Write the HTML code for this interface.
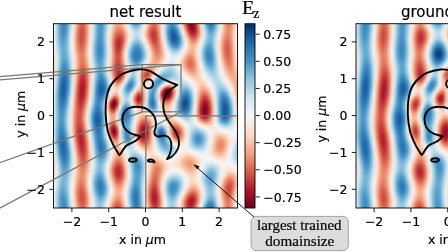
<!DOCTYPE html>
<html><head><meta charset="utf-8">
<style>
html,body{margin:0;padding:0;background:#fff;}
body{width:448px;height:252px;position:relative;overflow:hidden;}
.fld{position:absolute;overflow:hidden;top:23.7px;height:184.3px;}
.fld div{position:absolute;left:0;right:0;height:1px;}
.fl{left:53.5px;width:184px;}
.fr{left:356px;width:92px;}
.cb{position:absolute;left:245px;width:10px;top:23.7px;height:184.3px;
background:linear-gradient(180deg,#053061 0%,#2065ab 10%,#4393c3 20%,#90c4dd 30%,#d1e5f0 40%,#f6f7f7 50%,#fddbc7 60%,#f3a481 70%,#d6604d 80%,#b1182b 90%,#67001f 100%);}
svg{position:absolute;left:0;top:0;}
text{font-family:"DejaVu Sans","Liberation Sans",sans-serif;fill:#000;stroke:#000;stroke-width:0.18px;}
.tk{font-size:12.5px;}
.serif{font-family:"Liberation Serif","DejaVu Serif",serif;}
</style></head><body>
<div class="fld fl"><div style="top:0px;background:linear-gradient(90deg,#f8f2ef 0px,#b6d7e8 3px,#5ca3cb 6px,#3a87bd 9px,#408fc1 12px,#8ac0db 15px,#deebf2 18px,#fddcc9 21px,#ec9374 24px,#d7634f 27px,#da6853 30px,#f2a17f 33px,#fbe4d6 36px,#d7e8f1 39px,#87beda 42px,#4997c5 45px,#4997c5 48px,#81bad8 51px,#d1e5f0 54px,#f9eee7 57px,#f9c4a9 60px,#f3a481 63px,#f4a683 66px,#f9c6ac 69px,#f9efe9 72px,#cfe4ef 75px,#84bcd9 78px,#529dc8 81px,#5ca3cb 84px,#9bc9e0 87px,#e1edf3 90px,#fcdecd 93px,#f19e7d 96px,#dd7059 99px,#e17860 102px,#f6af8e 105px,#fae9df 108px,#cce2ef 111px,#75b2d4 114px,#408fc1 117px,#4695c4 120px,#90c4dd 123px,#e6eff4 126px,#f9c2a7 129px,#cf5246 132px,#960f27 135px,#810823 138px,#b3192c 141px,#e58368 144px,#fae8de 147px,#b6d7e8 150px,#4997c5 153px,#2e77b5 156px,#3480b9 159px,#75b2d4 162px,#d7e8f1 165px,#fce2d2 168px,#f3a481 171px,#e27b62 174px,#e6866a 177px,#f8bb9e 180px,#f9efe9 183px,#cfe4ef 186px)"></div><div style="top:1px;background:linear-gradient(90deg,#f8f3f0 0px,#b3d6e8 3px,#59a1ca 6px,#3885bc 9px,#408fc1 12px,#8ac0db 15px,#e0ecf3 18px,#fddbc7 21px,#eb9172 24px,#d6604d 27px,#d86551 30px,#f19e7d 33px,#fbe3d4 36px,#d7e8f1 39px,#87beda 42px,#4997c5 45px,#4997c5 48px,#81bad8 51px,#d2e6f0 54px,#f9ebe3 57px,#f8bfa4 60px,#f19e7d 63px,#f19e7d 66px,#f8bda1 69px,#fae9df 72px,#d8e9f1 75px,#96c7df 78px,#65a9cf 81px,#6eaed2 84px,#a7d0e4 87px,#e9f0f4 90px,#fdd9c4 93px,#ec9374 96px,#da6853 99px,#de735c 102px,#f5ac8b 105px,#fae9df 108px,#cae1ee 111px,#6eaed2 114px,#3c8abe 117px,#3f8ec0 120px,#81bad8 123px,#e0ecf3 126px,#facab1 129px,#d35a4a 132px,#991027 135px,#7f0823 138px,#ae172a 141px,#e27b62 144px,#fbe4d6 147px,#c0dceb 150px,#529dc8 153px,#327cb7 156px,#3885bc 159px,#7bb6d6 162px,#d8e9f1 165px,#fce2d2 168px,#f4a683 171px,#e37e64 174px,#e98b6e 177px,#f8bda1 180px,#f9f0eb 183px,#cce2ef 186px)"></div><div style="top:2px;background:linear-gradient(90deg,#f8f4f2 0px,#b1d5e7 3px,#59a1ca 6px,#3885bc 9px,#408fc1 12px,#8dc2dc 15px,#e1edf3 18px,#fdd9c4 21px,#e98b6e 24px,#d35a4a 27px,#d7634f 30px,#f09c7b 33px,#fbe3d4 36px,#d8e9f1 39px,#87beda 42px,#4997c5 45px,#4997c5 48px,#84bcd9 51px,#d4e6f1 54px,#faeae1 57px,#f8bb9e 60px,#ef9979 63px,#ee9677 66px,#f7b596 69px,#fbe4d6 72px,#e1edf3 75px,#a5cee3 78px,#78b4d5 81px,#81bad8 84px,#b3d6e8 87px,#f0f4f6 90px,#fbceb7 93px,#e98b6e 96px,#d6604d 99px,#db6b55 102px,#f5aa89 105px,#fae9df 108px,#c7e0ed 111px,#68abd0 114px,#3885bc 117px,#3a87bd 120px,#75b2d4 123px,#d8e9f1 126px,#fcd3bc 129px,#d7634f 132px,#9f1228 135px,#7f0823 138px,#ab162a 141px,#de735c 144px,#fce0d0 147px,#cae1ee 150px,#5fa5cd 153px,#3783bb 156px,#3c8abe 159px,#81bad8 162px,#dae9f2 165px,#fce2d2 168px,#f4a683 171px,#e48066 174px,#ea8e70 177px,#f9c2a7 180px,#f8f1ed 183px,#cae1ee 186px)"></div><div style="top:3px;background:linear-gradient(90deg,#f7f5f4 0px,#b1d5e7 3px,#569fc9 6px,#3885bc 9px,#4291c2 12px,#90c4dd 15px,#e3edf3 18px,#fcd7c2 21px,#e8896c 24px,#d25849 27px,#d6604d 30px,#f09c7b 33px,#fce2d2 36px,#d8e9f1 39px,#87beda 42px,#4997c5 45px,#4997c5 48px,#87beda 51px,#d5e7f1 54px,#fae8de 57px,#f7b799 60px,#ec9374 63px,#eb9172 66px,#f6af8e 69px,#fcdecd 72px,#e9f0f4 75px,#b3d6e8 78px,#8ac0db 81px,#90c4dd 84px,#c2ddec 87px,#f6f7f7 90px,#f9c6ac 93px,#e48066 96px,#d25849 99px,#d86551 102px,#f4a683 105px,#fae9df 108px,#c5dfec 111px,#62a7ce 114px,#337eb8 117px,#3480b9 120px,#65a9cf 123px,#d2e6f0 126px,#fddcc9 129px,#db6b55 132px,#a51429 135px,#810823 138px,#a81529 141px,#dc6e57 144px,#fdddcb 147px,#d1e5f0 150px,#6bacd1 153px,#3b88be 156px,#408fc1 159px,#87beda 162px,#dbeaf2 165px,#fce0d0 168px,#f5a886 171px,#e58368 174px,#eb9172 177px,#f9c4a9 180px,#f8f3f0 183px,#c7e0ed 186px)"></div><div style="top:4px;background:linear-gradient(90deg,#f7f6f6 0px,#aed3e6 3px,#569fc9 6px,#3885bc 9px,#4291c2 12px,#90c4dd 15px,#e4eef4 18px,#fcd3bc 21px,#e6866a 24px,#d05548 27px,#d55d4c 30px,#ef9979 33px,#fce2d2 36px,#d8e9f1 39px,#87beda 42px,#4997c5 45px,#4c99c6 48px,#87beda 51px,#d8e9f1 54px,#fbe6da 57px,#f6b394 60px,#ea8e70 63px,#e8896c 66px,#f4a683 69px,#fdd9c4 72px,#f0f4f6 75px,#c0dceb 78px,#98c8e0 81px,#9dcbe1 84px,#cce2ef 87px,#f8f2ef 90px,#f8bfa4 93px,#e17860 96px,#cf5246 99px,#d6604d 102px,#f3a481 105px,#fae9df 108px,#c5dfec 111px,#5ca3cb 114px,#307ab6 117px,#2e77b5 120px,#569fc9 123px,#c5dfec 126px,#fce2d2 129px,#e17860 132px,#ae172a 135px,#870a24 138px,#a81529 141px,#db6b55 144px,#fdd9c4 147px,#d7e8f1 150px,#75b2d4 153px,#3f8ec0 156px,#4695c4 159px,#8dc2dc 162px,#deebf2 165px,#fcdfcf 168px,#f5a886 171px,#e6866a 174px,#ec9374 177px,#fac8af 180px,#f8f4f2 183px,#c5dfec 186px)"></div><div style="top:5px;background:linear-gradient(90deg,#f6f7f7 0px,#aed3e6 3px,#569fc9 6px,#3a87bd 9px,#4393c3 12px,#93c6de 15px,#e6eff4 18px,#fbd0b9 21px,#e58368 24px,#cf5246 27px,#d35a4a 30px,#ef9979 33px,#fce2d2 36px,#d8e9f1 39px,#87beda 42px,#4997c5 45px,#4c99c6 48px,#8ac0db 51px,#dae9f2 54px,#fbe4d6 57px,#f6af8e 60px,#e6866a 63px,#e48066 66px,#f09c7b 69px,#fbceb7 72px,#f7f6f6 75px,#cce2ef 78px,#a5cee3 81px,#a9d1e5 84px,#d4e6f1 87px,#f9efe9 90px,#f7b799 93px,#dd7059 96px,#cb4942 99px,#d35a4a 102px,#f19e7d 105px,#fae8de 108px,#c2ddec 111px,#569fc9 114px,#2c75b4 117px,#2a71b2 120px,#4695c4 123px,#b8d8e9 126px,#fae7dc 129px,#e58368 132px,#b61f2e 135px,#8d0c25 138px,#a81529 141px,#da6853 144px,#fcd5bf 147px,#dae9f2 150px,#81bad8 153px,#4695c4 156px,#4f9bc7 159px,#96c7df 162px,#e1edf3 165px,#fcdecd 168px,#f4a683 171px,#e6866a 174px,#ee9677 177px,#facab1 180px,#f7f5f4 183px,#c2ddec 186px)"></div><div style="top:6px;background:linear-gradient(90deg,#f6f7f7 0px,#acd2e5 3px,#569fc9 6px,#3a87bd 9px,#4695c4 12px,#98c8e0 15px,#e9f0f4 18px,#fbceb7 21px,#e37e64 24px,#ce4f45 27px,#d35a4a 30px,#ee9677 33px,#fce2d2 36px,#d8e9f1 39px,#84bcd9 42px,#4997c5 45px,#4c99c6 48px,#8dc2dc 51px,#dbeaf2 54px,#fce2d2 57px,#f5aa89 60px,#e48066 63px,#e17860 66px,#eb9172 69px,#f9c6ac 72px,#f8f2ef 75px,#d4e6f1 78px,#aed3e6 81px,#b1d5e7 84px,#dae9f2 87px,#f9ebe3 90px,#f6b191 93px,#da6853 96px,#c84440 99px,#d05548 102px,#f09c7b 105px,#fae7dc 108px,#c2ddec 111px,#529dc8 114px,#2870b1 117px,#246aae 120px,#3f8ec0 123px,#acd2e5 126px,#f9eee7 129px,#eb9172 132px,#bb2a34 135px,#960f27 138px,#ab162a 141px,#d86551 144px,#fcd3bc 147px,#deebf2 150px,#87beda 153px,#4f9bc7 156px,#59a1ca 159px,#9dcbe1 162px,#e4eef4 165px,#fdddcb 168px,#f3a481 171px,#e6866a 174px,#ef9979 177px,#fbccb4 180px,#f7f6f6 183px,#c0dceb 186px)"></div><div style="top:7px;background:linear-gradient(90deg,#f5f6f7 0px,#acd2e5 3px,#569fc9 6px,#3b88be 9px,#4997c5 12px,#9bc9e0 15px,#eaf1f5 18px,#fbccb4 21px,#e27b62 24px,#cc4c44 27px,#d25849 30px,#ee9677 33px,#fce2d2 36px,#d7e8f1 39px,#84bcd9 42px,#4997c5 45px,#4f9bc7 48px,#90c4dd 51px,#deebf2 54px,#fcdfcf 57px,#f3a481 60px,#e17860 63px,#dd7059 66px,#e8896c 69px,#f8bda1 72px,#f9eee7 75px,#dae9f2 78px,#b6d7e8 81px,#b8d8e9 84px,#ddebf2 87px,#fae8de 90px,#f5ac8b 93px,#d7634f 96px,#c53e3d 99px,#ce4f45 102px,#ef9979 105px,#fbe6da 108px,#c5dfec 111px,#4f9bc7 114px,#266caf 117px,#2065ab 120px,#3885bc 123px,#9dcbe1 126px,#f8f3f0 129px,#f2a17f 132px,#c2383a 135px,#9f1228 138px,#b1182b 141px,#da6853 144px,#fbd0b9 147px,#e0ecf3 150px,#90c4dd 153px,#569fc9 156px,#62a7ce 159px,#a2cde3 162px,#e7f0f4 165px,#fddbc7 168px,#f3a481 171px,#e6866a 174px,#ef9979 177px,#fbceb7 180px,#f6f7f7 183px,#bddbea 186px)"></div><div style="top:8px;background:linear-gradient(90deg,#f5f6f7 0px,#acd2e5 3px,#59a1ca 6px,#3b88be 9px,#4c99c6 12px,#9dcbe1 15px,#ecf2f5 18px,#fac8af 21px,#e17860 24px,#cc4c44 27px,#d25849 30px,#ee9677 33px,#fce2d2 36px,#d7e8f1 39px,#84bcd9 42px,#4997c5 45px,#4f9bc7 48px,#93c6de 51px,#e0ecf3 54px,#fdddcb 57px,#f19e7d 60px,#dd7059 63px,#da6853 66px,#e48066 69px,#f7b799 72px,#faeae1 75px,#ddebf2 78px,#bddbea 81px,#bddbea 84px,#e0ecf3 87px,#fae7dc 90px,#f5aa89 93px,#d6604d 96px,#c2383a 99px,#cc4c44 102px,#ec9374 105px,#fbe5d8 108px,#c5dfec 111px,#4f9bc7 114px,#246aae 117px,#1d5fa2 120px,#337eb8 123px,#90c4dd 126px,#f3f5f6 129px,#f6af8e 132px,#c94741 135px,#ab162a 138px,#b61f2e 141px,#db6b55 144px,#fbd0b9 147px,#e3edf3 150px,#96c7df 153px,#5fa5cd 156px,#68abd0 159px,#a9d1e5 162px,#ecf2f5 165px,#fcd7c2 168px,#f19e7d 171px,#e58368 174px,#f09c7b 177px,#fbceb7 180px,#f5f6f7 183px,#bbdaea 186px)"></div><div style="top:9px;background:linear-gradient(90deg,#f3f5f6 0px,#acd2e5 3px,#59a1ca 6px,#3c8abe 9px,#4f9bc7 12px,#a0cce2 15px,#edf2f5 18px,#f9c6ac 21px,#df765e 24px,#cb4942 27px,#d05548 30px,#ee9677 33px,#fce2d2 36px,#d7e8f1 39px,#84bcd9 42px,#4997c5 45px,#4f9bc7 48px,#93c6de 51px,#e1edf3 54px,#fddcc9 57px,#ef9979 60px,#da6853 63px,#d55d4c 66px,#e17860 69px,#f6b394 72px,#fae8de 75px,#e0ecf3 78px,#c0dceb 81px,#c0dceb 84px,#e1edf3 87px,#fbe6da 90px,#f5a886 93px,#d55d4c 96px,#c13639 99px,#cb4942 102px,#eb9172 105px,#fbe4d6 108px,#c7e0ed 111px,#4f9bc7 114px,#2267ac 117px,#1a5899 120px,#2e77b5 123px,#81bad8 126px,#eaf1f5 129px,#f7b99c 132px,#d05548 135px,#b41c2d 138px,#ba2832 141px,#dd7059 144px,#fbd0b9 147px,#e3edf3 150px,#98c8e0 153px,#65a9cf 156px,#71b0d3 159px,#b1d5e7 162px,#eff3f5 165px,#fcd3bc 168px,#f09c7b 171px,#e58368 174px,#f09c7b 177px,#fbd0b9 180px,#f3f5f6 183px,#bbdaea 186px)"></div><div style="top:10px;background:linear-gradient(90deg,#f3f5f6 0px,#acd2e5 3px,#5ca3cb 6px,#3e8cbf 9px,#529dc8 12px,#a2cde3 15px,#eff3f5 18px,#f9c4a9 21px,#df765e 24px,#cb4942 27px,#d05548 30px,#ef9979 33px,#fbe3d4 36px,#d5e7f1 39px,#81bad8 42px,#4997c5 45px,#4f9bc7 48px,#96c7df 51px,#e3edf3 54px,#fdd9c4 57px,#eb9172 60px,#d6604d 63px,#d05548 66px,#dd7059 69px,#f6af8e 72px,#fae7dc 75px,#e1edf3 78px,#c2ddec 81px,#c2ddec 84px,#e1edf3 87px,#fae7dc 90px,#f5a886 93px,#d55d4c 96px,#c13639 99px,#c84440 102px,#e98b6e 105px,#fbe3d4 108px,#cae1ee 111px,#4f9bc7 114px,#2267ac 117px,#185493 120px,#2a71b2 123px,#75b2d4 126px,#e3edf3 129px,#f9c6ac 132px,#d7634f 135px,#bb2a34 138px,#bf3338 141px,#df765e 144px,#fcd5bf 147px,#e3edf3 150px,#9bc9e0 153px,#6bacd1 156px,#78b4d5 159px,#b6d7e8 162px,#f3f5f6 165px,#fbceb7 168px,#ef9979 171px,#e48066 174px,#ef9979 177px,#fbd0b9 180px,#f3f5f6 183px,#b8d8e9 186px)"></div><div style="top:11px;background:linear-gradient(90deg,#f3f5f6 0px,#acd2e5 3px,#5ca3cb 6px,#3f8ec0 9px,#569fc9 12px,#a5cee3 15px,#f2f5f6 18px,#f9c4a9 21px,#de735c 24px,#c94741 27px,#d05548 30px,#ef9979 33px,#fbe3d4 36px,#d4e6f1 39px,#7eb8d7 42px,#4695c4 45px,#4f9bc7 48px,#96c7df 51px,#e4eef4 54px,#fcd5bf 57px,#e98b6e 60px,#d25849 63px,#cc4c44 66px,#db6b55 69px,#f5aa89 72px,#fbe6da 75px,#e1edf3 78px,#c0dceb 81px,#c0dceb 84px,#e0ecf3 87px,#fae8de 90px,#f5aa89 93px,#d55d4c 96px,#bf3338 99px,#c84440 102px,#e8896c 105px,#fce0d0 108px,#cce2ef 111px,#529dc8 114px,#2267ac 117px,#175290 120px,#266caf 123px,#68abd0 126px,#dbeaf2 129px,#fbd0b9 132px,#de735c 135px,#c2383a 138px,#c53e3d 141px,#e37e64 144px,#fcd7c2 147px,#e1edf3 150px,#9dcbe1 153px,#6eaed2 156px,#7eb8d7 159px,#bbdaea 162px,#f6f7f7 165px,#facab1 168px,#ec9374 171px,#e37e64 174px,#ef9979 177px,#fbd0b9 180px,#f2f5f6 183px,#b6d7e8 186px)"></div><div style="top:12px;background:linear-gradient(90deg,#f3f5f6 0px,#aed3e6 3px,#5fa5cd 6px,#408fc1 9px,#59a1ca 12px,#a9d1e5 15px,#f2f5f6 18px,#f9c2a7 21px,#de735c 24px,#c94741 27px,#d25849 30px,#ef9979 33px,#fbe4d6 36px,#d4e6f1 39px,#7eb8d7 42px,#4695c4 45px,#4f9bc7 48px,#96c7df 51px,#e6eff4 54px,#fcd3bc 57px,#e6866a 60px,#ce4f45 63px,#c84440 66px,#d86551 69px,#f5aa89 72px,#fbe6da 75px,#e0ecf3 78px,#bddbea 81px,#bbdaea 84px,#ddebf2 87px,#faeae1 90px,#f6af8e 93px,#d6604d 96px,#c13639 99px,#c6413e 102px,#e6866a 105px,#fcdecd 108px,#d1e5f0 111px,#569fc9 114px,#2267ac 117px,#15508d 120px,#2369ad 123px,#5ca3cb 126px,#d4e6f1 129px,#fddcc9 132px,#e48066 135px,#c94741 138px,#cb4942 141px,#e8896c 144px,#fddcc9 147px,#e0ecf3 150px,#9bc9e0 153px,#71b0d3 156px,#84bcd9 159px,#c2ddec 162px,#f8f4f2 165px,#f9c6ac 168px,#ea8e70 171px,#e27b62 174px,#ef9979 177px,#fcd3bc 180px,#f2f5f6 183px,#b6d7e8 186px)"></div><div style="top:13px;background:linear-gradient(90deg,#f3f5f6 0px,#aed3e6 3px,#62a7ce 6px,#4291c2 9px,#5ca3cb 12px,#acd2e5 15px,#f3f5f6 18px,#f8bfa4 21px,#dd7059 24px,#cb4942 27px,#d25849 30px,#f09c7b 33px,#fbe5d8 36px,#d2e6f0 39px,#7bb6d6 42px,#4393c3 45px,#4f9bc7 48px,#96c7df 51px,#e6eff4 54px,#fbd0b9 57px,#e48066 60px,#c94741 63px,#c43b3c 66px,#d6604d 69px,#f5aa89 72px,#fae8de 75px,#ddebf2 78px,#b8d8e9 81px,#b3d6e8 84px,#d8e9f1 87px,#f9eee7 90px,#f7b596 93px,#d86551 96px,#c2383a 99px,#c6413e 102px,#e58368 105px,#fdddcb 108px,#d4e6f1 111px,#5ca3cb 114px,#2369ad 117px,#15508d 120px,#2267ac 123px,#569fc9 126px,#cce2ef 129px,#fce2d2 132px,#eb9172 135px,#d05548 138px,#d25849 141px,#ec9374 144px,#fcdfcf 147px,#ddebf2 150px,#9bc9e0 153px,#71b0d3 156px,#87beda 159px,#c7e0ed 162px,#f8f2ef 165px,#f9c2a7 168px,#e8896c 171px,#e17860 174px,#ee9677 177px,#fbd0b9 180px,#f0f4f6 183px,#b3d6e8 186px)"></div><div style="top:14px;background:linear-gradient(90deg,#f3f5f6 0px,#b1d5e7 3px,#65a9cf 6px,#4393c3 9px,#5fa5cd 12px,#aed3e6 15px,#f5f6f7 18px,#f8bfa4 21px,#dd7059 24px,#cb4942 27px,#d35a4a 30px,#f19e7d 33px,#fbe6da 36px,#d1e5f0 39px,#78b4d5 42px,#4393c3 45px,#4c99c6 48px,#96c7df 51px,#e6eff4 54px,#fbceb7 57px,#e27b62 60px,#c6413e 63px,#c13639 66px,#d55d4c 69px,#f5aa89 72px,#faeae1 75px,#d8e9f1 78px,#b1d5e7 81px,#acd2e5 84px,#d2e6f0 87px,#f8f1ed 90px,#f8bb9e 93px,#dc6e57 96px,#c43b3c 99px,#c6413e 102px,#e48066 105px,#fddbc7 108px,#d7e8f1 111px,#65a9cf 114px,#266caf 117px,#175290 120px,#2065ab 123px,#4f9bc7 126px,#c5dfec 129px,#fbe6da 132px,#f19e7d 135px,#d86551 138px,#d86551 141px,#f19e7d 144px,#fbe3d4 147px,#dae9f2 150px,#98c8e0 153px,#71b0d3 156px,#8ac0db 159px,#cae1ee 162px,#f9f0eb 165px,#f8bda1 168px,#e6866a 171px,#de735c 174px,#ec9374 177px,#fbd0b9 180px,#f0f4f6 183px,#b3d6e8 186px)"></div><div style="top:15px;background:linear-gradient(90deg,#f5f6f7 0px,#b3d6e8 3px,#68abd0 6px,#4695c4 9px,#65a9cf 12px,#b1d5e7 15px,#f6f7f7 18px,#f8bfa4 21px,#de735c 24px,#cb4942 27px,#d55d4c 30px,#f2a17f 33px,#fae7dc 36px,#cfe4ef 39px,#75b2d4 42px,#4291c2 45px,#4c99c6 48px,#96c7df 51px,#e6eff4 54px,#fbceb7 57px,#df765e 60px,#c2383a 63px,#be3036 66px,#d35a4a 69px,#f6af8e 72px,#f9eee7 75px,#d4e6f1 78px,#a7d0e4 81px,#a2cde3 84px,#cae1ee 87px,#f7f6f6 90px,#f9c4a9 93px,#df765e 96px,#c6413e 99px,#c84440 102px,#e37e64 105px,#fcd7c2 108px,#dbeaf2 111px,#6bacd1 114px,#2a71b2 117px,#195696 120px,#2267ac 123px,#4997c5 126px,#c0dceb 129px,#faeae1 132px,#f5aa89 135px,#de735c 138px,#de735c 141px,#f5aa89 144px,#fae7dc 147px,#d7e8f1 150px,#93c6de 153px,#71b0d3 156px,#8dc2dc 159px,#cfe4ef 162px,#f9eee7 165px,#f7b99c 168px,#e48066 171px,#dd7059 174px,#ec9374 177px,#fbd0b9 180px,#f0f4f6 183px,#b3d6e8 186px)"></div><div style="top:16px;background:linear-gradient(90deg,#f5f6f7 0px,#b6d7e8 3px,#6bacd1 6px,#4c99c6 9px,#68abd0 12px,#b1d5e7 15px,#f6f7f7 18px,#f8bda1 21px,#de735c 24px,#cc4c44 27px,#d6604d 30px,#f3a481 33px,#fae8de 36px,#cce2ef 39px,#71b0d3 42px,#408fc1 45px,#4997c5 48px,#93c6de 51px,#e6eff4 54px,#fbccb4 57px,#de735c 60px,#bf3338 63px,#bb2a34 66px,#d35a4a 69px,#f6b394 72px,#f8f1ed 75px,#cce2ef 78px,#9dcbe1 81px,#98c8e0 84px,#bddbea 87px,#f0f4f6 90px,#fbccb4 93px,#e37e64 96px,#c94741 99px,#c84440 102px,#e27b62 105px,#fcd3bc 108px,#e0ecf3 111px,#78b4d5 114px,#2e77b5 117px,#1b5a9c 120px,#2369ad 123px,#4997c5 126px,#bbdaea 129px,#f9eee7 132px,#f6b394 135px,#e37e64 138px,#e48066 141px,#f6b394 144px,#f9ebe3 147px,#d1e5f0 150px,#8dc2dc 153px,#6eaed2 156px,#8dc2dc 159px,#d1e5f0 162px,#f9ede5 165px,#f7b596 168px,#e27b62 171px,#dc6e57 174px,#eb9172 177px,#fbd0b9 180px,#f0f4f6 183px,#b1d5e7 186px)"></div><div style="top:17px;background:linear-gradient(90deg,#f6f7f7 0px,#b8d8e9 3px,#6eaed2 6px,#4f9bc7 9px,#6bacd1 12px,#b3d6e8 15px,#f6f7f7 18px,#f8bfa4 21px,#de735c 24px,#ce4f45 27px,#d7634f 30px,#f4a683 33px,#faeae1 36px,#c7e0ed 39px,#6eaed2 42px,#3f8ec0 45px,#4695c4 48px,#93c6de 51px,#e6eff4 54px,#fbccb4 57px,#dd7059 60px,#be3036 63px,#ba2832 66px,#d55d4c 69px,#f7b799 72px,#f7f5f4 75px,#c2ddec 78px,#90c4dd 81px,#8ac0db 84px,#b1d5e7 87px,#e9f0f4 90px,#fcd7c2 93px,#e8896c 96px,#cc4c44 99px,#c94741 102px,#e27b62 105px,#fbceb7 108px,#e4eef4 111px,#84bcd9 114px,#337eb8 117px,#1e61a5 120px,#266caf 123px,#4c99c6 126px,#b8d8e9 129px,#f8f1ed 132px,#f7b99c 135px,#e98b6e 138px,#ea8e70 141px,#f8bda1 144px,#f9f0eb 147px,#cae1ee 150px,#87beda 153px,#6bacd1 156px,#8dc2dc 159px,#d2e6f0 162px,#faeae1 165px,#f6b191 168px,#e17860 171px,#db6b55 174px,#ea8e70 177px,#fbceb7 180px,#f0f4f6 183px,#b1d5e7 186px)"></div><div style="top:18px;background:linear-gradient(90deg,#f7f6f6 0px,#bbdaea 3px,#71b0d3 6px,#529dc8 9px,#6bacd1 12px,#b3d6e8 15px,#f7f6f6 18px,#f8bfa4 21px,#df765e 24px,#cf5246 27px,#d86551 30px,#f5aa89 33px,#f9ebe3 36px,#c5dfec 39px,#6bacd1 42px,#3e8cbf 45px,#4695c4 48px,#90c4dd 51px,#e4eef4 54px,#fbccb4 57px,#dc6e57 60px,#bb2a34 63px,#b82531 66px,#d6604d 69px,#f8bfa4 72px,#f3f5f6 75px,#b6d7e8 78px,#84bcd9 81px,#7eb8d7 84px,#a5cee3 87px,#e1edf3 90px,#fcdecd 93px,#ec9374 96px,#d05548 99px,#cb4942 102px,#e17860 105px,#facab1 108px,#e9f0f4 111px,#90c4dd 114px,#3885bc 117px,#2369ad 120px,#2a71b2 123px,#4f9bc7 126px,#b8d8e9 129px,#f8f2ef 132px,#f8bfa4 135px,#ee9677 138px,#ef9979 141px,#f9c6ac 144px,#f8f4f2 147px,#c2ddec 150px,#7eb8d7 153px,#65a9cf 156px,#8ac0db 159px,#d2e6f0 162px,#fae9df 165px,#f6af8e 168px,#de735c 171px,#d86551 174px,#e98b6e 177px,#fbceb7 180px,#f0f4f6 183px,#b1d5e7 186px)"></div><div style="top:19px;background:linear-gradient(90deg,#f7f5f4 0px,#bddbea 3px,#75b2d4 6px,#569fc9 9px,#6eaed2 12px,#b6d7e8 15px,#f7f6f6 18px,#f8bfa4 21px,#e17860 24px,#d05548 27px,#da6853 30px,#f5ac8b 33px,#f9ede5 36px,#c2ddec 39px,#68abd0 42px,#3e8cbf 45px,#4393c3 48px,#90c4dd 51px,#e4eef4 54px,#fbceb7 57px,#dc6e57 60px,#bb2a34 63px,#b82531 66px,#d86551 69px,#f9c6ac 72px,#ecf2f5 75px,#a9d1e5 78px,#75b2d4 81px,#6eaed2 84px,#98c8e0 87px,#d8e9f1 90px,#fbe5d8 93px,#f2a17f 96px,#d55d4c 99px,#ce4f45 102px,#e17860 105px,#f9c6ac 108px,#eff3f5 111px,#9bc9e0 114px,#3f8ec0 117px,#2a71b2 120px,#2f79b5 123px,#59a1ca 126px,#b8d8e9 129px,#f8f3f0 132px,#f9c6ac 135px,#f19e7d 138px,#f3a481 141px,#fbd0b9 144px,#f5f6f7 147px,#b8d8e9 150px,#78b4d5 153px,#62a7ce 156px,#8ac0db 159px,#d2e6f0 162px,#fae9df 165px,#f5ac8b 168px,#dd7059 171px,#d7634f 174px,#e8896c 177px,#fbccb4 180px,#f2f5f6 183px,#b1d5e7 186px)"></div><div style="top:20px;background:linear-gradient(90deg,#f8f4f2 0px,#c0dceb 3px,#7bb6d6 6px,#59a1ca 9px,#71b0d3 12px,#b6d7e8 15px,#f6f7f7 18px,#f9c2a7 21px,#e27b62 24px,#d25849 27px,#db6b55 30px,#f6af8e 33px,#f9eee7 36px,#c0dceb 39px,#65a9cf 42px,#3c8abe 45px,#4291c2 48px,#8dc2dc 51px,#e3edf3 54px,#fbceb7 57px,#dc6e57 60px,#bb2a34 63px,#ba2832 66px,#db6b55 69px,#fbceb7 72px,#e4eef4 75px,#9dcbe1 78px,#68abd0 81px,#5fa5cd 84px,#8ac0db 87px,#cfe4ef 90px,#faeae1 93px,#f5aa89 96px,#da6853 99px,#cf5246 102px,#df765e 105px,#f9c2a7 108px,#f3f5f6 111px,#a7d0e4 114px,#4997c5 117px,#307ab6 120px,#3480b9 123px,#62a7ce 126px,#bddbea 129px,#f8f3f0 132px,#facab1 135px,#f4a683 138px,#f5ac8b 141px,#fdd9c4 144px,#eff3f5 147px,#aed3e6 150px,#6eaed2 153px,#5ca3cb 156px,#87beda 159px,#d2e6f0 162px,#fae8de 165px,#f5aa89 168px,#dc6e57 171px,#d6604d 174px,#e6866a 177px,#facab1 180px,#f2f5f6 183px,#b1d5e7 186px)"></div><div style="top:21px;background:linear-gradient(90deg,#f8f3f0 0px,#c2ddec 3px,#7eb8d7 6px,#5ca3cb 9px,#71b0d3 12px,#b6d7e8 15px,#f6f7f7 18px,#f9c4a9 21px,#e37e64 24px,#d35a4a 27px,#dd7059 30px,#f6b394 33px,#f9f0eb 36px,#bddbea 39px,#62a7ce 42px,#3b88be 45px,#4291c2 48px,#8ac0db 51px,#e1edf3 54px,#fbd0b9 57px,#dd7059 60px,#bb2a34 63px,#bb2a34 66px,#dd7059 69px,#fcd7c2 72px,#deebf2 75px,#93c6de 78px,#59a1ca 81px,#529dc8 84px,#7bb6d6 87px,#c2ddec 90px,#f8f1ed 93px,#f7b596 96px,#dd7059 99px,#d25849 102px,#df765e 105px,#f8bda1 108px,#f7f5f4 111px,#b3d6e8 114px,#5ca3cb 117px,#3885bc 120px,#3b88be 123px,#6eaed2 126px,#c2ddec 129px,#f8f2ef 132px,#facab1 135px,#f5ac8b 138px,#f7b596 141px,#fcdecd 144px,#e9f0f4 147px,#a7d0e4 150px,#65a9cf 153px,#529dc8 156px,#81bad8 159px,#d2e6f0 162px,#fae8de 165px,#f5a886 168px,#db6b55 171px,#d55d4c 174px,#e58368 177px,#facab1 180px,#f3f5f6 183px,#b3d6e8 186px)"></div><div style="top:22px;background:linear-gradient(90deg,#f8f2ef 0px,#c5dfec 3px,#81bad8 6px,#5ca3cb 9px,#75b2d4 12px,#b6d7e8 15px,#f5f6f7 18px,#f9c6ac 21px,#e48066 24px,#d55d4c 27px,#de735c 30px,#f7b596 33px,#f8f1ed 36px,#bbdaea 39px,#5fa5cd 42px,#3a87bd 45px,#408fc1 48px,#8ac0db 51px,#e1edf3 54px,#fcd3bc 57px,#dd7059 60px,#bd2d35 63px,#bd2d35 66px,#e17860 69px,#fdddcb 72px,#d7e8f1 75px,#84bcd9 78px,#4f9bc7 81px,#4695c4 84px,#6bacd1 87px,#b6d7e8 90px,#f7f6f6 93px,#f8bfa4 96px,#e17860 99px,#d55d4c 102px,#df765e 105px,#f7b99c 108px,#f8f1ed 111px,#c0dceb 114px,#6bacd1 117px,#408fc1 120px,#4393c3 123px,#7bb6d6 126px,#cce2ef 129px,#f8f1ed 132px,#fbccb4 135px,#f6af8e 138px,#f7b99c 141px,#fbe3d4 144px,#e3edf3 147px,#9dcbe1 150px,#5ca3cb 153px,#4c99c6 156px,#7eb8d7 159px,#d1e5f0 162px,#fae8de 165px,#f5a886 168px,#db6b55 171px,#d55d4c 174px,#e58368 177px,#fac8af 180px,#f3f5f6 183px,#b3d6e8 186px)"></div><div style="top:23px;background:linear-gradient(90deg,#f8f1ed 0px,#cae1ee 3px,#84bcd9 6px,#5fa5cd 9px,#75b2d4 12px,#b6d7e8 15px,#f5f6f7 18px,#fac8af 21px,#e58368 24px,#d7634f 27px,#df765e 30px,#f7b799 33px,#f8f2ef 36px,#b8d8e9 39px,#5fa5cd 42px,#3a87bd 45px,#408fc1 48px,#87beda 51px,#e0ecf3 54px,#fcd3bc 57px,#de735c 60px,#be3036 63px,#bf3338 66px,#e48066 69px,#fce2d2 72px,#d1e5f0 75px,#78b4d5 78px,#4393c3 81px,#408fc1 84px,#5fa5cd 87px,#a9d1e5 90px,#f0f4f6 93px,#fac8af 96px,#e48066 99px,#d6604d 102px,#df765e 105px,#f7b596 108px,#f9eee7 111px,#cce2ef 114px,#7eb8d7 117px,#4f9bc7 120px,#569fc9 123px,#8dc2dc 126px,#d4e6f1 129px,#f9efe9 132px,#facab1 135px,#f6b191 138px,#f8bfa4 141px,#fbe6da 144px,#ddebf2 147px,#96c7df 150px,#529dc8 153px,#4695c4 156px,#78b4d5 159px,#cfe4ef 162px,#fae8de 165px,#f5a886 168px,#da6853 171px,#d35a4a 174px,#e48066 177px,#f9c6ac 180px,#f5f6f7 183px,#b3d6e8 186px)"></div><div style="top:24px;background:linear-gradient(90deg,#f9f0eb 0px,#cce2ef 3px,#87beda 6px,#62a7ce 9px,#75b2d4 12px,#b3d6e8 15px,#f3f5f6 18px,#facab1 21px,#e6866a 24px,#d86551 27px,#e27b62 30px,#f7b99c 33px,#f8f3f0 36px,#b6d7e8 39px,#5ca3cb 42px,#3885bc 45px,#3f8ec0 48px,#87beda 51px,#deebf2 54px,#fcd5bf 57px,#df765e 60px,#bf3338 63px,#c2383a 66px,#e8896c 69px,#fbe6da 72px,#c7e0ed 75px,#6eaed2 78px,#3f8ec0 81px,#3c8abe 84px,#569fc9 87px,#a0cce2 90px,#eaf1f5 93px,#fbd0b9 96px,#e98b6e 99px,#d86551 102px,#df765e 105px,#f6b191 108px,#faeae1 111px,#d4e6f1 114px,#90c4dd 117px,#65a9cf 120px,#68abd0 123px,#9dcbe1 126px,#dae9f2 129px,#f9ebe3 132px,#fac8af 135px,#f6b394 138px,#f9c2a7 141px,#fae8de 144px,#dae9f2 147px,#8dc2dc 150px,#4997c5 153px,#4291c2 156px,#75b2d4 159px,#cce2ef 162px,#fae9df 165px,#f5a886 168px,#da6853 171px,#d25849 174px,#e37e64 177px,#f9c6ac 180px,#f5f6f7 183px,#b6d7e8 186px)"></div><div style="top:25px;background:linear-gradient(90deg,#f9eee7 0px,#cfe4ef 3px,#8ac0db 6px,#62a7ce 9px,#75b2d4 12px,#b3d6e8 15px,#f2f5f6 18px,#fbccb4 21px,#e98b6e 24px,#da6853 27px,#e37e64 30px,#f8bb9e 33px,#f8f3f0 36px,#b6d7e8 39px,#5ca3cb 42px,#3885bc 45px,#3f8ec0 48px,#84bcd9 51px,#deebf2 54px,#fcd7c2 57px,#e17860 60px,#c13639 63px,#c43b3c 66px,#eb9172 69px,#fae9df 72px,#bddbea 75px,#62a7ce 78px,#3b88be 81px,#3885bc 84px,#4c99c6 87px,#96c7df 90px,#e4eef4 93px,#fdd9c4 96px,#ec9374 99px,#db6b55 102px,#e17860 105px,#f6af8e 108px,#fae7dc 111px,#dbeaf2 114px,#a0cce2 117px,#78b4d5 120px,#7eb8d7 123px,#acd2e5 126px,#e1edf3 129px,#fae7dc 132px,#f9c4a9 135px,#f6b191 138px,#f9c4a9 141px,#faeae1 144px,#d5e7f1 147px,#84bcd9 150px,#4393c3 153px,#3f8ec0 156px,#6eaed2 159px,#cae1ee 162px,#faeae1 165px,#f5a886 168px,#da6853 171px,#d25849 174px,#e37e64 177px,#f9c4a9 180px,#f6f7f7 183px,#b6d7e8 186px)"></div><div style="top:26px;background:linear-gradient(90deg,#f9ede5 0px,#d1e5f0 3px,#8ac0db 6px,#62a7ce 9px,#75b2d4 12px,#b1d5e7 15px,#f0f4f6 18px,#fbceb7 21px,#ea8e70 24px,#dc6e57 27px,#e48066 30px,#f8bda1 33px,#f8f4f2 36px,#b3d6e8 39px,#5ca3cb 42px,#3885bc 45px,#3f8ec0 48px,#84bcd9 51px,#deebf2 54px,#fdd9c4 57px,#e27b62 60px,#c2383a 63px,#c6413e 66px,#ee9677 69px,#f9ede5 72px,#b6d7e8 75px,#5ca3cb 78px,#3885bc 81px,#3681ba 84px,#4393c3 87px,#8dc2dc 90px,#deebf2 93px,#fdddcb 96px,#ef9979 99px,#dd7059 102px,#e17860 105px,#f5ac8b 108px,#fbe4d6 111px,#e3edf3 114px,#aed3e6 117px,#8dc2dc 120px,#93c6de 123px,#bbdaea 126px,#eaf1f5 129px,#fbe3d4 132px,#f8bda1 135px,#f6af8e 138px,#f9c6ac 141px,#f9ebe3 144px,#d2e6f0 147px,#7eb8d7 150px,#3f8ec0 153px,#3c8abe 156px,#68abd0 159px,#c5dfec 162px,#f9ebe3 165px,#f5aa89 168px,#da6853 171px,#d25849 174px,#e27b62 177px,#f9c2a7 180px,#f7f6f6 183px,#b8d8e9 186px)"></div><div style="top:27px;background:linear-gradient(90deg,#f9ebe3 0px,#d2e6f0 3px,#8dc2dc 6px,#65a9cf 9px,#71b0d3 12px,#aed3e6 15px,#eff3f5 18px,#fcd3bc 21px,#eb9172 24px,#dd7059 27px,#e58368 30px,#f8bfa4 33px,#f8f4f2 36px,#b3d6e8 39px,#5ca3cb 42px,#3885bc 45px,#3f8ec0 48px,#84bcd9 51px,#ddebf2 54px,#fdd9c4 57px,#e37e64 60px,#c53e3d 63px,#c94741 66px,#f19e7d 69px,#f9f0eb 72px,#aed3e6 75px,#529dc8 78px,#3681ba 81px,#337eb8 84px,#408fc1 87px,#87beda 90px,#dae9f2 93px,#fce0d0 96px,#f2a17f 99px,#df765e 102px,#e27b62 105px,#f5aa89 108px,#fce0d0 111px,#e9f0f4 114px,#bbdaea 117px,#9dcbe1 120px,#a5cee3 123px,#cce2ef 126px,#f2f5f6 129px,#fcdecd 132px,#f7b99c 135px,#f5ac8b 138px,#f9c6ac 141px,#f9ede5 144px,#d1e5f0 147px,#78b4d5 150px,#3e8cbf 153px,#3a87bd 156px,#65a9cf 159px,#c2ddec 162px,#f9ede5 165px,#f5ac8b 168px,#db6b55 171px,#d25849 174px,#e27b62 177px,#f9c2a7 180px,#f7f5f4 183px,#b8d8e9 186px)"></div><div style="top:28px;background:linear-gradient(90deg,#fae9df 0px,#d5e7f1 3px,#90c4dd 6px,#65a9cf 9px,#71b0d3 12px,#acd2e5 15px,#edf2f5 18px,#fcd5bf 21px,#ee9677 24px,#de735c 27px,#e58368 30px,#f8bfa4 33px,#f8f4f2 36px,#b6d7e8 39px,#5ca3cb 42px,#3a87bd 45px,#3f8ec0 48px,#87beda 51px,#ddebf2 54px,#fdd9c4 57px,#e48066 60px,#c6413e 63px,#cc4c44 66px,#f3a481 69px,#f8f2ef 72px,#a9d1e5 75px,#4f9bc7 78px,#337eb8 81px,#307ab6 84px,#3e8cbf 87px,#81bad8 90px,#d7e8f1 93px,#fbe3d4 96px,#f4a683 99px,#e27b62 102px,#e37e64 105px,#f5aa89 108px,#fcdfcf 111px,#edf2f5 114px,#cae1ee 117px,#acd2e5 120px,#b3d6e8 123px,#d7e8f1 126px,#f8f4f2 129px,#fcd7c2 132px,#f6b191 135px,#f5a886 138px,#f9c4a9 141px,#f9eee7 144px,#cfe4ef 147px,#75b2d4 150px,#3b88be 153px,#3885bc 156px,#5fa5cd 159px,#bddbea 162px,#f9eee7 165px,#f6af8e 168px,#db6b55 171px,#d25849 174px,#e27b62 177px,#f8bfa4 180px,#f7f5f4 183px,#bbdaea 186px)"></div><div style="top:29px;background:linear-gradient(90deg,#fae8de 0px,#d7e8f1 3px,#90c4dd 6px,#65a9cf 9px,#6eaed2 12px,#a9d1e5 15px,#eaf1f5 18px,#fcd7c2 21px,#ef9979 24px,#df765e 27px,#e6866a 30px,#f8bfa4 33px,#f8f4f2 36px,#b6d7e8 39px,#5fa5cd 42px,#3a87bd 45px,#408fc1 48px,#87beda 51px,#deebf2 54px,#fddbc7 57px,#e48066 60px,#c84440 63px,#cf5246 66px,#f4a683 69px,#f8f4f2 72px,#a7d0e4 75px,#4997c5 78px,#327cb7 81px,#2f79b5 84px,#3c8abe 87px,#7eb8d7 90px,#d5e7f1 93px,#fbe5d8 96px,#f5aa89 99px,#e37e64 102px,#e48066 105px,#f5aa89 108px,#fdddcb 111px,#f2f5f6 114px,#d2e6f0 117px,#bbdaea 120px,#c2ddec 123px,#e0ecf3 126px,#f9eee7 129px,#fbccb4 132px,#f5aa89 135px,#f3a481 138px,#f9c2a7 141px,#f9ede5 144px,#cfe4ef 147px,#75b2d4 150px,#3b88be 153px,#3783bb 156px,#5ca3cb 159px,#bbdaea 162px,#f9f0eb 165px,#f6b191 168px,#dc6e57 171px,#d35a4a 174px,#e27b62 177px,#f8bda1 180px,#f8f4f2 183px,#bddbea 186px)"></div><div style="top:30px;background:linear-gradient(90deg,#fbe6da 0px,#d8e9f1 3px,#93c6de 6px,#62a7ce 9px,#6bacd1 12px,#a7d0e4 15px,#e9f0f4 18px,#fddbc7 21px,#f09c7b 24px,#e17860 27px,#e6866a 30px,#f8bfa4 33px,#f8f4f2 36px,#b8d8e9 39px,#5fa5cd 42px,#3b88be 45px,#4291c2 48px,#87beda 51px,#deebf2 54px,#fddbc7 57px,#e58368 60px,#c94741 63px,#d05548 66px,#f5aa89 69px,#f7f5f4 72px,#a5cee3 75px,#4695c4 78px,#307ab6 81px,#2e77b5 84px,#3c8abe 87px,#7bb6d6 90px,#d4e6f1 93px,#fbe6da 96px,#f6af8e 99px,#e58368 102px,#e6866a 105px,#f5ac8b 108px,#fddcc9 111px,#f6f7f7 114px,#d8e9f1 117px,#c7e0ed 120px,#d1e5f0 123px,#e9f0f4 126px,#fae8de 129px,#f9c4a9 132px,#f2a17f 135px,#f19e7d 138px,#f8bda1 141px,#f9ede5 144px,#cfe4ef 147px,#71b0d3 150px,#3a87bd 153px,#3681ba 156px,#59a1ca 159px,#b8d8e9 162px,#f8f1ed 165px,#f7b596 168px,#dd7059 171px,#d35a4a 174px,#e27b62 177px,#f8bda1 180px,#f8f3f0 183px,#c0dceb 186px)"></div><div style="top:31px;background:linear-gradient(90deg,#fbe5d8 0px,#d8e9f1 3px,#93c6de 6px,#62a7ce 9px,#68abd0 12px,#a5cee3 15px,#e6eff4 18px,#fddcc9 21px,#f19e7d 24px,#e17860 27px,#e8896c 30px,#f8bfa4 33px,#f8f3f0 36px,#b8d8e9 39px,#62a7ce 42px,#3c8abe 45px,#4393c3 48px,#8ac0db 51px,#deebf2 54px,#fdd9c4 57px,#e58368 60px,#cb4942 63px,#d25849 66px,#f5aa89 69px,#f7f5f4 72px,#a5cee3 75px,#4695c4 78px,#307ab6 81px,#2e77b5 84px,#3c8abe 87px,#7eb8d7 90px,#d4e6f1 93px,#fae7dc 96px,#f6b191 99px,#e8896c 102px,#e8896c 105px,#f5ac8b 108px,#fddcc9 111px,#f7f6f6 114px,#ddebf2 117px,#d2e6f0 120px,#dae9f2 123px,#f2f5f6 126px,#fbe3d4 129px,#f7b99c 132px,#ef9979 135px,#ee9677 138px,#f8bb9e 141px,#faeae1 144px,#d1e5f0 147px,#75b2d4 150px,#3a87bd 153px,#3681ba 156px,#569fc9 159px,#b3d6e8 162px,#f8f3f0 165px,#f7b799 168px,#df765e 171px,#d55d4c 174px,#e27b62 177px,#f8bb9e 180px,#f8f2ef 183px,#c2ddec 186px)"></div><div style="top:32px;background:linear-gradient(90deg,#fbe4d6 0px,#dae9f2 3px,#93c6de 6px,#5fa5cd 9px,#65a9cf 12px,#a0cce2 15px,#e4eef4 18px,#fdddcb 21px,#f2a17f 24px,#e27b62 27px,#e8896c 30px,#f8bda1 33px,#f8f3f0 36px,#bbdaea 39px,#68abd0 42px,#3e8cbf 45px,#4695c4 48px,#8dc2dc 51px,#e0ecf3 54px,#fdd9c4 57px,#e58368 60px,#cc4c44 63px,#d35a4a 66px,#f5ac8b 69px,#f7f5f4 72px,#a5cee3 75px,#4695c4 78px,#307ab6 81px,#2e77b5 84px,#3e8cbf 87px,#81bad8 90px,#d7e8f1 93px,#fbe6da 96px,#f6b394 99px,#e98b6e 102px,#ea8e70 105px,#f6b191 108px,#fddcc9 111px,#f7f5f4 114px,#e1edf3 117px,#d7e8f1 120px,#e0ecf3 123px,#f7f5f4 126px,#fdddcb 129px,#f6b191 132px,#ea8e70 135px,#ea8e70 138px,#f7b799 141px,#fae9df 144px,#d2e6f0 147px,#78b4d5 150px,#3b88be 153px,#3681ba 156px,#569fc9 159px,#b1d5e7 162px,#f8f4f2 165px,#f8bb9e 168px,#e17860 171px,#d6604d 174px,#e27b62 177px,#f7b99c 180px,#f8f1ed 183px,#c5dfec 186px)"></div><div style="top:33px;background:linear-gradient(90deg,#fbe3d4 0px,#dbeaf2 3px,#93c6de 6px,#5fa5cd 9px,#62a7ce 12px,#9dcbe1 15px,#e1edf3 18px,#fcdfcf 21px,#f3a481 24px,#e27b62 27px,#e6866a 30px,#f8bda1 33px,#f8f1ed 36px,#c0dceb 39px,#6bacd1 42px,#3f8ec0 45px,#4997c5 48px,#90c4dd 51px,#e1edf3 54px,#fcd7c2 57px,#e58368 60px,#cc4c44 63px,#d35a4a 66px,#f5aa89 69px,#f8f4f2 72px,#a7d0e4 75px,#4997c5 78px,#327cb7 81px,#2f79b5 84px,#3f8ec0 87px,#87beda 90px,#d8e9f1 93px,#fbe5d8 96px,#f6b394 99px,#eb9172 102px,#ec9374 105px,#f7b596 108px,#fcdecd 111px,#f7f5f4 114px,#e3edf3 117px,#dbeaf2 120px,#e6eff4 123px,#f8f1ed 126px,#fcd7c2 129px,#f5a886 132px,#e6866a 135px,#e8896c 138px,#f6b394 141px,#fae7dc 144px,#d4e6f1 147px,#7bb6d6 150px,#3c8abe 153px,#3681ba 156px,#529dc8 159px,#aed3e6 162px,#f7f6f6 165px,#f8bfa4 168px,#e37e64 171px,#d7634f 174px,#e27b62 177px,#f7b99c 180px,#f9efe9 183px,#cae1ee 186px)"></div><div style="top:34px;background:linear-gradient(90deg,#fce0d0 0px,#dbeaf2 3px,#93c6de 6px,#5ca3cb 9px,#5fa5cd 12px,#9bc9e0 15px,#e0ecf3 18px,#fce0d0 21px,#f4a683 24px,#e27b62 27px,#e6866a 30px,#f8bb9e 33px,#f9f0eb 36px,#c2ddec 39px,#6eaed2 42px,#4291c2 45px,#4c99c6 48px,#93c6de 51px,#e3edf3 54px,#fcd7c2 57px,#e58368 60px,#cc4c44 63px,#d35a4a 66px,#f5aa89 69px,#f8f2ef 72px,#acd2e5 75px,#4f9bc7 78px,#337eb8 81px,#327cb7 84px,#4393c3 87px,#90c4dd 90px,#ddebf2 93px,#fbe4d6 96px,#f6b394 99px,#ee9677 102px,#f09c7b 105px,#f7b99c 108px,#fcdfcf 111px,#f7f5f4 114px,#e4eef4 117px,#e0ecf3 120px,#eaf1f5 123px,#f9ede5 126px,#fbceb7 129px,#f2a17f 132px,#e37e64 135px,#e48066 138px,#f6af8e 141px,#fbe5d8 144px,#d7e8f1 147px,#81bad8 150px,#3e8cbf 153px,#3783bb 156px,#529dc8 159px,#acd2e5 162px,#f5f6f7 165px,#f9c4a9 168px,#e58368 171px,#d86551 174px,#e27b62 177px,#f7b799 180px,#f9eee7 183px,#cce2ef 186px)"></div><div style="top:35px;background:linear-gradient(90deg,#fcdfcf 0px,#ddebf2 3px,#93c6de 6px,#59a1ca 9px,#5ca3cb 12px,#96c7df 15px,#deebf2 18px,#fce2d2 21px,#f4a683 24px,#e27b62 27px,#e58368 30px,#f7b99c 33px,#f9efe9 36px,#c7e0ed 39px,#75b2d4 42px,#4393c3 45px,#4f9bc7 48px,#96c7df 51px,#e4eef4 54px,#fcd5bf 57px,#e48066 60px,#cc4c44 63px,#d25849 66px,#f5a886 69px,#f8f1ed 72px,#b3d6e8 75px,#569fc9 78px,#3681ba 81px,#3681ba 84px,#4c99c6 87px,#9bc9e0 90px,#e3edf3 93px,#fce2d2 96px,#f6b394 99px,#ef9979 102px,#f3a481 105px,#f8bfa4 108px,#fbe3d4 111px,#f7f6f6 114px,#e4eef4 117px,#e1edf3 120px,#eff3f5 123px,#fae9df 126px,#fac8af 129px,#ef9979 132px,#e17860 135px,#e27b62 138px,#f5a886 141px,#fbe3d4 144px,#dbeaf2 147px,#87beda 150px,#408fc1 153px,#3885bc 156px,#569fc9 159px,#a9d1e5 162px,#f3f5f6 165px,#fac8af 168px,#e8896c 171px,#da6853 174px,#e37e64 177px,#f7b799 180px,#f9ede5 183px,#d1e5f0 186px)"></div><div style="top:36px;background:linear-gradient(90deg,#fcdecd 0px,#ddebf2 3px,#90c4dd 6px,#569fc9 9px,#569fc9 12px,#93c6de 15px,#dbeaf2 18px,#fbe3d4 21px,#f5a886 24px,#e27b62 27px,#e48066 30px,#f7b596 33px,#f9ede5 36px,#cae1ee 39px,#78b4d5 42px,#4997c5 45px,#569fc9 48px,#9bc9e0 51px,#e6eff4 54px,#fcd3bc 57px,#e37e64 60px,#cb4942 63px,#d25849 66px,#f3a481 69px,#f9eee7 72px,#b8d8e9 75px,#5fa5cd 78px,#3a87bd 81px,#3a87bd 84px,#5ca3cb 87px,#a7d0e4 90px,#e9f0f4 93px,#fcdecd 96px,#f6b394 99px,#f19e7d 102px,#f5aa89 105px,#fac8af 108px,#fbe6da 111px,#f5f6f7 114px,#e4eef4 117px,#e1edf3 120px,#f0f4f6 123px,#fae7dc 126px,#f9c4a9 129px,#ec9374 132px,#de735c 135px,#df765e 138px,#f3a481 141px,#fce0d0 144px,#deebf2 147px,#90c4dd 150px,#4695c4 153px,#3b88be 156px,#569fc9 159px,#a9d1e5 162px,#f0f4f6 165px,#fbccb4 168px,#ea8e70 171px,#dc6e57 174px,#e37e64 177px,#f7b596 180px,#f9ebe3 183px,#d4e6f1 186px)"></div><div style="top:37px;background:linear-gradient(90deg,#fdddcb 0px,#ddebf2 3px,#90c4dd 6px,#529dc8 9px,#529dc8 12px,#8dc2dc 15px,#dae9f2 18px,#fbe3d4 21px,#f5a886 24px,#e17860 27px,#e37e64 30px,#f6b394 33px,#faeae1 36px,#cfe4ef 39px,#7eb8d7 42px,#4c99c6 45px,#59a1ca 48px,#9dcbe1 51px,#e7f0f4 54px,#fbd0b9 57px,#e37e64 60px,#c94741 63px,#cf5246 66px,#f19e7d 69px,#faeae1 72px,#c2ddec 75px,#6bacd1 78px,#3f8ec0 81px,#408fc1 84px,#6eaed2 87px,#b6d7e8 90px,#f2f5f6 93px,#fddbc7 96px,#f6b191 99px,#f3a481 102px,#f6b191 105px,#fbd0b9 108px,#faeae1 111px,#f0f4f6 114px,#e1edf3 117px,#e1edf3 120px,#f2f5f6 123px,#fbe6da 126px,#f8bfa4 129px,#eb9172 132px,#dd7059 135px,#de735c 138px,#f2a17f 141px,#fdddcb 144px,#e3edf3 147px,#98c8e0 150px,#4c99c6 153px,#3e8cbf 156px,#59a1ca 159px,#a7d0e4 162px,#edf2f5 165px,#fbd0b9 168px,#ec9374 171px,#dd7059 174px,#e37e64 177px,#f7b596 180px,#fae9df 183px,#d5e7f1 186px)"></div><div style="top:38px;background:linear-gradient(90deg,#fdddcb 0px,#ddebf2 3px,#8dc2dc 6px,#4f9bc7 9px,#4c99c6 12px,#87beda 15px,#d8e9f1 18px,#fbe4d6 21px,#f5a886 24px,#e17860 27px,#e27b62 30px,#f6af8e 33px,#fae9df 36px,#d2e6f0 39px,#84bcd9 42px,#529dc8 45px,#5ca3cb 48px,#a0cce2 51px,#e9f0f4 54px,#fbceb7 57px,#e27b62 60px,#c84440 63px,#ce4f45 66px,#ef9979 69px,#fae7dc 72px,#cae1ee 75px,#78b4d5 78px,#4695c4 81px,#4c99c6 84px,#81bad8 87px,#c7e0ed 90px,#f8f4f2 93px,#fcd3bc 96px,#f6b191 99px,#f5a886 102px,#f7b99c 105px,#fddbc7 108px,#f9efe9 111px,#eaf1f5 114px,#deebf2 117px,#e0ecf3 120px,#f2f5f6 123px,#fbe6da 126px,#f8bfa4 129px,#ea8e70 132px,#dc6e57 135px,#dd7059 138px,#f09c7b 141px,#fddbc7 144px,#e7f0f4 147px,#a0cce2 150px,#569fc9 153px,#408fc1 156px,#5ca3cb 159px,#a7d0e4 162px,#ecf2f5 165px,#fcd5bf 168px,#ef9979 171px,#df765e 174px,#e48066 177px,#f6b394 180px,#fae8de 183px,#d8e9f1 186px)"></div><div style="top:39px;background:linear-gradient(90deg,#fddcc9 0px,#ddebf2 3px,#8ac0db 6px,#4997c5 9px,#4997c5 12px,#84bcd9 15px,#d5e7f1 18px,#fbe5d8 21px,#f5a886 24px,#df765e 27px,#e17860 30px,#f5aa89 33px,#fae7dc 36px,#d5e7f1 39px,#87beda 42px,#569fc9 45px,#5fa5cd 48px,#a2cde3 51px,#eaf1f5 54px,#fbccb4 57px,#e17860 60px,#c6413e 63px,#cc4c44 66px,#ec9374 69px,#fbe4d6 72px,#d2e6f0 75px,#84bcd9 78px,#569fc9 81px,#5fa5cd 84px,#96c7df 87px,#d7e8f1 90px,#f9eee7 93px,#facab1 96px,#f6af8e 99px,#f5ac8b 102px,#f9c2a7 105px,#fce0d0 108px,#f8f4f2 111px,#e4eef4 114px,#dae9f2 117px,#deebf2 120px,#f0f4f6 123px,#fbe6da 126px,#f8bfa4 129px,#ea8e70 132px,#dc6e57 135px,#dc6e57 138px,#ef9979 141px,#fcd7c2 144px,#ecf2f5 147px,#a7d0e4 150px,#62a7ce 153px,#4393c3 156px,#5fa5cd 159px,#a7d0e4 162px,#e9f0f4 165px,#fddbc7 168px,#f19e7d 171px,#e27b62 174px,#e58368 177px,#f6b191 180px,#fbe6da 183px,#ddebf2 186px)"></div><div style="top:40px;background:linear-gradient(90deg,#fddbc7 0px,#ddebf2 3px,#87beda 6px,#4695c4 9px,#4393c3 12px,#7eb8d7 15px,#d4e6f1 18px,#fbe5d8 21px,#f4a683 24px,#de735c 27px,#de735c 30px,#f4a683 33px,#fbe5d8 36px,#d8e9f1 39px,#8dc2dc 42px,#59a1ca 45px,#62a7ce 48px,#a2cde3 51px,#ecf2f5 54px,#facab1 57px,#df765e 60px,#c53e3d 63px,#c94741 66px,#e98b6e 69px,#fce0d0 72px,#d8e9f1 75px,#90c4dd 78px,#65a9cf 81px,#75b2d4 84px,#a9d1e5 87px,#e4eef4 90px,#fbe5d8 93px,#f8bfa4 96px,#f5ac8b 99px,#f6b191 102px,#fbccb4 105px,#fbe6da 108px,#f3f5f6 111px,#deebf2 114px,#d5e7f1 117px,#dae9f2 120px,#edf2f5 123px,#fae7dc 126px,#f9c2a7 129px,#eb9172 132px,#dc6e57 135px,#dd7059 138px,#ee9677 141px,#fcd3bc 144px,#eff3f5 147px,#b1d5e7 150px,#6bacd1 153px,#4c99c6 156px,#65a9cf 159px,#a5cee3 162px,#e7f0f4 165px,#fdddcb 168px,#f4a683 171px,#e37e64 174px,#e58368 177px,#f6b191 180px,#fbe4d6 183px,#e0ecf3 186px)"></div><div style="top:41px;background:linear-gradient(90deg,#fddbc7 0px,#ddebf2 3px,#84bcd9 6px,#4291c2 9px,#408fc1 12px,#7bb6d6 15px,#d2e6f0 18px,#fbe6da 21px,#f4a683 24px,#dd7059 27px,#dc6e57 30px,#f2a17f 33px,#fbe3d4 36px,#dae9f2 39px,#90c4dd 42px,#5ca3cb 45px,#65a9cf 48px,#a5cee3 51px,#ecf2f5 54px,#facab1 57px,#de735c 60px,#c43b3c 63px,#c6413e 66px,#e6866a 69px,#fddcc9 72px,#deebf2 75px,#9bc9e0 78px,#75b2d4 81px,#87beda 84px,#c0dceb 87px,#f2f5f6 90px,#fddcc9 93px,#f7b799 96px,#f5aa89 99px,#f7b799 102px,#fcd7c2 105px,#f9ede5 108px,#eaf1f5 111px,#d7e8f1 114px,#cfe4ef 117px,#d7e8f1 120px,#eaf1f5 123px,#fae9df 126px,#f9c4a9 129px,#ec9374 132px,#dd7059 135px,#dd7059 138px,#ee9677 141px,#fbd0b9 144px,#f3f5f6 147px,#b8d8e9 150px,#78b4d5 153px,#569fc9 156px,#68abd0 159px,#a7d0e4 162px,#e6eff4 165px,#fcdfcf 168px,#f5aa89 171px,#e58368 174px,#e6866a 177px,#f6af8e 180px,#fbe3d4 183px,#e3edf3 186px)"></div><div style="top:42px;background:linear-gradient(90deg,#fddbc7 0px,#dbeaf2 3px,#81bad8 6px,#408fc1 9px,#3f8ec0 12px,#75b2d4 15px,#d1e5f0 18px,#fbe6da 21px,#f3a481 24px,#db6b55 27px,#db6b55 30px,#f09c7b 33px,#fce0d0 36px,#ddebf2 39px,#96c7df 42px,#5fa5cd 45px,#65a9cf 48px,#a5cee3 51px,#ecf2f5 54px,#fac8af 57px,#dd7059 60px,#c2383a 63px,#c53e3d 66px,#e37e64 69px,#fcd7c2 72px,#e3edf3 75px,#a5cee3 78px,#84bcd9 81px,#9bc9e0 84px,#d4e6f1 87px,#f9f0eb 90px,#fbccb4 93px,#f5ac8b 96px,#f5a886 99px,#f8bda1 102px,#fcdecd 105px,#f8f4f2 108px,#e1edf3 111px,#cfe4ef 114px,#c5dfec 117px,#d1e5f0 120px,#e7f0f4 123px,#f9ebe3 126px,#fac8af 129px,#ef9979 132px,#df765e 135px,#de735c 138px,#ee9677 141px,#fbccb4 144px,#f7f6f6 147px,#c2ddec 150px,#81bad8 153px,#5fa5cd 156px,#6eaed2 159px,#a7d0e4 162px,#e3edf3 165px,#fbe3d4 168px,#f6b191 171px,#e8896c 174px,#e8896c 177px,#f6af8e 180px,#fce0d0 183px,#e7f0f4 186px)"></div><div style="top:43px;background:linear-gradient(90deg,#fddbc7 0px,#dbeaf2 3px,#7eb8d7 6px,#3e8cbf 9px,#3c8abe 12px,#71b0d3 15px,#d1e5f0 18px,#fbe6da 21px,#f3a481 24px,#da6853 27px,#d86551 30px,#ee9677 33px,#fcdecd 36px,#e0ecf3 39px,#98c8e0 42px,#5fa5cd 45px,#65a9cf 48px,#a5cee3 51px,#ecf2f5 54px,#fac8af 57px,#dd7059 60px,#c13639 63px,#c2383a 66px,#e17860 69px,#fcd3bc 72px,#e7f0f4 75px,#aed3e6 78px,#93c6de 81px,#acd2e5 84px,#e1edf3 87px,#fbe5d8 90px,#f7b99c 93px,#f2a17f 96px,#f5a886 99px,#f9c4a9 102px,#fbe5d8 105px,#f2f5f6 108px,#d7e8f1 111px,#c0dceb 114px,#bbdaea 117px,#cae1ee 120px,#e3edf3 123px,#f9efe9 126px,#fbceb7 129px,#f2a17f 132px,#e37e64 135px,#e17860 138px,#ee9677 141px,#facab1 144px,#f8f3f0 147px,#cce2ef 150px,#8dc2dc 153px,#68abd0 156px,#75b2d4 159px,#a7d0e4 162px,#e1edf3 165px,#fbe5d8 168px,#f7b596 171px,#eb9172 174px,#e98b6e 177px,#f5ac8b 180px,#fcdecd 183px,#ecf2f5 186px)"></div><div style="top:44px;background:linear-gradient(90deg,#fddbc7 0px,#dae9f2 3px,#78b4d5 6px,#3b88be 9px,#3a87bd 12px,#6eaed2 15px,#cfe4ef 18px,#fbe6da 21px,#f2a17f 24px,#d7634f 27px,#d6604d 30px,#eb9172 33px,#fddcc9 36px,#e1edf3 39px,#98c8e0 42px,#62a7ce 45px,#65a9cf 48px,#a2cde3 51px,#ecf2f5 54px,#fac8af 57px,#dc6e57 60px,#bf3338 63px,#c13639 66px,#de735c 69px,#fbccb4 72px,#ecf2f5 75px,#b3d6e8 78px,#9dcbe1 81px,#bddbea 84px,#eff3f5 87px,#fcd7c2 90px,#f4a683 93px,#ec9374 96px,#f4a683 99px,#fbccb4 102px,#f9ebe3 105px,#e7f0f4 108px,#cce2ef 111px,#b3d6e8 114px,#aed3e6 117px,#c2ddec 120px,#deebf2 123px,#f8f2ef 126px,#fcd7c2 129px,#f5aa89 132px,#e6866a 135px,#e37e64 138px,#ef9979 141px,#fac8af 144px,#f8f1ed 147px,#d2e6f0 150px,#98c8e0 153px,#75b2d4 156px,#7bb6d6 159px,#a7d0e4 162px,#e0ecf3 165px,#fae8de 168px,#f8bb9e 171px,#ee9677 174px,#ea8e70 177px,#f5ac8b 180px,#fddcc9 183px,#f0f4f6 186px)"></div><div style="top:45px;background:linear-gradient(90deg,#fddbc7 0px,#d8e9f1 3px,#75b2d4 6px,#3a87bd 9px,#3783bb 12px,#68abd0 15px,#cce2ef 18px,#fbe6da 21px,#f19e7d 24px,#d6604d 27px,#d35a4a 30px,#e98b6e 33px,#fdd9c4 36px,#e3edf3 39px,#9bc9e0 42px,#5fa5cd 45px,#62a7ce 48px,#a0cce2 51px,#eaf1f5 54px,#facab1 57px,#dc6e57 60px,#be3036 63px,#be3036 66px,#dc6e57 69px,#facab1 72px,#edf2f5 75px,#b8d8e9 78px,#a5cee3 81px,#cce2ef 84px,#f8f2ef 87px,#f8bfa4 90px,#ea8e70 93px,#e58368 96px,#f4a683 99px,#fcd7c2 102px,#f8f3f0 105px,#ddebf2 108px,#bddbea 111px,#a7d0e4 114px,#a5cee3 117px,#b8d8e9 120px,#dae9f2 123px,#f7f5f4 126px,#fddcc9 129px,#f6b394 132px,#ea8e70 135px,#e6866a 138px,#f09c7b 141px,#f9c6ac 144px,#f9eee7 147px,#d8e9f1 150px,#a2cde3 153px,#7eb8d7 156px,#81bad8 159px,#a9d1e5 162px,#ddebf2 165px,#faeae1 168px,#f9c2a7 171px,#f09c7b 174px,#eb9172 177px,#f5aa89 180px,#fdd9c4 183px,#f5f6f7 186px)"></div><div style="top:46px;background:linear-gradient(90deg,#fddbc7 0px,#d7e8f1 3px,#6eaed2 6px,#3783bb 9px,#3681ba 12px,#65a9cf 15px,#cce2ef 18px,#fbe5d8 21px,#f09c7b 24px,#d35a4a 27px,#d05548 30px,#e6866a 33px,#fcd5bf 36px,#e4eef4 39px,#9bc9e0 42px,#5fa5cd 45px,#5fa5cd 48px,#9dcbe1 51px,#e9f0f4 54px,#facab1 57px,#dc6e57 60px,#be3036 63px,#bd2d35 66px,#db6b55 69px,#f9c6ac 72px,#eff3f5 75px,#b8d8e9 78px,#a9d1e5 81px,#d5e7f1 84px,#fae8de 87px,#f5a886 90px,#de735c 93px,#df765e 96px,#f5a886 99px,#fcdecd 102px,#f2f5f6 105px,#d1e5f0 108px,#aed3e6 111px,#9bc9e0 114px,#9dcbe1 117px,#b1d5e7 120px,#d4e6f1 123px,#f3f5f6 126px,#fce2d2 129px,#f8bb9e 132px,#ef9979 135px,#ea8e70 138px,#f19e7d 141px,#f9c6ac 144px,#f9ebe3 147px,#deebf2 150px,#acd2e5 153px,#8ac0db 156px,#87beda 159px,#a9d1e5 162px,#dbeaf2 165px,#f9eee7 168px,#fac8af 171px,#f3a481 174px,#ee9677 177px,#f5aa89 180px,#fcd5bf 183px,#f7f5f4 186px)"></div><div style="top:47px;background:linear-gradient(90deg,#fddbc7 0px,#d5e7f1 3px,#6bacd1 6px,#3480b9 9px,#337eb8 12px,#62a7ce 15px,#cae1ee 18px,#fbe5d8 21px,#ee9677 24px,#d05548 27px,#ce4f45 30px,#e48066 33px,#fcd3bc 36px,#e6eff4 39px,#9bc9e0 42px,#5ca3cb 45px,#5ca3cb 48px,#9bc9e0 51px,#e6eff4 54px,#fbceb7 57px,#dd7059 60px,#be3036 63px,#bb2a34 66px,#d86551 69px,#f9c6ac 72px,#edf2f5 75px,#b6d7e8 78px,#acd2e5 81px,#dbeaf2 84px,#fcdfcf 87px,#eb9172 90px,#d35a4a 93px,#db6b55 96px,#f5aa89 99px,#fbe4d6 102px,#e7f0f4 105px,#c0dceb 108px,#a0cce2 111px,#90c4dd 114px,#96c7df 117px,#a9d1e5 120px,#cfe4ef 123px,#edf2f5 126px,#fbe6da 129px,#f9c6ac 132px,#f4a683 135px,#ee9677 138px,#f3a481 141px,#f9c6ac 144px,#fae9df 147px,#e3edf3 150px,#b6d7e8 153px,#93c6de 156px,#90c4dd 159px,#a9d1e5 162px,#dae9f2 165px,#f9f0eb 168px,#fbceb7 171px,#f5a886 174px,#ef9979 177px,#f5aa89 180px,#fbd0b9 183px,#f8f2ef 186px)"></div><div style="top:48px;background:linear-gradient(90deg,#fddcc9 0px,#d2e6f0 3px,#65a9cf 6px,#327cb7 9px,#327cb7 12px,#5fa5cd 15px,#cae1ee 18px,#fbe4d6 21px,#ec9374 24px,#cf5246 27px,#cb4942 30px,#e37e64 33px,#fbd0b9 36px,#e7f0f4 39px,#9bc9e0 42px,#59a1ca 45px,#569fc9 48px,#96c7df 51px,#e3edf3 54px,#fbd0b9 57px,#de735c 60px,#be3036 63px,#ba2832 66px,#d7634f 69px,#f9c4a9 72px,#ecf2f5 75px,#b1d5e7 78px,#acd2e5 81px,#e3edf3 84px,#fcd5bf 87px,#e27b62 90px,#cb4942 93px,#d7634f 96px,#f6b191 99px,#f9ebe3 102px,#dbeaf2 105px,#aed3e6 108px,#90c4dd 111px,#87beda 114px,#8dc2dc 117px,#a5cee3 120px,#cae1ee 123px,#e7f0f4 126px,#f9ebe3 129px,#fbd0b9 132px,#f6b191 135px,#f2a17f 138px,#f5a886 141px,#f9c6ac 144px,#fae7dc 147px,#e9f0f4 150px,#c2ddec 153px,#9dcbe1 156px,#96c7df 159px,#acd2e5 162px,#d7e8f1 165px,#f8f3f0 168px,#fcd7c2 171px,#f6af8e 174px,#f19e7d 177px,#f5a886 180px,#fbccb4 183px,#f9efe9 186px)"></div><div style="top:49px;background:linear-gradient(90deg,#fdddcb 0px,#d1e5f0 3px,#5fa5cd 6px,#2f79b5 9px,#2f79b5 12px,#5ca3cb 15px,#cae1ee 18px,#fbe4d6 21px,#eb9172 24px,#cc4c44 27px,#c84440 30px,#e17860 33px,#fbceb7 36px,#e7f0f4 39px,#9bc9e0 42px,#569fc9 45px,#4f9bc7 48px,#8dc2dc 51px,#e0ecf3 54px,#fcd5bf 57px,#df765e 60px,#be3036 63px,#ba2832 66px,#d6604d 69px,#f9c6ac 72px,#e7f0f4 75px,#acd2e5 78px,#acd2e5 81px,#e7f0f4 84px,#facab1 87px,#db6b55 90px,#c53e3d 93px,#d7634f 96px,#f7b799 99px,#f8f3f0 102px,#cce2ef 105px,#9dcbe1 108px,#84bcd9 111px,#7eb8d7 114px,#8ac0db 117px,#a2cde3 120px,#c2ddec 123px,#e3edf3 126px,#f9f0eb 129px,#fddbc7 132px,#f8bb9e 135px,#f5aa89 138px,#f6af8e 141px,#f9c6ac 144px,#fbe5d8 147px,#edf2f5 150px,#cce2ef 153px,#a7d0e4 156px,#9bc9e0 159px,#acd2e5 162px,#d5e7f1 165px,#f7f6f6 168px,#fddcc9 171px,#f7b596 174px,#f2a17f 177px,#f5a886 180px,#fac8af 183px,#faeae1 186px)"></div><div style="top:50px;background:linear-gradient(90deg,#fcdecd 0px,#cfe4ef 3px,#59a1ca 6px,#2e77b5 9px,#2e77b5 12px,#59a1ca 15px,#cae1ee 18px,#fbe3d4 21px,#e98b6e 24px,#c94741 27px,#c53e3d 30px,#de735c 33px,#fbccb4 36px,#e7f0f4 39px,#98c8e0 42px,#4f9bc7 45px,#4997c5 48px,#87beda 51px,#dbeaf2 54px,#fdd9c4 57px,#e17860 60px,#be3036 63px,#b82531 66px,#d55d4c 69px,#facab1 72px,#e1edf3 75px,#a5cee3 78px,#acd2e5 81px,#eaf1f5 84px,#f9c2a7 87px,#d6604d 90px,#c43b3c 93px,#da6853 96px,#f9c4a9 99px,#eff3f5 102px,#b8d8e9 105px,#8dc2dc 108px,#78b4d5 111px,#78b4d5 114px,#87beda 117px,#a0cce2 120px,#c0dceb 123px,#ddebf2 126px,#f7f5f4 129px,#fce2d2 132px,#fac8af 135px,#f7b596 138px,#f6b394 141px,#f9c6ac 144px,#fbe3d4 147px,#f2f5f6 150px,#d4e6f1 153px,#b1d5e7 156px,#a2cde3 159px,#aed3e6 162px,#d2e6f0 165px,#f3f5f6 168px,#fce0d0 171px,#f8bb9e 174px,#f4a683 177px,#f5a886 180px,#f9c4a9 183px,#fae7dc 186px)"></div><div style="top:51px;background:linear-gradient(90deg,#fcdfcf 0px,#cae1ee 3px,#569fc9 6px,#2b73b3 9px,#2b73b3 12px,#59a1ca 15px,#cae1ee 18px,#fce2d2 21px,#e8896c 24px,#c6413e 27px,#c2383a 30px,#dd7059 33px,#facab1 36px,#e7f0f4 39px,#96c7df 42px,#4997c5 45px,#4291c2 48px,#7eb8d7 51px,#d7e8f1 54px,#fdddcb 57px,#e37e64 60px,#bf3338 63px,#b72230 66px,#d6604d 69px,#fbd0b9 72px,#dbeaf2 75px,#9bc9e0 78px,#a7d0e4 81px,#edf2f5 84px,#f8bb9e 87px,#d55d4c 90px,#c6413e 93px,#df765e 96px,#fcd5bf 99px,#e0ecf3 102px,#a0cce2 105px,#78b4d5 108px,#6eaed2 111px,#78b4d5 114px,#8ac0db 117px,#a0cce2 120px,#bbdaea 123px,#d8e9f1 126px,#f2f5f6 129px,#fae8de 132px,#fcd3bc 135px,#f8bda1 138px,#f7b99c 141px,#fac8af 144px,#fce2d2 147px,#f7f6f6 150px,#dae9f2 153px,#b8d8e9 156px,#a7d0e4 159px,#aed3e6 162px,#d1e5f0 165px,#eff3f5 168px,#fbe4d6 171px,#f9c4a9 174px,#f5aa89 177px,#f5aa89 180px,#f8bfa4 183px,#fbe3d4 186px)"></div><div style="top:52px;background:linear-gradient(90deg,#fce0d0 0px,#c5dfec 3px,#4f9bc7 6px,#2870b1 9px,#2a71b2 12px,#569fc9 15px,#cae1ee 18px,#fce0d0 21px,#e58368 24px,#c43b3c 27px,#c13639 30px,#dc6e57 33px,#fac8af 36px,#e7f0f4 39px,#90c4dd 42px,#4393c3 45px,#3f8ec0 48px,#75b2d4 51px,#d2e6f0 54px,#fce0d0 57px,#e58368 60px,#c13639 63px,#b72230 66px,#d86551 69px,#fddcc9 72px,#d2e6f0 75px,#90c4dd 78px,#a5cee3 81px,#edf2f5 84px,#f7b99c 87px,#d6604d 90px,#cc4c44 93px,#e8896c 96px,#fbe3d4 99px,#d1e5f0 102px,#87beda 105px,#68abd0 108px,#6bacd1 111px,#7bb6d6 114px,#90c4dd 117px,#a5cee3 120px,#bbdaea 123px,#d5e7f1 126px,#eaf1f5 129px,#f9eee7 132px,#fdddcb 135px,#fac8af 138px,#f8bfa4 141px,#facab1 144px,#fcdfcf 147px,#f8f3f0 150px,#e0ecf3 153px,#c2ddec 156px,#aed3e6 159px,#b1d5e7 162px,#cce2ef 165px,#eaf1f5 168px,#fae8de 171px,#facab1 174px,#f6af8e 177px,#f5aa89 180px,#f8bda1 183px,#fcdfcf 186px)"></div><div style="top:53px;background:linear-gradient(90deg,#fce2d2 0px,#c2ddec 3px,#4997c5 6px,#276eb0 9px,#2870b1 12px,#569fc9 15px,#cce2ef 18px,#fcdfcf 21px,#e48066 24px,#c2383a 27px,#be3036 30px,#db6b55 33px,#fac8af 36px,#e6eff4 39px,#8dc2dc 42px,#408fc1 45px,#3b88be 48px,#68abd0 51px,#cce2ef 54px,#fbe4d6 57px,#e98b6e 60px,#c2383a 63px,#b82531 66px,#de735c 69px,#fbe3d4 72px,#c2ddec 75px,#81bad8 78px,#9dcbe1 81px,#edf2f5 84px,#f7b99c 87px,#d86551 90px,#d55d4c 93px,#f2a17f 96px,#f9efe9 99px,#b6d7e8 102px,#68abd0 105px,#59a1ca 108px,#68abd0 111px,#84bcd9 114px,#9bc9e0 117px,#a9d1e5 120px,#bbdaea 123px,#d1e5f0 126px,#e4eef4 129px,#f8f4f2 132px,#fbe4d6 135px,#fcd3bc 138px,#f9c6ac 141px,#facab1 144px,#fdddcb 147px,#f9efe9 150px,#e6eff4 153px,#cce2ef 156px,#b3d6e8 159px,#b1d5e7 162px,#cae1ee 165px,#e6eff4 168px,#f9ede5 171px,#fcd3bc 174px,#f7b596 177px,#f5aa89 180px,#f7b99c 183px,#fddbc7 186px)"></div><div style="top:54px;background:linear-gradient(90deg,#fbe3d4 0px,#bddbea 3px,#4393c3 6px,#246aae 9px,#276eb0 12px,#529dc8 15px,#cce2ef 18px,#fcdecd 21px,#e27b62 24px,#bf3338 27px,#bd2d35 30px,#da6853 33px,#fac8af 36px,#e4eef4 39px,#87beda 42px,#3e8cbf 45px,#3783bb 48px,#5fa5cd 51px,#c2ddec 54px,#fae7dc 57px,#eb9172 60px,#c53e3d 63px,#bd2d35 66px,#e58368 69px,#f9ede5 72px,#aed3e6 75px,#6eaed2 78px,#98c8e0 81px,#ecf2f5 84px,#f8bda1 87px,#de735c 90px,#de735c 93px,#f7b99c 96px,#f2f5f6 99px,#9dcbe1 102px,#529dc8 105px,#4c99c6 108px,#6eaed2 111px,#93c6de 114px,#a7d0e4 117px,#b3d6e8 120px,#bddbea 123px,#cce2ef 126px,#ddebf2 129px,#f2f5f6 132px,#faeae1 135px,#fdddcb 138px,#fbceb7 141px,#fbccb4 144px,#fddcc9 147px,#f9ebe3 150px,#ecf2f5 153px,#d4e6f1 156px,#bbdaea 159px,#b3d6e8 162px,#c5dfec 165px,#e0ecf3 168px,#f8f1ed 171px,#fddbc7 174px,#f7b99c 177px,#f5ac8b 180px,#f7b596 183px,#fcd5bf 186px)"></div><div style="top:55px;background:linear-gradient(90deg,#fbe4d6 0px,#b8d8e9 3px,#4291c2 6px,#2369ad 9px,#266caf 12px,#529dc8 15px,#cfe4ef 18px,#fdddcb 21px,#e17860 24px,#be3036 27px,#ba2832 30px,#d86551 33px,#fac8af 36px,#e4eef4 39px,#84bcd9 42px,#3a87bd 45px,#327cb7 48px,#529dc8 51px,#b8d8e9 54px,#f9ebe3 57px,#ef9979 60px,#c6413e 63px,#c43b3c 66px,#f09c7b 69px,#f7f6f6 72px,#9bc9e0 75px,#5fa5cd 78px,#90c4dd 81px,#eaf1f5 84px,#f9c2a7 87px,#e48066 90px,#e98b6e 93px,#fbd0b9 96px,#e1edf3 99px,#84bcd9 102px,#4291c2 105px,#4695c4 108px,#78b4d5 111px,#a5cee3 114px,#b8d8e9 117px,#c0dceb 120px,#c2ddec 123px,#cae1ee 126px,#d7e8f1 129px,#e9f0f4 132px,#f8f2ef 135px,#fbe3d4 138px,#fcd5bf 141px,#fbceb7 144px,#fdd9c4 147px,#fae8de 150px,#f2f5f6 153px,#dae9f2 156px,#c0dceb 159px,#b3d6e8 162px,#c0dceb 165px,#dbeaf2 168px,#f7f6f6 171px,#fcdfcf 174px,#f8bfa4 177px,#f6af8e 180px,#f6b394 183px,#fbccb4 186px)"></div><div style="top:56px;background:linear-gradient(90deg,#fbe6da 0px,#b6d7e8 3px,#3f8ec0 6px,#2065ab 9px,#246aae 12px,#529dc8 15px,#cfe4ef 18px,#fddbc7 21px,#de735c 24px,#bb2a34 27px,#b82531 30px,#d86551 33px,#fac8af 36px,#e1edf3 39px,#7eb8d7 42px,#3681ba 45px,#2e77b5 48px,#4997c5 51px,#aed3e6 54px,#f9f0eb 57px,#f2a17f 60px,#cc4c44 63px,#ce4f45 66px,#f6b191 69px,#e9f0f4 72px,#84bcd9 75px,#4f9bc7 78px,#8ac0db 81px,#e9f0f4 84px,#f9c6ac 87px,#eb9172 90px,#f5a886 93px,#fbe3d4 96px,#d2e6f0 99px,#6bacd1 102px,#3e8cbf 105px,#4c99c6 108px,#8ac0db 111px,#bbdaea 114px,#cfe4ef 117px,#d1e5f0 120px,#cae1ee 123px,#c7e0ed 126px,#d1e5f0 129px,#e0ecf3 132px,#f5f6f7 135px,#fae8de 138px,#fddbc7 141px,#fbd0b9 144px,#fcd7c2 147px,#fbe4d6 150px,#f7f5f4 153px,#e0ecf3 156px,#c7e0ed 159px,#b6d7e8 162px,#bddbea 165px,#d5e7f1 168px,#f2f5f6 171px,#fbe4d6 174px,#f9c6ac 177px,#f6b191 180px,#f6af8e 183px,#f9c6ac 186px)"></div><div style="top:57px;background:linear-gradient(90deg,#fae7dc 0px,#b1d5e7 3px,#3c8abe 6px,#1f63a8 9px,#246aae 12px,#529dc8 15px,#d1e5f0 18px,#fdd9c4 21px,#dd7059 24px,#ba2832 27px,#b72230 30px,#d7634f 33px,#facab1 36px,#e0ecf3 39px,#78b4d5 42px,#337eb8 45px,#2a71b2 48px,#408fc1 51px,#a7d0e4 54px,#f8f4f2 57px,#f5aa89 60px,#d35a4a 63px,#da6853 66px,#f9c6ac 69px,#dae9f2 72px,#6bacd1 75px,#4291c2 78px,#87beda 81px,#e9f0f4 84px,#facab1 87px,#f2a17f 90px,#f8bb9e 93px,#f9eee7 96px,#bddbea 99px,#59a1ca 102px,#3e8cbf 105px,#5ca3cb 108px,#a5cee3 111px,#d4e6f1 114px,#e1edf3 117px,#dbeaf2 120px,#d1e5f0 123px,#c5dfec 126px,#c7e0ed 129px,#d8e9f1 132px,#ecf2f5 135px,#f9eee7 138px,#fcdfcf 141px,#fcd3bc 144px,#fcd3bc 147px,#fce0d0 150px,#f8f1ed 153px,#e6eff4 156px,#cce2ef 159px,#b6d7e8 162px,#b8d8e9 165px,#d1e5f0 168px,#eaf1f5 171px,#fae9df 174px,#fbccb4 177px,#f6b394 180px,#f5ac8b 183px,#f8bda1 186px)"></div><div style="top:58px;background:linear-gradient(90deg,#fae9df 0px,#acd2e5 3px,#3b88be 6px,#1e61a5 9px,#2369ad 12px,#569fc9 15px,#d2e6f0 18px,#fcd7c2 21px,#db6b55 24px,#b72230 27px,#b61f2e 30px,#d7634f 33px,#facab1 36px,#deebf2 39px,#71b0d3 42px,#2f79b5 45px,#266caf 48px,#3c8abe 51px,#9dcbe1 54px,#f5f6f7 57px,#f6b394 60px,#dc6e57 63px,#e48066 66px,#fddcc9 69px,#c7e0ed 72px,#569fc9 75px,#3e8cbf 78px,#84bcd9 81px,#e9f0f4 84px,#fbceb7 87px,#f5ac8b 90px,#fbceb7 93px,#f5f6f7 96px,#a9d1e5 99px,#4c99c6 102px,#408fc1 105px,#78b4d5 108px,#c5dfec 111px,#eaf1f5 114px,#f5f6f7 117px,#e9f0f4 120px,#d7e8f1 123px,#c5dfec 126px,#c0dceb 129px,#cfe4ef 132px,#e3edf3 135px,#f8f4f2 138px,#fbe3d4 141px,#fcd5bf 144px,#fbceb7 147px,#fddcc9 150px,#f9ede5 153px,#ecf2f5 156px,#d2e6f0 159px,#b8d8e9 162px,#b3d6e8 165px,#c7e0ed 168px,#e4eef4 171px,#f9eee7 174px,#fcd5bf 177px,#f7b596 180px,#f5aa89 183px,#f7b799 186px)"></div><div style="top:59px;background:linear-gradient(90deg,#faeae1 0px,#a9d1e5 3px,#3885bc 6px,#1d5fa2 9px,#2369ad 12px,#569fc9 15px,#d4e6f1 18px,#fcd3bc 21px,#da6853 24px,#b61f2e 27px,#b41c2d 30px,#d7634f 33px,#fbccb4 36px,#ddebf2 39px,#6bacd1 42px,#2c75b4 45px,#2369ad 48px,#3885bc 51px,#96c7df 54px,#f0f4f6 57px,#f8bda1 60px,#e48066 63px,#f09c7b 66px,#fae8de 69px,#aed3e6 72px,#4291c2 75px,#3b88be 78px,#8ac0db 81px,#ecf2f5 84px,#fbd0b9 87px,#f7b799 90px,#fdddcb 93px,#e7f0f4 96px,#98c8e0 99px,#4695c4 102px,#4c99c6 105px,#9bc9e0 108px,#e1edf3 111px,#f9eee7 114px,#fae8de 117px,#f7f6f6 120px,#ddebf2 123px,#c2ddec 126px,#b6d7e8 129px,#c0dceb 132px,#dae9f2 135px,#f3f5f6 138px,#fbe6da 141px,#fcd5bf 144px,#fbccb4 147px,#fcd7c2 150px,#fae7dc 153px,#f2f5f6 156px,#d5e7f1 159px,#b8d8e9 162px,#aed3e6 165px,#bddbea 168px,#ddebf2 171px,#f8f3f0 174px,#fddbc7 177px,#f7b99c 180px,#f5a886 183px,#f6b191 186px)"></div><div style="top:60px;background:linear-gradient(90deg,#f9ede5 0px,#a5cee3 3px,#3783bb 6px,#1c5c9f 9px,#2369ad 12px,#59a1ca 15px,#d5e7f1 18px,#fbd0b9 21px,#d7634f 24px,#b41c2d 27px,#b41c2d 30px,#d7634f 33px,#fbccb4 36px,#dbeaf2 39px,#65a9cf 42px,#2a71b2 45px,#2065ab 48px,#3480b9 51px,#8dc2dc 54px,#eaf1f5 57px,#fac8af 60px,#ec9374 63px,#f6b394 66px,#f8f3f0 69px,#9bc9e0 72px,#3c8abe 75px,#3b88be 78px,#90c4dd 81px,#f0f4f6 84px,#fbceb7 87px,#f8bfa4 90px,#fbe5d8 93px,#ddebf2 96px,#87beda 99px,#4393c3 102px,#62a7ce 105px,#bddbea 108px,#f8f2ef 111px,#fcd5bf 114px,#fcd3bc 117px,#faeae1 120px,#e4eef4 123px,#c2ddec 126px,#acd2e5 129px,#b3d6e8 132px,#d1e5f0 135px,#ecf2f5 138px,#fae9df 141px,#fcd7c2 144px,#fac8af 147px,#fbceb7 150px,#fce2d2 153px,#f7f6f6 156px,#dae9f2 159px,#bbdaea 162px,#a9d1e5 165px,#b6d7e8 168px,#d5e7f1 171px,#f5f6f7 174px,#fcdfcf 177px,#f8bb9e 180px,#f4a683 183px,#f5aa89 186px)"></div><div style="top:61px;background:linear-gradient(90deg,#f9eee7 0px,#a2cde3 3px,#3681ba 6px,#1b5a9c 9px,#2369ad 12px,#59a1ca 15px,#d7e8f1 18px,#fbccb4 21px,#d6604d 24px,#b3192c 27px,#b3192c 30px,#d7634f 33px,#fbceb7 36px,#d8e9f1 39px,#62a7ce 42px,#276eb0 45px,#1e61a5 48px,#327cb7 51px,#84bcd9 54px,#e4eef4 57px,#fcd3bc 60px,#f5a886 63px,#f9c6ac 66px,#edf2f5 69px,#84bcd9 72px,#3783bb 75px,#3c8abe 78px,#9dcbe1 81px,#f6f7f7 84px,#facab1 87px,#f9c4a9 90px,#f9ebe3 93px,#d1e5f0 96px,#78b4d5 99px,#4695c4 102px,#7eb8d7 105px,#ddebf2 108px,#fddcc9 111px,#f5a886 114px,#f6af8e 117px,#fcdecd 120px,#ecf2f5 123px,#c2ddec 126px,#a5cee3 129px,#a5cee3 132px,#c2ddec 135px,#e4eef4 138px,#f9ede5 141px,#fcd7c2 144px,#f9c4a9 147px,#f9c6ac 150px,#fdddcb 153px,#f8f2ef 156px,#deebf2 159px,#bbdaea 162px,#a5cee3 165px,#acd2e5 168px,#cce2ef 171px,#edf2f5 174px,#fbe4d6 177px,#f8bfa4 180px,#f4a683 183px,#f3a481 186px)"></div><div style="top:62px;background:linear-gradient(90deg,#f9f0eb 0px,#9dcbe1 3px,#3480b9 6px,#1b5a9c 9px,#2369ad 12px,#5ca3cb 15px,#dae9f2 18px,#facab1 21px,#d55d4c 24px,#b1182b 27px,#b3192c 30px,#d7634f 33px,#fbd0b9 36px,#d7e8f1 39px,#5ca3cb 42px,#266caf 45px,#1c5c9f 48px,#307ab6 51px,#7eb8d7 54px,#e0ecf3 57px,#fddbc7 60px,#f7b596 63px,#fcd7c2 66px,#e1edf3 69px,#71b0d3 72px,#3681ba 75px,#408fc1 78px,#acd2e5 81px,#f8f1ed 84px,#f9c4a9 87px,#fac8af 90px,#f8f1ed 93px,#c2ddec 96px,#68abd0 99px,#4c99c6 102px,#9bc9e0 105px,#f7f6f6 108px,#f6af8e 111px,#dd7059 114px,#e58368 117px,#fbccb4 120px,#f2f5f6 123px,#c2ddec 126px,#9bc9e0 129px,#98c8e0 132px,#b3d6e8 135px,#deebf2 138px,#f9f0eb 141px,#fcd7c2 144px,#f8bda1 147px,#f8bda1 150px,#fcd5bf 153px,#f9eee7 156px,#e3edf3 159px,#bddbea 162px,#a2cde3 165px,#a2cde3 168px,#c0dceb 171px,#e6eff4 174px,#fae8de 177px,#f9c4a9 180px,#f3a481 183px,#f09c7b 186px)"></div><div style="top:63px;background:linear-gradient(90deg,#f8f2ef 0px,#9bc9e0 3px,#337eb8 6px,#1b5a9c 9px,#2369ad 12px,#5fa5cd 15px,#dbeaf2 18px,#fac8af 21px,#d25849 24px,#ae172a 27px,#b3192c 30px,#d86551 33px,#fcd3bc 36px,#d5e7f1 39px,#59a1ca 42px,#246aae 45px,#1b5a9c 48px,#2f79b5 51px,#78b4d5 54px,#ddebf2 57px,#fcdecd 60px,#f9c2a7 63px,#fce0d0 66px,#d7e8f1 69px,#65a9cf 72px,#3681ba 75px,#4c99c6 78px,#c0dceb 81px,#fae8de 84px,#f8bb9e 87px,#fac8af 90px,#f7f5f4 93px,#b1d5e7 96px,#5ca3cb 99px,#569fc9 102px,#b8d8e9 105px,#fbe3d4 108px,#e17860 111px,#c2383a 114px,#d35a4a 117px,#f7b799 120px,#f7f6f6 123px,#c0dceb 126px,#93c6de 129px,#87beda 132px,#a7d0e4 135px,#d7e8f1 138px,#f8f2ef 141px,#fcd7c2 144px,#f7b99c 147px,#f7b596 150px,#facab1 153px,#fae8de 156px,#e7f0f4 159px,#c0dceb 162px,#9dcbe1 165px,#98c8e0 168px,#b1d5e7 171px,#ddebf2 174px,#f9ede5 177px,#facab1 180px,#f3a481 183px,#ec9374 186px)"></div><div style="top:64px;background:linear-gradient(90deg,#f8f3f0 0px,#96c7df 3px,#327cb7 6px,#1b5a9c 9px,#246aae 12px,#62a7ce 15px,#deebf2 18px,#f9c4a9 21px,#d05548 24px,#ae172a 27px,#b3192c 30px,#d86551 33px,#fcd5bf 36px,#d4e6f1 39px,#569fc9 42px,#2369ad 45px,#1b5a9c 48px,#2e77b5 51px,#78b4d5 54px,#dbeaf2 57px,#fce2d2 60px,#facab1 63px,#fae7dc 66px,#cce2ef 69px,#5fa5cd 72px,#3885bc 75px,#62a7ce 78px,#d4e6f1 81px,#fcdfcf 84px,#f6b191 87px,#f9c6ac 90px,#f5f6f7 93px,#a2cde3 96px,#4f9bc7 99px,#62a7ce 102px,#d2e6f0 105px,#f9c6ac 108px,#c6413e 111px,#9c1127 114px,#bf3338 117px,#f5a886 120px,#f8f3f0 123px,#c0dceb 126px,#87beda 129px,#78b4d5 132px,#98c8e0 135px,#d1e5f0 138px,#f7f5f4 141px,#fcd7c2 144px,#f7b596 147px,#f5ac8b 150px,#f8bfa4 153px,#fbe4d6 156px,#ecf2f5 159px,#c0dceb 162px,#98c8e0 165px,#8dc2dc 168px,#a5cee3 171px,#d5e7f1 174px,#f8f2ef 177px,#fbceb7 180px,#f3a481 183px,#ea8e70 186px)"></div><div style="top:65px;background:linear-gradient(90deg,#f7f5f4 0px,#93c6de 3px,#307ab6 6px,#1b5a9c 9px,#266caf 12px,#65a9cf 15px,#e0ecf3 18px,#f9c2a7 21px,#cf5246 24px,#ab162a 27px,#b3192c 30px,#da6853 33px,#fcd7c2 36px,#d1e5f0 39px,#529dc8 42px,#2369ad 45px,#1b5a9c 48px,#2f79b5 51px,#78b4d5 54px,#dbeaf2 57px,#fce2d2 60px,#fbceb7 63px,#f9ebe3 66px,#c5dfec 69px,#5ca3cb 72px,#3e8cbf 75px,#7bb6d6 78px,#e4eef4 81px,#fbceb7 84px,#f3a481 87px,#f9c4a9 90px,#eff3f5 93px,#96c7df 96px,#4997c5 99px,#6eaed2 102px,#e4eef4 105px,#f2a17f 108px,#a81529 111px,#700320 114px,#b1182b 117px,#ef9979 120px,#f9f0eb 123px,#bbdaea 126px,#7bb6d6 129px,#68abd0 132px,#8ac0db 135px,#c5dfec 138px,#f6f7f7 141px,#fcd7c2 144px,#f6af8e 147px,#f2a17f 150px,#f7b596 153px,#fcdecd 156px,#f0f4f6 159px,#c2ddec 162px,#93c6de 165px,#81bad8 168px,#98c8e0 171px,#cce2ef 174px,#f7f6f6 177px,#fcd5bf 180px,#f3a481 183px,#e8896c 186px)"></div><div style="top:66px;background:linear-gradient(90deg,#f7f6f6 0px,#90c4dd 3px,#307ab6 6px,#1b5a9c 9px,#276eb0 12px,#6bacd1 15px,#e3edf3 18px,#f8bda1 21px,#ce4f45 24px,#ab162a 27px,#b41c2d 30px,#db6b55 33px,#fdd9c4 36px,#cfe4ef 39px,#4f9bc7 42px,#2369ad 45px,#1c5c9f 48px,#307ab6 51px,#7eb8d7 54px,#ddebf2 57px,#fce0d0 60px,#fbd0b9 63px,#f9efe9 66px,#c0dceb 69px,#5fa5cd 72px,#4997c5 75px,#98c8e0 78px,#f5f6f7 81px,#f7b799 84px,#eb9172 87px,#f8bfa4 90px,#ecf2f5 93px,#87beda 96px,#4393c3 99px,#7bb6d6 102px,#f3f5f6 105px,#e17860 108px,#790622 111px,#67001f 114px,#9f1228 117px,#ea8e70 120px,#f9efe9 123px,#b6d7e8 126px,#6eaed2 129px,#59a1ca 132px,#7bb6d6 135px,#bbdaea 138px,#f3f5f6 141px,#fcd7c2 144px,#f5a886 147px,#ee9677 150px,#f5aa89 153px,#fdd9c4 156px,#f5f6f7 159px,#c5dfec 162px,#90c4dd 165px,#75b2d4 168px,#8ac0db 171px,#bddbea 174px,#f0f4f6 177px,#fdd9c4 180px,#f4a683 183px,#e48066 186px)"></div><div style="top:67px;background:linear-gradient(90deg,#f5f6f7 0px,#8dc2dc 3px,#2f79b5 6px,#1b5a9c 9px,#2870b1 12px,#6eaed2 15px,#e4eef4 18px,#f8bb9e 21px,#cc4c44 24px,#ab162a 27px,#b41c2d 30px,#dc6e57 33px,#fddcc9 36px,#cce2ef 39px,#4f9bc7 42px,#2369ad 45px,#1d5fa2 48px,#337eb8 51px,#84bcd9 54px,#e3edf3 57px,#fdddcb 60px,#fbceb7 63px,#f9efe9 66px,#bddbea 69px,#68abd0 72px,#5ca3cb 75px,#b1d5e7 78px,#f9ebe3 81px,#f19e7d 84px,#e27b62 87px,#f8bb9e 90px,#e9f0f4 93px,#7bb6d6 96px,#408fc1 99px,#87beda 102px,#f9f0eb 105px,#d05548 108px,#67001f 111px,#67001f 114px,#930e26 117px,#e8896c 120px,#f9efe9 123px,#b1d5e7 126px,#62a7ce 129px,#4695c4 132px,#6bacd1 135px,#b3d6e8 138px,#f2f5f6 141px,#fcd5bf 144px,#f2a17f 147px,#e8896c 150px,#f19e7d 153px,#fbceb7 156px,#f7f5f4 159px,#c7e0ed 162px,#8ac0db 165px,#6bacd1 168px,#7bb6d6 171px,#b1d5e7 174px,#e9f0f4 177px,#fdddcb 180px,#f4a683 183px,#e37e64 186px)"></div><div style="top:68px;background:linear-gradient(90deg,#f3f5f6 0px,#8ac0db 3px,#2f79b5 6px,#1c5c9f 9px,#2a71b2 12px,#75b2d4 15px,#e7f0f4 18px,#f7b99c 21px,#cc4c44 24px,#ab162a 27px,#b61f2e 30px,#dd7059 33px,#fdddcb 36px,#cae1ee 39px,#4f9bc7 42px,#246aae 45px,#1f63a8 48px,#3783bb 51px,#90c4dd 54px,#eaf1f5 57px,#fcd5bf 60px,#fac8af 63px,#f9eee7 66px,#c0dceb 69px,#71b0d3 72px,#71b0d3 75px,#cae1ee 78px,#fcdecd 81px,#e48066 84px,#da6853 87px,#f7b596 90px,#e6eff4 93px,#71b0d3 96px,#3f8ec0 99px,#90c4dd 102px,#fae7dc 105px,#c43b3c 108px,#67001f 111px,#67001f 114px,#900d26 117px,#e6866a 120px,#f9f0eb 123px,#a9d1e5 126px,#529dc8 129px,#3e8cbf 132px,#5ca3cb 135px,#a9d1e5 138px,#eff3f5 141px,#fcd3bc 144px,#ef9979 147px,#e37e64 150px,#eb9172 153px,#f9c4a9 156px,#f8f2ef 159px,#cae1ee 162px,#87beda 165px,#5fa5cd 168px,#6bacd1 171px,#a2cde3 174px,#e3edf3 177px,#fce0d0 180px,#f5a886 183px,#e17860 186px)"></div><div style="top:69px;background:linear-gradient(90deg,#f2f5f6 0px,#87beda 3px,#2f79b5 6px,#1c5c9f 9px,#2b73b3 12px,#78b4d5 15px,#e9f0f4 18px,#f7b596 21px,#cb4942 24px,#ab162a 27px,#b72230 30px,#df765e 33px,#fcdecd 36px,#c7e0ed 39px,#4c99c6 42px,#266caf 45px,#2267ac 48px,#3c8abe 51px,#9bc9e0 54px,#f3f5f6 57px,#fac8af 60px,#f8bda1 63px,#f9ebe3 66px,#c5dfec 69px,#7eb8d7 72px,#87beda 75px,#ddebf2 78px,#fac8af 81px,#d86551 84px,#d05548 87px,#f6af8e 90px,#e4eef4 93px,#68abd0 96px,#3e8cbf 99px,#98c8e0 102px,#fce0d0 105px,#ba2832 108px,#67001f 111px,#67001f 114px,#930e26 117px,#e98b6e 120px,#f8f3f0 123px,#a2cde3 126px,#4695c4 129px,#3783bb 132px,#4c99c6 135px,#a2cde3 138px,#edf2f5 141px,#fbd0b9 144px,#eb9172 147px,#dd7059 150px,#e58368 153px,#f8bb9e 156px,#f9efe9 159px,#cce2ef 162px,#81bad8 165px,#529dc8 168px,#5ca3cb 171px,#96c7df 174px,#dbeaf2 177px,#fbe4d6 180px,#f5aa89 183px,#df765e 186px)"></div><div style="top:70px;background:linear-gradient(90deg,#f0f4f6 0px,#87beda 3px,#2f79b5 6px,#1d5fa2 9px,#2e77b5 12px,#7eb8d7 15px,#ecf2f5 18px,#f6b394 21px,#c94741 24px,#ab162a 27px,#b82531 30px,#e17860 33px,#fce0d0 36px,#c5dfec 39px,#4c99c6 42px,#276eb0 45px,#266caf 48px,#4291c2 51px,#a9d1e5 54px,#f9f0eb 57px,#f7b596 60px,#f6b191 63px,#fae7dc 66px,#cce2ef 69px,#8ac0db 72px,#9bc9e0 75px,#eaf1f5 78px,#f6b394 81px,#cb4942 84px,#c84440 87px,#f5aa89 90px,#e3edf3 93px,#62a7ce 96px,#3b88be 99px,#9bc9e0 102px,#fdddcb 105px,#b61f2e 108px,#67001f 111px,#67001f 114px,#9f1228 117px,#ec9374 120px,#f7f6f6 123px,#98c8e0 126px,#3e8cbf 129px,#327cb7 132px,#4291c2 135px,#9bc9e0 138px,#ecf2f5 141px,#fbceb7 144px,#e8896c 147px,#d86551 150px,#df765e 153px,#f6b191 156px,#f9ebe3 159px,#cfe4ef 162px,#7eb8d7 165px,#4997c5 168px,#4c99c6 171px,#87beda 174px,#d4e6f1 177px,#fae7dc 180px,#f5ac8b 183px,#dd7059 186px)"></div><div style="top:71px;background:linear-gradient(90deg,#edf2f5 0px,#84bcd9 3px,#2f79b5 6px,#1e61a5 9px,#2f79b5 12px,#84bcd9 15px,#eff3f5 18px,#f6b191 21px,#c94741 24px,#ae172a 27px,#ba2832 30px,#e37e64 33px,#fbe3d4 36px,#c2ddec 39px,#4c99c6 42px,#2a71b2 45px,#2b73b3 48px,#4f9bc7 51px,#bddbea 54px,#fbe5d8 57px,#f19e7d 60px,#f2a17f 63px,#fbe3d4 66px,#d2e6f0 69px,#96c7df 72px,#acd2e5 75px,#f7f6f6 78px,#f09c7b 81px,#bf3338 84px,#c13639 87px,#f5a886 90px,#e1edf3 93px,#59a1ca 96px,#3a87bd 99px,#9bc9e0 102px,#fddbc7 105px,#b61f2e 108px,#67001f 111px,#67001f 114px,#ae172a 117px,#f19e7d 120px,#f2f5f6 123px,#8ac0db 126px,#3783bb 129px,#2b73b3 132px,#3e8cbf 135px,#96c7df 138px,#eaf1f5 141px,#facab1 144px,#e48066 147px,#d25849 150px,#da6853 153px,#f5a886 156px,#fae8de 159px,#d1e5f0 162px,#7bb6d6 165px,#4291c2 168px,#4291c2 171px,#78b4d5 174px,#cce2ef 177px,#f9ebe3 180px,#f6af8e 183px,#dc6e57 186px)"></div><div style="top:72px;background:linear-gradient(90deg,#ecf2f5 0px,#84bcd9 3px,#307ab6 6px,#1f63a8 9px,#327cb7 12px,#8ac0db 15px,#f2f5f6 18px,#f6af8e 21px,#c94741 24px,#ae172a 27px,#bb2a34 30px,#e58368 33px,#fbe5d8 36px,#c0dceb 39px,#4c99c6 42px,#2b73b3 45px,#2f79b5 48px,#5fa5cd 51px,#d1e5f0 54px,#fcd7c2 57px,#e37e64 60px,#e8896c 63px,#fcdecd 66px,#d7e8f1 69px,#a0cce2 72px,#b8d8e9 75px,#f9efe9 78px,#e8896c 81px,#b72230 84px,#bb2a34 87px,#f4a683 90px,#deebf2 93px,#529dc8 96px,#3783bb 99px,#9bc9e0 102px,#fddbc7 105px,#ba2832 108px,#67001f 111px,#6d0220 114px,#ba2832 117px,#f5aa89 120px,#ecf2f5 123px,#7eb8d7 126px,#327cb7 129px,#266caf 132px,#3885bc 135px,#90c4dd 138px,#eaf1f5 141px,#fac8af 144px,#df765e 147px,#cc4c44 150px,#d35a4a 153px,#f09c7b 156px,#fbe5d8 159px,#d2e6f0 162px,#78b4d5 165px,#3e8cbf 168px,#3b88be 171px,#68abd0 174px,#c0dceb 177px,#f9efe9 180px,#f6b191 183px,#db6b55 186px)"></div><div style="top:73px;background:linear-gradient(90deg,#eaf1f5 0px,#81bad8 3px,#307ab6 6px,#2267ac 9px,#3480b9 12px,#90c4dd 15px,#f3f5f6 18px,#f5ac8b 21px,#c94741 24px,#b1182b 27px,#be3036 30px,#e8896c 33px,#fae7dc 36px,#bbdaea 39px,#4c99c6 42px,#2e77b5 45px,#3480b9 48px,#71b0d3 51px,#ddebf2 54px,#f8bda1 57px,#d55d4c 60px,#de735c 63px,#fdd9c4 66px,#dae9f2 69px,#a5cee3 72px,#c2ddec 75px,#fae9df 78px,#e27b62 81px,#b1182b 84px,#b72230 87px,#f4a683 90px,#ddebf2 93px,#4c99c6 96px,#3480b9 99px,#96c7df 102px,#fcdecd 105px,#c13639 108px,#790622 111px,#8a0b25 114px,#c53e3d 117px,#f7b799 120px,#e4eef4 123px,#6eaed2 126px,#2c75b4 129px,#2065ab 132px,#3480b9 135px,#8ac0db 138px,#eaf1f5 141px,#f9c4a9 144px,#dc6e57 147px,#c6413e 150px,#cc4c44 153px,#eb9172 156px,#fce2d2 159px,#d4e6f1 162px,#75b2d4 165px,#3a87bd 168px,#3681ba 171px,#59a1ca 174px,#b6d7e8 177px,#f8f2ef 180px,#f6b394 183px,#db6b55 186px)"></div><div style="top:74px;background:linear-gradient(90deg,#e9f0f4 0px,#81bad8 3px,#327cb7 6px,#2369ad 9px,#3783bb 12px,#96c7df 15px,#f6f7f7 18px,#f5aa89 21px,#c94741 24px,#b3192c 27px,#c13639 30px,#ea8e70 33px,#fae9df 36px,#b8d8e9 39px,#4c99c6 42px,#307ab6 45px,#3885bc 48px,#84bcd9 51px,#ecf2f5 54px,#f3a481 57px,#c43b3c 60px,#d35a4a 63px,#fbd0b9 66px,#dbeaf2 69px,#a7d0e4 72px,#c7e0ed 75px,#fae7dc 78px,#de735c 81px,#ab162a 84px,#b72230 87px,#f4a683 90px,#dae9f2 93px,#4393c3 96px,#307ab6 99px,#90c4dd 102px,#fce2d2 105px,#cb4942 108px,#991027 111px,#ab162a 114px,#d25849 117px,#f9c6ac 120px,#ddebf2 123px,#62a7ce 126px,#276eb0 129px,#1d5fa2 132px,#307ab6 135px,#87beda 138px,#eaf1f5 141px,#f8bfa4 144px,#d86551 147px,#bf3338 150px,#c6413e 153px,#e6866a 156px,#fcdecd 159px,#d7e8f1 162px,#71b0d3 165px,#3783bb 168px,#307ab6 171px,#4c99c6 174px,#acd2e5 177px,#f7f5f4 180px,#f7b799 183px,#db6b55 186px)"></div><div style="top:75px;background:linear-gradient(90deg,#e9f0f4 0px,#81bad8 3px,#337eb8 6px,#246aae 9px,#3885bc 12px,#9bc9e0 15px,#f7f5f4 18px,#f5a886 21px,#c94741 24px,#b41c2d 27px,#c43b3c 30px,#ee9677 33px,#f9ebe3 36px,#b3d6e8 39px,#4c99c6 42px,#327cb7 45px,#3e8cbf 48px,#96c7df 51px,#f7f5f4 54px,#e58368 57px,#b3192c 60px,#c94741 63px,#facab1 66px,#ddebf2 69px,#a7d0e4 72px,#c7e0ed 75px,#fbe6da 78px,#dd7059 81px,#a81529 84px,#b82531 87px,#f5aa89 90px,#d7e8f1 93px,#408fc1 96px,#2e77b5 99px,#87beda 102px,#fae7dc 105px,#d6604d 108px,#b72230 111px,#be3036 114px,#dc6e57 117px,#fcd3bc 120px,#d5e7f1 123px,#569fc9 126px,#2267ac 129px,#1a5899 132px,#2e77b5 135px,#84bcd9 138px,#eaf1f5 141px,#f8bb9e 144px,#d55d4c 147px,#ba2832 150px,#c13639 153px,#e27b62 156px,#fddbc7 159px,#d8e9f1 162px,#71b0d3 165px,#3480b9 168px,#2c75b4 171px,#4291c2 174px,#a2cde3 177px,#f5f6f7 180px,#f8bb9e 183px,#da6853 186px)"></div><div style="top:76px;background:linear-gradient(90deg,#e7f0f4 0px,#81bad8 3px,#337eb8 6px,#276eb0 9px,#3c8abe 12px,#a0cce2 15px,#f8f4f2 18px,#f4a683 21px,#c94741 24px,#b61f2e 27px,#c6413e 30px,#f09c7b 33px,#f9efe9 36px,#b1d5e7 39px,#4997c5 42px,#337eb8 45px,#4291c2 48px,#a2cde3 51px,#f9ebe3 54px,#d7634f 57px,#960f27 60px,#c13639 63px,#fac8af 66px,#dae9f2 69px,#a2cde3 72px,#c2ddec 75px,#fae7dc 78px,#df765e 81px,#b1182b 84px,#bb2a34 87px,#f6b191 90px,#d4e6f1 93px,#3e8cbf 96px,#2b73b3 99px,#7eb8d7 102px,#f9ede5 105px,#e17860 108px,#c6413e 111px,#cc4c44 114px,#e6866a 117px,#fdddcb 120px,#cce2ef 123px,#4997c5 126px,#1e61a5 129px,#175290 132px,#2c75b4 135px,#81bad8 138px,#ecf2f5 141px,#f7b99c 144px,#d05548 147px,#b61f2e 150px,#bb2a34 153px,#de735c 156px,#fcd5bf 159px,#dae9f2 162px,#6eaed2 165px,#327cb7 168px,#2870b1 171px,#3c8abe 174px,#98c8e0 177px,#f0f4f6 180px,#f8bda1 183px,#da6853 186px)"></div><div style="top:77px;background:linear-gradient(90deg,#e6eff4 0px,#81bad8 3px,#3480b9 6px,#2a71b2 9px,#3f8ec0 12px,#a5cee3 15px,#f8f2ef 18px,#f3a481 21px,#c94741 24px,#b82531 27px,#c94741 30px,#f3a481 33px,#f8f1ed 36px,#acd2e5 39px,#4997c5 42px,#3480b9 45px,#4997c5 48px,#aed3e6 51px,#fbe3d4 54px,#c94741 57px,#7c0722 60px,#bb2a34 63px,#fac8af 66px,#d7e8f1 69px,#9bc9e0 72px,#bbdaea 75px,#f9ebe3 78px,#e48066 81px,#b72230 84px,#c2383a 87px,#f7b799 90px,#d1e5f0 93px,#3c8abe 96px,#2a71b2 99px,#75b2d4 102px,#f8f2ef 105px,#eb9172 108px,#d6604d 111px,#da6853 114px,#f09c7b 117px,#fbe4d6 120px,#c0dceb 123px,#4291c2 126px,#1c5c9f 129px,#144e8a 132px,#2b73b3 135px,#81bad8 138px,#edf2f5 141px,#f7b596 144px,#cc4c44 147px,#ae172a 150px,#b61f2e 153px,#da6853 156px,#fbd0b9 159px,#dbeaf2 162px,#6eaed2 165px,#2f79b5 168px,#246aae 171px,#3783bb 174px,#90c4dd 177px,#ecf2f5 180px,#f9c2a7 183px,#db6b55 186px)"></div><div style="top:78px;background:linear-gradient(90deg,#e6eff4 0px,#81bad8 3px,#3681ba 6px,#2b73b3 9px,#4291c2 12px,#a9d1e5 15px,#f9f0eb 18px,#f2a17f 21px,#c94741 24px,#ba2832 27px,#ce4f45 30px,#f5aa89 33px,#f8f4f2 36px,#a7d0e4 39px,#4695c4 42px,#3681ba 45px,#4f9bc7 48px,#bbdaea 51px,#fddbc7 54px,#be3036 57px,#67001f 60px,#b72230 63px,#fbccb4 66px,#d1e5f0 69px,#8dc2dc 72px,#aed3e6 75px,#f8f1ed 78px,#ea8e70 81px,#bf3338 84px,#c94741 87px,#f8bfa4 90px,#cce2ef 93px,#3c8abe 96px,#2870b1 99px,#6bacd1 102px,#f5f6f7 105px,#f4a683 108px,#e17860 111px,#e48066 114px,#f5ac8b 117px,#faeae1 120px,#b6d7e8 123px,#3e8cbf 126px,#1a5899 129px,#134c87 132px,#2a71b2 135px,#81bad8 138px,#eff3f5 141px,#f6b191 144px,#c84440 147px,#a51429 150px,#ae172a 153px,#d6604d 156px,#facab1 159px,#ddebf2 162px,#6eaed2 165px,#2c75b4 168px,#2065ab 171px,#337eb8 174px,#87beda 177px,#e9f0f4 180px,#f9c4a9 183px,#db6b55 186px)"></div><div style="top:79px;background:linear-gradient(90deg,#e4eef4 0px,#84bcd9 3px,#3783bb 6px,#2e77b5 9px,#4695c4 12px,#aed3e6 15px,#f9efe9 18px,#f19e7d 21px,#cb4942 24px,#bd2d35 27px,#d05548 30px,#f6b191 33px,#f6f7f7 36px,#a0cce2 39px,#4393c3 42px,#3681ba 45px,#569fc9 48px,#c5dfec 51px,#fbd0b9 54px,#b61f2e 57px,#67001f 60px,#b82531 63px,#fcd5bf 66px,#c2ddec 69px,#7bb6d6 72px,#a0cce2 75px,#f5f6f7 78px,#f3a481 81px,#cb4942 84px,#d35a4a 87px,#fac8af 90px,#cae1ee 93px,#3c8abe 96px,#2870b1 99px,#68abd0 102px,#eff3f5 105px,#f7b596 108px,#ea8e70 111px,#ec9374 114px,#f7b99c 117px,#f9f0eb 120px,#aed3e6 123px,#3b88be 126px,#185493 129px,#134c87 132px,#2a71b2 135px,#84bcd9 138px,#f0f4f6 141px,#f5ac8b 144px,#c53e3d 147px,#9c1127 150px,#a51429 153px,#d25849 156px,#f9c6ac 159px,#e0ecf3 162px,#6eaed2 165px,#2b73b3 168px,#1e61a5 171px,#2f79b5 174px,#7eb8d7 177px,#e4eef4 180px,#fac8af 183px,#dc6e57 186px)"></div><div style="top:80px;background:linear-gradient(90deg,#e4eef4 0px,#84bcd9 3px,#3a87bd 6px,#307ab6 9px,#4c99c6 12px,#b3d6e8 15px,#f9ede5 18px,#f19e7d 21px,#cb4942 24px,#be3036 27px,#d35a4a 30px,#f7b799 33px,#f2f5f6 36px,#9bc9e0 39px,#408fc1 42px,#3681ba 45px,#5ca3cb 48px,#cce2ef 51px,#fac8af 54px,#b1182b 57px,#67001f 60px,#bd2d35 63px,#fcdecd 66px,#b1d5e7 69px,#68abd0 72px,#8dc2dc 75px,#eaf1f5 78px,#f7b799 81px,#d7634f 84px,#dc6e57 87px,#fbd0b9 90px,#c7e0ed 93px,#3f8ec0 96px,#2b73b3 99px,#65a9cf 102px,#e7f0f4 105px,#f9c4a9 108px,#f2a17f 111px,#f3a481 114px,#f9c6ac 117px,#f8f4f2 120px,#a7d0e4 123px,#3885bc 126px,#185493 129px,#134c87 132px,#2b73b3 135px,#87beda 138px,#f3f5f6 141px,#f5a886 144px,#c13639 147px,#930e26 150px,#9f1228 153px,#cf5246 156px,#f9c4a9 159px,#e1edf3 162px,#6eaed2 165px,#2a71b2 168px,#1c5c9f 171px,#2c75b4 174px,#75b2d4 177px,#e1edf3 180px,#fbccb4 183px,#dc6e57 186px)"></div><div style="top:81px;background:linear-gradient(90deg,#e3edf3 0px,#84bcd9 3px,#3b88be 6px,#337eb8 9px,#529dc8 12px,#b8d8e9 15px,#f9ebe3 18px,#f09c7b 21px,#cc4c44 24px,#c13639 27px,#d7634f 30px,#f8bda1 33px,#edf2f5 36px,#93c6de 39px,#3f8ec0 42px,#3681ba 45px,#5ca3cb 48px,#d1e5f0 51px,#f9c2a7 54px,#ab162a 57px,#67001f 60px,#c43b3c 63px,#fbe6da 66px,#a0cce2 69px,#529dc8 72px,#78b4d5 75px,#deebf2 78px,#facab1 81px,#e37e64 84px,#e58368 87px,#fdd9c4 90px,#cae1ee 93px,#4291c2 96px,#2e77b5 99px,#65a9cf 102px,#e3edf3 105px,#fbceb7 108px,#f5ac8b 111px,#f6af8e 114px,#fbceb7 117px,#f5f6f7 120px,#a2cde3 123px,#3783bb 126px,#185493 129px,#144e8a 132px,#2c75b4 135px,#8ac0db 138px,#f5f6f7 141px,#f3a481 144px,#be3036 147px,#8d0c25 150px,#991027 153px,#cc4c44 156px,#f8bfa4 159px,#e3edf3 162px,#6eaed2 165px,#2870b1 168px,#1b5a9c 171px,#2a71b2 174px,#6eaed2 177px,#deebf2 180px,#fbceb7 183px,#dd7059 186px)"></div><div style="top:82px;background:linear-gradient(90deg,#e3edf3 0px,#87beda 3px,#3c8abe 6px,#3480b9 9px,#59a1ca 12px,#bddbea 15px,#fae9df 18px,#f09c7b 21px,#cc4c44 24px,#c2383a 27px,#db6b55 30px,#f9c4a9 33px,#e9f0f4 36px,#8ac0db 39px,#3c8abe 42px,#3480b9 45px,#5fa5cd 48px,#d1e5f0 51px,#f8bfa4 54px,#b1182b 57px,#700320 60px,#ce4f45 63px,#f9efe9 66px,#8dc2dc 69px,#408fc1 72px,#65a9cf 75px,#d4e6f1 78px,#fdddcb 81px,#ef9979 84px,#ef9979 87px,#fdddcb 90px,#cce2ef 93px,#4f9bc7 96px,#337eb8 99px,#68abd0 102px,#e0ecf3 105px,#fdd9c4 108px,#f7b799 111px,#f7b799 114px,#fcd7c2 117px,#f0f4f6 120px,#9dcbe1 123px,#3783bb 126px,#195696 129px,#175290 132px,#2f79b5 135px,#90c4dd 138px,#f7f6f6 141px,#f19e7d 144px,#bb2a34 147px,#870a24 150px,#930e26 153px,#cb4942 156px,#f8bda1 159px,#e4eef4 162px,#6eaed2 165px,#2870b1 168px,#195696 171px,#276eb0 174px,#68abd0 177px,#dbeaf2 180px,#fcd3bc 183px,#de735c 186px)"></div><div style="top:83px;background:linear-gradient(90deg,#e1edf3 0px,#87beda 3px,#3e8cbf 6px,#3783bb 9px,#5fa5cd 12px,#c2ddec 15px,#fae8de 18px,#ef9979 21px,#ce4f45 24px,#c53e3d 27px,#dd7059 30px,#facab1 33px,#e4eef4 36px,#84bcd9 39px,#3a87bd 42px,#337eb8 45px,#5ca3cb 48px,#d2e6f0 51px,#f9c2a7 54px,#b72230 57px,#840924 60px,#da6853 63px,#f6f7f7 66px,#75b2d4 69px,#3783bb 72px,#529dc8 75px,#c5dfec 78px,#fae7dc 81px,#f6b394 84px,#f5ac8b 87px,#fce0d0 90px,#d1e5f0 93px,#62a7ce 96px,#3b88be 99px,#71b0d3 102px,#ddebf2 105px,#fdddcb 108px,#f8bda1 111px,#f8bfa4 114px,#fddcc9 117px,#edf2f5 120px,#9dcbe1 123px,#3885bc 126px,#1b5a9c 129px,#195696 132px,#327cb7 135px,#96c7df 138px,#f7f5f4 141px,#f09c7b 144px,#b82531 147px,#810823 150px,#8d0c25 153px,#c84440 156px,#f8bb9e 159px,#e4eef4 162px,#6eaed2 165px,#276eb0 168px,#185493 171px,#266caf 174px,#65a9cf 177px,#d8e9f1 180px,#fcd7c2 183px,#df765e 186px)"></div><div style="top:84px;background:linear-gradient(90deg,#e1edf3 0px,#87beda 3px,#3f8ec0 6px,#3a87bd 9px,#65a9cf 12px,#c7e0ed 15px,#fbe6da 18px,#ee9677 21px,#ce4f45 24px,#c84440 27px,#df765e 30px,#fbd0b9 33px,#e0ecf3 36px,#7bb6d6 39px,#3681ba 42px,#307ab6 45px,#59a1ca 48px,#d1e5f0 51px,#f9c6ac 54px,#be3036 57px,#9c1127 60px,#e58368 63px,#e9f0f4 66px,#5fa5cd 69px,#307ab6 72px,#4997c5 75px,#b6d7e8 78px,#f9f0eb 81px,#f9c6ac 84px,#f8bb9e 87px,#fbe3d4 90px,#d7e8f1 93px,#78b4d5 96px,#4695c4 99px,#7bb6d6 102px,#ddebf2 105px,#fce0d0 108px,#f9c4a9 111px,#f9c4a9 114px,#fcdfcf 117px,#eaf1f5 120px,#9dcbe1 123px,#3b88be 126px,#1e61a5 129px,#1c5c9f 132px,#3681ba 135px,#9bc9e0 138px,#f8f3f0 141px,#ee9677 144px,#b72230 147px,#7f0823 150px,#8a0b25 153px,#c84440 156px,#f7b99c 159px,#e6eff4 162px,#6eaed2 165px,#276eb0 168px,#175290 171px,#246aae 174px,#5fa5cd 177px,#d7e8f1 180px,#fdd9c4 183px,#e27b62 186px)"></div><div style="top:85px;background:linear-gradient(90deg,#e1edf3 0px,#8ac0db 3px,#408fc1 6px,#3b88be 9px,#6bacd1 12px,#cce2ef 15px,#fbe5d8 18px,#ee9677 21px,#cf5246 24px,#c94741 27px,#e37e64 30px,#fcd7c2 33px,#dae9f2 36px,#71b0d3 39px,#337eb8 42px,#2e77b5 45px,#569fc9 48px,#cce2ef 51px,#fbccb4 54px,#c6413e 57px,#b61f2e 60px,#f09c7b 63px,#ddebf2 66px,#4c99c6 69px,#2b73b3 72px,#4291c2 75px,#acd2e5 78px,#f6f7f7 81px,#fcd5bf 84px,#f9c6ac 87px,#fbe3d4 90px,#e0ecf3 93px,#90c4dd 96px,#5fa5cd 99px,#8dc2dc 102px,#ddebf2 105px,#fbe3d4 108px,#fac8af 111px,#fac8af 114px,#fce0d0 117px,#eaf1f5 120px,#a0cce2 123px,#3f8ec0 126px,#2369ad 129px,#2065ab 132px,#3a87bd 135px,#a0cce2 138px,#f8f2ef 141px,#ec9374 144px,#b61f2e 147px,#7c0722 150px,#8a0b25 153px,#c6413e 156px,#f7b99c 159px,#e6eff4 162px,#6eaed2 165px,#266caf 168px,#175290 171px,#2369ad 174px,#5fa5cd 177px,#d5e7f1 180px,#fddcc9 183px,#e37e64 186px)"></div><div style="top:86px;background:linear-gradient(90deg,#e0ecf3 0px,#8ac0db 3px,#4291c2 6px,#3e8cbf 9px,#71b0d3 12px,#d1e5f0 15px,#fbe4d6 18px,#ec9374 21px,#cf5246 24px,#cb4942 27px,#e58368 30px,#fddcc9 33px,#d5e7f1 36px,#68abd0 39px,#2f79b5 42px,#2c75b4 45px,#529dc8 48px,#cae1ee 51px,#fcd5bf 54px,#d05548 57px,#c43b3c 60px,#f6b394 63px,#d2e6f0 66px,#408fc1 69px,#2870b1 72px,#3f8ec0 75px,#a2cde3 78px,#edf2f5 81px,#fcdecd 84px,#fbceb7 87px,#fbe3d4 90px,#e9f0f4 93px,#a9d1e5 96px,#7eb8d7 99px,#9dcbe1 102px,#e0ecf3 105px,#fbe4d6 108px,#fbccb4 111px,#fbccb4 114px,#fbe3d4 117px,#eaf1f5 120px,#a5cee3 123px,#4695c4 126px,#2a71b2 129px,#276eb0 132px,#3f8ec0 135px,#a7d0e4 138px,#f9f0eb 141px,#eb9172 144px,#b41c2d 147px,#7c0722 150px,#8a0b25 153px,#c6413e 156px,#f7b99c 159px,#e6eff4 162px,#6eaed2 165px,#266caf 168px,#175290 171px,#2369ad 174px,#5ca3cb 177px,#d4e6f1 180px,#fdddcb 183px,#e58368 186px)"></div><div style="top:87px;background:linear-gradient(90deg,#e0ecf3 0px,#8ac0db 3px,#4393c3 6px,#3f8ec0 9px,#75b2d4 12px,#d2e6f0 15px,#fbe3d4 18px,#ec9374 21px,#cf5246 24px,#ce4f45 27px,#e8896c 30px,#fcdecd 33px,#d2e6f0 36px,#5fa5cd 39px,#2c75b4 42px,#2870b1 45px,#4c99c6 48px,#c2ddec 51px,#fddcc9 54px,#da6853 57px,#d05548 60px,#f9c6ac 63px,#c2ddec 66px,#3b88be 69px,#276eb0 72px,#3e8cbf 75px,#9bc9e0 78px,#e7f0f4 81px,#fbe3d4 84px,#fbd0b9 87px,#fcdfcf 90px,#f2f5f6 93px,#c5dfec 96px,#9bc9e0 99px,#acd2e5 102px,#e3edf3 105px,#fbe5d8 108px,#fbceb7 111px,#fbceb7 114px,#fbe3d4 117px,#ecf2f5 120px,#aed3e6 123px,#569fc9 126px,#307ab6 129px,#2e77b5 132px,#4695c4 135px,#acd2e5 138px,#f9efe9 141px,#eb9172 144px,#b41c2d 147px,#7c0722 150px,#8a0b25 153px,#c84440 156px,#f7b99c 159px,#e6eff4 162px,#6eaed2 165px,#266caf 168px,#175290 171px,#2369ad 174px,#5ca3cb 177px,#d2e6f0 180px,#fcdecd 183px,#e8896c 186px)"></div><div style="top:88px;background:linear-gradient(90deg,#e0ecf3 0px,#8dc2dc 3px,#4695c4 6px,#4291c2 9px,#7bb6d6 12px,#d5e7f1 15px,#fce0d0 18px,#eb9172 21px,#cf5246 24px,#cf5246 27px,#ea8e70 30px,#fce2d2 33px,#cce2ef 36px,#59a1ca 39px,#2a71b2 42px,#266caf 45px,#4695c4 48px,#bddbea 51px,#fce0d0 54px,#e27b62 57px,#dc6e57 60px,#fcd7c2 63px,#b3d6e8 66px,#3783bb 69px,#2870b1 72px,#3c8abe 75px,#93c6de 78px,#e3edf3 81px,#fbe5d8 84px,#fcd3bc 87px,#fddcc9 90px,#f8f2ef 93px,#d8e9f1 96px,#b6d7e8 99px,#c0dceb 102px,#e7f0f4 105px,#fbe5d8 108px,#fbd0b9 111px,#fbceb7 114px,#fce2d2 117px,#f0f4f6 120px,#b8d8e9 123px,#68abd0 126px,#3a87bd 129px,#3681ba 132px,#569fc9 135px,#b3d6e8 138px,#f9eee7 141px,#eb9172 144px,#b61f2e 147px,#7f0823 150px,#900d26 153px,#c94741 156px,#f8bb9e 159px,#e6eff4 162px,#6eaed2 165px,#266caf 168px,#175290 171px,#246aae 174px,#5ca3cb 177px,#d2e6f0 180px,#fce0d0 183px,#e98b6e 186px)"></div><div style="top:89px;background:linear-gradient(90deg,#e0ecf3 0px,#8dc2dc 3px,#4997c5 6px,#4393c3 9px,#7eb8d7 12px,#d7e8f1 15px,#fcdfcf 18px,#eb9172 21px,#d05548 24px,#d05548 27px,#eb9172 30px,#fbe4d6 33px,#c7e0ed 36px,#4f9bc7 39px,#276eb0 42px,#2369ad 45px,#4291c2 48px,#b8d8e9 51px,#fbe5d8 54px,#ea8e70 57px,#e48066 60px,#fcdfcf 63px,#a9d1e5 66px,#3681ba 69px,#2a71b2 72px,#3c8abe 75px,#90c4dd 78px,#e0ecf3 81px,#fae7dc 84px,#fbd0b9 87px,#fcd5bf 90px,#fae9df 93px,#e7f0f4 96px,#cfe4ef 99px,#d1e5f0 102px,#ecf2f5 105px,#fbe5d8 108px,#fbd0b9 111px,#fbceb7 114px,#fce0d0 117px,#f3f5f6 120px,#c5dfec 123px,#7bb6d6 126px,#4393c3 129px,#3e8cbf 132px,#62a7ce 135px,#bbdaea 138px,#f9ede5 141px,#eb9172 144px,#b72230 147px,#840924 150px,#960f27 153px,#cc4c44 156px,#f8bda1 159px,#e6eff4 162px,#6eaed2 165px,#266caf 168px,#175290 171px,#266caf 174px,#5fa5cd 177px,#d1e5f0 180px,#fce2d2 183px,#eb9172 186px)"></div><div style="top:90px;background:linear-gradient(90deg,#deebf2 0px,#8dc2dc 3px,#4997c5 6px,#4695c4 9px,#84bcd9 12px,#d8e9f1 15px,#fcdecd 18px,#ea8e70 21px,#d05548 24px,#d05548 27px,#ee9677 30px,#fbe6da 33px,#c2ddec 36px,#4997c5 39px,#246aae 42px,#2267ac 45px,#3f8ec0 48px,#b1d5e7 51px,#fae9df 54px,#f09c7b 57px,#eb9172 60px,#fbe5d8 63px,#a2cde3 66px,#3681ba 69px,#2b73b3 72px,#3c8abe 75px,#8dc2dc 78px,#deebf2 81px,#fae7dc 84px,#fbccb4 87px,#facab1 90px,#fce0d0 93px,#f6f7f7 96px,#deebf2 99px,#dbeaf2 102px,#f0f4f6 105px,#fbe6da 108px,#fcd3bc 111px,#fbceb7 114px,#fcdfcf 117px,#f7f5f4 120px,#d2e6f0 123px,#93c6de 126px,#59a1ca 129px,#4c99c6 132px,#71b0d3 135px,#c0dceb 138px,#f9ede5 141px,#ee9677 144px,#bb2a34 147px,#8d0c25 150px,#9f1228 153px,#d05548 156px,#f8bfa4 159px,#e4eef4 162px,#71b0d3 165px,#276eb0 168px,#185493 171px,#276eb0 174px,#62a7ce 177px,#d1e5f0 180px,#fbe3d4 183px,#ef9979 186px)"></div><div style="top:91px;background:linear-gradient(90deg,#deebf2 0px,#8dc2dc 3px,#4c99c6 6px,#4997c5 9px,#87beda 12px,#dae9f2 15px,#fdddcb 18px,#ea8e70 21px,#d05548 24px,#d25849 27px,#ef9979 30px,#fae7dc 33px,#bddbea 36px,#4393c3 39px,#2267ac 42px,#1f63a8 45px,#3c8abe 48px,#acd2e5 51px,#f9ede5 54px,#f4a683 57px,#f09c7b 60px,#fae8de 63px,#a0cce2 66px,#3783bb 69px,#2c75b4 72px,#3c8abe 75px,#8dc2dc 78px,#deebf2 81px,#fbe5d8 84px,#f9c4a9 87px,#f8bda1 90px,#fcd5bf 93px,#f9ede5 96px,#edf2f5 99px,#e4eef4 102px,#f3f5f6 105px,#fbe6da 108px,#fcd5bf 111px,#fbceb7 114px,#fdddcb 117px,#f9f0eb 120px,#dbeaf2 123px,#a5cee3 126px,#71b0d3 129px,#62a7ce 132px,#81bad8 135px,#c7e0ed 138px,#f9ede5 141px,#f09c7b 144px,#bf3338 147px,#991027 150px,#ab162a 153px,#d35a4a 156px,#f9c2a7 159px,#e4eef4 162px,#71b0d3 165px,#2870b1 168px,#1a5899 171px,#2a71b2 174px,#65a9cf 177px,#d2e6f0 180px,#fbe4d6 183px,#f19e7d 186px)"></div><div style="top:92px;background:linear-gradient(90deg,#deebf2 0px,#8dc2dc 3px,#4c99c6 6px,#4997c5 9px,#8ac0db 12px,#dbeaf2 15px,#fdddcb 18px,#e98b6e 21px,#d05548 24px,#d25849 27px,#f09c7b 30px,#fae8de 33px,#bbdaea 36px,#4291c2 39px,#1f63a8 42px,#1e61a5 45px,#3b88be 48px,#a9d1e5 51px,#f9efe9 54px,#f5ac8b 57px,#f3a481 60px,#faeae1 63px,#9dcbe1 66px,#3885bc 69px,#2e77b5 72px,#3f8ec0 75px,#90c4dd 78px,#e0ecf3 81px,#fbe3d4 84px,#f8bda1 87px,#f6b191 90px,#f9c4a9 93px,#fbe3d4 96px,#f7f5f4 99px,#edf2f5 102px,#f6f7f7 105px,#fae7dc 108px,#fcd7c2 111px,#fbceb7 114px,#fdd9c4 117px,#faeae1 120px,#e6eff4 123px,#bbdaea 126px,#8dc2dc 129px,#78b4d5 132px,#90c4dd 135px,#cce2ef 138px,#f9eee7 141px,#f3a481 144px,#c53e3d 147px,#a81529 150px,#b41c2d 153px,#d86551 156px,#f9c6ac 159px,#e4eef4 162px,#78b4d5 165px,#2b73b3 168px,#1d5fa2 171px,#2c75b4 174px,#6bacd1 177px,#d2e6f0 180px,#fbe5d8 183px,#f3a481 186px)"></div><div style="top:93px;background:linear-gradient(90deg,#ddebf2 0px,#8dc2dc 3px,#4c99c6 6px,#4c99c6 9px,#8ac0db 12px,#ddebf2 15px,#fddcc9 18px,#e98b6e 21px,#cf5246 24px,#d25849 27px,#f09c7b 30px,#fae9df 33px,#b8d8e9 36px,#408fc1 39px,#1e61a5 42px,#1c5c9f 45px,#3a87bd 48px,#a7d0e4 51px,#f9f0eb 54px,#f6af8e 57px,#f4a683 60px,#faeae1 63px,#a0cce2 66px,#3b88be 69px,#327cb7 72px,#408fc1 75px,#93c6de 78px,#e3edf3 81px,#fcdfcf 84px,#f6b394 87px,#f2a17f 90px,#f6b394 93px,#fdd9c4 96px,#f9eee7 99px,#f3f5f6 102px,#f6f7f7 105px,#faeae1 108px,#fddbc7 111px,#fbceb7 114px,#fcd5bf 117px,#fbe5d8 120px,#f2f5f6 123px,#d1e5f0 126px,#a2cde3 129px,#8dc2dc 132px,#9dcbe1 135px,#cfe4ef 138px,#f9efe9 141px,#f5ac8b 144px,#ce4f45 147px,#b61f2e 150px,#bd2d35 153px,#dd7059 156px,#facab1 159px,#e4eef4 162px,#7bb6d6 165px,#2f79b5 168px,#2065ab 171px,#327cb7 174px,#75b2d4 177px,#d4e6f1 180px,#fbe6da 183px,#f5aa89 186px)"></div><div style="top:94px;background:linear-gradient(90deg,#ddebf2 0px,#8dc2dc 3px,#4c99c6 6px,#4c99c6 9px,#8dc2dc 12px,#deebf2 15px,#fddbc7 18px,#e8896c 21px,#cf5246 24px,#d25849 27px,#f09c7b 30px,#fae9df 33px,#b6d7e8 36px,#3f8ec0 39px,#1e61a5 42px,#1c5c9f 45px,#3885bc 48px,#a5cee3 51px,#f8f1ed 54px,#f6af8e 57px,#f3a481 60px,#fae9df 63px,#a5cee3 66px,#3f8ec0 69px,#3480b9 72px,#4393c3 75px,#98c8e0 78px,#e7f0f4 81px,#fddcc9 84px,#f5a886 87px,#eb9172 90px,#f2a17f 93px,#fac8af 96px,#fae7dc 99px,#f7f6f6 102px,#f5f6f7 105px,#f9eee7 108px,#fdddcb 111px,#fbccb4 114px,#fbceb7 117px,#fcdecd 120px,#f8f2ef 123px,#deebf2 126px,#b8d8e9 129px,#a2cde3 132px,#a9d1e5 135px,#d2e6f0 138px,#f8f1ed 141px,#f7b799 144px,#d7634f 147px,#bf3338 150px,#c6413e 153px,#e37e64 156px,#fbceb7 159px,#e6eff4 162px,#84bcd9 165px,#337eb8 168px,#266caf 171px,#3783bb 174px,#7bb6d6 177px,#d5e7f1 180px,#fae7dc 183px,#f6af8e 186px)"></div><div style="top:95px;background:linear-gradient(90deg,#ddebf2 0px,#8dc2dc 3px,#4c99c6 6px,#4c99c6 9px,#8dc2dc 12px,#deebf2 15px,#fddbc7 18px,#e6866a 21px,#ce4f45 24px,#d25849 27px,#f09c7b 30px,#fae9df 33px,#b6d7e8 36px,#3f8ec0 39px,#1d5fa2 42px,#1b5a9c 45px,#3885bc 48px,#a5cee3 51px,#f9f0eb 54px,#f5ac8b 57px,#f19e7d 60px,#fbe6da 63px,#acd2e5 66px,#4291c2 69px,#3783bb 72px,#4c99c6 75px,#a0cce2 78px,#eaf1f5 81px,#fcd5bf 84px,#ef9979 87px,#e37e64 90px,#ea8e70 93px,#f7b99c 96px,#fce2d2 99px,#f8f4f2 102px,#f2f5f6 105px,#f8f2ef 108px,#fce0d0 111px,#fbccb4 114px,#f9c6ac 117px,#fcd5bf 120px,#fae9df 123px,#ecf2f5 126px,#cfe4ef 129px,#b3d6e8 132px,#b3d6e8 135px,#d4e6f1 138px,#f8f4f2 141px,#f9c4a9 144px,#e17860 147px,#cc4c44 150px,#d05548 153px,#e98b6e 156px,#fcd3bc 159px,#e6eff4 162px,#8dc2dc 165px,#3a87bd 168px,#2c75b4 171px,#3c8abe 174px,#87beda 177px,#d7e8f1 180px,#fae8de 183px,#f7b596 186px)"></div><div style="top:96px;background:linear-gradient(90deg,#dbeaf2 0px,#8dc2dc 3px,#4c99c6 6px,#4c99c6 9px,#8dc2dc 12px,#e0ecf3 15px,#fdd9c4 18px,#e6866a 21px,#ce4f45 24px,#d05548 27px,#ef9979 30px,#fae9df 33px,#b8d8e9 36px,#3f8ec0 39px,#1d5fa2 42px,#1b5a9c 45px,#3885bc 48px,#a5cee3 51px,#f9efe9 54px,#f4a683 57px,#eb9172 60px,#fce0d0 63px,#b6d7e8 66px,#4c99c6 69px,#3b88be 72px,#529dc8 75px,#a5cee3 78px,#f0f4f6 81px,#facab1 84px,#e98b6e 87px,#db6b55 90px,#e27b62 93px,#f5ac8b 96px,#fdddcb 99px,#f8f3f0 102px,#edf2f5 105px,#f5f6f7 108px,#fbe6da 111px,#fbceb7 114px,#f8bfa4 117px,#fac8af 120px,#fcdfcf 123px,#f8f4f2 126px,#ddebf2 129px,#c5dfec 132px,#bddbea 135px,#d4e6f1 138px,#f6f7f7 141px,#fbd0b9 144px,#eb9172 147px,#d86551 150px,#db6b55 153px,#ef9979 156px,#fdd9c4 159px,#e7f0f4 162px,#98c8e0 165px,#4291c2 168px,#3681ba 171px,#4695c4 174px,#90c4dd 177px,#d8e9f1 180px,#fae9df 183px,#f8bb9e 186px)"></div><div style="top:97px;background:linear-gradient(90deg,#dbeaf2 0px,#8ac0db 3px,#4c99c6 6px,#4c99c6 9px,#8dc2dc 12px,#e0ecf3 15px,#fdd9c4 18px,#e58368 21px,#cc4c44 24px,#cf5246 27px,#ee9677 30px,#fae8de 33px,#b8d8e9 36px,#408fc1 39px,#1e61a5 42px,#1c5c9f 45px,#3a87bd 48px,#a7d0e4 51px,#f9ede5 54px,#f09c7b 57px,#e58368 60px,#fdd9c4 63px,#c2ddec 66px,#569fc9 69px,#3f8ec0 72px,#5ca3cb 75px,#acd2e5 78px,#f5f6f7 81px,#f9c2a7 84px,#e27b62 87px,#d35a4a 90px,#da6853 93px,#f19e7d 96px,#fdd9c4 99px,#f8f4f2 102px,#e6eff4 105px,#ecf2f5 108px,#f9ebe3 111px,#fbd0b9 114px,#f7b99c 117px,#f7b99c 120px,#fcd3bc 123px,#faeae1 126px,#eaf1f5 129px,#d4e6f1 132px,#c7e0ed 135px,#d5e7f1 138px,#f0f4f6 141px,#fcdecd 144px,#f5aa89 147px,#e48066 150px,#e58368 153px,#f5a886 156px,#fddcc9 159px,#eaf1f5 162px,#a2cde3 165px,#529dc8 168px,#3f8ec0 171px,#59a1ca 174px,#9bc9e0 177px,#dbeaf2 180px,#faeae1 183px,#f9c2a7 186px)"></div><div style="top:98px;background:linear-gradient(90deg,#dbeaf2 0px,#8ac0db 3px,#4c99c6 6px,#4c99c6 9px,#8dc2dc 12px,#e0ecf3 15px,#fdd9c4 18px,#e58368 21px,#cb4942 24px,#ce4f45 27px,#ec9374 30px,#fbe6da 33px,#bbdaea 36px,#4291c2 39px,#1f63a8 42px,#1c5c9f 45px,#3a87bd 48px,#a9d1e5 51px,#fae9df 54px,#ea8e70 57px,#dc6e57 60px,#facab1 63px,#d1e5f0 66px,#62a7ce 69px,#4393c3 72px,#62a7ce 75px,#b3d6e8 78px,#f8f4f2 81px,#f7b799 84px,#db6b55 87px,#cb4942 90px,#d35a4a 93px,#ec9374 96px,#fcd5bf 99px,#f6f7f7 102px,#ddebf2 105px,#e0ecf3 108px,#f8f2ef 111px,#fcd3bc 114px,#f6b394 117px,#f5ac8b 120px,#f8bfa4 123px,#fce0d0 126px,#f7f6f6 129px,#ddebf2 132px,#d1e5f0 135px,#d4e6f1 138px,#eaf1f5 141px,#fae7dc 144px,#f8bfa4 147px,#f19e7d 150px,#ef9979 153px,#f6b394 156px,#fcdecd 159px,#edf2f5 162px,#aed3e6 165px,#6bacd1 168px,#4f9bc7 171px,#6bacd1 174px,#a5cee3 177px,#ddebf2 180px,#f9ebe3 183px,#fac8af 186px)"></div><div style="top:99px;background:linear-gradient(90deg,#dae9f2 0px,#87beda 3px,#4997c5 6px,#4997c5 9px,#8ac0db 12px,#deebf2 15px,#fdd9c4 18px,#e48066 21px,#cb4942 24px,#cc4c44 27px,#eb9172 30px,#fbe5d8 33px,#c0dceb 36px,#4393c3 39px,#2065ab 42px,#1d5fa2 45px,#3b88be 48px,#aed3e6 51px,#fbe6da 54px,#e37e64 57px,#d25849 60px,#f7b99c 63px,#d8e9f1 66px,#6eaed2 69px,#4997c5 72px,#68abd0 75px,#bbdaea 78px,#f8f1ed 81px,#f6af8e 84px,#d55d4c 87px,#c2383a 90px,#cb4942 93px,#e8896c 96px,#fcd3bc 99px,#f2f5f6 102px,#d1e5f0 105px,#d2e6f0 108px,#f2f5f6 111px,#fdd9c4 114px,#f5ac8b 117px,#f19e7d 120px,#f6af8e 123px,#fcd3bc 126px,#f9eee7 129px,#e7f0f4 132px,#d5e7f1 135px,#d4e6f1 138px,#e4eef4 141px,#f9f0eb 144px,#fcd5bf 147px,#f7b799 150px,#f6af8e 153px,#f8bfa4 156px,#fce0d0 159px,#f0f4f6 162px,#bddbea 165px,#84bcd9 168px,#6bacd1 171px,#81bad8 174px,#b1d5e7 177px,#e0ecf3 180px,#f9ede5 183px,#fbceb7 186px)"></div><div style="top:100px;background:linear-gradient(90deg,#dae9f2 0px,#87beda 3px,#4695c4 6px,#4695c4 9px,#8ac0db 12px,#deebf2 15px,#fdd9c4 18px,#e48066 21px,#c94741 24px,#cb4942 27px,#e98b6e 30px,#fbe3d4 33px,#c5dfec 36px,#4997c5 39px,#2267ac 42px,#1f63a8 45px,#3c8abe 48px,#b3d6e8 51px,#fbe3d4 54px,#dc6e57 57px,#c6413e 60px,#f5a886 63px,#e1edf3 66px,#78b4d5 69px,#4f9bc7 72px,#6eaed2 75px,#c0dceb 78px,#f9ede5 81px,#f3a481 84px,#ce4f45 87px,#ba2832 90px,#c43b3c 93px,#e48066 96px,#fcd3bc 99px,#ecf2f5 102px,#bddbea 105px,#bbdaea 108px,#e6eff4 111px,#fdddcb 114px,#f4a683 117px,#ea8e70 120px,#f09c7b 123px,#f9c2a7 126px,#fbe6da 129px,#eff3f5 132px,#d8e9f1 135px,#d2e6f0 138px,#ddebf2 141px,#f5f6f7 144px,#fbe4d6 147px,#fbccb4 150px,#f9c2a7 153px,#fbccb4 156px,#fce2d2 159px,#f3f5f6 162px,#cce2ef 165px,#9bc9e0 168px,#84bcd9 171px,#96c7df 174px,#bbdaea 177px,#e3edf3 180px,#f9eee7 183px,#fcd5bf 186px)"></div><div style="top:101px;background:linear-gradient(90deg,#dae9f2 0px,#84bcd9 3px,#4393c3 6px,#4695c4 9px,#87beda 12px,#ddebf2 15px,#fdd9c4 18px,#e48066 21px,#c84440 24px,#c84440 27px,#e6866a 30px,#fce0d0 33px,#cae1ee 36px,#4f9bc7 39px,#246aae 42px,#2065ab 45px,#3f8ec0 48px,#b6d7e8 51px,#fcdfcf 54px,#d35a4a 57px,#ba2832 60px,#eb9172 63px,#eaf1f5 66px,#7eb8d7 69px,#529dc8 72px,#75b2d4 75px,#c5dfec 78px,#faeae1 81px,#f09c7b 84px,#c6413e 87px,#b41c2d 90px,#be3036 93px,#e27b62 96px,#fcd5bf 99px,#e4eef4 102px,#a9d1e5 105px,#a2cde3 108px,#dae9f2 111px,#fce0d0 114px,#f19e7d 117px,#e37e64 120px,#e6866a 123px,#f6b191 126px,#fcdecd 129px,#f6f7f7 132px,#ddebf2 135px,#cfe4ef 138px,#d5e7f1 141px,#e9f0f4 144px,#f9efe9 147px,#fcdfcf 150px,#fcd5bf 153px,#fcd7c2 156px,#fbe4d6 159px,#f7f6f6 162px,#d8e9f1 165px,#b1d5e7 168px,#9dcbe1 171px,#a7d0e4 174px,#c7e0ed 177px,#e4eef4 180px,#f9efe9 183px,#fddcc9 186px)"></div><div style="top:102px;background:linear-gradient(90deg,#d8e9f1 0px,#81bad8 3px,#4393c3 6px,#4291c2 9px,#84bcd9 12px,#dbeaf2 15px,#fdd9c4 18px,#e48066 21px,#c6413e 24px,#c6413e 27px,#e48066 30px,#fcdecd 33px,#cfe4ef 36px,#569fc9 39px,#276eb0 42px,#2267ac 45px,#408fc1 48px,#bbdaea 51px,#fddcc9 54px,#cc4c44 57px,#a81529 60px,#e27b62 63px,#f3f5f6 66px,#87beda 69px,#569fc9 72px,#75b2d4 75px,#c7e0ed 78px,#fae7dc 81px,#eb9172 84px,#c13639 87px,#a81529 90px,#ba2832 93px,#df765e 96px,#fcd7c2 99px,#ddebf2 102px,#90c4dd 105px,#84bcd9 108px,#cae1ee 111px,#fbe6da 114px,#ef9979 117px,#dc6e57 120px,#de735c 123px,#f19e7d 126px,#fcd3bc 129px,#f8f2ef 132px,#deebf2 135px,#cce2ef 138px,#cce2ef 141px,#dbeaf2 144px,#f2f5f6 147px,#faeae1 150px,#fce0d0 153px,#fcdecd 156px,#fbe5d8 159px,#f8f3f0 162px,#e1edf3 165px,#c7e0ed 168px,#b3d6e8 171px,#bbdaea 174px,#d1e5f0 177px,#e7f0f4 180px,#f8f1ed 183px,#fcdfcf 186px)"></div><div style="top:103px;background:linear-gradient(90deg,#d8e9f1 0px,#81bad8 3px,#4291c2 6px,#408fc1 9px,#81bad8 12px,#dae9f2 15px,#fddbc7 18px,#e48066 21px,#c53e3d 24px,#c43b3c 27px,#e27b62 30px,#fddbc7 33px,#d4e6f1 36px,#5fa5cd 39px,#2a71b2 42px,#246aae 45px,#4291c2 48px,#bddbea 51px,#fdd9c4 54px,#c43b3c 57px,#900d26 60px,#d86551 63px,#f8f4f2 66px,#8ac0db 69px,#569fc9 72px,#75b2d4 75px,#cae1ee 78px,#fbe5d8 81px,#e8896c 84px,#bb2a34 87px,#9f1228 90px,#b61f2e 93px,#de735c 96px,#fddbc7 99px,#d4e6f1 102px,#75b2d4 105px,#65a9cf 108px,#b3d6e8 111px,#f9ebe3 114px,#ee9677 117px,#d55d4c 120px,#d6604d 123px,#ea8e70 126px,#f9c6ac 129px,#f9efe9 132px,#e0ecf3 135px,#c7e0ed 138px,#bddbea 141px,#cfe4ef 144px,#e3edf3 147px,#f7f5f4 150px,#fae9df 153px,#fbe4d6 156px,#fbe6da 159px,#f8f1ed 162px,#eaf1f5 165px,#d7e8f1 168px,#cae1ee 171px,#cce2ef 174px,#d8e9f1 177px,#e9f0f4 180px,#f8f2ef 183px,#fbe4d6 186px)"></div><div style="top:104px;background:linear-gradient(90deg,#d8e9f1 0px,#7eb8d7 3px,#3f8ec0 6px,#3f8ec0 9px,#7bb6d6 12px,#d8e9f1 15px,#fddcc9 18px,#e48066 21px,#c43b3c 24px,#c2383a 27px,#df765e 30px,#fcd5bf 33px,#d8e9f1 36px,#65a9cf 39px,#2c75b4 42px,#266caf 45px,#4393c3 48px,#bddbea 51px,#fcd5bf 54px,#bf3338 57px,#7f0823 60px,#d05548 63px,#f9f0eb 66px,#90c4dd 69px,#529dc8 72px,#71b0d3 75px,#cce2ef 78px,#fbe3d4 81px,#e48066 84px,#b72230 87px,#960f27 90px,#b3192c 93px,#de735c 96px,#fdddcb 99px,#cae1ee 102px,#5ca3cb 105px,#4695c4 108px,#9dcbe1 111px,#f8f1ed 114px,#ee9677 117px,#cc4c44 120px,#ce4f45 123px,#e37e64 126px,#f8bda1 129px,#faeae1 132px,#e1edf3 135px,#c2ddec 138px,#b1d5e7 141px,#bbdaea 144px,#d5e7f1 147px,#eaf1f5 150px,#f8f2ef 153px,#fae9df 156px,#fae7dc 159px,#f9eee7 162px,#f5f6f7 165px,#e4eef4 168px,#dae9f2 171px,#d8e9f1 174px,#deebf2 177px,#eaf1f5 180px,#f8f4f2 183px,#fae8de 186px)"></div><div style="top:105px;background:linear-gradient(90deg,#d8e9f1 0px,#7eb8d7 3px,#3e8cbf 6px,#3c8abe 9px,#78b4d5 12px,#d7e8f1 15px,#fdddcb 18px,#e48066 21px,#c43b3c 24px,#bf3338 27px,#dc6e57 30px,#fbceb7 33px,#ddebf2 36px,#6eaed2 39px,#2f79b5 42px,#2870b1 45px,#4393c3 48px,#c0dceb 51px,#fcd5bf 54px,#bb2a34 57px,#730421 60px,#c84440 63px,#f9ebe3 66px,#90c4dd 69px,#4997c5 72px,#6eaed2 75px,#cae1ee 78px,#fce2d2 81px,#e27b62 84px,#b41c2d 87px,#900d26 90px,#b1182b 93px,#de735c 96px,#fcdfcf 99px,#bddbea 102px,#4393c3 105px,#3885bc 108px,#87beda 111px,#f7f6f6 114px,#ef9979 117px,#c6413e 120px,#c6413e 123px,#dd7059 126px,#f7b596 129px,#fae8de 132px,#e1edf3 135px,#bbdaea 138px,#a5cee3 141px,#a9d1e5 144px,#c2ddec 147px,#deebf2 150px,#f3f5f6 153px,#f9eee7 156px,#fae8de 159px,#faeae1 162px,#f8f2ef 165px,#f0f4f6 168px,#e6eff4 171px,#e1edf3 174px,#e4eef4 177px,#edf2f5 180px,#f7f5f4 183px,#f9ede5 186px)"></div><div style="top:106px;background:linear-gradient(90deg,#d8e9f1 0px,#7bb6d6 3px,#3c8abe 6px,#3b88be 9px,#71b0d3 12px,#d4e6f1 15px,#fcdecd 18px,#e48066 21px,#c2383a 24px,#be3036 27px,#da6853 30px,#fac8af 33px,#e1edf3 36px,#78b4d5 39px,#327cb7 42px,#2a71b2 45px,#4695c4 48px,#bddbea 51px,#fcd5bf 54px,#bb2a34 57px,#6a011f 60px,#c43b3c 63px,#fae8de 66px,#93c6de 69px,#4291c2 72px,#65a9cf 75px,#c7e0ed 78px,#fce2d2 81px,#e17860 84px,#b1182b 87px,#8a0b25 90px,#ae172a 93px,#de735c 96px,#fce2d2 99px,#b1d5e7 102px,#3a87bd 105px,#2e77b5 108px,#6eaed2 111px,#eff3f5 114px,#f09c7b 117px,#c2383a 120px,#c13639 123px,#d86551 126px,#f5ac8b 129px,#fbe6da 132px,#e1edf3 135px,#b6d7e8 138px,#98c8e0 141px,#98c8e0 144px,#aed3e6 147px,#d2e6f0 150px,#eaf1f5 153px,#f8f2ef 156px,#fae8de 159px,#fae7dc 162px,#f9ebe3 165px,#f8f3f0 168px,#f2f5f6 171px,#ecf2f5 174px,#eaf1f5 177px,#edf2f5 180px,#f6f7f7 183px,#f9f0eb 186px)"></div><div style="top:107px;background:linear-gradient(90deg,#d8e9f1 0px,#78b4d5 3px,#3b88be 6px,#3885bc 9px,#6bacd1 12px,#d1e5f0 15px,#fcdfcf 18px,#e58368 21px,#c2383a 24px,#bb2a34 27px,#d7634f 30px,#f9c4a9 33px,#e6eff4 36px,#81bad8 39px,#3480b9 42px,#2b73b3 45px,#4695c4 48px,#bddbea 51px,#fdd9c4 54px,#bd2d35 57px,#6a011f 60px,#c13639 63px,#fbe6da 66px,#93c6de 69px,#3f8ec0 72px,#5ca3cb 75px,#c2ddec 78px,#fce2d2 81px,#df765e 84px,#ae172a 87px,#870a24 90px,#ab162a 93px,#de735c 96px,#fbe4d6 99px,#a7d0e4 102px,#337eb8 105px,#246aae 108px,#5ca3cb 111px,#e7f0f4 114px,#f3a481 117px,#bf3338 120px,#bb2a34 123px,#d55d4c 126px,#f5a886 129px,#fbe5d8 132px,#e1edf3 135px,#aed3e6 138px,#8dc2dc 141px,#87beda 144px,#9dcbe1 147px,#c2ddec 150px,#e1edf3 153px,#f7f5f4 156px,#fae8de 159px,#fbe4d6 162px,#fbe5d8 165px,#f9ebe3 168px,#f8f3f0 171px,#f3f5f6 174px,#eff3f5 177px,#eff3f5 180px,#f3f5f6 183px,#f7f5f4 186px)"></div><div style="top:108px;background:linear-gradient(90deg,#d8e9f1 0px,#78b4d5 3px,#3a87bd 6px,#3681ba 9px,#65a9cf 12px,#cce2ef 15px,#fce2d2 18px,#e6866a 21px,#c13639 24px,#ba2832 27px,#d35a4a 30px,#f8bda1 33px,#eaf1f5 36px,#87beda 39px,#3783bb 42px,#2c75b4 45px,#4695c4 48px,#b8d8e9 51px,#fdddcb 54px,#c13639 57px,#700320 60px,#c13639 63px,#fbe5d8 66px,#93c6de 69px,#3b88be 72px,#4c99c6 75px,#bddbea 78px,#fce2d2 81px,#de735c 84px,#ab162a 87px,#870a24 90px,#ab162a 93px,#df765e 96px,#fbe5d8 99px,#a2cde3 102px,#2f79b5 105px,#1f63a8 108px,#4997c5 111px,#e0ecf3 114px,#f5aa89 117px,#c13639 120px,#b82531 123px,#d25849 126px,#f4a683 129px,#fbe5d8 132px,#e0ecf3 135px,#a9d1e5 138px,#7eb8d7 141px,#75b2d4 144px,#8ac0db 147px,#b3d6e8 150px,#dae9f2 153px,#f6f7f7 156px,#fae8de 159px,#fcdfcf 162px,#fcdfcf 165px,#fbe4d6 168px,#f9ebe3 171px,#f8f3f0 174px,#f3f5f6 177px,#f0f4f6 180px,#f0f4f6 183px,#f3f5f6 186px)"></div><div style="top:109px;background:linear-gradient(90deg,#d8e9f1 0px,#78b4d5 3px,#3885bc 6px,#3480b9 9px,#5fa5cd 12px,#c7e0ed 15px,#fbe3d4 18px,#e6866a 21px,#c13639 24px,#b72230 27px,#d05548 30px,#f7b799 33px,#eff3f5 36px,#90c4dd 39px,#3a87bd 42px,#2e77b5 45px,#4393c3 48px,#b3d6e8 51px,#fce0d0 54px,#c84440 57px,#7c0722 60px,#c2383a 63px,#fbe4d6 66px,#96c7df 69px,#3a87bd 72px,#4291c2 75px,#b6d7e8 78px,#fbe3d4 81px,#de735c 84px,#ab162a 87px,#870a24 90px,#ae172a 93px,#e17860 96px,#fbe6da 99px,#a0cce2 102px,#2c75b4 105px,#1d5fa2 108px,#4291c2 111px,#d8e9f1 114px,#f7b596 117px,#c43b3c 120px,#b72230 123px,#d25849 126px,#f4a683 129px,#fbe5d8 132px,#deebf2 135px,#a2cde3 138px,#71b0d3 141px,#65a9cf 144px,#7bb6d6 147px,#a5cee3 150px,#d4e6f1 153px,#f3f5f6 156px,#fae8de 159px,#fddcc9 162px,#fcd7c2 165px,#fdddcb 168px,#fbe5d8 171px,#f9eee7 174px,#f7f6f6 177px,#f0f4f6 180px,#ecf2f5 183px,#edf2f5 186px)"></div><div style="top:110px;background:linear-gradient(90deg,#dae9f2 0px,#75b2d4 3px,#3783bb 6px,#327cb7 9px,#59a1ca 12px,#c2ddec 15px,#fbe5d8 18px,#e98b6e 21px,#c13639 24px,#b61f2e 27px,#ce4f45 30px,#f6b191 33px,#f3f5f6 36px,#98c8e0 39px,#3c8abe 42px,#2e77b5 45px,#4291c2 48px,#aed3e6 51px,#fbe6da 54px,#d25849 57px,#8d0c25 60px,#c6413e 63px,#fbe4d6 66px,#96c7df 69px,#3885bc 72px,#3f8ec0 75px,#aed3e6 78px,#fbe4d6 81px,#dd7059 84px,#ab162a 87px,#8a0b25 90px,#b1182b 93px,#e17860 96px,#fae7dc 99px,#a2cde3 102px,#2e77b5 105px,#1d5fa2 108px,#3f8ec0 111px,#d2e6f0 114px,#f8bfa4 117px,#c94741 120px,#b82531 123px,#d35a4a 126px,#f5a886 129px,#fbe6da 132px,#dbeaf2 135px,#9dcbe1 138px,#68abd0 141px,#569fc9 144px,#6bacd1 147px,#9bc9e0 150px,#cfe4ef 153px,#f0f4f6 156px,#fae7dc 159px,#fcd7c2 162px,#fbccb4 165px,#fcd3bc 168px,#fcdecd 171px,#fae9df 174px,#f8f4f2 177px,#f0f4f6 180px,#e9f0f4 183px,#e7f0f4 186px)"></div><div style="top:111px;background:linear-gradient(90deg,#dae9f2 0px,#75b2d4 3px,#3681ba 6px,#2f79b5 9px,#4f9bc7 12px,#bddbea 15px,#fae7dc 18px,#ea8e70 21px,#c13639 24px,#b41c2d 27px,#cb4942 30px,#f5aa89 33px,#f7f6f6 36px,#9dcbe1 39px,#3f8ec0 42px,#2f79b5 45px,#408fc1 48px,#a7d0e4 51px,#f9ebe3 54px,#db6b55 57px,#a51429 60px,#cc4c44 63px,#fbe4d6 66px,#9bc9e0 69px,#3885bc 72px,#3c8abe 75px,#a9d1e5 78px,#fbe5d8 81px,#dd7059 84px,#ae172a 87px,#900d26 90px,#b3192c 93px,#e27b62 96px,#fae7dc 99px,#a7d0e4 102px,#327cb7 105px,#2065ab 108px,#3f8ec0 111px,#cae1ee 114px,#fbccb4 117px,#d05548 120px,#bd2d35 123px,#d6604d 126px,#f5aa89 129px,#fae7dc 132px,#dae9f2 135px,#98c8e0 138px,#5fa5cd 141px,#4c99c6 144px,#5fa5cd 147px,#90c4dd 150px,#c7e0ed 153px,#eff3f5 156px,#fbe6da 159px,#fbd0b9 162px,#f9c4a9 165px,#f9c6ac 168px,#fcd7c2 171px,#fbe5d8 174px,#f8f2ef 177px,#eff3f5 180px,#e6eff4 183px,#e1edf3 186px)"></div><div style="top:112px;background:linear-gradient(90deg,#dbeaf2 0px,#75b2d4 3px,#3480b9 6px,#2c75b4 9px,#4997c5 12px,#b6d7e8 15px,#fae9df 18px,#eb9172 21px,#c2383a 24px,#b41c2d 27px,#c84440 30px,#f4a683 33px,#f8f3f0 36px,#a5cee3 39px,#408fc1 42px,#2f79b5 45px,#3f8ec0 48px,#a0cce2 51px,#f8f2ef 54px,#e58368 57px,#b72230 60px,#d35a4a 63px,#fbe4d6 66px,#9dcbe1 69px,#3a87bd 72px,#3b88be 75px,#a5cee3 78px,#fbe6da 81px,#de735c 84px,#b3192c 87px,#960f27 90px,#b72230 93px,#e48066 96px,#fbe6da 99px,#aed3e6 102px,#3a87bd 105px,#2870b1 108px,#4393c3 111px,#c2ddec 114px,#fddbc7 117px,#da6853 120px,#c43b3c 123px,#da6853 126px,#f6b191 129px,#fae9df 132px,#d7e8f1 135px,#96c7df 138px,#59a1ca 141px,#4393c3 144px,#569fc9 147px,#87beda 150px,#c2ddec 153px,#eff3f5 156px,#fbe5d8 159px,#facab1 162px,#f7b99c 165px,#f8bb9e 168px,#fbccb4 171px,#fce0d0 174px,#f9f0eb 177px,#eff3f5 180px,#e1edf3 183px,#dbeaf2 186px)"></div><div style="top:113px;background:linear-gradient(90deg,#ddebf2 0px,#75b2d4 3px,#337eb8 6px,#2b73b3 9px,#4393c3 12px,#b1d5e7 15px,#f9ede5 18px,#ee9677 21px,#c2383a 24px,#b3192c 27px,#c53e3d 30px,#f19e7d 33px,#f9f0eb 36px,#a9d1e5 39px,#4393c3 42px,#2f79b5 45px,#3c8abe 48px,#96c7df 51px,#f5f6f7 54px,#f09c7b 57px,#c43b3c 60px,#da6853 63px,#fbe4d6 66px,#a2cde3 69px,#3c8abe 72px,#3c8abe 75px,#a2cde3 78px,#fae8de 81px,#e17860 84px,#b72230 87px,#9f1228 90px,#ba2832 93px,#e58368 96px,#fbe6da 99px,#b6d7e8 102px,#4291c2 105px,#2f79b5 108px,#4997c5 111px,#bbdaea 114px,#fbe3d4 117px,#e48066 120px,#ce4f45 123px,#df765e 126px,#f7b799 129px,#f9ebe3 132px,#d5e7f1 135px,#90c4dd 138px,#569fc9 141px,#408fc1 144px,#4f9bc7 147px,#81bad8 150px,#c0dceb 153px,#eff3f5 156px,#fbe3d4 159px,#f9c4a9 162px,#f6b191 165px,#f6b394 168px,#f9c4a9 171px,#fdddcb 174px,#f9efe9 177px,#edf2f5 180px,#ddebf2 183px,#d5e7f1 186px)"></div><div style="top:114px;background:linear-gradient(90deg,#deebf2 0px,#75b2d4 3px,#327cb7 6px,#2870b1 9px,#408fc1 12px,#a9d1e5 15px,#f9efe9 18px,#ef9979 21px,#c43b3c 24px,#b3192c 27px,#c43b3c 30px,#ef9979 33px,#f9eee7 36px,#aed3e6 39px,#4695c4 42px,#2f79b5 45px,#3a87bd 48px,#8ac0db 51px,#ecf2f5 54px,#f6b191 57px,#d05548 60px,#df765e 63px,#fbe4d6 66px,#a9d1e5 69px,#408fc1 72px,#3e8cbf 75px,#a2cde3 78px,#faeae1 81px,#e58368 84px,#be3036 87px,#ab162a 90px,#be3036 93px,#e6866a 96px,#fbe5d8 99px,#c0dceb 102px,#529dc8 105px,#3681ba 108px,#4c99c6 111px,#b3d6e8 114px,#faeae1 117px,#ef9979 120px,#d86551 123px,#e58368 126px,#f8bda1 129px,#f9eee7 132px,#d4e6f1 135px,#90c4dd 138px,#529dc8 141px,#3f8ec0 144px,#4c99c6 147px,#7eb8d7 150px,#c0dceb 153px,#eff3f5 156px,#fce2d2 159px,#f8bfa4 162px,#f5aa89 165px,#f5a886 168px,#f8bb9e 171px,#fddbc7 174px,#f9eee7 177px,#ecf2f5 180px,#d8e9f1 183px,#cfe4ef 186px)"></div><div style="top:115px;background:linear-gradient(90deg,#e0ecf3 0px,#75b2d4 3px,#307ab6 6px,#276eb0 9px,#3c8abe 12px,#a5cee3 15px,#f8f1ed 18px,#f19e7d 21px,#c53e3d 24px,#b3192c 27px,#c2383a 30px,#ec9374 33px,#faeae1 36px,#b3d6e8 39px,#4997c5 42px,#2f79b5 45px,#3783bb 48px,#81bad8 51px,#e3edf3 54px,#f9c4a9 57px,#dc6e57 60px,#e58368 63px,#fbe4d6 66px,#b3d6e8 69px,#4997c5 72px,#4291c2 75px,#a2cde3 78px,#f9eee7 81px,#eb9172 84px,#c53e3d 87px,#b61f2e 90px,#c43b3c 93px,#e98b6e 96px,#fbe5d8 99px,#c7e0ed 102px,#62a7ce 105px,#3b88be 108px,#529dc8 111px,#acd2e5 114px,#f8f3f0 117px,#f6b191 120px,#e37e64 123px,#ec9374 126px,#f9c6ac 129px,#f9f0eb 132px,#d2e6f0 135px,#8dc2dc 138px,#529dc8 141px,#3f8ec0 144px,#4c99c6 147px,#7eb8d7 150px,#c0dceb 153px,#f0f4f6 156px,#fcdfcf 159px,#f7b99c 162px,#f2a17f 165px,#f2a17f 168px,#f7b596 171px,#fcd7c2 174px,#f9ede5 177px,#eaf1f5 180px,#d5e7f1 183px,#c5dfec 186px)"></div><div style="top:116px;background:linear-gradient(90deg,#e1edf3 0px,#78b4d5 3px,#307ab6 6px,#246aae 9px,#3a87bd 12px,#9dcbe1 15px,#f8f4f2 18px,#f3a481 21px,#c6413e 24px,#b3192c 27px,#c13639 30px,#ea8e70 33px,#fae8de 36px,#b8d8e9 39px,#4c99c6 42px,#2f79b5 45px,#3480b9 48px,#75b2d4 51px,#dbeaf2 54px,#fcd5bf 57px,#e58368 60px,#ea8e70 63px,#fbe3d4 66px,#bddbea 69px,#59a1ca 72px,#4c99c6 75px,#a5cee3 78px,#f8f1ed 81px,#f2a17f 84px,#ce4f45 87px,#bd2d35 90px,#c94741 93px,#eb9172 96px,#fbe4d6 99px,#cfe4ef 102px,#6eaed2 105px,#408fc1 108px,#529dc8 111px,#a5cee3 114px,#f0f4f6 117px,#fac8af 120px,#ef9979 123px,#f5a886 126px,#fbd0b9 129px,#f8f2ef 132px,#d2e6f0 135px,#90c4dd 138px,#569fc9 141px,#408fc1 144px,#4c99c6 147px,#81bad8 150px,#c2ddec 153px,#f2f5f6 156px,#fdddcb 159px,#f7b596 162px,#ef9979 165px,#ef9979 168px,#f6af8e 171px,#fcd3bc 174px,#f9ede5 177px,#e7f0f4 180px,#d1e5f0 183px,#bbdaea 186px)"></div><div style="top:117px;background:linear-gradient(90deg,#e3edf3 0px,#7bb6d6 3px,#307ab6 6px,#2369ad 9px,#3783bb 12px,#98c8e0 15px,#f7f6f6 18px,#f5a886 21px,#c94741 24px,#b3192c 27px,#bf3338 30px,#e8896c 33px,#fbe6da 36px,#bddbea 39px,#4f9bc7 42px,#2e77b5 45px,#337eb8 48px,#68abd0 51px,#d2e6f0 54px,#fcdfcf 57px,#ef9979 60px,#ef9979 63px,#fce2d2 66px,#cae1ee 69px,#68abd0 72px,#59a1ca 75px,#a7d0e4 78px,#f8f4f2 81px,#f6b191 84px,#d7634f 87px,#c53e3d 90px,#cf5246 93px,#ee9677 96px,#fbe4d6 99px,#d2e6f0 102px,#7bb6d6 105px,#4997c5 108px,#569fc9 111px,#9dcbe1 114px,#e4eef4 117px,#fdddcb 120px,#f6b394 123px,#f7b799 126px,#fdd9c4 129px,#f8f4f2 132px,#d1e5f0 135px,#93c6de 138px,#5ca3cb 141px,#4393c3 144px,#529dc8 147px,#84bcd9 150px,#c5dfec 153px,#f3f5f6 156px,#fddbc7 159px,#f6af8e 162px,#ec9374 165px,#eb9172 168px,#f5aa89 171px,#fbd0b9 174px,#f9ede5 177px,#e4eef4 180px,#cae1ee 183px,#b1d5e7 186px)"></div><div style="top:118px;background:linear-gradient(90deg,#e6eff4 0px,#7eb8d7 3px,#307ab6 6px,#2267ac 9px,#3480b9 12px,#90c4dd 15px,#f3f5f6 18px,#f6af8e 21px,#cb4942 24px,#b3192c 27px,#be3036 30px,#e6866a 33px,#fbe4d6 36px,#c2ddec 39px,#569fc9 42px,#2e77b5 45px,#307ab6 48px,#5fa5cd 51px,#c7e0ed 54px,#fae7dc 57px,#f5aa89 60px,#f3a481 63px,#fcdfcf 66px,#d4e6f1 69px,#7eb8d7 72px,#6bacd1 75px,#acd2e5 78px,#f7f6f6 81px,#f8bb9e 84px,#de735c 87px,#ce4f45 90px,#d6604d 93px,#f19e7d 96px,#fbe4d6 99px,#d7e8f1 102px,#87beda 105px,#529dc8 108px,#59a1ca 111px,#93c6de 114px,#dae9f2 117px,#fae9df 120px,#fac8af 123px,#fac8af 126px,#fcdfcf 129px,#f7f6f6 132px,#d2e6f0 135px,#98c8e0 138px,#62a7ce 141px,#4c99c6 144px,#59a1ca 147px,#8ac0db 150px,#cae1ee 153px,#f6f7f7 156px,#fdd9c4 159px,#f5aa89 162px,#ea8e70 165px,#ea8e70 168px,#f5a886 171px,#fbceb7 174px,#f9eee7 177px,#e3edf3 180px,#c2ddec 183px,#a9d1e5 186px)"></div><div style="top:119px;background:linear-gradient(90deg,#e9f0f4 0px,#81bad8 3px,#307ab6 6px,#2065ab 9px,#337eb8 12px,#8ac0db 15px,#eff3f5 18px,#f6b394 21px,#ce4f45 24px,#b41c2d 27px,#be3036 30px,#e58368 33px,#fbe3d4 36px,#c7e0ed 39px,#59a1ca 42px,#2e77b5 45px,#2f79b5 48px,#569fc9 51px,#bddbea 54px,#f9eee7 57px,#f7b799 60px,#f5a886 63px,#fdddcb 66px,#ddebf2 69px,#93c6de 72px,#7eb8d7 75px,#b3d6e8 78px,#f3f5f6 81px,#fac8af 84px,#e6866a 87px,#d7634f 90px,#dc6e57 93px,#f3a481 96px,#fbe3d4 99px,#dbeaf2 102px,#93c6de 105px,#5ca3cb 108px,#5ca3cb 111px,#8dc2dc 114px,#cce2ef 117px,#f7f5f4 120px,#fdddcb 123px,#fcd7c2 126px,#fbe4d6 129px,#f6f7f7 132px,#d4e6f1 135px,#a0cce2 138px,#6eaed2 141px,#569fc9 144px,#65a9cf 147px,#93c6de 150px,#cfe4ef 153px,#f7f5f4 156px,#fcd5bf 159px,#f5a886 162px,#e8896c 165px,#e8896c 168px,#f4a683 171px,#fbceb7 174px,#f9efe9 177px,#e0ecf3 180px,#bbdaea 183px,#a2cde3 186px)"></div><div style="top:120px;background:linear-gradient(90deg,#eaf1f5 0px,#84bcd9 3px,#307ab6 6px,#2065ab 9px,#307ab6 12px,#84bcd9 15px,#ecf2f5 18px,#f7b799 21px,#cf5246 24px,#b61f2e 27px,#be3036 30px,#e48066 33px,#fce0d0 36px,#cce2ef 39px,#5ca3cb 42px,#2e77b5 45px,#2c75b4 48px,#4f9bc7 51px,#b3d6e8 54px,#f8f4f2 57px,#f9c2a7 60px,#f6af8e 63px,#fddbc7 66px,#e6eff4 69px,#a7d0e4 72px,#90c4dd 75px,#b8d8e9 78px,#eff3f5 81px,#fcd5bf 84px,#f09c7b 87px,#df765e 90px,#e27b62 93px,#f5aa89 96px,#fbe3d4 99px,#deebf2 102px,#9dcbe1 105px,#65a9cf 108px,#5fa5cd 111px,#84bcd9 114px,#bddbea 117px,#ecf2f5 120px,#fae8de 123px,#fce0d0 126px,#fae7dc 129px,#f5f6f7 132px,#d7e8f1 135px,#a7d0e4 138px,#7bb6d6 141px,#65a9cf 144px,#71b0d3 147px,#9bc9e0 150px,#d2e6f0 153px,#f8f3f0 156px,#fcd3bc 159px,#f4a683 162px,#e6866a 165px,#e8896c 168px,#f4a683 171px,#fbd0b9 174px,#f9f0eb 177px,#ddebf2 180px,#b6d7e8 183px,#9bc9e0 186px)"></div><div style="top:121px;background:linear-gradient(90deg,#edf2f5 0px,#87beda 3px,#327cb7 6px,#1f63a8 9px,#2f79b5 12px,#7eb8d7 15px,#e7f0f4 18px,#f8bda1 21px,#d25849 24px,#b72230 27px,#be3036 30px,#e37e64 33px,#fcdecd 36px,#cfe4ef 39px,#5fa5cd 42px,#2f79b5 45px,#2c75b4 48px,#4695c4 51px,#acd2e5 54px,#f5f6f7 57px,#fbccb4 60px,#f6b191 63px,#fcd5bf 66px,#eff3f5 69px,#b8d8e9 72px,#a2cde3 75px,#bddbea 78px,#ecf2f5 81px,#fcdecd 84px,#f5ac8b 87px,#e8896c 90px,#e8896c 93px,#f6b191 96px,#fbe3d4 99px,#e3edf3 102px,#a7d0e4 105px,#71b0d3 108px,#62a7ce 111px,#7eb8d7 114px,#b1d5e7 117px,#deebf2 120px,#f8f1ed 123px,#fae7dc 126px,#faeae1 129px,#f5f6f7 132px,#dae9f2 135px,#b1d5e7 138px,#8ac0db 141px,#75b2d4 144px,#7eb8d7 147px,#a5cee3 150px,#d7e8f1 153px,#f8f1ed 156px,#fbceb7 159px,#f3a481 162px,#e6866a 165px,#e6866a 168px,#f4a683 171px,#fbd0b9 174px,#f8f1ed 177px,#dae9f2 180px,#aed3e6 183px,#93c6de 186px)"></div><div style="top:122px;background:linear-gradient(90deg,#f0f4f6 0px,#8dc2dc 3px,#327cb7 6px,#1f63a8 9px,#2c75b4 12px,#78b4d5 15px,#e4eef4 18px,#f9c2a7 21px,#d55d4c 24px,#b82531 27px,#be3036 30px,#e27b62 33px,#fdddcb 36px,#d2e6f0 39px,#62a7ce 42px,#2f79b5 45px,#2b73b3 48px,#4393c3 51px,#a5cee3 54px,#f0f4f6 57px,#fcd5bf 60px,#f6b394 63px,#fbceb7 66px,#f7f6f6 69px,#cce2ef 72px,#aed3e6 75px,#c2ddec 78px,#e7f0f4 81px,#fbe6da 84px,#f8bda1 87px,#f09c7b 90px,#ef9979 93px,#f7b799 96px,#fbe3d4 99px,#e6eff4 102px,#b1d5e7 105px,#7eb8d7 108px,#68abd0 111px,#7bb6d6 114px,#a5cee3 117px,#d4e6f1 120px,#f3f5f6 123px,#f9ede5 126px,#f9eee7 129px,#f6f7f7 132px,#deebf2 135px,#bddbea 138px,#98c8e0 141px,#87beda 144px,#8dc2dc 147px,#aed3e6 150px,#dbeaf2 153px,#f9f0eb 156px,#fbccb4 159px,#f3a481 162px,#e6866a 165px,#e8896c 168px,#f5a886 171px,#fcd5bf 174px,#f8f3f0 177px,#d7e8f1 180px,#a9d1e5 183px,#8dc2dc 186px)"></div><div style="top:123px;background:linear-gradient(90deg,#f3f5f6 0px,#90c4dd 3px,#337eb8 6px,#1f63a8 9px,#2b73b3 12px,#71b0d3 15px,#e1edf3 18px,#f9c6ac 21px,#d7634f 24px,#ba2832 27px,#be3036 30px,#e17860 33px,#fddcc9 36px,#d4e6f1 39px,#68abd0 42px,#307ab6 45px,#2b73b3 48px,#4291c2 51px,#a0cce2 54px,#ecf2f5 57px,#fddbc7 60px,#f7b596 63px,#fac8af 66px,#f9f0eb 69px,#d7e8f1 72px,#bbdaea 75px,#c5dfec 78px,#e1edf3 81px,#f9ede5 84px,#fbccb4 87px,#f5ac8b 90px,#f4a683 93px,#f8bda1 96px,#fbe3d4 99px,#eaf1f5 102px,#bbdaea 105px,#8ac0db 108px,#71b0d3 111px,#7bb6d6 114px,#9dcbe1 117px,#c7e0ed 120px,#eaf1f5 123px,#f8f1ed 126px,#f9efe9 129px,#f7f6f6 132px,#e4eef4 135px,#cae1ee 138px,#a9d1e5 141px,#98c8e0 144px,#9dcbe1 147px,#b8d8e9 150px,#e0ecf3 153px,#f9eee7 156px,#fbccb4 159px,#f3a481 162px,#e8896c 165px,#e98b6e 168px,#f5aa89 171px,#fcd7c2 174px,#f7f5f4 177px,#d4e6f1 180px,#a5cee3 183px,#87beda 186px)"></div><div style="top:124px;background:linear-gradient(90deg,#f7f6f6 0px,#96c7df 3px,#3681ba 6px,#1f63a8 9px,#2b73b3 12px,#6bacd1 15px,#ddebf2 18px,#fbccb4 21px,#da6853 24px,#bb2a34 27px,#bf3338 30px,#e17860 33px,#fddbc7 36px,#d7e8f1 39px,#6bacd1 42px,#327cb7 45px,#2b73b3 48px,#408fc1 51px,#9bc9e0 54px,#e9f0f4 57px,#fdddcb 60px,#f7b596 63px,#f9c2a7 66px,#fae9df 69px,#e0ecf3 72px,#c5dfec 75px,#c5dfec 78px,#ddebf2 81px,#f8f3f0 84px,#fddcc9 87px,#f8bda1 90px,#f6b394 93px,#f9c2a7 96px,#fbe3d4 99px,#eff3f5 102px,#c5dfec 105px,#96c7df 108px,#7bb6d6 111px,#7eb8d7 114px,#96c7df 117px,#bbdaea 120px,#e3edf3 123px,#f8f4f2 126px,#f9efe9 129px,#f8f4f2 132px,#eaf1f5 135px,#d5e7f1 138px,#b8d8e9 141px,#a7d0e4 144px,#acd2e5 147px,#c5dfec 150px,#e4eef4 153px,#f9ede5 156px,#fbccb4 159px,#f4a683 162px,#e98b6e 165px,#eb9172 168px,#f6af8e 171px,#fddbc7 174px,#f7f6f6 177px,#d1e5f0 180px,#a0cce2 183px,#84bcd9 186px)"></div><div style="top:125px;background:linear-gradient(90deg,#f8f4f2 0px,#9bc9e0 3px,#3783bb 6px,#1f63a8 9px,#2a71b2 12px,#68abd0 15px,#dae9f2 18px,#fbd0b9 21px,#dc6e57 24px,#be3036 27px,#bf3338 30px,#e17860 33px,#fdd9c4 36px,#d8e9f1 39px,#71b0d3 42px,#3480b9 45px,#2c75b4 48px,#408fc1 51px,#9bc9e0 54px,#e7f0f4 57px,#fcdecd 60px,#f7b596 63px,#f8bb9e 66px,#fbe5d8 69px,#e7f0f4 72px,#cce2ef 75px,#c2ddec 78px,#d7e8f1 81px,#f2f5f6 84px,#fbe5d8 87px,#fbccb4 90px,#f8bda1 93px,#fac8af 96px,#fce2d2 99px,#f3f5f6 102px,#d1e5f0 105px,#a2cde3 108px,#84bcd9 111px,#81bad8 114px,#93c6de 117px,#b6d7e8 120px,#deebf2 123px,#f7f6f6 126px,#f9efe9 129px,#f8f1ed 132px,#f2f5f6 135px,#deebf2 138px,#cae1ee 141px,#b8d8e9 144px,#bbdaea 147px,#cfe4ef 150px,#e9f0f4 153px,#faeae1 156px,#fbccb4 159px,#f5a886 162px,#eb9172 165px,#ee9677 168px,#f6b394 171px,#fdddcb 174px,#f5f6f7 177px,#cfe4ef 180px,#9dcbe1 183px,#81bad8 186px)"></div><div style="top:126px;background:linear-gradient(90deg,#f8f2ef 0px,#a0cce2 3px,#3885bc 6px,#2065ab 9px,#2a71b2 12px,#62a7ce 15px,#d7e8f1 18px,#fcd5bf 21px,#de735c 24px,#bf3338 27px,#c13639 30px,#e17860 33px,#fcd7c2 36px,#dbeaf2 39px,#78b4d5 42px,#3681ba 45px,#2e77b5 48px,#4291c2 51px,#9bc9e0 54px,#e6eff4 57px,#fcdfcf 60px,#f7b596 63px,#f7b799 66px,#fce0d0 69px,#edf2f5 72px,#d1e5f0 75px,#c0dceb 78px,#cfe4ef 81px,#e7f0f4 84px,#f9eee7 87px,#fddbc7 90px,#fac8af 93px,#fbccb4 96px,#fce2d2 99px,#f7f6f6 102px,#d7e8f1 105px,#aed3e6 108px,#93c6de 111px,#8ac0db 114px,#96c7df 117px,#b3d6e8 120px,#ddebf2 123px,#f7f6f6 126px,#f9eee7 129px,#f9eee7 132px,#f7f5f4 135px,#e9f0f4 138px,#d8e9f1 141px,#cae1ee 144px,#cae1ee 147px,#d7e8f1 150px,#ecf2f5 153px,#faeae1 156px,#fbceb7 159px,#f5ac8b 162px,#ef9979 165px,#f09c7b 168px,#f7b799 171px,#fcdfcf 174px,#f2f5f6 177px,#cae1ee 180px,#9bc9e0 183px,#7eb8d7 186px)"></div><div style="top:127px;background:linear-gradient(90deg,#f9f0eb 0px,#a5cee3 3px,#3b88be 6px,#2267ac 9px,#2a71b2 12px,#5fa5cd 15px,#d5e7f1 18px,#fdd9c4 21px,#e17860 24px,#c2383a 27px,#c2383a 30px,#e17860 33px,#fcd5bf 36px,#ddebf2 39px,#7bb6d6 42px,#3885bc 45px,#307ab6 48px,#4393c3 51px,#9dcbe1 54px,#e7f0f4 57px,#fcdecd 60px,#f7b596 63px,#f6b191 66px,#fddcc9 69px,#f3f5f6 72px,#d4e6f1 75px,#bddbea 78px,#c5dfec 81px,#ddebf2 84px,#f7f5f4 87px,#fbe3d4 90px,#fcd5bf 93px,#fcd3bc 96px,#fce0d0 99px,#f8f2ef 102px,#e0ecf3 105px,#bddbea 108px,#a0cce2 111px,#93c6de 114px,#98c8e0 117px,#b3d6e8 120px,#deebf2 123px,#f7f5f4 126px,#f9ebe3 129px,#fae9df 132px,#f9efe9 135px,#f3f5f6 138px,#e3edf3 141px,#d7e8f1 144px,#d5e7f1 147px,#ddebf2 150px,#eff3f5 153px,#fae9df 156px,#fbd0b9 159px,#f6b191 162px,#f2a17f 165px,#f3a481 168px,#f8bda1 171px,#fce2d2 174px,#eff3f5 177px,#c7e0ed 180px,#98c8e0 183px,#7eb8d7 186px)"></div><div style="top:128px;background:linear-gradient(90deg,#f9ede5 0px,#acd2e5 3px,#3e8cbf 6px,#2369ad 9px,#2a71b2 12px,#5ca3cb 15px,#d2e6f0 18px,#fddcc9 21px,#e37e64 24px,#c53e3d 27px,#c43b3c 30px,#e17860 33px,#fcd3bc 36px,#e0ecf3 39px,#81bad8 42px,#3b88be 45px,#337eb8 48px,#4997c5 51px,#a0cce2 54px,#e9f0f4 57px,#fcdecd 60px,#f6b394 63px,#f6af8e 66px,#fdd9c4 69px,#f6f7f7 72px,#d5e7f1 75px,#b8d8e9 78px,#b8d8e9 81px,#d2e6f0 84px,#edf2f5 87px,#faeae1 90px,#fddcc9 93px,#fcd7c2 96px,#fcdfcf 99px,#f9efe9 102px,#e7f0f4 105px,#cce2ef 108px,#acd2e5 111px,#9dcbe1 114px,#a0cce2 117px,#bbdaea 120px,#e1edf3 123px,#f8f4f2 126px,#fae8de 129px,#fbe5d8 132px,#fae8de 135px,#f8f2ef 138px,#eff3f5 141px,#e3edf3 144px,#ddebf2 147px,#e3edf3 150px,#f2f5f6 153px,#faeae1 156px,#fcd5bf 159px,#f7b799 162px,#f5a886 165px,#f5ac8b 168px,#f9c4a9 171px,#fbe4d6 174px,#edf2f5 177px,#c5dfec 180px,#98c8e0 183px,#7eb8d7 186px)"></div><div style="top:129px;background:linear-gradient(90deg,#faeae1 0px,#b1d5e7 3px,#408fc1 6px,#246aae 9px,#2a71b2 12px,#5ca3cb 15px,#d1e5f0 18px,#fcdecd 21px,#e58368 24px,#c6413e 27px,#c53e3d 30px,#e17860 33px,#fcd3bc 36px,#e1edf3 39px,#87beda 42px,#3e8cbf 45px,#3681ba 48px,#4f9bc7 51px,#a5cee3 54px,#eaf1f5 57px,#fddcc9 60px,#f6b191 63px,#f5aa89 66px,#fcd3bc 69px,#f8f4f2 72px,#d5e7f1 75px,#b1d5e7 78px,#acd2e5 81px,#c2ddec 84px,#e1edf3 87px,#f8f2ef 90px,#fce2d2 93px,#fdd9c4 96px,#fdddcb 99px,#faeae1 102px,#f0f4f6 105px,#d7e8f1 108px,#bbdaea 111px,#acd2e5 114px,#a9d1e5 117px,#c2ddec 120px,#e4eef4 123px,#f8f1ed 126px,#fbe5d8 129px,#fcdfcf 132px,#fce2d2 135px,#faeae1 138px,#f7f5f4 141px,#ecf2f5 144px,#e6eff4 147px,#e7f0f4 150px,#f5f6f7 153px,#faeae1 156px,#fdd9c4 159px,#f8bfa4 162px,#f6b191 165px,#f6b394 168px,#facab1 171px,#fae7dc 174px,#eaf1f5 177px,#c2ddec 180px,#98c8e0 183px,#7eb8d7 186px)"></div><div style="top:130px;background:linear-gradient(90deg,#fae8de 0px,#b6d7e8 3px,#4393c3 6px,#276eb0 9px,#2b73b3 12px,#5ca3cb 15px,#cfe4ef 18px,#fce0d0 21px,#e8896c 24px,#c94741 27px,#c6413e 30px,#e27b62 33px,#fbd0b9 36px,#e3edf3 39px,#8dc2dc 42px,#4291c2 45px,#3a87bd 48px,#59a1ca 51px,#a9d1e5 54px,#eff3f5 57px,#fdd9c4 60px,#f6af8e 63px,#f5a886 66px,#fbceb7 69px,#f8f2ef 72px,#d5e7f1 75px,#acd2e5 78px,#9dcbe1 81px,#b1d5e7 84px,#d7e8f1 87px,#f5f6f7 90px,#fbe6da 93px,#fddcc9 96px,#fddcc9 99px,#fbe5d8 102px,#f7f5f4 105px,#e1edf3 108px,#cce2ef 111px,#b8d8e9 114px,#b6d7e8 117px,#cfe4ef 120px,#eaf1f5 123px,#f9eee7 126px,#fce0d0 129px,#fdd9c4 132px,#fddbc7 135px,#fbe3d4 138px,#f9eee7 141px,#f6f7f7 144px,#edf2f5 147px,#edf2f5 150px,#f6f7f7 153px,#f9ede5 156px,#fdddcb 159px,#fac8af 162px,#f7b99c 165px,#f8bda1 168px,#fcd3bc 171px,#fae9df 174px,#e9f0f4 177px,#c2ddec 180px,#98c8e0 183px,#81bad8 186px)"></div><div style="top:131px;background:linear-gradient(90deg,#fbe6da 0px,#bddbea 3px,#4997c5 6px,#2870b1 9px,#2b73b3 12px,#59a1ca 15px,#cce2ef 18px,#fbe3d4 21px,#ea8e70 24px,#cc4c44 27px,#c94741 30px,#e27b62 33px,#fbd0b9 36px,#e4eef4 39px,#93c6de 42px,#4695c4 45px,#3e8cbf 48px,#62a7ce 51px,#b1d5e7 54px,#f3f5f6 57px,#fcd3bc 60px,#f5aa89 63px,#f3a481 66px,#facab1 69px,#f8f1ed 72px,#d5e7f1 75px,#a5cee3 78px,#90c4dd 81px,#a2cde3 84px,#cae1ee 87px,#ecf2f5 90px,#faeae1 93px,#fdddcb 96px,#fdd9c4 99px,#fce0d0 102px,#f9efe9 105px,#eaf1f5 108px,#d7e8f1 111px,#c7e0ed 114px,#c5dfec 117px,#d8e9f1 120px,#f0f4f6 123px,#faeae1 126px,#fdddcb 129px,#fbd0b9 132px,#fbd0b9 135px,#fddbc7 138px,#fbe6da 141px,#f8f1ed 144px,#f5f6f7 147px,#f0f4f6 150px,#f6f7f7 153px,#f9eee7 156px,#fce2d2 159px,#fbd0b9 162px,#f9c4a9 165px,#f9c6ac 168px,#fdd9c4 171px,#f9ebe3 174px,#e7f0f4 177px,#c2ddec 180px,#9bc9e0 183px,#87beda 186px)"></div><div style="top:132px;background:linear-gradient(90deg,#fbe4d6 0px,#c2ddec 3px,#4f9bc7 6px,#2b73b3 9px,#2c75b4 12px,#59a1ca 15px,#cae1ee 18px,#fbe4d6 21px,#ec9374 24px,#cf5246 27px,#cb4942 30px,#e37e64 33px,#fbd0b9 36px,#e6eff4 39px,#98c8e0 42px,#4f9bc7 45px,#4291c2 48px,#6bacd1 51px,#bbdaea 54px,#f7f6f6 57px,#fbccb4 60px,#f3a481 63px,#f19e7d 66px,#f9c4a9 69px,#f9efe9 72px,#d5e7f1 75px,#9dcbe1 78px,#7eb8d7 81px,#90c4dd 84px,#bbdaea 87px,#e3edf3 90px,#f9eee7 93px,#fdddcb 96px,#fcd3bc 99px,#fddcc9 102px,#fae8de 105px,#f5f6f7 108px,#e1edf3 111px,#d5e7f1 114px,#d2e6f0 117px,#e1edf3 120px,#f7f6f6 123px,#fbe6da 126px,#fcd7c2 129px,#f9c6ac 132px,#f9c4a9 135px,#fbceb7 138px,#fcdfcf 141px,#f9ebe3 144px,#f8f4f2 147px,#f3f5f6 150px,#f6f7f7 153px,#f8f1ed 156px,#fbe6da 159px,#fddbc7 162px,#fbceb7 165px,#fbceb7 168px,#fdddcb 171px,#f9eee7 174px,#e6eff4 177px,#c5dfec 180px,#a0cce2 183px,#8dc2dc 186px)"></div><div style="top:133px;background:linear-gradient(90deg,#fce2d2 0px,#c7e0ed 3px,#59a1ca 6px,#2e77b5 9px,#2e77b5 12px,#5ca3cb 15px,#c7e0ed 18px,#fbe5d8 21px,#ef9979 24px,#d25849 27px,#ce4f45 30px,#e48066 33px,#fbd0b9 36px,#e7f0f4 39px,#9dcbe1 42px,#569fc9 45px,#4997c5 48px,#75b2d4 51px,#c5dfec 54px,#f8f2ef 57px,#f9c6ac 60px,#f09c7b 63px,#ef9979 66px,#f8bfa4 69px,#f9ede5 72px,#d4e6f1 75px,#93c6de 78px,#6eaed2 81px,#7eb8d7 84px,#acd2e5 87px,#dbeaf2 90px,#f8f1ed 93px,#fdddcb 96px,#fbceb7 99px,#fcd3bc 102px,#fce2d2 105px,#f8f1ed 108px,#ecf2f5 111px,#deebf2 114px,#ddebf2 117px,#eaf1f5 120px,#f8f2ef 123px,#fbe3d4 126px,#fbceb7 129px,#f8bda1 132px,#f7b99c 135px,#f9c4a9 138px,#fcd7c2 141px,#fbe6da 144px,#f8f1ed 147px,#f6f7f7 150px,#f5f6f7 153px,#f8f3f0 156px,#faeae1 159px,#fce0d0 162px,#fdd9c4 165px,#fdd9c4 168px,#fce0d0 171px,#f9f0eb 174px,#e6eff4 177px,#c7e0ed 180px,#a2cde3 183px,#93c6de 186px)"></div><div style="top:134px;background:linear-gradient(90deg,#fcdfcf 0px,#cce2ef 3px,#5fa5cd 6px,#307ab6 9px,#307ab6 12px,#5ca3cb 15px,#c7e0ed 18px,#fbe6da 21px,#f09c7b 24px,#d35a4a 27px,#cf5246 30px,#e58368 33px,#fbd0b9 36px,#e9f0f4 39px,#a0cce2 42px,#5fa5cd 45px,#529dc8 48px,#81bad8 51px,#cce2ef 54px,#f9eee7 57px,#f8bda1 60px,#eb9172 63px,#ea8e70 66px,#f7b99c 69px,#faeae1 72px,#d4e6f1 75px,#8ac0db 78px,#5ca3cb 81px,#6bacd1 84px,#9dcbe1 87px,#d5e7f1 90px,#f8f4f2 93px,#fdddcb 96px,#fac8af 99px,#fac8af 102px,#fddbc7 105px,#fae9df 108px,#f6f7f7 111px,#e9f0f4 114px,#e7f0f4 117px,#f2f5f6 120px,#f9eee7 123px,#fcdfcf 126px,#fac8af 129px,#f7b596 132px,#f6b191 135px,#f7b99c 138px,#fbccb4 141px,#fce0d0 144px,#f9eee7 147px,#f7f6f6 150px,#f3f5f6 153px,#f6f7f7 156px,#f9f0eb 159px,#fbe6da 162px,#fcdfcf 165px,#fcdecd 168px,#fbe4d6 171px,#f8f1ed 174px,#e6eff4 177px,#cae1ee 180px,#a9d1e5 183px,#9bc9e0 186px)"></div><div style="top:135px;background:linear-gradient(90deg,#fdddcb 0px,#d2e6f0 3px,#65a9cf 6px,#337eb8 9px,#327cb7 12px,#5fa5cd 15px,#c7e0ed 18px,#fae7dc 21px,#f2a17f 24px,#d6604d 27px,#d25849 30px,#e6866a 33px,#fbd0b9 36px,#eaf1f5 39px,#a5cee3 42px,#65a9cf 45px,#5ca3cb 48px,#8dc2dc 51px,#d5e7f1 54px,#fae9df 57px,#f7b596 60px,#e6866a 63px,#e6866a 66px,#f6b394 69px,#fae8de 72px,#d4e6f1 75px,#7eb8d7 78px,#4997c5 81px,#5ca3cb 84px,#90c4dd 87px,#cfe4ef 90px,#f7f6f6 93px,#fdddcb 96px,#f9c2a7 99px,#f8bfa4 102px,#fbceb7 105px,#fbe3d4 108px,#f8f1ed 111px,#f2f5f6 114px,#f0f4f6 117px,#f7f5f4 120px,#fae9df 123px,#fddcc9 126px,#f9c4a9 129px,#f6af8e 132px,#f5a886 135px,#f6af8e 138px,#f9c4a9 141px,#fdddcb 144px,#f9ebe3 147px,#f7f6f6 150px,#f0f4f6 153px,#f2f5f6 156px,#f7f5f4 159px,#f9ede5 162px,#fbe5d8 165px,#fbe3d4 168px,#fae7dc 171px,#f8f2ef 174px,#e7f0f4 177px,#cfe4ef 180px,#aed3e6 183px,#a2cde3 186px)"></div><div style="top:136px;background:linear-gradient(90deg,#fddcc9 0px,#d5e7f1 3px,#6bacd1 6px,#3681ba 9px,#3480b9 12px,#62a7ce 15px,#c7e0ed 18px,#fae8de 21px,#f3a481 24px,#d86551 27px,#d35a4a 30px,#e8896c 33px,#fcd3bc 36px,#eaf1f5 39px,#a7d0e4 42px,#6bacd1 45px,#65a9cf 48px,#96c7df 51px,#dbeaf2 54px,#fbe4d6 57px,#f5aa89 60px,#e27b62 63px,#e27b62 66px,#f5ac8b 69px,#fbe6da 72px,#d4e6f1 75px,#7bb6d6 78px,#4291c2 81px,#4f9bc7 84px,#84bcd9 87px,#c5dfec 90px,#f5f6f7 93px,#fddcc9 96px,#f8bb9e 99px,#f7b596 102px,#f9c4a9 105px,#fddcc9 108px,#faeae1 111px,#f8f4f2 114px,#f7f6f6 117px,#f8f1ed 120px,#fbe6da 123px,#fdd9c4 126px,#f8bfa4 129px,#f5aa89 132px,#f2a17f 135px,#f5a886 138px,#f8bb9e 141px,#fdd9c4 144px,#faeae1 147px,#f6f7f7 150px,#ecf2f5 153px,#eaf1f5 156px,#f2f5f6 159px,#f8f3f0 162px,#f9ebe3 165px,#fae7dc 168px,#faeae1 171px,#f8f3f0 174px,#e9f0f4 177px,#d2e6f0 180px,#b6d7e8 183px,#a9d1e5 186px)"></div><div style="top:137px;background:linear-gradient(90deg,#fddbc7 0px,#d8e9f1 3px,#75b2d4 6px,#3885bc 9px,#3783bb 12px,#65a9cf 15px,#c7e0ed 18px,#fae9df 21px,#f4a683 24px,#da6853 27px,#d6604d 30px,#e98b6e 33px,#fcd5bf 36px,#eaf1f5 39px,#a9d1e5 42px,#71b0d3 45px,#6eaed2 48px,#a0cce2 51px,#e1edf3 54px,#fcdfcf 57px,#f2a17f 60px,#dd7059 63px,#dd7059 66px,#f4a683 69px,#fbe4d6 72px,#d7e8f1 75px,#7bb6d6 78px,#408fc1 81px,#4695c4 84px,#78b4d5 87px,#bddbea 90px,#f2f5f6 93px,#fddcc9 96px,#f7b596 99px,#f5ac8b 102px,#f7b99c 105px,#fbd0b9 108px,#fbe5d8 111px,#f9efe9 114px,#f8f1ed 117px,#f9ede5 120px,#fbe4d6 123px,#fcd5bf 126px,#f8bb9e 129px,#f4a683 132px,#f09c7b 135px,#f2a17f 138px,#f7b799 141px,#fcd5bf 144px,#fae9df 147px,#f5f6f7 150px,#e7f0f4 153px,#e4eef4 156px,#e9f0f4 159px,#f3f5f6 162px,#f8f1ed 165px,#f9ebe3 168px,#f9ede5 171px,#f8f3f0 174px,#eaf1f5 177px,#d7e8f1 180px,#c0dceb 183px,#b1d5e7 186px)"></div><div style="top:138px;background:linear-gradient(90deg,#fdd9c4 0px,#dae9f2 3px,#7bb6d6 6px,#3b88be 9px,#3a87bd 12px,#68abd0 15px,#c7e0ed 18px,#fae9df 21px,#f5a886 24px,#dc6e57 27px,#d7634f 30px,#eb9172 33px,#fcd5bf 36px,#eaf1f5 39px,#acd2e5 42px,#78b4d5 45px,#78b4d5 48px,#a7d0e4 51px,#e7f0f4 54px,#fddbc7 57px,#ec9374 60px,#d7634f 63px,#d86551 66px,#f09c7b 69px,#fce0d0 72px,#d8e9f1 75px,#81bad8 78px,#4291c2 81px,#4291c2 84px,#71b0d3 87px,#b8d8e9 90px,#f0f4f6 93px,#fddcc9 96px,#f6b394 99px,#f3a481 102px,#f6af8e 105px,#fac8af 108px,#fcdfcf 111px,#faeae1 114px,#f9eee7 117px,#faeae1 120px,#fbe3d4 123px,#fcd3bc 126px,#f8bb9e 129px,#f3a481 132px,#ee9677 135px,#f09c7b 138px,#f6b394 141px,#fcd3bc 144px,#fae9df 147px,#f3f5f6 150px,#e3edf3 153px,#ddebf2 156px,#e1edf3 159px,#ecf2f5 162px,#f7f6f6 165px,#f9f0eb 168px,#f9efe9 171px,#f8f3f0 174px,#edf2f5 177px,#dbeaf2 180px,#c7e0ed 183px,#bbdaea 186px)"></div><div style="top:139px;background:linear-gradient(90deg,#fcd7c2 0px,#ddebf2 3px,#81bad8 6px,#3f8ec0 9px,#3b88be 12px,#6bacd1 15px,#cae1ee 18px,#fae9df 21px,#f5aa89 24px,#dd7059 27px,#da6853 30px,#ec9374 33px,#fcd7c2 36px,#eaf1f5 39px,#aed3e6 42px,#7eb8d7 45px,#7eb8d7 48px,#aed3e6 51px,#ecf2f5 54px,#fcd3bc 57px,#e8896c 60px,#d25849 63px,#d55d4c 66px,#ec9374 69px,#fcdecd 72px,#dbeaf2 75px,#87beda 78px,#4393c3 81px,#408fc1 84px,#68abd0 87px,#b3d6e8 90px,#eff3f5 93px,#fddcc9 96px,#f6af8e 99px,#f09c7b 102px,#f4a683 105px,#f8bda1 108px,#fddbc7 111px,#fbe6da 114px,#faeae1 117px,#fae8de 120px,#fce2d2 123px,#fcd3bc 126px,#f8bb9e 129px,#f3a481 132px,#ee9677 135px,#ef9979 138px,#f6b191 141px,#fbd0b9 144px,#fae9df 147px,#f0f4f6 150px,#ddebf2 153px,#d5e7f1 156px,#d8e9f1 159px,#e3edf3 162px,#f0f4f6 165px,#f8f3f0 168px,#f9f0eb 171px,#f8f3f0 174px,#f0f4f6 177px,#e1edf3 180px,#d1e5f0 183px,#c5dfec 186px)"></div><div style="top:140px;background:linear-gradient(90deg,#fcd5bf 0px,#deebf2 3px,#87beda 6px,#4291c2 9px,#3e8cbf 12px,#71b0d3 15px,#cce2ef 18px,#fae9df 21px,#f5ac8b 24px,#df765e 27px,#dc6e57 30px,#ef9979 33px,#fddbc7 36px,#e9f0f4 39px,#aed3e6 42px,#81bad8 45px,#84bcd9 48px,#b6d7e8 51px,#f2f5f6 54px,#facab1 57px,#e37e64 60px,#cc4c44 63px,#cf5246 66px,#e98b6e 69px,#fddbc7 72px,#e0ecf3 75px,#8ac0db 78px,#4393c3 81px,#3f8ec0 84px,#65a9cf 87px,#b1d5e7 90px,#eff3f5 93px,#fddbc7 96px,#f5aa89 99px,#ec9374 102px,#f09c7b 105px,#f7b799 108px,#fcd5bf 111px,#fbe4d6 114px,#fae9df 117px,#fae7dc 120px,#fce2d2 123px,#fcd5bf 126px,#f8bda1 129px,#f4a683 132px,#ee9677 135px,#ef9979 138px,#f6b191 141px,#fbd0b9 144px,#f9ebe3 147px,#ecf2f5 150px,#d7e8f1 153px,#cce2ef 156px,#cfe4ef 159px,#dbeaf2 162px,#eaf1f5 165px,#f7f6f6 168px,#f8f1ed 171px,#f8f1ed 174px,#f5f6f7 177px,#e6eff4 180px,#d8e9f1 183px,#cfe4ef 186px)"></div><div style="top:141px;background:linear-gradient(90deg,#fcd5bf 0px,#e1edf3 3px,#8dc2dc 6px,#4695c4 9px,#408fc1 12px,#75b2d4 15px,#cfe4ef 18px,#fae9df 21px,#f6af8e 24px,#e17860 27px,#dd7059 30px,#f09c7b 33px,#fddcc9 36px,#e7f0f4 39px,#aed3e6 42px,#81bad8 45px,#87beda 48px,#bbdaea 51px,#f6f7f7 54px,#f9c4a9 57px,#df765e 60px,#c84440 63px,#c94741 66px,#e48066 69px,#fcd5bf 72px,#e3edf3 75px,#90c4dd 78px,#4695c4 81px,#3e8cbf 84px,#62a7ce 87px,#aed3e6 90px,#edf2f5 93px,#fdd9c4 96px,#f5a886 99px,#e98b6e 102px,#ec9374 105px,#f6b191 108px,#fbd0b9 111px,#fbe3d4 114px,#fae8de 117px,#fae8de 120px,#fbe4d6 123px,#fdd9c4 126px,#f9c2a7 129px,#f5aa89 132px,#ef9979 135px,#f09c7b 138px,#f6b191 141px,#fcd3bc 144px,#f9ede5 147px,#e7f0f4 150px,#d1e5f0 153px,#c0dceb 156px,#c2ddec 159px,#d2e6f0 162px,#e4eef4 165px,#f5f6f7 168px,#f8f1ed 171px,#f9f0eb 174px,#f7f5f4 177px,#edf2f5 180px,#deebf2 183px,#d5e7f1 186px)"></div><div style="top:142px;background:linear-gradient(90deg,#fcd5bf 0px,#e3edf3 3px,#90c4dd 6px,#4c99c6 9px,#4393c3 12px,#7bb6d6 15px,#d1e5f0 18px,#fae9df 21px,#f6af8e 24px,#e27b62 27px,#df765e 30px,#f2a17f 33px,#fcdecd 36px,#e6eff4 39px,#acd2e5 42px,#84bcd9 45px,#8ac0db 48px,#c0dceb 51px,#f7f5f4 54px,#f8bda1 57px,#db6b55 60px,#c2383a 63px,#c53e3d 66px,#e27b62 69px,#fbd0b9 72px,#e6eff4 75px,#96c7df 78px,#4997c5 81px,#3e8cbf 84px,#5fa5cd 87px,#acd2e5 90px,#edf2f5 93px,#fcd7c2 96px,#f3a481 99px,#e6866a 102px,#ea8e70 105px,#f5ac8b 108px,#fbceb7 111px,#fce2d2 114px,#fae9df 117px,#fae9df 120px,#fbe6da 123px,#fdddcb 126px,#f9c6ac 129px,#f6af8e 132px,#f09c7b 135px,#f19e7d 138px,#f6b394 141px,#fcd5bf 144px,#f9efe9 147px,#e3edf3 150px,#c7e0ed 153px,#b3d6e8 156px,#b3d6e8 159px,#cae1ee 162px,#deebf2 165px,#f2f5f6 168px,#f8f1ed 171px,#f9eee7 174px,#f8f1ed 177px,#f3f5f6 180px,#e6eff4 183px,#dbeaf2 186px)"></div><div style="top:143px;background:linear-gradient(90deg,#fcd5bf 0px,#e3edf3 3px,#96c7df 6px,#529dc8 9px,#4997c5 12px,#81bad8 15px,#d2e6f0 18px,#fae9df 21px,#f6b191 24px,#e37e64 27px,#e17860 30px,#f4a683 33px,#fcdfcf 36px,#e4eef4 39px,#a9d1e5 42px,#81bad8 45px,#8dc2dc 48px,#c5dfec 51px,#f8f3f0 54px,#f7b799 57px,#d86551 60px,#bf3338 63px,#c13639 66px,#de735c 69px,#facab1 72px,#e9f0f4 75px,#98c8e0 78px,#4c99c6 81px,#3e8cbf 84px,#5fa5cd 87px,#acd2e5 90px,#eff3f5 93px,#fcd5bf 96px,#f19e7d 99px,#e48066 102px,#e8896c 105px,#f5aa89 108px,#fbceb7 111px,#fbe3d4 114px,#faeae1 117px,#f9ede5 120px,#fae9df 123px,#fce0d0 126px,#fbceb7 129px,#f7b596 132px,#f3a481 135px,#f3a481 138px,#f7b596 141px,#fdd9c4 144px,#f8f2ef 147px,#deebf2 150px,#bddbea 153px,#a7d0e4 156px,#a7d0e4 159px,#bddbea 162px,#dae9f2 165px,#f0f4f6 168px,#f9f0eb 171px,#faeae1 174px,#f9ede5 177px,#f8f4f2 180px,#ecf2f5 183px,#e1edf3 186px)"></div><div style="top:144px;background:linear-gradient(90deg,#fcd5bf 0px,#e4eef4 3px,#98c8e0 6px,#59a1ca 9px,#4f9bc7 12px,#84bcd9 15px,#d4e6f1 18px,#fae8de 21px,#f6b191 24px,#e48066 27px,#e37e64 30px,#f5aa89 33px,#fce2d2 36px,#e1edf3 39px,#a7d0e4 42px,#81bad8 45px,#8dc2dc 48px,#c5dfec 51px,#f8f2ef 54px,#f7b596 57px,#d55d4c 60px,#bb2a34 63px,#be3036 66px,#dc6e57 69px,#f9c6ac 72px,#eaf1f5 75px,#9bc9e0 78px,#4f9bc7 81px,#3f8ec0 84px,#5fa5cd 87px,#acd2e5 90px,#f0f4f6 93px,#fcd3bc 96px,#ef9979 99px,#e27b62 102px,#e58368 105px,#f5a886 108px,#fbceb7 111px,#fbe5d8 114px,#f9eee7 117px,#f9f0eb 120px,#f9ede5 123px,#fbe5d8 126px,#fcd7c2 129px,#f8bb9e 132px,#f5aa89 135px,#f5a886 138px,#f7b99c 141px,#fddcc9 144px,#f8f4f2 147px,#dae9f2 150px,#b3d6e8 153px,#9bc9e0 156px,#9dcbe1 159px,#b3d6e8 162px,#d5e7f1 165px,#eff3f5 168px,#f9efe9 171px,#fae7dc 174px,#fae8de 177px,#f9efe9 180px,#f3f5f6 183px,#e6eff4 186px)"></div><div style="top:145px;background:linear-gradient(90deg,#fcd5bf 0px,#e4eef4 3px,#9bc9e0 6px,#5ca3cb 9px,#569fc9 12px,#8ac0db 15px,#d5e7f1 18px,#fae8de 21px,#f6b191 24px,#e58368 27px,#e48066 30px,#f6af8e 33px,#fbe4d6 36px,#deebf2 39px,#a5cee3 42px,#7eb8d7 45px,#8dc2dc 48px,#c5dfec 51px,#f8f1ed 54px,#f6b191 57px,#d35a4a 60px,#ba2832 63px,#bb2a34 66px,#da6853 69px,#f9c4a9 72px,#edf2f5 75px,#a0cce2 78px,#529dc8 81px,#408fc1 84px,#62a7ce 87px,#aed3e6 90px,#f0f4f6 93px,#fbd0b9 96px,#ee9677 99px,#df765e 102px,#e48066 105px,#f5aa89 108px,#fcd3bc 111px,#fae7dc 114px,#f8f1ed 117px,#f8f4f2 120px,#f8f2ef 123px,#faeae1 126px,#fdddcb 129px,#f9c4a9 132px,#f6b191 135px,#f5ac8b 138px,#f8bfa4 141px,#fcdecd 144px,#f6f7f7 147px,#d4e6f1 150px,#a9d1e5 153px,#90c4dd 156px,#90c4dd 159px,#acd2e5 162px,#d2e6f0 165px,#eff3f5 168px,#f9ede5 171px,#fbe4d6 174px,#fbe3d4 177px,#fae9df 180px,#f8f4f2 183px,#ecf2f5 186px)"></div><div style="top:146px;background:linear-gradient(90deg,#fcd7c2 0px,#e6eff4 3px,#9dcbe1 6px,#62a7ce 9px,#5ca3cb 12px,#90c4dd 15px,#d8e9f1 18px,#fae7dc 21px,#f6b191 24px,#e6866a 27px,#e6866a 30px,#f6b191 33px,#fbe6da 36px,#dbeaf2 39px,#a0cce2 42px,#78b4d5 45px,#8ac0db 48px,#c5dfec 51px,#f8f1ed 54px,#f6b191 57px,#d25849 60px,#b72230 63px,#ba2832 66px,#d86551 69px,#f8bfa4 72px,#eff3f5 75px,#a2cde3 78px,#569fc9 81px,#408fc1 84px,#62a7ce 87px,#b1d5e7 90px,#f3f5f6 93px,#fbccb4 96px,#eb9172 99px,#de735c 102px,#e48066 105px,#f5aa89 108px,#fcd7c2 111px,#f9ebe3 114px,#f7f5f4 117px,#f3f5f6 120px,#f6f7f7 123px,#f9f0eb 126px,#fbe3d4 129px,#fbccb4 132px,#f7b799 135px,#f6b394 138px,#f9c4a9 141px,#fce2d2 144px,#f3f5f6 147px,#cfe4ef 150px,#a0cce2 153px,#84bcd9 156px,#87beda 159px,#a5cee3 162px,#d1e5f0 165px,#eff3f5 168px,#faeae1 171px,#fcdfcf 174px,#fdddcb 177px,#fbe4d6 180px,#f9f0eb 183px,#f0f4f6 186px)"></div><div style="top:147px;background:linear-gradient(90deg,#fdd9c4 0px,#e6eff4 3px,#a0cce2 6px,#65a9cf 9px,#62a7ce 12px,#96c7df 15px,#dae9f2 18px,#fbe6da 21px,#f6b191 24px,#e6866a 27px,#e8896c 30px,#f7b596 33px,#fae8de 36px,#d8e9f1 39px,#9bc9e0 42px,#75b2d4 45px,#84bcd9 48px,#c2ddec 51px,#f8f1ed 54px,#f6b191 57px,#d25849 60px,#b72230 63px,#b82531 66px,#d7634f 69px,#f8bfa4 72px,#f0f4f6 75px,#a5cee3 78px,#59a1ca 81px,#4291c2 84px,#65a9cf 87px,#b3d6e8 90px,#f5f6f7 93px,#facab1 96px,#ea8e70 99px,#dd7059 102px,#e48066 105px,#f6af8e 108px,#fddcc9 111px,#f9f0eb 114px,#f2f5f6 117px,#ecf2f5 120px,#edf2f5 123px,#f7f6f6 126px,#fae8de 129px,#fcd7c2 132px,#f8bfa4 135px,#f7b99c 138px,#facab1 141px,#fbe4d6 144px,#eff3f5 147px,#c7e0ed 150px,#96c7df 153px,#78b4d5 156px,#7bb6d6 159px,#9dcbe1 162px,#cfe4ef 165px,#f0f4f6 168px,#fae7dc 171px,#fddbc7 174px,#fcd5bf 177px,#fcdecd 180px,#faeae1 183px,#f6f7f7 186px)"></div><div style="top:148px;background:linear-gradient(90deg,#fddbc7 0px,#e4eef4 3px,#a2cde3 6px,#68abd0 9px,#65a9cf 12px,#98c8e0 15px,#dbeaf2 18px,#fbe5d8 21px,#f6b191 24px,#e6866a 27px,#e98b6e 30px,#f7b99c 33px,#faeae1 36px,#d5e7f1 39px,#96c7df 42px,#6eaed2 45px,#81bad8 48px,#c0dceb 51px,#f8f2ef 54px,#f6b394 57px,#d25849 60px,#b72230 63px,#b82531 66px,#d6604d 69px,#f8bda1 72px,#f2f5f6 75px,#a7d0e4 78px,#59a1ca 81px,#4393c3 84px,#68abd0 87px,#b6d7e8 90px,#f7f6f6 93px,#f9c6ac 96px,#e8896c 99px,#dc6e57 102px,#e48066 105px,#f6b394 108px,#fcdfcf 111px,#f8f4f2 114px,#e9f0f4 117px,#e3edf3 120px,#e4eef4 123px,#f0f4f6 126px,#f9eee7 129px,#fdddcb 132px,#fac8af 135px,#f8bfa4 138px,#fbceb7 141px,#fbe6da 144px,#ecf2f5 147px,#c0dceb 150px,#8dc2dc 153px,#6eaed2 156px,#75b2d4 159px,#9bc9e0 162px,#cfe4ef 165px,#f2f5f6 168px,#fbe4d6 171px,#fbd0b9 174px,#facab1 177px,#fcd7c2 180px,#fbe6da 183px,#f7f5f4 186px)"></div><div style="top:149px;background:linear-gradient(90deg,#fddcc9 0px,#e4eef4 3px,#a2cde3 6px,#6bacd1 9px,#6bacd1 12px,#9dcbe1 15px,#deebf2 18px,#fbe4d6 21px,#f6af8e 24px,#e8896c 27px,#ea8e70 30px,#f8bb9e 33px,#f9ede5 36px,#d2e6f0 39px,#8dc2dc 42px,#65a9cf 45px,#78b4d5 48px,#bbdaea 51px,#f8f4f2 54px,#f7b596 57px,#d35a4a 60px,#b82531 63px,#ba2832 66px,#d7634f 69px,#f8bda1 72px,#f2f5f6 75px,#a7d0e4 78px,#5ca3cb 81px,#4695c4 84px,#6eaed2 87px,#bbdaea 90px,#f7f5f4 93px,#f9c2a7 96px,#e58368 99px,#db6b55 102px,#e58368 105px,#f7b799 108px,#fbe4d6 111px,#f3f5f6 114px,#e1edf3 117px,#dae9f2 120px,#dbeaf2 123px,#e7f0f4 126px,#f8f3f0 129px,#fbe3d4 132px,#fbceb7 135px,#f9c6ac 138px,#fcd3bc 141px,#fae8de 144px,#e7f0f4 147px,#bbdaea 150px,#87beda 153px,#65a9cf 156px,#6bacd1 159px,#96c7df 162px,#cfe4ef 165px,#f5f6f7 168px,#fce0d0 171px,#fac8af 174px,#f8bfa4 177px,#fbccb4 180px,#fce2d2 183px,#f8f2ef 186px)"></div><div style="top:150px;background:linear-gradient(90deg,#fcdecd 0px,#e3edf3 3px,#a2cde3 6px,#6eaed2 9px,#6eaed2 12px,#a2cde3 15px,#e1edf3 18px,#fbe3d4 21px,#f5ac8b 24px,#e8896c 27px,#eb9172 30px,#f8bfa4 33px,#f9efe9 36px,#cce2ef 39px,#87beda 42px,#5fa5cd 45px,#71b0d3 48px,#b6d7e8 51px,#f7f6f6 54px,#f7b99c 57px,#d6604d 60px,#ba2832 63px,#bb2a34 66px,#d86551 69px,#f8bda1 72px,#f2f5f6 75px,#a7d0e4 78px,#5fa5cd 81px,#4997c5 84px,#71b0d3 87px,#bddbea 90px,#f8f3f0 93px,#f8bda1 96px,#e48066 99px,#db6b55 102px,#e6866a 105px,#f8bb9e 108px,#fae8de 111px,#eaf1f5 114px,#d7e8f1 117px,#cfe4ef 120px,#d2e6f0 123px,#deebf2 126px,#f3f5f6 129px,#fae7dc 132px,#fcd7c2 135px,#fbccb4 138px,#fcd7c2 141px,#faeae1 144px,#e6eff4 147px,#b6d7e8 150px,#7eb8d7 153px,#5fa5cd 156px,#68abd0 159px,#96c7df 162px,#d1e5f0 165px,#f7f6f6 168px,#fddcc9 171px,#f8bda1 174px,#f7b596 177px,#f9c2a7 180px,#fdddcb 183px,#f9f0eb 186px)"></div><div style="top:151px;background:linear-gradient(90deg,#fcdfcf 0px,#e3edf3 3px,#a2cde3 6px,#71b0d3 9px,#71b0d3 12px,#a5cee3 15px,#e3edf3 18px,#fce0d0 21px,#f5ac8b 24px,#e8896c 27px,#eb9172 30px,#f9c2a7 33px,#f8f1ed 36px,#c7e0ed 39px,#7eb8d7 42px,#569fc9 45px,#68abd0 48px,#aed3e6 51px,#f3f5f6 54px,#f8bda1 57px,#d86551 60px,#bd2d35 63px,#bd2d35 66px,#da6853 69px,#f8bfa4 72px,#f2f5f6 75px,#a7d0e4 78px,#5fa5cd 81px,#4c99c6 84px,#75b2d4 87px,#c2ddec 90px,#f8f1ed 93px,#f7b99c 96px,#e27b62 99px,#da6853 102px,#e8896c 105px,#f9c2a7 108px,#f9ede5 111px,#e3edf3 114px,#cce2ef 117px,#c0dceb 120px,#c2ddec 123px,#d5e7f1 126px,#edf2f5 129px,#f9ebe3 132px,#fddcc9 135px,#fbd0b9 138px,#fddbc7 141px,#f9ede5 144px,#e3edf3 147px,#b1d5e7 150px,#7bb6d6 153px,#5ca3cb 156px,#65a9cf 159px,#96c7df 162px,#d2e6f0 165px,#f8f3f0 168px,#fcd5bf 171px,#f6b394 174px,#f5aa89 177px,#f7b99c 180px,#fdd9c4 183px,#f9efe9 186px)"></div><div style="top:152px;background:linear-gradient(90deg,#fce2d2 0px,#e1edf3 3px,#a2cde3 6px,#71b0d3 9px,#78b4d5 12px,#a9d1e5 15px,#e6eff4 18px,#fcdfcf 21px,#f5aa89 24px,#e6866a 27px,#ec9374 30px,#f9c4a9 33px,#f8f3f0 36px,#c2ddec 39px,#78b4d5 42px,#4c99c6 45px,#5fa5cd 48px,#a7d0e4 51px,#eff3f5 54px,#f9c4a9 57px,#dc6e57 60px,#c13639 63px,#c13639 66px,#dc6e57 69px,#f9c4a9 72px,#f0f4f6 75px,#a7d0e4 78px,#5fa5cd 81px,#4c99c6 84px,#78b4d5 87px,#c7e0ed 90px,#f9efe9 93px,#f7b799 96px,#e17860 99px,#da6853 102px,#e98b6e 105px,#fac8af 108px,#f8f2ef 111px,#dae9f2 114px,#bddbea 117px,#aed3e6 120px,#b3d6e8 123px,#cce2ef 126px,#e6eff4 129px,#f9f0eb 132px,#fcdfcf 135px,#fcd5bf 138px,#fddcc9 141px,#f9eee7 144px,#e1edf3 147px,#aed3e6 150px,#78b4d5 153px,#59a1ca 156px,#62a7ce 159px,#96c7df 162px,#d5e7f1 165px,#f9f0eb 168px,#fbccb4 171px,#f5a886 174px,#f19e7d 177px,#f6b191 180px,#fcd3bc 183px,#f9eee7 186px)"></div><div style="top:153px;background:linear-gradient(90deg,#fbe3d4 0px,#deebf2 3px,#a2cde3 6px,#75b2d4 9px,#7bb6d6 12px,#acd2e5 15px,#e7f0f4 18px,#fcdecd 21px,#f5a886 24px,#e6866a 27px,#ec9374 30px,#f9c6ac 33px,#f8f4f2 36px,#bddbea 39px,#6eaed2 42px,#4695c4 45px,#569fc9 48px,#a0cce2 51px,#eaf1f5 54px,#facab1 57px,#df765e 60px,#c53e3d 63px,#c43b3c 66px,#de735c 69px,#f9c6ac 72px,#eff3f5 75px,#a5cee3 78px,#5fa5cd 81px,#4f9bc7 84px,#7bb6d6 87px,#cce2ef 90px,#f9ede5 93px,#f6b394 96px,#de735c 99px,#d86551 102px,#ea8e70 105px,#fbceb7 108px,#f7f6f6 111px,#d1e5f0 114px,#acd2e5 117px,#a0cce2 120px,#a5cee3 123px,#c0dceb 126px,#e0ecf3 129px,#f8f3f0 132px,#fce2d2 135px,#fcd7c2 138px,#fdddcb 141px,#f9eee7 144px,#e1edf3 147px,#aed3e6 150px,#75b2d4 153px,#569fc9 156px,#62a7ce 159px,#98c8e0 162px,#d8e9f1 165px,#f9ede5 168px,#f9c4a9 171px,#f09c7b 174px,#eb9172 177px,#f5a886 180px,#fbceb7 183px,#f9ede5 186px)"></div><div style="top:154px;background:linear-gradient(90deg,#fbe5d8 0px,#ddebf2 3px,#a0cce2 6px,#75b2d4 9px,#7bb6d6 12px,#aed3e6 15px,#eaf1f5 18px,#fddcc9 21px,#f4a683 24px,#e58368 27px,#ec9374 30px,#f9c6ac 33px,#f7f5f4 36px,#b8d8e9 39px,#68abd0 42px,#408fc1 45px,#4c99c6 48px,#96c7df 51px,#e6eff4 54px,#fcd3bc 57px,#e48066 60px,#c94741 63px,#c84440 66px,#e17860 69px,#facab1 72px,#ecf2f5 75px,#a2cde3 78px,#5fa5cd 81px,#4f9bc7 84px,#81bad8 87px,#cfe4ef 90px,#faeae1 93px,#f6af8e 96px,#dd7059 99px,#d86551 102px,#eb9172 105px,#fcd5bf 108px,#f0f4f6 111px,#c5dfec 114px,#9dcbe1 117px,#90c4dd 120px,#98c8e0 123px,#b3d6e8 126px,#dae9f2 129px,#f7f6f6 132px,#fbe4d6 135px,#fdd9c4 138px,#fcdecd 141px,#f9eee7 144px,#e1edf3 147px,#aed3e6 150px,#75b2d4 153px,#569fc9 156px,#65a9cf 159px,#9bc9e0 162px,#dbeaf2 165px,#fae8de 168px,#f7b99c 171px,#eb9172 174px,#e6866a 177px,#f2a17f 180px,#facab1 183px,#f9ede5 186px)"></div><div style="top:155px;background:linear-gradient(90deg,#fae7dc 0px,#dbeaf2 3px,#9dcbe1 6px,#75b2d4 9px,#7eb8d7 12px,#b1d5e7 15px,#ecf2f5 18px,#fddbc7 21px,#f3a481 24px,#e48066 27px,#ec9374 30px,#fac8af 33px,#f7f6f6 36px,#b6d7e8 39px,#62a7ce 42px,#3c8abe 45px,#4393c3 48px,#8dc2dc 51px,#e0ecf3 54px,#fddbc7 57px,#e8896c 60px,#cf5246 63px,#ce4f45 66px,#e48066 69px,#fbd0b9 72px,#e9f0f4 75px,#a0cce2 78px,#5ca3cb 81px,#4f9bc7 84px,#84bcd9 87px,#d2e6f0 90px,#fae8de 93px,#f5a886 96px,#db6b55 99px,#d7634f 102px,#ec9374 105px,#fdd9c4 108px,#eaf1f5 111px,#b8d8e9 114px,#8dc2dc 117px,#7eb8d7 120px,#87beda 123px,#a9d1e5 126px,#d5e7f1 129px,#f5f6f7 132px,#fbe5d8 135px,#fddbc7 138px,#fdddcb 141px,#f9eee7 144px,#e1edf3 147px,#aed3e6 150px,#75b2d4 153px,#59a1ca 156px,#68abd0 159px,#a0cce2 162px,#e0ecf3 165px,#fbe4d6 168px,#f6b191 171px,#e58368 174px,#e27b62 177px,#ef9979 180px,#fac8af 183px,#f9eee7 186px)"></div><div style="top:156px;background:linear-gradient(90deg,#fae9df 0px,#d8e9f1 3px,#9bc9e0 6px,#75b2d4 9px,#7eb8d7 12px,#b3d6e8 15px,#edf2f5 18px,#fcd7c2 21px,#f19e7d 24px,#e48066 27px,#eb9172 30px,#fac8af 33px,#f6f7f7 36px,#b1d5e7 39px,#5ca3cb 42px,#3a87bd 45px,#3f8ec0 48px,#84bcd9 51px,#dbeaf2 54px,#fcdecd 57px,#ec9374 60px,#d35a4a 63px,#d25849 66px,#e8896c 69px,#fcd5bf 72px,#e6eff4 75px,#9dcbe1 78px,#59a1ca 81px,#4f9bc7 84px,#87beda 87px,#d5e7f1 90px,#fbe6da 93px,#f3a481 96px,#d86551 99px,#d6604d 102px,#ec9374 105px,#fdddcb 108px,#e4eef4 111px,#acd2e5 114px,#7eb8d7 117px,#6bacd1 120px,#7bb6d6 123px,#a0cce2 126px,#d1e5f0 129px,#f3f5f6 132px,#fbe5d8 135px,#fdd9c4 138px,#fdddcb 141px,#f9ede5 144px,#e3edf3 147px,#b1d5e7 150px,#78b4d5 153px,#5ca3cb 156px,#6bacd1 159px,#a5cee3 162px,#e4eef4 165px,#fce0d0 168px,#f5a886 171px,#e17860 174px,#dd7059 177px,#eb9172 180px,#f9c6ac 183px,#f9efe9 186px)"></div><div style="top:157px;background:linear-gradient(90deg,#faeae1 0px,#d7e8f1 3px,#98c8e0 6px,#71b0d3 9px,#81bad8 12px,#b6d7e8 15px,#eff3f5 18px,#fcd5bf 21px,#f09c7b 24px,#e27b62 27px,#ea8e70 30px,#fac8af 33px,#f6f7f7 36px,#aed3e6 39px,#569fc9 42px,#3783bb 45px,#3c8abe 48px,#7bb6d6 51px,#d5e7f1 54px,#fbe3d4 57px,#f19e7d 60px,#d86551 63px,#d7634f 66px,#ec9374 69px,#fddbc7 72px,#e3edf3 75px,#98c8e0 78px,#569fc9 81px,#4f9bc7 84px,#87beda 87px,#d7e8f1 90px,#fbe4d6 93px,#f19e7d 96px,#d7634f 99px,#d55d4c 102px,#ee9677 105px,#fcdfcf 108px,#e0ecf3 111px,#a0cce2 114px,#6eaed2 117px,#5ca3cb 120px,#6eaed2 123px,#98c8e0 126px,#cfe4ef 129px,#f2f5f6 132px,#fbe5d8 135px,#fcd7c2 138px,#fddbc7 141px,#faeae1 144px,#e6eff4 147px,#b3d6e8 150px,#7bb6d6 153px,#5fa5cd 156px,#71b0d3 159px,#a9d1e5 162px,#e7f0f4 165px,#fddcc9 168px,#f19e7d 171px,#dc6e57 174px,#da6853 177px,#e98b6e 180px,#f9c6ac 183px,#f9f0eb 186px)"></div><div style="top:158px;background:linear-gradient(90deg,#f9ede5 0px,#d4e6f1 3px,#96c7df 6px,#71b0d3 9px,#81bad8 12px,#b8d8e9 15px,#f2f5f6 18px,#fcd3bc 21px,#ee9677 24px,#e17860 27px,#e98b6e 30px,#f9c6ac 33px,#f5f6f7 36px,#aed3e6 39px,#529dc8 42px,#3480b9 45px,#3885bc 48px,#71b0d3 51px,#d1e5f0 54px,#fae7dc 57px,#f5a886 60px,#dd7059 63px,#dc6e57 66px,#f09c7b 69px,#fcdecd 72px,#e0ecf3 75px,#93c6de 78px,#529dc8 81px,#4f9bc7 84px,#8ac0db 87px,#dae9f2 90px,#fce2d2 93px,#ef9979 96px,#d55d4c 99px,#d35a4a 102px,#ee9677 105px,#fce2d2 108px,#dae9f2 111px,#96c7df 114px,#5fa5cd 117px,#4f9bc7 120px,#62a7ce 123px,#93c6de 126px,#cce2ef 129px,#f2f5f6 132px,#fbe4d6 135px,#fcd5bf 138px,#fcd7c2 141px,#fae8de 144px,#e9f0f4 147px,#b8d8e9 150px,#81bad8 153px,#62a7ce 156px,#75b2d4 159px,#b1d5e7 162px,#ecf2f5 165px,#fcd7c2 168px,#ec9374 171px,#d86551 174px,#d6604d 177px,#e8896c 180px,#f9c6ac 183px,#f8f2ef 186px)"></div><div style="top:159px;background:linear-gradient(90deg,#f9efe9 0px,#d2e6f0 3px,#93c6de 6px,#6eaed2 9px,#81bad8 12px,#b8d8e9 15px,#f3f5f6 18px,#fbceb7 21px,#ec9374 24px,#df765e 27px,#e8896c 30px,#f9c6ac 33px,#f6f7f7 36px,#acd2e5 39px,#4f9bc7 42px,#327cb7 45px,#3681ba 48px,#68abd0 51px,#cae1ee 54px,#faeae1 57px,#f6b191 60px,#e27b62 63px,#e17860 66px,#f4a683 69px,#fce2d2 72px,#dbeaf2 75px,#8dc2dc 78px,#4c99c6 81px,#4c99c6 84px,#8ac0db 87px,#dbeaf2 90px,#fcdfcf 93px,#ec9374 96px,#d25849 99px,#d25849 102px,#ee9677 105px,#fbe3d4 108px,#d7e8f1 111px,#8ac0db 114px,#529dc8 117px,#4695c4 120px,#59a1ca 123px,#8dc2dc 126px,#cae1ee 129px,#f3f5f6 132px,#fce2d2 135px,#fbceb7 138px,#fbd0b9 141px,#fbe5d8 144px,#ecf2f5 147px,#bddbea 150px,#87beda 153px,#68abd0 156px,#7bb6d6 159px,#b6d7e8 162px,#f0f4f6 165px,#fbd0b9 168px,#e98b6e 171px,#d55d4c 174px,#d35a4a 177px,#e6866a 180px,#f9c6ac 183px,#f8f4f2 186px)"></div><div style="top:160px;background:linear-gradient(90deg,#f8f1ed 0px,#cfe4ef 3px,#90c4dd 6px,#6eaed2 9px,#81bad8 12px,#bbdaea 15px,#f5f6f7 18px,#fbccb4 21px,#eb9172 24px,#dd7059 27px,#e6866a 30px,#f9c4a9 33px,#f6f7f7 36px,#acd2e5 39px,#4f9bc7 42px,#307ab6 45px,#3480b9 48px,#62a7ce 51px,#c2ddec 54px,#f9efe9 57px,#f7b799 60px,#e6866a 63px,#e48066 66px,#f5ac8b 69px,#fbe5d8 72px,#d7e8f1 75px,#87beda 78px,#4695c4 81px,#4997c5 84px,#8dc2dc 87px,#ddebf2 90px,#fdddcb 93px,#e98b6e 96px,#ce4f45 99px,#cf5246 102px,#ee9677 105px,#fbe4d6 108px,#d4e6f1 111px,#84bcd9 114px,#4997c5 117px,#408fc1 120px,#529dc8 123px,#8ac0db 126px,#cce2ef 129px,#f6f7f7 132px,#fcdfcf 135px,#fac8af 138px,#facab1 141px,#fce2d2 144px,#f0f4f6 147px,#c2ddec 150px,#8dc2dc 153px,#6eaed2 156px,#81bad8 159px,#bbdaea 162px,#f5f6f7 165px,#facab1 168px,#e58368 171px,#d05548 174px,#d05548 177px,#e58368 180px,#fac8af 183px,#f6f7f7 186px)"></div><div style="top:161px;background:linear-gradient(90deg,#f8f2ef 0px,#cce2ef 3px,#8dc2dc 6px,#6bacd1 9px,#7eb8d7 12px,#bbdaea 15px,#f5f6f7 18px,#facab1 21px,#e98b6e 24px,#dc6e57 27px,#e58368 30px,#f8bfa4 33px,#f7f6f6 36px,#aed3e6 39px,#4f9bc7 42px,#307ab6 45px,#337eb8 48px,#5ca3cb 51px,#bddbea 54px,#f8f1ed 57px,#f8bfa4 60px,#ea8e70 63px,#e98b6e 66px,#f7b596 69px,#fae8de 72px,#d4e6f1 75px,#7eb8d7 78px,#4291c2 81px,#4695c4 84px,#8dc2dc 87px,#e0ecf3 90px,#fddbc7 93px,#e6866a 96px,#cb4942 99px,#ce4f45 102px,#ec9374 105px,#fbe5d8 108px,#d1e5f0 111px,#7bb6d6 114px,#4393c3 117px,#3c8abe 120px,#4f9bc7 123px,#8ac0db 126px,#cfe4ef 129px,#f7f5f4 132px,#fddcc9 135px,#f9c2a7 138px,#f9c4a9 141px,#fcdecd 144px,#f5f6f7 147px,#cae1ee 150px,#93c6de 153px,#75b2d4 156px,#87beda 159px,#c0dceb 162px,#f7f6f6 165px,#f9c4a9 168px,#e27b62 171px,#ce4f45 174px,#cf5246 177px,#e58368 180px,#fbccb4 183px,#f2f5f6 186px)"></div><div style="top:162px;background:linear-gradient(90deg,#f8f4f2 0px,#c7e0ed 3px,#87beda 6px,#68abd0 9px,#7eb8d7 12px,#bbdaea 15px,#f6f7f7 18px,#fac8af 21px,#e8896c 24px,#da6853 27px,#e37e64 30px,#f8bda1 33px,#f7f5f4 36px,#b1d5e7 39px,#4f9bc7 42px,#307ab6 45px,#327cb7 48px,#59a1ca 51px,#b8d8e9 54px,#f8f4f2 57px,#f9c4a9 60px,#ef9979 63px,#ec9374 66px,#f8bb9e 69px,#f9ebe3 72px,#cfe4ef 75px,#78b4d5 78px,#3f8ec0 81px,#4393c3 84px,#8dc2dc 87px,#e1edf3 90px,#fcd7c2 93px,#e48066 96px,#c84440 99px,#cb4942 102px,#ec9374 105px,#fbe5d8 108px,#cfe4ef 111px,#78b4d5 114px,#408fc1 117px,#3b88be 120px,#4f9bc7 123px,#8dc2dc 126px,#d2e6f0 129px,#f8f2ef 132px,#fcd5bf 135px,#f7b99c 138px,#f7b99c 141px,#fdd9c4 144px,#f8f4f2 147px,#d1e5f0 150px,#98c8e0 153px,#7bb6d6 156px,#8dc2dc 159px,#c5dfec 162px,#f8f3f0 165px,#f8bda1 168px,#df765e 171px,#cb4942 174px,#ce4f45 177px,#e6866a 180px,#fbd0b9 183px,#edf2f5 186px)"></div><div style="top:163px;background:linear-gradient(90deg,#f7f5f4 0px,#c5dfec 3px,#84bcd9 6px,#65a9cf 9px,#7bb6d6 12px,#bbdaea 15px,#f7f6f6 18px,#f9c6ac 21px,#e58368 24px,#d86551 27px,#e17860 30px,#f7b99c 33px,#f8f3f0 36px,#b3d6e8 39px,#529dc8 42px,#307ab6 45px,#327cb7 48px,#569fc9 51px,#b3d6e8 54px,#f7f6f6 57px,#facab1 60px,#f19e7d 63px,#f09c7b 66px,#f9c2a7 69px,#f9efe9 72px,#c7e0ed 75px,#6eaed2 78px,#3c8abe 81px,#4291c2 84px,#8dc2dc 87px,#e3edf3 90px,#fcd5bf 93px,#e27b62 96px,#c53e3d 99px,#c84440 102px,#ea8e70 105px,#fbe5d8 108px,#cfe4ef 111px,#75b2d4 114px,#3f8ec0 117px,#3a87bd 120px,#4f9bc7 123px,#90c4dd 126px,#d5e7f1 129px,#f9efe9 132px,#fbccb4 135px,#f6af8e 138px,#f6b191 141px,#fbd0b9 144px,#f8f1ed 147px,#d4e6f1 150px,#9dcbe1 153px,#81bad8 156px,#93c6de 159px,#cae1ee 162px,#f8f1ed 165px,#f7b99c 168px,#dd7059 171px,#c94741 174px,#ce4f45 177px,#e8896c 180px,#fcd5bf 183px,#e9f0f4 186px)"></div><div style="top:164px;background:linear-gradient(90deg,#f7f6f6 0px,#c0dceb 3px,#7eb8d7 6px,#5fa5cd 9px,#7bb6d6 12px,#bbdaea 15px,#f7f6f6 18px,#f9c4a9 21px,#e48066 24px,#d6604d 27px,#df765e 30px,#f7b799 33px,#f8f2ef 36px,#b6d7e8 39px,#569fc9 42px,#327cb7 45px,#327cb7 48px,#569fc9 51px,#b3d6e8 54px,#f6f7f7 57px,#fbceb7 60px,#f4a683 63px,#f2a17f 66px,#f9c6ac 69px,#f8f2ef 72px,#c2ddec 75px,#68abd0 78px,#3a87bd 81px,#3f8ec0 84px,#8ac0db 87px,#e3edf3 90px,#fbd0b9 93px,#df765e 96px,#c2383a 99px,#c53e3d 102px,#e98b6e 105px,#fbe4d6 108px,#cfe4ef 111px,#71b0d3 114px,#3e8cbf 117px,#3a87bd 120px,#529dc8 123px,#98c8e0 126px,#dbeaf2 129px,#fae9df 132px,#f9c2a7 135px,#f3a481 138px,#f4a683 141px,#fac8af 144px,#f9eee7 147px,#d8e9f1 150px,#a2cde3 153px,#84bcd9 156px,#96c7df 159px,#cfe4ef 162px,#f9f0eb 165px,#f7b799 168px,#dc6e57 171px,#c84440 174px,#ce4f45 177px,#e98b6e 180px,#fddbc7 183px,#e3edf3 186px)"></div><div style="top:165px;background:linear-gradient(90deg,#f6f7f7 0px,#bddbea 3px,#7bb6d6 6px,#5ca3cb 9px,#78b4d5 12px,#bbdaea 15px,#f7f6f6 18px,#f9c2a7 21px,#e37e64 24px,#d55d4c 27px,#dd7059 30px,#f6b394 33px,#f9f0eb 36px,#bbdaea 39px,#5ca3cb 42px,#337eb8 45px,#337eb8 48px,#569fc9 51px,#b1d5e7 54px,#f5f6f7 57px,#fbd0b9 60px,#f5a886 63px,#f5a886 66px,#facab1 69px,#f8f4f2 72px,#bddbea 75px,#62a7ce 78px,#3783bb 81px,#3e8cbf 84px,#8ac0db 87px,#e4eef4 90px,#fbceb7 93px,#dd7059 96px,#bf3338 99px,#c2383a 102px,#e6866a 105px,#fbe3d4 108px,#cfe4ef 111px,#75b2d4 114px,#3f8ec0 117px,#3b88be 120px,#569fc9 123px,#9dcbe1 126px,#e1edf3 129px,#fbe5d8 132px,#f7b799 135px,#ee9677 138px,#ef9979 141px,#f8bda1 144px,#fae9df 147px,#dbeaf2 150px,#a7d0e4 153px,#87beda 156px,#98c8e0 159px,#d1e5f0 162px,#f9efe9 165px,#f7b596 168px,#db6b55 171px,#c84440 174px,#cf5246 177px,#eb9172 180px,#fcdecd 183px,#ddebf2 186px)"></div><div style="top:166px;background:linear-gradient(90deg,#f5f6f7 0px,#bbdaea 3px,#78b4d5 6px,#59a1ca 9px,#75b2d4 12px,#b8d8e9 15px,#f7f6f6 18px,#f9c2a7 21px,#e27b62 24px,#d25849 27px,#db6b55 30px,#f6af8e 33px,#f9eee7 36px,#c0dceb 39px,#62a7ce 42px,#3681ba 45px,#3480b9 48px,#59a1ca 51px,#b3d6e8 54px,#f5f6f7 57px,#fcd3bc 60px,#f5aa89 63px,#f5aa89 66px,#fbceb7 69px,#f7f6f6 72px,#b8d8e9 75px,#5ca3cb 78px,#3480b9 81px,#3b88be 84px,#87beda 87px,#e4eef4 90px,#facab1 93px,#dc6e57 96px,#bd2d35 99px,#bf3338 102px,#e58368 105px,#fce2d2 108px,#d1e5f0 111px,#78b4d5 114px,#408fc1 117px,#3e8cbf 120px,#5fa5cd 123px,#a7d0e4 126px,#e7f0f4 129px,#fcdecd 132px,#f5aa89 135px,#e6866a 138px,#e98b6e 141px,#f7b596 144px,#fbe6da 147px,#e0ecf3 150px,#a9d1e5 153px,#8ac0db 156px,#9bc9e0 159px,#d1e5f0 162px,#f9eee7 165px,#f6b394 168px,#db6b55 171px,#c84440 174px,#d05548 177px,#ee9677 180px,#fce2d2 183px,#d8e9f1 186px)"></div><div style="top:167px;background:linear-gradient(90deg,#f3f5f6 0px,#b6d7e8 3px,#71b0d3 6px,#569fc9 9px,#71b0d3 12px,#b8d8e9 15px,#f7f6f6 18px,#f8bfa4 21px,#e17860 24px,#d05548 27px,#da6853 30px,#f5aa89 33px,#faeae1 36px,#c5dfec 39px,#68abd0 42px,#3885bc 45px,#3783bb 48px,#5fa5cd 51px,#b6d7e8 54px,#f6f7f7 57px,#fcd3bc 60px,#f5ac8b 63px,#f5ac8b 66px,#fcd3bc 69px,#f6f7f7 72px,#b3d6e8 75px,#569fc9 78px,#327cb7 81px,#3a87bd 84px,#87beda 87px,#e6eff4 90px,#fac8af 93px,#da6853 96px,#ba2832 99px,#bd2d35 102px,#e37e64 105px,#fcdfcf 108px,#d4e6f1 111px,#7bb6d6 114px,#4291c2 117px,#408fc1 120px,#65a9cf 123px,#b1d5e7 126px,#eff3f5 129px,#fcd7c2 132px,#f09c7b 135px,#e17860 138px,#e37e64 141px,#f5ac8b 144px,#fbe3d4 147px,#e3edf3 150px,#acd2e5 153px,#8dc2dc 156px,#9bc9e0 159px,#d2e6f0 162px,#f9eee7 165px,#f6b394 168px,#db6b55 171px,#c94741 174px,#d35a4a 177px,#f09c7b 180px,#fbe5d8 183px,#d2e6f0 186px)"></div><div style="top:168px;background:linear-gradient(90deg,#f2f5f6 0px,#b3d6e8 3px,#6eaed2 6px,#529dc8 9px,#6eaed2 12px,#b6d7e8 15px,#f7f6f6 18px,#f8bfa4 21px,#df765e 24px,#cf5246 27px,#d7634f 30px,#f4a683 33px,#fae8de 36px,#cce2ef 39px,#6eaed2 42px,#3b88be 45px,#3a87bd 48px,#65a9cf 51px,#b8d8e9 54px,#f7f6f6 57px,#fbd0b9 60px,#f5ac8b 63px,#f6af8e 66px,#fcd3bc 69px,#f5f6f7 72px,#b1d5e7 75px,#4f9bc7 78px,#307ab6 81px,#3885bc 84px,#84bcd9 87px,#e6eff4 90px,#f9c6ac 93px,#d86551 96px,#b72230 99px,#bb2a34 102px,#e17860 105px,#fdddcb 108px,#d7e8f1 111px,#81bad8 114px,#4695c4 117px,#4393c3 120px,#71b0d3 123px,#bbdaea 126px,#f6f7f7 129px,#facab1 132px,#e98b6e 135px,#da6853 138px,#dd7059 141px,#f3a481 144px,#fce0d0 147px,#e4eef4 150px,#aed3e6 153px,#8dc2dc 156px,#9bc9e0 159px,#d2e6f0 162px,#f9eee7 165px,#f6b394 168px,#db6b55 171px,#cb4942 174px,#d55d4c 177px,#f3a481 180px,#fae8de 183px,#cae1ee 186px)"></div><div style="top:169px;background:linear-gradient(90deg,#f2f5f6 0px,#b1d5e7 3px,#6bacd1 6px,#4c99c6 9px,#6bacd1 12px,#b3d6e8 15px,#f6f7f7 18px,#f8bfa4 21px,#df765e 24px,#ce4f45 27px,#d6604d 30px,#f2a17f 33px,#fbe6da 36px,#d1e5f0 39px,#78b4d5 42px,#3f8ec0 45px,#3e8cbf 48px,#6bacd1 51px,#c0dceb 54px,#f7f5f4 57px,#fbceb7 60px,#f5ac8b 63px,#f6af8e 66px,#fcd5bf 69px,#f3f5f6 72px,#aed3e6 75px,#4c99c6 78px,#2e77b5 81px,#3783bb 84px,#84bcd9 87px,#e6eff4 90px,#f9c6ac 93px,#d7634f 96px,#b61f2e 99px,#b82531 102px,#de735c 105px,#fddbc7 108px,#dae9f2 111px,#87beda 114px,#4f9bc7 117px,#4c99c6 120px,#7eb8d7 123px,#c7e0ed 126px,#f8f1ed 129px,#f8bda1 132px,#e27b62 135px,#d25849 138px,#d86551 141px,#f09c7b 144px,#fcdecd 147px,#e6eff4 150px,#aed3e6 153px,#8ac0db 156px,#98c8e0 159px,#d1e5f0 162px,#f9eee7 165px,#f7b596 168px,#dc6e57 171px,#cc4c44 174px,#d7634f 177px,#f5a886 180px,#f9ebe3 183px,#c2ddec 186px)"></div><div style="top:170px;background:linear-gradient(90deg,#f0f4f6 0px,#b1d5e7 3px,#68abd0 6px,#4997c5 9px,#65a9cf 12px,#b1d5e7 15px,#f5f6f7 18px,#f8bfa4 21px,#df765e 24px,#cc4c44 27px,#d35a4a 30px,#f09c7b 33px,#fbe4d6 36px,#d5e7f1 39px,#81bad8 42px,#4393c3 45px,#4291c2 48px,#75b2d4 51px,#c5dfec 54px,#f8f3f0 57px,#facab1 60px,#f5a886 63px,#f5ac8b 66px,#fcd5bf 69px,#f3f5f6 72px,#acd2e5 75px,#4997c5 78px,#2c75b4 81px,#3681ba 84px,#81bad8 87px,#e6eff4 90px,#f9c4a9 93px,#d6604d 96px,#b41c2d 99px,#b61f2e 102px,#dc6e57 105px,#fcd7c2 108px,#deebf2 111px,#90c4dd 114px,#59a1ca 117px,#569fc9 120px,#8ac0db 123px,#d2e6f0 126px,#faeae1 129px,#f6b191 132px,#db6b55 135px,#cb4942 138px,#d25849 141px,#ec9374 144px,#fddcc9 147px,#e6eff4 150px,#acd2e5 153px,#87beda 156px,#96c7df 159px,#cfe4ef 162px,#f9efe9 165px,#f7b799 168px,#dd7059 171px,#cf5246 174px,#da6853 177px,#f6af8e 180px,#f9efe9 183px,#b8d8e9 186px)"></div><div style="top:171px;background:linear-gradient(90deg,#f0f4f6 0px,#aed3e6 3px,#65a9cf 6px,#4695c4 9px,#62a7ce 12px,#aed3e6 15px,#f5f6f7 18px,#f9c2a7 21px,#df765e 24px,#cc4c44 27px,#d25849 30px,#ef9979 33px,#fce2d2 36px,#d8e9f1 39px,#8ac0db 42px,#4c99c6 45px,#4997c5 48px,#7eb8d7 51px,#cce2ef 54px,#f9f0eb 57px,#f9c6ac 60px,#f4a683 63px,#f5aa89 66px,#fcd3bc 69px,#f3f5f6 72px,#acd2e5 75px,#4695c4 78px,#2b73b3 81px,#3480b9 84px,#81bad8 87px,#e6eff4 90px,#f9c4a9 93px,#d55d4c 96px,#b3192c 99px,#b41c2d 102px,#da6853 105px,#fcd3bc 108px,#e1edf3 111px,#98c8e0 114px,#62a7ce 117px,#62a7ce 120px,#96c7df 123px,#dae9f2 126px,#fbe5d8 129px,#f3a481 132px,#d35a4a 135px,#c43b3c 138px,#ce4f45 141px,#ea8e70 144px,#fddbc7 147px,#e6eff4 150px,#a9d1e5 153px,#84bcd9 156px,#93c6de 159px,#cae1ee 162px,#f8f1ed 165px,#f7b99c 168px,#df765e 171px,#d25849 174px,#dc6e57 177px,#f7b596 180px,#f8f2ef 183px,#b1d5e7 186px)"></div><div style="top:172px;background:linear-gradient(90deg,#f0f4f6 0px,#acd2e5 3px,#62a7ce 6px,#4393c3 9px,#5fa5cd 12px,#acd2e5 15px,#f3f5f6 18px,#f9c4a9 21px,#df765e 24px,#cb4942 27px,#d05548 30px,#ec9374 33px,#fcdfcf 36px,#ddebf2 39px,#93c6de 42px,#569fc9 45px,#569fc9 48px,#8ac0db 51px,#d2e6f0 54px,#f9ede5 57px,#f9c2a7 60px,#f2a17f 63px,#f4a683 66px,#fbd0b9 69px,#f3f5f6 72px,#acd2e5 75px,#4695c4 78px,#2b73b3 81px,#337eb8 84px,#7eb8d7 87px,#e6eff4 90px,#f9c4a9 93px,#d55d4c 96px,#b3192c 99px,#b3192c 102px,#d86551 105px,#fbccb4 108px,#e6eff4 111px,#a0cce2 114px,#6bacd1 117px,#6eaed2 120px,#a0cce2 123px,#e1edf3 126px,#fcdecd 129px,#ec9374 132px,#cc4c44 135px,#bd2d35 138px,#c84440 141px,#e8896c 144px,#fddbc7 147px,#e4eef4 150px,#a7d0e4 153px,#7eb8d7 156px,#8dc2dc 159px,#c5dfec 162px,#f8f3f0 165px,#f8bda1 168px,#e17860 171px,#d35a4a 174px,#df765e 177px,#f7b99c 180px,#f7f5f4 183px,#acd2e5 186px)"></div><div style="top:173px;background:linear-gradient(90deg,#f0f4f6 0px,#acd2e5 3px,#5fa5cd 6px,#4291c2 9px,#5ca3cb 12px,#a9d1e5 15px,#f2f5f6 18px,#f9c4a9 21px,#df765e 24px,#cb4942 27px,#d05548 30px,#eb9172 33px,#fdddcb 36px,#e0ecf3 39px,#98c8e0 42px,#62a7ce 45px,#5fa5cd 48px,#93c6de 51px,#d8e9f1 54px,#fae9df 57px,#f8bb9e 60px,#ef9979 63px,#f2a17f 66px,#fbceb7 69px,#f5f6f7 72px,#acd2e5 75px,#4695c4 78px,#2b73b3 81px,#337eb8 84px,#7eb8d7 87px,#e4eef4 90px,#f9c6ac 93px,#d55d4c 96px,#b1182b 99px,#b3192c 102px,#d7634f 105px,#fac8af 108px,#e9f0f4 111px,#a7d0e4 114px,#75b2d4 117px,#78b4d5 120px,#acd2e5 123px,#e9f0f4 126px,#fcd7c2 129px,#e6866a 132px,#c53e3d 135px,#b82531 138px,#c53e3d 141px,#e6866a 144px,#fddbc7 147px,#e1edf3 150px,#a0cce2 153px,#75b2d4 156px,#84bcd9 159px,#c0dceb 162px,#f7f5f4 165px,#f8bfa4 168px,#e37e64 171px,#d6604d 174px,#e27b62 177px,#f8bfa4 180px,#f5f6f7 183px,#a5cee3 186px)"></div><div style="top:174px;background:linear-gradient(90deg,#f2f5f6 0px,#acd2e5 3px,#5fa5cd 6px,#408fc1 9px,#59a1ca 12px,#a5cee3 15px,#f0f4f6 18px,#f9c6ac 21px,#e17860 24px,#cb4942 27px,#d05548 30px,#ea8e70 33px,#fddcc9 36px,#e3edf3 39px,#a0cce2 42px,#6bacd1 45px,#6bacd1 48px,#9dcbe1 51px,#deebf2 54px,#fbe5d8 57px,#f6b394 60px,#eb9172 63px,#f09c7b 66px,#facab1 69px,#f6f7f7 72px,#aed3e6 75px,#4695c4 78px,#2b73b3 81px,#337eb8 84px,#7bb6d6 87px,#e4eef4 90px,#f9c6ac 93px,#d6604d 96px,#b3192c 99px,#b1182b 102px,#d6604d 105px,#f9c6ac 108px,#edf2f5 111px,#aed3e6 114px,#81bad8 117px,#84bcd9 120px,#b6d7e8 123px,#eff3f5 126px,#fbccb4 129px,#e17860 132px,#bf3338 135px,#b3192c 138px,#c2383a 141px,#e6866a 144px,#fdddcb 147px,#deebf2 150px,#98c8e0 153px,#6bacd1 156px,#7bb6d6 159px,#b8d8e9 162px,#f6f7f7 165px,#f9c4a9 168px,#e58368 171px,#d86551 174px,#e48066 177px,#f9c4a9 180px,#f2f5f6 183px,#a0cce2 186px)"></div><div style="top:175px;background:linear-gradient(90deg,#f2f5f6 0px,#acd2e5 3px,#5ca3cb 6px,#3f8ec0 9px,#569fc9 12px,#a2cde3 15px,#edf2f5 18px,#fac8af 21px,#e27b62 24px,#cc4c44 27px,#d05548 30px,#ea8e70 33px,#fddbc7 36px,#e6eff4 39px,#a5cee3 42px,#75b2d4 45px,#75b2d4 48px,#a7d0e4 51px,#e4eef4 54px,#fce0d0 57px,#f5ac8b 60px,#e8896c 63px,#ec9374 66px,#f9c6ac 69px,#f7f6f6 72px,#b1d5e7 75px,#4997c5 78px,#2b73b3 81px,#337eb8 84px,#7bb6d6 87px,#e3edf3 90px,#fac8af 93px,#d7634f 96px,#b3192c 99px,#b3192c 102px,#d55d4c 105px,#f9c2a7 108px,#f0f4f6 111px,#b3d6e8 114px,#8ac0db 117px,#8dc2dc 120px,#bddbea 123px,#f5f6f7 126px,#f9c4a9 129px,#dc6e57 132px,#ba2832 135px,#ae172a 138px,#c13639 141px,#e6866a 144px,#fcdecd 147px,#dae9f2 150px,#90c4dd 153px,#62a7ce 156px,#71b0d3 159px,#b3d6e8 162px,#f3f5f6 165px,#fac8af 168px,#e8896c 171px,#db6b55 174px,#e6866a 177px,#fac8af 180px,#eff3f5 183px,#9bc9e0 186px)"></div><div style="top:176px;background:linear-gradient(90deg,#f3f5f6 0px,#acd2e5 3px,#5ca3cb 6px,#3e8cbf 9px,#529dc8 12px,#a0cce2 15px,#ecf2f5 18px,#fbccb4 21px,#e37e64 24px,#ce4f45 27px,#d05548 30px,#ea8e70 33px,#fdd9c4 36px,#e7f0f4 39px,#a9d1e5 42px,#7bb6d6 45px,#7eb8d7 48px,#aed3e6 51px,#e9f0f4 54px,#fddcc9 57px,#f3a481 60px,#e48066 63px,#ea8e70 66px,#f9c2a7 69px,#f8f4f2 72px,#b3d6e8 75px,#4c99c6 78px,#2c75b4 81px,#337eb8 84px,#7bb6d6 87px,#e1edf3 90px,#facab1 93px,#d86551 96px,#b41c2d 99px,#b3192c 102px,#d55d4c 105px,#f8bfa4 108px,#f3f5f6 111px,#bbdaea 114px,#90c4dd 117px,#96c7df 120px,#c7e0ed 123px,#f8f4f2 126px,#f8bb9e 129px,#d7634f 132px,#b72230 135px,#a81529 138px,#c13639 141px,#e98b6e 144px,#fce2d2 147px,#d5e7f1 150px,#84bcd9 153px,#569fc9 156px,#68abd0 159px,#acd2e5 162px,#f0f4f6 165px,#fbccb4 168px,#e98b6e 171px,#dc6e57 174px,#e8896c 177px,#fbccb4 180px,#edf2f5 183px,#98c8e0 186px)"></div><div style="top:177px;background:linear-gradient(90deg,#f3f5f6 0px,#acd2e5 3px,#5ca3cb 6px,#3e8cbf 9px,#4f9bc7 12px,#9dcbe1 15px,#eaf1f5 18px,#fbceb7 21px,#e48066 24px,#cf5246 27px,#d25849 30px,#ea8e70 33px,#fcd7c2 36px,#e9f0f4 39px,#aed3e6 42px,#84bcd9 45px,#87beda 48px,#b8d8e9 51px,#eff3f5 54px,#fcd5bf 57px,#ef9979 60px,#df765e 63px,#e6866a 66px,#f8bb9e 69px,#f8f2ef 72px,#b6d7e8 75px,#4f9bc7 78px,#2e77b5 81px,#337eb8 84px,#78b4d5 87px,#e0ecf3 90px,#fbccb4 93px,#da6853 96px,#b72230 99px,#b41c2d 102px,#d55d4c 105px,#f8bda1 108px,#f5f6f7 111px,#c0dceb 114px,#98c8e0 117px,#9dcbe1 120px,#cfe4ef 123px,#f8f1ed 126px,#f7b596 129px,#d35a4a 132px,#b41c2d 135px,#a81529 138px,#c2383a 141px,#eb9172 144px,#fbe5d8 147px,#cfe4ef 150px,#78b4d5 153px,#4997c5 156px,#5ca3cb 159px,#a5cee3 162px,#ecf2f5 165px,#fbd0b9 168px,#eb9172 171px,#de735c 174px,#ea8e70 177px,#fbceb7 180px,#eaf1f5 183px,#96c7df 186px)"></div><div style="top:178px;background:linear-gradient(90deg,#f5f6f7 0px,#aed3e6 3px,#5ca3cb 6px,#3c8abe 9px,#4c99c6 12px,#9bc9e0 15px,#e7f0f4 18px,#fbd0b9 21px,#e58368 24px,#d05548 27px,#d25849 30px,#ea8e70 33px,#fcd7c2 36px,#eaf1f5 39px,#b1d5e7 42px,#8ac0db 45px,#90c4dd 48px,#c0dceb 51px,#f5f6f7 54px,#fbceb7 57px,#eb9172 60px,#dc6e57 63px,#e27b62 66px,#f7b799 69px,#f9f0eb 72px,#bbdaea 75px,#529dc8 78px,#2f79b5 81px,#3480b9 84px,#78b4d5 87px,#deebf2 90px,#fbd0b9 93px,#dc6e57 96px,#b82531 99px,#b61f2e 102px,#d55d4c 105px,#f8bda1 108px,#f7f6f6 111px,#c2ddec 114px,#9bc9e0 117px,#a2cde3 120px,#d2e6f0 123px,#f9efe9 126px,#f6b191 129px,#d25849 132px,#b3192c 135px,#a81529 138px,#c43b3c 141px,#ef9979 144px,#fae9df 147px,#c2ddec 150px,#68abd0 153px,#408fc1 156px,#4f9bc7 159px,#9dcbe1 162px,#e9f0f4 165px,#fcd5bf 168px,#ec9374 171px,#df765e 174px,#eb9172 177px,#fbd0b9 180px,#eaf1f5 183px,#96c7df 186px)"></div><div style="top:179px;background:linear-gradient(90deg,#f6f7f7 0px,#aed3e6 3px,#5ca3cb 6px,#3c8abe 9px,#4997c5 12px,#96c7df 15px,#e6eff4 18px,#fcd5bf 21px,#e8896c 24px,#d25849 27px,#d55d4c 30px,#eb9172 33px,#fdd9c4 36px,#eaf1f5 39px,#b3d6e8 42px,#8dc2dc 45px,#96c7df 48px,#c7e0ed 51px,#f7f5f4 54px,#f9c6ac 57px,#e6866a 60px,#d7634f 63px,#de735c 66px,#f6b191 69px,#f9eee7 72px,#bddbea 75px,#59a1ca 78px,#307ab6 81px,#3480b9 84px,#78b4d5 87px,#ddebf2 90px,#fcd5bf 93px,#de735c 96px,#bd2d35 99px,#b82531 102px,#d6604d 105px,#f8bda1 108px,#f7f6f6 111px,#c5dfec 114px,#a0cce2 117px,#a5cee3 120px,#d4e6f1 123px,#f9ede5 126px,#f5ac8b 129px,#d05548 132px,#b3192c 135px,#ab162a 138px,#c84440 141px,#f3a481 144px,#f9efe9 147px,#b6d7e8 150px,#59a1ca 153px,#3a87bd 156px,#4695c4 159px,#96c7df 162px,#e6eff4 165px,#fcd7c2 168px,#ee9677 171px,#e17860 174px,#eb9172 177px,#fbd0b9 180px,#e9f0f4 183px,#96c7df 186px)"></div><div style="top:180px;background:linear-gradient(90deg,#f7f6f6 0px,#b1d5e7 3px,#5ca3cb 6px,#3c8abe 9px,#4695c4 12px,#96c7df 15px,#e4eef4 18px,#fcd7c2 21px,#ea8e70 24px,#d55d4c 27px,#d6604d 30px,#ec9374 33px,#fddbc7 36px,#eaf1f5 39px,#b6d7e8 42px,#90c4dd 45px,#9bc9e0 48px,#cce2ef 51px,#f8f2ef 54px,#f8bfa4 57px,#e37e64 60px,#d35a4a 63px,#db6b55 66px,#f5ac8b 69px,#f9ebe3 72px,#c2ddec 75px,#5ca3cb 78px,#327cb7 81px,#3681ba 84px,#75b2d4 87px,#dbeaf2 90px,#fdd9c4 93px,#e17860 96px,#bf3338 99px,#bb2a34 102px,#d86551 105px,#f8bda1 108px,#f7f6f6 111px,#c7e0ed 114px,#a0cce2 117px,#a7d0e4 120px,#d5e7f1 123px,#f9ebe3 126px,#f5ac8b 129px,#d05548 132px,#b41c2d 135px,#b1182b 138px,#cc4c44 141px,#f5ac8b 144px,#f8f4f2 147px,#a9d1e5 150px,#4997c5 153px,#3480b9 156px,#3f8ec0 159px,#90c4dd 162px,#e3edf3 165px,#fdd9c4 168px,#ef9979 171px,#e17860 174px,#ec9374 177px,#fcd3bc 180px,#e9f0f4 183px,#96c7df 186px)"></div><div style="top:181px;background:linear-gradient(90deg,#f7f5f4 0px,#b3d6e8 3px,#5ca3cb 6px,#3c8abe 9px,#4695c4 12px,#93c6de 15px,#e1edf3 18px,#fddbc7 21px,#eb9172 24px,#d7634f 27px,#d86551 30px,#ef9979 33px,#fddcc9 36px,#e9f0f4 39px,#b3d6e8 42px,#93c6de 45px,#9dcbe1 48px,#d1e5f0 51px,#f9f0eb 54px,#f7b99c 57px,#de735c 60px,#cf5246 63px,#d7634f 66px,#f4a683 69px,#fae9df 72px,#c7e0ed 75px,#62a7ce 78px,#337eb8 81px,#3681ba 84px,#75b2d4 87px,#d8e9f1 90px,#fddcc9 93px,#e48066 96px,#c43b3c 99px,#bf3338 102px,#db6b55 105px,#f8bfa4 108px,#f7f6f6 111px,#c7e0ed 114px,#a0cce2 117px,#a7d0e4 120px,#d5e7f1 123px,#f9ede5 126px,#f5ac8b 129px,#d25849 132px,#b72230 135px,#b61f2e 138px,#d25849 141px,#f7b799 144px,#f3f5f6 147px,#9dcbe1 150px,#3f8ec0 153px,#2f79b5 156px,#3b88be 159px,#87beda 162px,#e1edf3 165px,#fddbc7 168px,#ef9979 171px,#e17860 174px,#ec9374 177px,#fcd3bc 180px,#e9f0f4 183px,#98c8e0 186px)"></div><div style="top:182px;background:linear-gradient(90deg,#f8f4f2 0px,#b6d7e8 3px,#5fa5cd 6px,#3c8abe 9px,#4695c4 12px,#90c4dd 15px,#e0ecf3 18px,#fddcc9 21px,#ee9677 24px,#da6853 27px,#db6b55 30px,#f19e7d 33px,#fdddcb 36px,#e7f0f4 39px,#b3d6e8 42px,#93c6de 45px,#a0cce2 48px,#d2e6f0 51px,#f9eee7 54px,#f7b596 57px,#dc6e57 60px,#cb4942 63px,#d55d4c 66px,#f2a17f 69px,#fae7dc 72px,#cce2ef 75px,#65a9cf 78px,#3480b9 81px,#3783bb 84px,#75b2d4 87px,#d7e8f1 90px,#fcdecd 93px,#e6866a 96px,#c84440 99px,#c2383a 102px,#dd7059 105px,#f9c4a9 108px,#f6f7f7 111px,#c5dfec 114px,#a0cce2 117px,#a5cee3 120px,#d4e6f1 123px,#f9eee7 126px,#f6b191 129px,#d55d4c 132px,#ba2832 135px,#bb2a34 138px,#d86551 141px,#f9c2a7 144px,#eaf1f5 147px,#8dc2dc 150px,#3885bc 153px,#2a71b2 156px,#3783bb 159px,#81bad8 162px,#e0ecf3 165px,#fddbc7 168px,#ef9979 171px,#e17860 174px,#eb9172 177px,#fbd0b9 180px,#eaf1f5 183px,#9bc9e0 186px)"></div><div style="top:183px;background:linear-gradient(90deg,#f8f3f0 0px,#b8d8e9 3px,#62a7ce 6px,#3c8abe 9px,#4695c4 12px,#8dc2dc 15px,#deebf2 18px,#fcdecd 21px,#f09c7b 24px,#dc6e57 27px,#dd7059 30px,#f3a481 33px,#fcdfcf 36px,#e4eef4 39px,#b1d5e7 42px,#90c4dd 45px,#a0cce2 48px,#d4e6f1 51px,#f9ebe3 54px,#f6b191 57px,#d86551 60px,#c84440 63px,#d05548 66px,#ef9979 69px,#fbe5d8 72px,#cfe4ef 75px,#6bacd1 78px,#3783bb 81px,#3885bc 84px,#71b0d3 87px,#d5e7f1 90px,#fce0d0 93px,#ea8e70 96px,#cc4c44 99px,#c6413e 102px,#df765e 105px,#f9c6ac 108px,#f5f6f7 111px,#c2ddec 114px,#9dcbe1 117px,#a2cde3 120px,#d2e6f0 123px,#f9efe9 126px,#f7b596 129px,#d86551 132px,#bf3338 135px,#c13639 138px,#de735c 141px,#fbceb7 144px,#e1edf3 147px,#7eb8d7 150px,#337eb8 153px,#246aae 156px,#337eb8 159px,#7eb8d7 162px,#e0ecf3 165px,#fddbc7 168px,#ee9677 171px,#df765e 174px,#ea8e70 177px,#fbceb7 180px,#ecf2f5 183px,#9dcbe1 186px)"></div><div style="top:184px;background:linear-gradient(90deg,#f8f2ef 0px,#bbdaea 3px,#62a7ce 6px,#3e8cbf 9px,#4695c4 12px,#8dc2dc 15px,#deebf2 18px,#fcdfcf 21px,#f2a17f 24px,#de735c 27px,#df765e 30px,#f5a886 33px,#fce2d2 36px,#e3edf3 39px,#acd2e5 42px,#8dc2dc 45px,#9dcbe1 48px,#d5e7f1 51px,#faeae1 54px,#f5ac8b 57px,#d6604d 60px,#c43b3c 63px,#ce4f45 66px,#ec9374 69px,#fbe3d4 72px,#d2e6f0 75px,#6eaed2 78px,#3885bc 81px,#3885bc 84px,#71b0d3 87px,#d2e6f0 90px,#fbe3d4 93px,#ee9677 96px,#d05548 99px,#cb4942 102px,#e37e64 105px,#facab1 108px,#f2f5f6 111px,#bddbea 114px,#98c8e0 117px,#9dcbe1 120px,#cce2ef 123px,#f8f2ef 126px,#f8bb9e 129px,#dc6e57 132px,#c53e3d 135px,#c84440 138px,#e48066 141px,#fdd9c4 144px,#d8e9f1 147px,#6bacd1 150px,#2c75b4 153px,#2065ab 156px,#307ab6 159px,#7bb6d6 162px,#e0ecf3 165px,#fdd9c4 168px,#ec9374 171px,#de735c 174px,#e98b6e 177px,#fbccb4 180px,#edf2f5 183px,#a0cce2 186px)"></div></div>
<div class="fld fr"><div style="top:0px;background:linear-gradient(90deg,#f7f6f6 0px,#acd2e5 3px,#529dc8 6px,#3885bc 9px,#4393c3 12px,#93c6de 15px,#e4eef4 18px,#fcd5bf 21px,#e98b6e 24px,#d6604d 27px,#db6b55 30px,#f5a886 33px,#fae7dc 36px,#d2e6f0 39px,#7eb8d7 42px,#4695c4 45px,#4c99c6 48px,#87beda 51px,#d5e7f1 54px,#fae9df 57px,#f7b99c 60px,#ec9374 63px,#f09c7b 66px,#f9c6ac 69px,#f8f2ef 72px,#c5dfec 75px,#7bb6d6 78px,#529dc8 81px,#5fa5cd 84px,#a0cce2 87px,#e6eff4 90px,#fddbc7 93px)"></div><div style="top:1px;background:linear-gradient(90deg,#f6f7f7 0px,#a9d1e5 3px,#529dc8 6px,#3885bc 9px,#4393c3 12px,#93c6de 15px,#e6eff4 18px,#fcd3bc 21px,#e8896c 24px,#d55d4c 27px,#da6853 30px,#f4a683 33px,#fae7dc 36px,#d2e6f0 39px,#7eb8d7 42px,#4695c4 45px,#4c99c6 48px,#87beda 51px,#d7e8f1 54px,#fae7dc 57px,#f6b394 60px,#e98b6e 63px,#ea8e70 66px,#f8bb9e 69px,#f9ede5 72px,#d2e6f0 75px,#8dc2dc 78px,#65a9cf 81px,#71b0d3 84px,#aed3e6 87px,#edf2f5 90px,#fbd0b9 93px)"></div><div style="top:2px;background:linear-gradient(90deg,#f5f6f7 0px,#a9d1e5 3px,#4f9bc7 6px,#3885bc 9px,#4393c3 12px,#96c7df 15px,#e7f0f4 18px,#fbd0b9 21px,#e6866a 24px,#d35a4a 27px,#d86551 30px,#f4a683 33px,#fae7dc 36px,#d2e6f0 39px,#7eb8d7 42px,#4695c4 45px,#4c99c6 48px,#8ac0db 51px,#d8e9f1 54px,#fbe6da 57px,#f6af8e 60px,#e48066 63px,#e58368 66px,#f6b191 69px,#fae7dc 72px,#dbeaf2 75px,#9dcbe1 78px,#75b2d4 81px,#84bcd9 84px,#bbdaea 87px,#f5f6f7 90px,#fac8af 93px)"></div><div style="top:3px;background:linear-gradient(90deg,#f3f5f6 0px,#a7d0e4 3px,#4f9bc7 6px,#3885bc 9px,#4695c4 12px,#98c8e0 15px,#e9f0f4 18px,#fbceb7 21px,#e48066 24px,#d25849 27px,#d7634f 30px,#f3a481 33px,#fbe6da 36px,#d2e6f0 39px,#7eb8d7 42px,#4695c4 45px,#4c99c6 48px,#8dc2dc 51px,#dae9f2 54px,#fbe3d4 57px,#f5a886 60px,#e17860 63px,#e17860 66px,#f4a683 69px,#fce0d0 72px,#e3edf3 75px,#acd2e5 78px,#87beda 81px,#93c6de 84px,#c7e0ed 87px,#f8f3f0 90px,#f8bfa4 93px)"></div><div style="top:4px;background:linear-gradient(90deg,#f2f5f6 0px,#a5cee3 3px,#4f9bc7 6px,#3885bc 9px,#4695c4 12px,#9bc9e0 15px,#eaf1f5 18px,#fbccb4 21px,#e37e64 24px,#d05548 27px,#d6604d 30px,#f2a17f 33px,#fbe6da 36px,#d2e6f0 39px,#7eb8d7 42px,#4695c4 45px,#4c99c6 48px,#8dc2dc 51px,#dbeaf2 54px,#fce0d0 57px,#f2a17f 60px,#dc6e57 63px,#db6b55 66px,#f09c7b 69px,#fddbc7 72px,#ecf2f5 75px,#b8d8e9 78px,#96c7df 81px,#a0cce2 84px,#d2e6f0 87px,#f9efe9 90px,#f7b799 93px)"></div><div style="top:5px;background:linear-gradient(90deg,#f0f4f6 0px,#a5cee3 3px,#4f9bc7 6px,#3885bc 9px,#4997c5 12px,#9dcbe1 15px,#edf2f5 18px,#fac8af 21px,#e27b62 24px,#cf5246 27px,#d6604d 30px,#f2a17f 33px,#fbe6da 36px,#d2e6f0 39px,#7eb8d7 42px,#4695c4 45px,#4f9bc7 48px,#90c4dd 51px,#deebf2 54px,#fcdecd 57px,#ef9979 60px,#d7634f 63px,#d6604d 66px,#ea8e70 69px,#fbd0b9 72px,#f3f5f6 75px,#c5dfec 78px,#a2cde3 81px,#a9d1e5 84px,#d8e9f1 87px,#faeae1 90px,#f6b191 93px)"></div><div style="top:6px;background:linear-gradient(90deg,#f0f4f6 0px,#a5cee3 3px,#4f9bc7 6px,#3a87bd 9px,#4c99c6 12px,#a0cce2 15px,#eff3f5 18px,#f9c6ac 21px,#e17860 24px,#ce4f45 27px,#d55d4c 30px,#f2a17f 33px,#fbe6da 36px,#d2e6f0 39px,#7eb8d7 42px,#4695c4 45px,#4f9bc7 48px,#93c6de 51px,#e0ecf3 54px,#fddcc9 57px,#eb9172 60px,#d35a4a 63px,#d05548 66px,#e58368 69px,#fac8af 72px,#f7f5f4 75px,#cfe4ef 78px,#acd2e5 81px,#b3d6e8 84px,#ddebf2 87px,#fae7dc 90px,#f5aa89 93px)"></div><div style="top:7px;background:linear-gradient(90deg,#eff3f5 0px,#a2cde3 3px,#4f9bc7 6px,#3b88be 9px,#4f9bc7 12px,#a2cde3 15px,#f0f4f6 18px,#f9c4a9 21px,#df765e 24px,#cc4c44 27px,#d55d4c 30px,#f19e7d 33px,#fbe6da 36px,#d2e6f0 39px,#7bb6d6 42px,#4695c4 45px,#4f9bc7 48px,#96c7df 51px,#e3edf3 54px,#fdd9c4 57px,#e8896c 60px,#cf5246 63px,#cc4c44 66px,#e17860 69px,#f8bfa4 72px,#f8f1ed 75px,#d5e7f1 78px,#b3d6e8 81px,#bbdaea 84px,#e1edf3 87px,#fbe5d8 90px,#f4a683 93px)"></div><div style="top:8px;background:linear-gradient(90deg,#eff3f5 0px,#a2cde3 3px,#4f9bc7 6px,#3b88be 9px,#529dc8 12px,#a5cee3 15px,#f2f5f6 18px,#f9c2a7 21px,#de735c 24px,#cb4942 27px,#d35a4a 30px,#f19e7d 33px,#fbe6da 36px,#d1e5f0 39px,#7bb6d6 42px,#4695c4 45px,#529dc8 48px,#98c8e0 51px,#e4eef4 54px,#fcd5bf 57px,#e58368 60px,#cb4942 63px,#c6413e 66px,#dd7059 69px,#f7b99c 72px,#f9eee7 75px,#d8e9f1 78px,#b8d8e9 81px,#c0dceb 84px,#e3edf3 87px,#fbe3d4 90px,#f2a17f 93px)"></div><div style="top:9px;background:linear-gradient(90deg,#edf2f5 0px,#a2cde3 3px,#529dc8 6px,#3c8abe 9px,#569fc9 12px,#a9d1e5 15px,#f3f5f6 18px,#f8bfa4 21px,#dd7059 24px,#cb4942 27px,#d35a4a 30px,#f2a17f 33px,#fae7dc 36px,#d1e5f0 39px,#7bb6d6 42px,#4695c4 45px,#529dc8 48px,#98c8e0 51px,#e6eff4 54px,#fbd0b9 57px,#e27b62 60px,#c6413e 63px,#c43b3c 66px,#da6853 69px,#f6b394 72px,#f9ebe3 75px,#dbeaf2 78px,#bddbea 81px,#c2ddec 84px,#e4eef4 87px,#fbe3d4 90px,#f2a17f 93px)"></div><div style="top:10px;background:linear-gradient(90deg,#edf2f5 0px,#a5cee3 3px,#529dc8 6px,#3e8cbf 9px,#59a1ca 12px,#acd2e5 15px,#f6f7f7 18px,#f8bda1 21px,#dc6e57 24px,#c94741 27px,#d35a4a 30px,#f2a17f 33px,#fae7dc 36px,#cfe4ef 39px,#78b4d5 42px,#4695c4 45px,#529dc8 48px,#9bc9e0 51px,#e9f0f4 54px,#fbceb7 57px,#e17860 60px,#c43b3c 63px,#c13639 66px,#d7634f 69px,#f6b191 72px,#faeae1 75px,#ddebf2 78px,#bddbea 81px,#c2ddec 84px,#e4eef4 87px,#fbe3d4 90px,#f2a17f 93px)"></div><div style="top:11px;background:linear-gradient(90deg,#edf2f5 0px,#a5cee3 3px,#569fc9 6px,#3f8ec0 9px,#5ca3cb 12px,#aed3e6 15px,#f7f6f6 18px,#f8bb9e 21px,#dc6e57 24px,#c94741 27px,#d35a4a 30px,#f2a17f 33px,#fae8de 36px,#cfe4ef 39px,#78b4d5 42px,#4393c3 45px,#529dc8 48px,#9bc9e0 51px,#e9f0f4 54px,#facab1 57px,#de735c 60px,#c13639 63px,#be3036 66px,#d6604d 69px,#f6af8e 72px,#faeae1 75px,#ddebf2 78px,#bbdaea 81px,#c0dceb 84px,#e3edf3 87px,#fbe4d6 90px,#f3a481 93px)"></div><div style="top:12px;background:linear-gradient(90deg,#edf2f5 0px,#a5cee3 3px,#59a1ca 6px,#408fc1 9px,#5fa5cd 12px,#b1d5e7 15px,#f7f5f4 18px,#f7b99c 21px,#db6b55 24px,#c94741 27px,#d35a4a 30px,#f3a481 33px,#fae8de 36px,#cce2ef 39px,#75b2d4 42px,#4393c3 45px,#529dc8 48px,#9dcbe1 51px,#eaf1f5 54px,#fac8af 57px,#dd7059 60px,#bf3338 63px,#bd2d35 66px,#d55d4c 69px,#f6af8e 72px,#faeae1 75px,#dae9f2 78px,#b6d7e8 81px,#bbdaea 84px,#e0ecf3 87px,#fbe6da 90px,#f4a683 93px)"></div><div style="top:13px;background:linear-gradient(90deg,#edf2f5 0px,#a7d0e4 3px,#5ca3cb 6px,#4291c2 9px,#62a7ce 12px,#b3d6e8 15px,#f7f5f4 18px,#f7b99c 21px,#db6b55 24px,#c94741 27px,#d55d4c 30px,#f4a683 33px,#fae9df 36px,#cae1ee 39px,#71b0d3 42px,#4291c2 45px,#529dc8 48px,#9dcbe1 51px,#eaf1f5 54px,#fac8af 57px,#dc6e57 60px,#bf3338 63px,#bd2d35 66px,#d55d4c 69px,#f6b191 72px,#f9ede5 75px,#d7e8f1 78px,#b1d5e7 81px,#b3d6e8 84px,#dae9f2 87px,#fae9df 90px,#f5ac8b 93px)"></div><div style="top:14px;background:linear-gradient(90deg,#eff3f5 0px,#a9d1e5 3px,#5fa5cd 6px,#4393c3 9px,#65a9cf 12px,#b6d7e8 15px,#f8f4f2 18px,#f7b799 21px,#db6b55 24px,#cb4942 27px,#d6604d 30px,#f4a683 33px,#faeae1 36px,#c7e0ed 39px,#6eaed2 42px,#4291c2 45px,#4f9bc7 48px,#9dcbe1 51px,#ecf2f5 54px,#f9c6ac 57px,#dc6e57 60px,#bf3338 63px,#bd2d35 66px,#d6604d 69px,#f6b394 72px,#f9efe9 75px,#d2e6f0 78px,#a7d0e4 81px,#a9d1e5 84px,#d5e7f1 87px,#f9eee7 90px,#f6b394 93px)"></div><div style="top:15px;background:linear-gradient(90deg,#eff3f5 0px,#acd2e5 3px,#62a7ce 6px,#4695c4 9px,#6bacd1 12px,#b8d8e9 15px,#f8f3f0 18px,#f7b799 21px,#db6b55 24px,#cb4942 27px,#d6604d 30px,#f5a886 33px,#f9ebe3 36px,#c5dfec 39px,#6bacd1 42px,#408fc1 45px,#4f9bc7 48px,#9dcbe1 51px,#ecf2f5 54px,#f9c6ac 57px,#dc6e57 60px,#bf3338 63px,#be3036 66px,#d86551 69px,#f7b99c 72px,#f8f3f0 75px,#cae1ee 78px,#9bc9e0 81px,#9dcbe1 84px,#cce2ef 87px,#f8f2ef 90px,#f7b99c 93px)"></div><div style="top:16px;background:linear-gradient(90deg,#f0f4f6 0px,#acd2e5 3px,#65a9cf 6px,#4997c5 9px,#6eaed2 12px,#bbdaea 15px,#f8f3f0 18px,#f7b799 21px,#dc6e57 24px,#cc4c44 27px,#d7634f 30px,#f5ac8b 33px,#f9eee7 36px,#c2ddec 39px,#68abd0 42px,#3f8ec0 45px,#4c99c6 48px,#9bc9e0 51px,#eaf1f5 54px,#fac8af 57px,#dd7059 60px,#c13639 63px,#c13639 66px,#db6b55 69px,#f8bfa4 72px,#f7f6f6 75px,#bddbea 78px,#8dc2dc 81px,#8dc2dc 84px,#bddbea 87px,#f6f7f7 90px,#f9c4a9 93px)"></div><div style="top:17px;background:linear-gradient(90deg,#f0f4f6 0px,#aed3e6 3px,#68abd0 6px,#4f9bc7 9px,#6eaed2 12px,#bbdaea 15px,#f8f3f0 18px,#f7b799 21px,#dc6e57 24px,#ce4f45 27px,#d86551 30px,#f6af8e 33px,#f9efe9 36px,#bddbea 39px,#65a9cf 42px,#3f8ec0 45px,#4c99c6 48px,#9bc9e0 51px,#eaf1f5 54px,#fac8af 57px,#dd7059 60px,#c2383a 63px,#c43b3c 66px,#de735c 69px,#fac8af 72px,#f0f4f6 75px,#b1d5e7 78px,#7bb6d6 81px,#7bb6d6 84px,#aed3e6 87px,#edf2f5 90px,#fbccb4 93px)"></div><div style="top:18px;background:linear-gradient(90deg,#f2f5f6 0px,#b1d5e7 3px,#6bacd1 6px,#529dc8 9px,#71b0d3 12px,#bddbea 15px,#f8f2ef 18px,#f7b799 21px,#dd7059 24px,#cf5246 27px,#db6b55 30px,#f6b191 33px,#f9f0eb 36px,#bbdaea 39px,#62a7ce 42px,#3e8cbf 45px,#4997c5 48px,#98c8e0 51px,#e9f0f4 54px,#facab1 57px,#df765e 60px,#c53e3d 63px,#c6413e 66px,#e27b62 69px,#fbd0b9 72px,#e9f0f4 75px,#a2cde3 78px,#68abd0 81px,#68abd0 84px,#a0cce2 87px,#e4eef4 90px,#fdd9c4 93px)"></div><div style="top:19px;background:linear-gradient(90deg,#f3f5f6 0px,#b6d7e8 3px,#6eaed2 6px,#569fc9 9px,#75b2d4 12px,#bddbea 15px,#f8f3f0 18px,#f7b99c 21px,#de735c 24px,#d05548 27px,#dc6e57 30px,#f6b394 33px,#f8f1ed 36px,#b8d8e9 39px,#5fa5cd 42px,#3c8abe 45px,#4695c4 48px,#98c8e0 51px,#e9f0f4 54px,#fbccb4 57px,#e17860 60px,#c84440 63px,#cb4942 66px,#e6866a 69px,#fdd9c4 72px,#e0ecf3 75px,#93c6de 78px,#529dc8 81px,#529dc8 84px,#8dc2dc 87px,#dbeaf2 90px,#fcdfcf 93px)"></div><div style="top:20px;background:linear-gradient(90deg,#f5f6f7 0px,#b8d8e9 3px,#75b2d4 6px,#59a1ca 9px,#78b4d5 12px,#bddbea 15px,#f8f3f0 18px,#f7b99c 21px,#df765e 24px,#d25849 27px,#dd7059 30px,#f7b799 33px,#f8f3f0 36px,#b6d7e8 39px,#5ca3cb 42px,#3b88be 45px,#4695c4 48px,#96c7df 51px,#e7f0f4 54px,#fbceb7 57px,#e27b62 60px,#cb4942 63px,#cf5246 66px,#eb9172 69px,#fcdfcf 72px,#d8e9f1 75px,#81bad8 78px,#4291c2 81px,#408fc1 84px,#78b4d5 87px,#d2e6f0 90px,#fbe6da 93px)"></div><div style="top:21px;background:linear-gradient(90deg,#f6f7f7 0px,#bbdaea 3px,#78b4d5 6px,#59a1ca 9px,#78b4d5 12px,#bddbea 15px,#f8f3f0 18px,#f8bb9e 21px,#e17860 24px,#d35a4a 27px,#de735c 30px,#f7b99c 33px,#f8f4f2 36px,#b3d6e8 39px,#5ca3cb 42px,#3a87bd 45px,#4393c3 48px,#93c6de 51px,#e6eff4 54px,#fbd0b9 57px,#e48066 60px,#cf5246 63px,#d35a4a 66px,#f09c7b 69px,#fbe5d8 72px,#cfe4ef 75px,#6bacd1 78px,#3885bc 81px,#3783bb 84px,#62a7ce 87px,#c2ddec 90px,#f9ebe3 93px)"></div><div style="top:22px;background:linear-gradient(90deg,#f7f6f6 0px,#bddbea 3px,#7bb6d6 6px,#5ca3cb 9px,#78b4d5 12px,#bddbea 15px,#f8f4f2 18px,#f8bda1 21px,#e27b62 24px,#d55d4c 27px,#e17860 30px,#f8bb9e 33px,#f7f5f4 36px,#b1d5e7 39px,#59a1ca 42px,#3a87bd 45px,#4291c2 48px,#93c6de 51px,#e4eef4 54px,#fcd3bc 57px,#e6866a 60px,#d25849 63px,#d7634f 66px,#f4a683 69px,#faeae1 72px,#c2ddec 75px,#59a1ca 78px,#2f79b5 81px,#2e77b5 84px,#4f9bc7 87px,#b3d6e8 90px,#f8f2ef 93px)"></div><div style="top:23px;background:linear-gradient(90deg,#f8f4f2 0px,#c0dceb 3px,#7eb8d7 6px,#5fa5cd 9px,#7bb6d6 12px,#bddbea 15px,#f8f4f2 18px,#f8bfa4 21px,#e37e64 24px,#d7634f 27px,#e27b62 30px,#f8bda1 33px,#f7f6f6 36px,#aed3e6 39px,#569fc9 42px,#3885bc 45px,#4291c2 48px,#90c4dd 51px,#e4eef4 54px,#fcd5bf 57px,#e8896c 60px,#d55d4c 63px,#db6b55 66px,#f6af8e 69px,#f9f0eb 72px,#b3d6e8 75px,#4695c4 78px,#276eb0 81px,#266caf 84px,#408fc1 87px,#a5cee3 90px,#f6f7f7 93px)"></div><div style="top:24px;background:linear-gradient(90deg,#f8f3f0 0px,#c5dfec 3px,#81bad8 6px,#5fa5cd 9px,#7bb6d6 12px,#bddbea 15px,#f7f5f4 18px,#f9c2a7 21px,#e48066 24px,#d86551 27px,#e37e64 30px,#f9c2a7 33px,#f6f7f7 36px,#acd2e5 39px,#569fc9 42px,#3885bc 45px,#4291c2 48px,#90c4dd 51px,#e3edf3 54px,#fcd7c2 57px,#ea8e70 60px,#d7634f 63px,#de735c 66px,#f7b799 69px,#f8f4f2 72px,#a7d0e4 75px,#3e8cbf 78px,#1f63a8 81px,#1e61a5 84px,#3885bc 87px,#98c8e0 90px,#eff3f5 93px)"></div><div style="top:25px;background:linear-gradient(90deg,#f8f2ef 0px,#c7e0ed 3px,#84bcd9 6px,#62a7ce 9px,#78b4d5 12px,#bbdaea 15px,#f7f6f6 18px,#f9c6ac 21px,#e6866a 24px,#da6853 27px,#e58368 30px,#f9c2a7 33px,#f5f6f7 36px,#acd2e5 39px,#529dc8 42px,#3885bc 45px,#408fc1 48px,#8dc2dc 51px,#e1edf3 54px,#fdd9c4 57px,#eb9172 60px,#da6853 63px,#e27b62 66px,#f8bda1 69px,#f5f6f7 72px,#9dcbe1 75px,#3783bb 78px,#1a5899 81px,#195696 84px,#327cb7 87px,#8ac0db 90px,#e9f0f4 93px)"></div><div style="top:26px;background:linear-gradient(90deg,#f9f0eb 0px,#cae1ee 3px,#84bcd9 6px,#62a7ce 9px,#78b4d5 12px,#b8d8e9 15px,#f6f7f7 18px,#fac8af 21px,#e8896c 24px,#dc6e57 27px,#e6866a 30px,#f9c4a9 33px,#f5f6f7 36px,#acd2e5 39px,#529dc8 42px,#3885bc 45px,#408fc1 48px,#8dc2dc 51px,#e1edf3 54px,#fddbc7 57px,#ec9374 60px,#dc6e57 63px,#e48066 66px,#f9c4a9 69px,#f0f4f6 72px,#93c6de 75px,#327cb7 78px,#15508d 81px,#144e8a 84px,#2c75b4 87px,#7eb8d7 90px,#e3edf3 93px)"></div><div style="top:27px;background:linear-gradient(90deg,#f9efe9 0px,#cce2ef 3px,#87beda 6px,#62a7ce 9px,#78b4d5 12px,#b6d7e8 15px,#f3f5f6 18px,#facab1 21px,#e98b6e 24px,#dd7059 27px,#e6866a 30px,#f9c6ac 33px,#f5f6f7 36px,#acd2e5 39px,#529dc8 42px,#3885bc 45px,#4291c2 48px,#8dc2dc 51px,#e1edf3 54px,#fddcc9 57px,#ee9677 60px,#de735c 63px,#e6866a 66px,#fac8af 69px,#ecf2f5 72px,#8ac0db 75px,#2e77b5 78px,#124984 81px,#114781 84px,#2870b1 87px,#75b2d4 90px,#deebf2 93px)"></div><div style="top:28px;background:linear-gradient(90deg,#f9eee7 0px,#cfe4ef 3px,#8ac0db 6px,#62a7ce 9px,#75b2d4 12px,#b3d6e8 15px,#f2f5f6 18px,#fbceb7 21px,#eb9172 24px,#de735c 27px,#e8896c 30px,#f9c6ac 33px,#f5f6f7 36px,#acd2e5 39px,#569fc9 42px,#3885bc 45px,#4291c2 48px,#8dc2dc 51px,#e1edf3 54px,#fddcc9 57px,#ef9979 60px,#df765e 63px,#e98b6e 66px,#fbccb4 69px,#e9f0f4 72px,#84bcd9 75px,#2a71b2 78px,#10457e 81px,#0e4179 84px,#246aae 87px,#6eaed2 90px,#dbeaf2 93px)"></div><div style="top:29px;background:linear-gradient(90deg,#f9ebe3 0px,#d1e5f0 3px,#8ac0db 6px,#62a7ce 9px,#75b2d4 12px,#b1d5e7 15px,#f0f4f6 18px,#fbd0b9 21px,#ec9374 24px,#df765e 27px,#e98b6e 30px,#f9c6ac 33px,#f5f6f7 36px,#acd2e5 39px,#569fc9 42px,#3a87bd 45px,#4393c3 48px,#90c4dd 51px,#e1edf3 54px,#fddcc9 57px,#ef9979 60px,#df765e 63px,#ea8e70 66px,#fbceb7 69px,#e6eff4 72px,#7eb8d7 75px,#2870b1 78px,#0e4179 81px,#0d3f76 84px,#2369ad 87px,#68abd0 90px,#d8e9f1 93px)"></div><div style="top:30px;background:linear-gradient(90deg,#faeae1 0px,#d2e6f0 3px,#8ac0db 6px,#62a7ce 9px,#71b0d3 12px,#aed3e6 15px,#edf2f5 18px,#fcd3bc 21px,#ee9677 24px,#df765e 27px,#e98b6e 30px,#f9c6ac 33px,#f5f6f7 36px,#aed3e6 39px,#59a1ca 42px,#3b88be 45px,#4393c3 48px,#90c4dd 51px,#e1edf3 54px,#fddcc9 57px,#ef9979 60px,#e17860 63px,#ea8e70 66px,#fbd0b9 69px,#e6eff4 72px,#7eb8d7 75px,#2870b1 78px,#0e4179 81px,#0d3f76 84px,#2369ad 87px,#68abd0 90px,#d7e8f1 93px)"></div><div style="top:31px;background:linear-gradient(90deg,#fae9df 0px,#d4e6f1 3px,#8dc2dc 6px,#5fa5cd 9px,#6eaed2 12px,#acd2e5 15px,#ecf2f5 18px,#fcd7c2 21px,#ef9979 24px,#e17860 27px,#e98b6e 30px,#f9c6ac 33px,#f6f7f7 36px,#b1d5e7 39px,#5ca3cb 42px,#3b88be 45px,#4695c4 48px,#93c6de 51px,#e3edf3 54px,#fddbc7 57px,#ef9979 60px,#df765e 63px,#ea8e70 66px,#fbd0b9 69px,#e6eff4 72px,#7eb8d7 75px,#2870b1 78px,#0f437b 81px,#0e4179 84px,#266caf 87px,#6bacd1 90px,#d8e9f1 93px)"></div><div style="top:32px;background:linear-gradient(90deg,#fae7dc 0px,#d5e7f1 3px,#8dc2dc 6px,#5fa5cd 9px,#6bacd1 12px,#a7d0e4 15px,#eaf1f5 18px,#fdd9c4 21px,#f09c7b 24px,#e17860 27px,#e98b6e 30px,#f9c6ac 33px,#f7f6f6 36px,#b3d6e8 39px,#5fa5cd 42px,#3e8cbf 45px,#4997c5 48px,#96c7df 51px,#e4eef4 54px,#fddbc7 57px,#ef9979 60px,#df765e 63px,#e98b6e 66px,#fbceb7 69px,#e7f0f4 72px,#81bad8 75px,#2b73b3 78px,#114781 81px,#114781 84px,#2870b1 87px,#71b0d3 90px,#dae9f2 93px)"></div><div style="top:33px;background:linear-gradient(90deg,#fbe6da 0px,#d5e7f1 3px,#8dc2dc 6px,#5ca3cb 9px,#68abd0 12px,#a5cee3 15px,#e7f0f4 18px,#fddbc7 21px,#f19e7d 24px,#e27b62 27px,#e98b6e 30px,#f9c4a9 33px,#f7f5f4 36px,#b6d7e8 39px,#62a7ce 42px,#3f8ec0 45px,#4c99c6 48px,#98c8e0 51px,#e6eff4 54px,#fdd9c4 57px,#ee9677 60px,#de735c 63px,#e8896c 66px,#fbccb4 69px,#e9f0f4 72px,#87beda 75px,#2f79b5 78px,#144e8a 81px,#144e8a 84px,#2e77b5 87px,#7bb6d6 90px,#ddebf2 93px)"></div><div style="top:34px;background:linear-gradient(90deg,#fbe5d8 0px,#d7e8f1 3px,#8ac0db 6px,#59a1ca 9px,#62a7ce 12px,#a0cce2 15px,#e6eff4 18px,#fddcc9 21px,#f19e7d 24px,#e27b62 27px,#e8896c 30px,#f9c2a7 33px,#f8f4f2 36px,#b8d8e9 39px,#68abd0 42px,#408fc1 45px,#4f9bc7 48px,#9bc9e0 51px,#e7f0f4 54px,#fcd7c2 57px,#eb9172 60px,#dc6e57 63px,#e6866a 66px,#fac8af 69px,#edf2f5 72px,#90c4dd 75px,#337eb8 78px,#1a5899 81px,#1a5899 84px,#337eb8 87px,#8ac0db 90px,#e1edf3 93px)"></div><div style="top:35px;background:linear-gradient(90deg,#fbe4d6 0px,#d7e8f1 3px,#8ac0db 6px,#569fc9 9px,#5fa5cd 12px,#9dcbe1 15px,#e3edf3 18px,#fdddcb 21px,#f2a17f 24px,#e27b62 27px,#e8896c 30px,#f8bfa4 33px,#f8f3f0 36px,#bddbea 39px,#6bacd1 42px,#4393c3 45px,#569fc9 48px,#9dcbe1 51px,#e9f0f4 54px,#fcd3bc 57px,#ea8e70 60px,#db6b55 63px,#e48066 66px,#f9c4a9 69px,#f0f4f6 72px,#98c8e0 75px,#3885bc 78px,#1f63a8 81px,#2065ab 84px,#3b88be 87px,#98c8e0 90px,#e7f0f4 93px)"></div><div style="top:36px;background:linear-gradient(90deg,#fbe3d4 0px,#d7e8f1 3px,#8ac0db 6px,#529dc8 9px,#59a1ca 12px,#98c8e0 15px,#e1edf3 18px,#fcdecd 21px,#f2a17f 24px,#e17860 27px,#e6866a 30px,#f8bb9e 33px,#f8f1ed 36px,#c2ddec 39px,#71b0d3 42px,#4695c4 45px,#59a1ca 48px,#a0cce2 51px,#eaf1f5 54px,#fbd0b9 57px,#e98b6e 60px,#d86551 63px,#e27b62 66px,#f8bda1 69px,#f6f7f7 72px,#a2cde3 75px,#3f8ec0 78px,#266caf 81px,#2870b1 84px,#4695c4 87px,#a7d0e4 90px,#edf2f5 93px)"></div><div style="top:37px;background:linear-gradient(90deg,#fce2d2 0px,#d7e8f1 3px,#87beda 6px,#4f9bc7 9px,#569fc9 12px,#96c7df 15px,#e0ecf3 18px,#fcdfcf 21px,#f2a17f 24px,#e17860 27px,#e58368 30px,#f7b99c 33px,#f9efe9 36px,#c7e0ed 39px,#78b4d5 42px,#4c99c6 45px,#5ca3cb 48px,#a5cee3 51px,#ecf2f5 54px,#fbceb7 57px,#e6866a 60px,#d6604d 63px,#de735c 66px,#f7b799 69px,#f8f4f2 72px,#aed3e6 75px,#4997c5 78px,#2f79b5 81px,#327cb7 84px,#5ca3cb 87px,#b8d8e9 90px,#f6f7f7 93px)"></div><div style="top:38px;background:linear-gradient(90deg,#fce2d2 0px,#d7e8f1 3px,#84bcd9 6px,#4c99c6 9px,#4f9bc7 12px,#90c4dd 15px,#ddebf2 18px,#fce0d0 21px,#f2a17f 24px,#df765e 27px,#e37e64 30px,#f7b596 33px,#f9ede5 36px,#cae1ee 39px,#7bb6d6 42px,#4f9bc7 45px,#5fa5cd 48px,#a7d0e4 51px,#edf2f5 54px,#facab1 57px,#e48066 60px,#d35a4a 63px,#db6b55 66px,#f6b191 69px,#f9f0eb 72px,#b8d8e9 75px,#5ca3cb 78px,#3783bb 81px,#3c8abe 84px,#78b4d5 87px,#cce2ef 90px,#f8f1ed 93px)"></div><div style="top:39px;background:linear-gradient(90deg,#fce0d0 0px,#d7e8f1 3px,#81bad8 6px,#4695c4 9px,#4c99c6 12px,#8dc2dc 15px,#dbeaf2 18px,#fce0d0 21px,#f2a17f 24px,#de735c 27px,#e27b62 30px,#f6b191 33px,#faeae1 36px,#cfe4ef 39px,#81bad8 42px,#529dc8 45px,#62a7ce 48px,#a9d1e5 51px,#eff3f5 54px,#fac8af 57px,#e37e64 60px,#cf5246 63px,#d86551 66px,#f5a886 69px,#f9ebe3 72px,#c5dfec 75px,#6bacd1 78px,#408fc1 81px,#4c99c6 84px,#93c6de 87px,#dae9f2 90px,#fae9df 93px)"></div><div style="top:40px;background:linear-gradient(90deg,#fce0d0 0px,#d7e8f1 3px,#7eb8d7 6px,#4393c3 9px,#4695c4 12px,#87beda 15px,#dae9f2 18px,#fce0d0 21px,#f2a17f 24px,#dd7059 27px,#df765e 30px,#f5ac8b 33px,#fae8de 36px,#d2e6f0 39px,#84bcd9 42px,#569fc9 45px,#65a9cf 48px,#a9d1e5 51px,#f0f4f6 54px,#f9c6ac 57px,#e17860 60px,#cc4c44 63px,#d55d4c 66px,#f2a17f 69px,#fae7dc 72px,#cfe4ef 75px,#7eb8d7 78px,#529dc8 81px,#68abd0 84px,#a9d1e5 87px,#e7f0f4 90px,#fce2d2 93px)"></div><div style="top:41px;background:linear-gradient(90deg,#fcdfcf 0px,#d5e7f1 3px,#7bb6d6 6px,#408fc1 9px,#4291c2 12px,#84bcd9 15px,#d8e9f1 18px,#fce2d2 21px,#f19e7d 24px,#dc6e57 27px,#dd7059 30px,#f5a886 33px,#fbe6da 36px,#d5e7f1 39px,#8ac0db 42px,#59a1ca 45px,#68abd0 48px,#acd2e5 51px,#f2f5f6 54px,#f9c4a9 57px,#de735c 60px,#c94741 63px,#d05548 66px,#ef9979 69px,#fbe3d4 72px,#d7e8f1 75px,#8dc2dc 78px,#68abd0 81px,#81bad8 84px,#c2ddec 87px,#f6f7f7 90px,#fcd7c2 93px)"></div><div style="top:42px;background:linear-gradient(90deg,#fcdfcf 0px,#d5e7f1 3px,#78b4d5 6px,#3f8ec0 9px,#408fc1 12px,#7eb8d7 15px,#d7e8f1 18px,#fce2d2 21px,#f09c7b 24px,#da6853 27px,#dc6e57 30px,#f3a481 33px,#fbe4d6 36px,#d7e8f1 39px,#8dc2dc 42px,#5ca3cb 45px,#68abd0 48px,#acd2e5 51px,#f2f5f6 54px,#f9c2a7 57px,#dd7059 60px,#c6413e 63px,#cc4c44 66px,#eb9172 69px,#fcdfcf 72px,#ddebf2 75px,#9bc9e0 78px,#7bb6d6 81px,#9bc9e0 84px,#d7e8f1 87px,#f9ede5 90px,#f9c6ac 93px)"></div><div style="top:43px;background:linear-gradient(90deg,#fcdfcf 0px,#d4e6f1 3px,#75b2d4 6px,#3c8abe 9px,#3e8cbf 12px,#7bb6d6 15px,#d7e8f1 18px,#fce2d2 21px,#f09c7b 24px,#d86551 27px,#da6853 30px,#f19e7d 33px,#fce2d2 36px,#dae9f2 39px,#90c4dd 42px,#5ca3cb 45px,#68abd0 48px,#acd2e5 51px,#f2f5f6 54px,#f9c2a7 57px,#dc6e57 60px,#c43b3c 63px,#c94741 66px,#e8896c 69px,#fddcc9 72px,#e1edf3 75px,#a5cee3 78px,#8dc2dc 81px,#aed3e6 84px,#e6eff4 87px,#fce2d2 90px,#f7b596 93px)"></div><div style="top:44px;background:linear-gradient(90deg,#fcdfcf 0px,#d2e6f0 3px,#6eaed2 6px,#3a87bd 9px,#3b88be 12px,#78b4d5 15px,#d5e7f1 18px,#fce2d2 21px,#ef9979 24px,#d6604d 27px,#d7634f 30px,#ef9979 33px,#fce0d0 36px,#dbeaf2 39px,#93c6de 42px,#5fa5cd 45px,#68abd0 48px,#a9d1e5 51px,#f2f5f6 54px,#f9c2a7 57px,#db6b55 60px,#c2383a 63px,#c6413e 66px,#e48066 69px,#fcd7c2 72px,#e4eef4 75px,#acd2e5 78px,#9bc9e0 81px,#c0dceb 84px,#f5f6f7 87px,#fbd0b9 90px,#f2a17f 93px)"></div><div style="top:45px;background:linear-gradient(90deg,#fcdfcf 0px,#d1e5f0 3px,#6bacd1 6px,#3783bb 9px,#3a87bd 12px,#71b0d3 15px,#d5e7f1 18px,#fce0d0 21px,#ee9677 24px,#d55d4c 27px,#d55d4c 30px,#ec9374 33px,#fcdecd 36px,#ddebf2 39px,#93c6de 42px,#5ca3cb 45px,#65a9cf 48px,#a9d1e5 51px,#f0f4f6 54px,#f9c2a7 57px,#db6b55 60px,#bf3338 63px,#c43b3c 66px,#e27b62 69px,#fcd3bc 72px,#e7f0f4 75px,#b1d5e7 78px,#a2cde3 81px,#cfe4ef 84px,#f9efe9 87px,#f7b99c 90px,#e8896c 93px)"></div><div style="top:46px;background:linear-gradient(90deg,#fce0d0 0px,#cfe4ef 3px,#65a9cf 6px,#3681ba 9px,#3783bb 12px,#6eaed2 15px,#d4e6f1 18px,#fce0d0 21px,#eb9172 24px,#d25849 27px,#d25849 30px,#ea8e70 33px,#fddcc9 36px,#deebf2 39px,#93c6de 42px,#5ca3cb 45px,#62a7ce 48px,#a5cee3 51px,#eff3f5 54px,#f9c4a9 57px,#db6b55 60px,#be3036 63px,#c13639 66px,#df765e 69px,#fbd0b9 72px,#e7f0f4 75px,#b1d5e7 78px,#a7d0e4 81px,#d8e9f1 84px,#fbe4d6 87px,#f2a17f 90px,#dd7059 93px)"></div><div style="top:47px;background:linear-gradient(90deg,#fce0d0 0px,#cce2ef 3px,#5fa5cd 6px,#337eb8 9px,#3480b9 12px,#6bacd1 15px,#d4e6f1 18px,#fcdfcf 21px,#ea8e70 24px,#cf5246 27px,#cf5246 30px,#e8896c 33px,#fddbc7 36px,#e0ecf3 39px,#93c6de 42px,#59a1ca 45px,#5fa5cd 48px,#a2cde3 51px,#ecf2f5 54px,#f9c6ac 57px,#db6b55 60px,#be3036 63px,#bf3338 66px,#de735c 69px,#fbceb7 72px,#e7f0f4 75px,#b1d5e7 78px,#acd2e5 81px,#e1edf3 84px,#fddbc7 87px,#e6866a 90px,#d25849 93px)"></div><div style="top:48px;background:linear-gradient(90deg,#fce2d2 0px,#cae1ee 3px,#5ca3cb 6px,#307ab6 9px,#337eb8 12px,#68abd0 15px,#d4e6f1 18px,#fcdfcf 21px,#e98b6e 24px,#cc4c44 27px,#cc4c44 30px,#e6866a 33px,#fdd9c4 36px,#e1edf3 39px,#93c6de 42px,#569fc9 45px,#59a1ca 48px,#9dcbe1 51px,#eaf1f5 54px,#fac8af 57px,#db6b55 60px,#bd2d35 63px,#bd2d35 66px,#dc6e57 69px,#fbceb7 72px,#e4eef4 75px,#acd2e5 78px,#aed3e6 81px,#e7f0f4 84px,#fbccb4 87px,#dd7059 90px,#c94741 93px)"></div><div style="top:49px;background:linear-gradient(90deg,#fbe3d4 0px,#c5dfec 3px,#569fc9 6px,#2e77b5 9px,#307ab6 12px,#65a9cf 15px,#d4e6f1 18px,#fcdecd 21px,#e6866a 24px,#cb4942 27px,#c94741 30px,#e48066 33px,#fcd7c2 36px,#e1edf3 39px,#90c4dd 42px,#529dc8 45px,#529dc8 48px,#96c7df 51px,#e6eff4 54px,#fbccb4 57px,#dc6e57 60px,#bd2d35 63px,#bb2a34 66px,#db6b55 69px,#fbd0b9 72px,#e1edf3 75px,#a7d0e4 78px,#b1d5e7 81px,#edf2f5 84px,#f8bfa4 87px,#d7634f 90px,#c53e3d 93px)"></div><div style="top:50px;background:linear-gradient(90deg,#fbe4d6 0px,#c2ddec 3px,#4f9bc7 6px,#2b73b3 9px,#2f79b5 12px,#65a9cf 15px,#d4e6f1 18px,#fdddcb 21px,#e58368 24px,#c84440 27px,#c6413e 30px,#e27b62 33px,#fcd5bf 36px,#e1edf3 39px,#90c4dd 42px,#4c99c6 45px,#4c99c6 48px,#90c4dd 51px,#e3edf3 54px,#fbd0b9 57px,#dd7059 60px,#bd2d35 63px,#bb2a34 66px,#da6853 69px,#fcd5bf 72px,#dbeaf2 75px,#a0cce2 78px,#aed3e6 81px,#f2f5f6 84px,#f7b799 87px,#d25849 90px,#c43b3c 93px)"></div><div style="top:51px;background:linear-gradient(90deg,#fbe5d8 0px,#bddbea 3px,#4997c5 6px,#2a71b2 9px,#2e77b5 12px,#62a7ce 15px,#d4e6f1 18px,#fddcc9 21px,#e37e64 24px,#c53e3d 27px,#c43b3c 30px,#e17860 33px,#fcd3bc 36px,#e1edf3 39px,#8ac0db 42px,#4695c4 45px,#4393c3 48px,#87beda 51px,#deebf2 54px,#fcd5bf 57px,#df765e 60px,#be3036 63px,#ba2832 66px,#db6b55 69px,#fddcc9 72px,#d4e6f1 75px,#98c8e0 78px,#aed3e6 81px,#f3f5f6 84px,#f6b191 87px,#d05548 90px,#c6413e 93px)"></div><div style="top:52px;background:linear-gradient(90deg,#fbe6da 0px,#bbdaea 3px,#4393c3 6px,#276eb0 9px,#2c75b4 12px,#62a7ce 15px,#d4e6f1 18px,#fddbc7 21px,#e27b62 24px,#c2383a 27px,#c2383a 30px,#df765e 33px,#fcd3bc 36px,#e0ecf3 39px,#87beda 42px,#4291c2 45px,#408fc1 48px,#7eb8d7 51px,#d8e9f1 54px,#fddbc7 57px,#e27b62 60px,#bf3338 63px,#b82531 66px,#de735c 69px,#fce2d2 72px,#c7e0ed 75px,#8dc2dc 78px,#a9d1e5 81px,#f5f6f7 84px,#f6b191 87px,#d35a4a 90px,#ce4f45 93px)"></div><div style="top:53px;background:linear-gradient(90deg,#fae7dc 0px,#b6d7e8 3px,#4291c2 6px,#246aae 9px,#2a71b2 12px,#5fa5cd 15px,#d5e7f1 18px,#fdd9c4 21px,#df765e 24px,#bf3338 27px,#bf3338 30px,#de735c 33px,#fcd3bc 36px,#e0ecf3 39px,#81bad8 42px,#3e8cbf 45px,#3c8abe 48px,#71b0d3 51px,#d4e6f1 54px,#fcdecd 57px,#e48066 60px,#c13639 63px,#bb2a34 66px,#e48066 69px,#fae9df 72px,#b8d8e9 75px,#7eb8d7 78px,#a5cee3 81px,#f3f5f6 84px,#f6b191 87px,#d6604d 90px,#d6604d 93px)"></div><div style="top:54px;background:linear-gradient(90deg,#fae8de 0px,#b1d5e7 3px,#3f8ec0 6px,#2369ad 9px,#2a71b2 12px,#5fa5cd 15px,#d5e7f1 18px,#fcd7c2 21px,#de735c 24px,#be3036 27px,#be3036 30px,#dd7059 33px,#fbd0b9 36px,#deebf2 39px,#7eb8d7 42px,#3b88be 45px,#3783bb 48px,#68abd0 51px,#cce2ef 54px,#fbe3d4 57px,#e8896c 60px,#c2383a 63px,#bf3338 66px,#eb9172 69px,#f8f2ef 72px,#a5cee3 75px,#6eaed2 78px,#a0cce2 81px,#f3f5f6 84px,#f7b596 87px,#dc6e57 90px,#e17860 93px)"></div><div style="top:55px;background:linear-gradient(90deg,#faeae1 0px,#acd2e5 3px,#3c8abe 6px,#2267ac 9px,#2870b1 12px,#5fa5cd 15px,#d7e8f1 18px,#fcd5bf 21px,#dc6e57 24px,#bb2a34 27px,#bb2a34 30px,#dc6e57 33px,#fcd3bc 36px,#ddebf2 39px,#78b4d5 42px,#3783bb 45px,#337eb8 48px,#5ca3cb 51px,#c5dfec 54px,#fbe6da 57px,#eb9172 60px,#c53e3d 63px,#c84440 66px,#f5a886 69px,#f0f4f6 72px,#90c4dd 75px,#5fa5cd 78px,#98c8e0 81px,#f2f5f6 84px,#f7b99c 87px,#e37e64 90px,#eb9172 93px)"></div><div style="top:56px;background:linear-gradient(90deg,#f9ebe3 0px,#a9d1e5 3px,#3a87bd 6px,#1f63a8 9px,#276eb0 12px,#5fa5cd 15px,#d8e9f1 18px,#fbd0b9 21px,#db6b55 24px,#ba2832 27px,#ba2832 30px,#dc6e57 33px,#fcd3bc 36px,#dbeaf2 39px,#71b0d3 42px,#3480b9 45px,#2f79b5 48px,#4f9bc7 51px,#bbdaea 54px,#faeae1 57px,#ef9979 60px,#cb4942 63px,#d25849 66px,#f8bb9e 69px,#e1edf3 72px,#78b4d5 75px,#4f9bc7 78px,#96c7df 81px,#f0f4f6 84px,#f8bda1 87px,#ea8e70 90px,#f5ac8b 93px)"></div><div style="top:57px;background:linear-gradient(90deg,#f9eee7 0px,#a5cee3 3px,#3885bc 6px,#1e61a5 9px,#276eb0 12px,#5fa5cd 15px,#d8e9f1 18px,#fbceb7 21px,#d86551 24px,#b72230 27px,#b82531 30px,#dc6e57 33px,#fcd3bc 36px,#d8e9f1 39px,#6bacd1 42px,#307ab6 45px,#2b73b3 48px,#4695c4 51px,#b1d5e7 54px,#f9efe9 57px,#f2a17f 60px,#d25849 63px,#dc6e57 66px,#fcd3bc 69px,#d2e6f0 72px,#62a7ce 75px,#4393c3 78px,#90c4dd 81px,#eff3f5 84px,#f9c4a9 87px,#f2a17f 90px,#f9c2a7 93px)"></div><div style="top:58px;background:linear-gradient(90deg,#f9efe9 0px,#a0cce2 3px,#3681ba 6px,#1d5fa2 9px,#266caf 12px,#62a7ce 15px,#dae9f2 18px,#fbccb4 21px,#d7634f 24px,#b61f2e 27px,#b82531 30px,#db6b55 33px,#fcd5bf 36px,#d7e8f1 39px,#65a9cf 42px,#2e77b5 45px,#276eb0 48px,#408fc1 51px,#a7d0e4 54px,#f8f3f0 57px,#f5aa89 60px,#db6b55 63px,#e8896c 66px,#fce2d2 69px,#bbdaea 72px,#4c99c6 75px,#3f8ec0 78px,#90c4dd 81px,#f0f4f6 84px,#fac8af 87px,#f6af8e 90px,#fcd5bf 93px)"></div><div style="top:59px;background:linear-gradient(90deg,#f8f1ed 0px,#9dcbe1 3px,#3480b9 6px,#1c5c9f 9px,#266caf 12px,#62a7ce 15px,#dbeaf2 18px,#fac8af 21px,#d55d4c 24px,#b41c2d 27px,#b72230 30px,#db6b55 33px,#fcd5bf 36px,#d5e7f1 39px,#5fa5cd 42px,#2a71b2 45px,#2369ad 48px,#3c8abe 51px,#a0cce2 54px,#f6f7f7 57px,#f7b596 60px,#e48066 63px,#f3a481 66px,#f9eee7 69px,#a2cde3 72px,#3f8ec0 75px,#3c8abe 78px,#96c7df 81px,#f2f5f6 84px,#facab1 87px,#f7b99c 90px,#fce0d0 93px)"></div><div style="top:60px;background:linear-gradient(90deg,#f8f2ef 0px,#98c8e0 3px,#337eb8 6px,#1b5a9c 9px,#266caf 12px,#65a9cf 15px,#deebf2 18px,#f9c6ac 21px,#d35a4a 24px,#b3192c 27px,#b61f2e 30px,#db6b55 33px,#fcd7c2 36px,#d4e6f1 39px,#59a1ca 42px,#276eb0 45px,#2065ab 48px,#3885bc 51px,#98c8e0 54px,#f0f4f6 57px,#f9c2a7 60px,#ec9374 63px,#f7b99c 66px,#f3f5f6 69px,#8dc2dc 72px,#3a87bd 75px,#3c8abe 78px,#9dcbe1 81px,#f6f7f7 84px,#facab1 87px,#f9c2a7 90px,#fae8de 93px)"></div><div style="top:61px;background:linear-gradient(90deg,#f8f4f2 0px,#96c7df 3px,#307ab6 6px,#1b5a9c 9px,#266caf 12px,#65a9cf 15px,#e0ecf3 18px,#f9c2a7 21px,#d05548 24px,#b1182b 27px,#b61f2e 30px,#dc6e57 33px,#fdd9c4 36px,#d1e5f0 39px,#569fc9 42px,#246aae 45px,#1e61a5 48px,#3681ba 51px,#90c4dd 54px,#ecf2f5 57px,#fbccb4 60px,#f5a886 63px,#fbccb4 66px,#e6eff4 69px,#78b4d5 72px,#3681ba 75px,#3f8ec0 78px,#a7d0e4 81px,#f8f3f0 84px,#fac8af 87px,#fac8af 90px,#f9efe9 93px)"></div><div style="top:62px;background:linear-gradient(90deg,#f7f6f6 0px,#90c4dd 3px,#2f79b5 6px,#1a5899 9px,#266caf 12px,#68abd0 15px,#e1edf3 18px,#f8bfa4 21px,#cf5246 24px,#ae172a 27px,#b61f2e 30px,#dc6e57 33px,#fddbc7 36px,#cfe4ef 39px,#4f9bc7 42px,#2369ad 45px,#1d5fa2 48px,#337eb8 51px,#8ac0db 54px,#e7f0f4 57px,#fcd7c2 60px,#f7b799 63px,#fdddcb 66px,#dae9f2 69px,#68abd0 72px,#3480b9 75px,#4695c4 78px,#b6d7e8 81px,#f9ede5 84px,#f9c2a7 87px,#fbccb4 90px,#f8f4f2 93px)"></div><div style="top:63px;background:linear-gradient(90deg,#f6f7f7 0px,#8dc2dc 3px,#2f79b5 6px,#1a5899 9px,#276eb0 12px,#6bacd1 15px,#e3edf3 18px,#f8bda1 21px,#ce4f45 24px,#ab162a 27px,#b61f2e 30px,#dd7059 33px,#fddcc9 36px,#cce2ef 39px,#4c99c6 42px,#2267ac 45px,#1c5c9f 48px,#337eb8 51px,#87beda 54px,#e4eef4 57px,#fddcc9 60px,#f9c4a9 63px,#fbe5d8 66px,#cfe4ef 69px,#5ca3cb 72px,#3681ba 75px,#569fc9 78px,#cae1ee 81px,#fbe4d6 84px,#f7b99c 87px,#fbccb4 90px,#f3f5f6 93px)"></div><div style="top:64px;background:linear-gradient(90deg,#f3f5f6 0px,#87beda 3px,#2e77b5 6px,#1a5899 9px,#276eb0 12px,#71b0d3 15px,#e6eff4 18px,#f7b99c 21px,#cc4c44 24px,#ab162a 27px,#b61f2e 30px,#dd7059 33px,#fdddcb 36px,#c7e0ed 39px,#4997c5 42px,#2065ab 45px,#1c5c9f 48px,#337eb8 51px,#87beda 54px,#e1edf3 57px,#fcdfcf 60px,#fbccb4 63px,#f9ebe3 66px,#c2ddec 69px,#569fc9 72px,#3a87bd 75px,#6bacd1 78px,#dbeaf2 81px,#fddbc7 84px,#f6af8e 87px,#fbccb4 90px,#edf2f5 93px)"></div><div style="top:65px;background:linear-gradient(90deg,#f2f5f6 0px,#84bcd9 3px,#2c75b4 6px,#1a5899 9px,#2870b1 12px,#75b2d4 15px,#e7f0f4 18px,#f7b799 21px,#cb4942 24px,#a81529 27px,#b61f2e 30px,#de735c 33px,#fcdecd 36px,#c5dfec 39px,#4695c4 42px,#2065ab 45px,#1c5c9f 48px,#337eb8 51px,#87beda 54px,#e3edf3 57px,#fce0d0 60px,#fcd3bc 63px,#f9f0eb 66px,#bbdaea 69px,#569fc9 72px,#3f8ec0 75px,#87beda 78px,#ecf2f5 81px,#f9c6ac 84px,#f2a17f 87px,#facab1 90px,#e9f0f4 93px)"></div><div style="top:66px;background:linear-gradient(90deg,#eff3f5 0px,#81bad8 3px,#2c75b4 6px,#1a5899 9px,#2a71b2 12px,#78b4d5 15px,#eaf1f5 18px,#f6b394 21px,#c94741 24px,#a81529 27px,#b61f2e 30px,#df765e 33px,#fcdfcf 36px,#c2ddec 39px,#4695c4 42px,#2065ab 45px,#1d5fa2 48px,#3681ba 51px,#8dc2dc 54px,#e4eef4 57px,#fcdfcf 60px,#fcd5bf 63px,#f8f2ef 66px,#b6d7e8 69px,#59a1ca 72px,#4c99c6 75px,#a2cde3 78px,#f8f3f0 81px,#f6b191 84px,#eb9172 87px,#fac8af 90px,#e4eef4 93px)"></div><div style="top:67px;background:linear-gradient(90deg,#edf2f5 0px,#7eb8d7 3px,#2b73b3 6px,#1b5a9c 9px,#2b73b3 12px,#7eb8d7 15px,#edf2f5 18px,#f6b191 21px,#c84440 24px,#a81529 27px,#b72230 30px,#e17860 33px,#fce2d2 36px,#c0dceb 39px,#4393c3 42px,#2267ac 45px,#1e61a5 48px,#3885bc 51px,#96c7df 54px,#eaf1f5 57px,#fdddcb 60px,#fcd5bf 63px,#f8f3f0 66px,#b6d7e8 69px,#62a7ce 72px,#5fa5cd 75px,#bbdaea 78px,#fbe6da 81px,#ee9677 84px,#e37e64 87px,#f9c4a9 90px,#e1edf3 93px)"></div><div style="top:68px;background:linear-gradient(90deg,#ecf2f5 0px,#7bb6d6 3px,#2b73b3 6px,#1c5c9f 9px,#2c75b4 12px,#81bad8 15px,#eff3f5 18px,#f6af8e 21px,#c84440 24px,#a81529 27px,#b82531 30px,#e27b62 33px,#fbe3d4 36px,#bddbea 39px,#4393c3 42px,#2267ac 45px,#2267ac 48px,#3e8cbf 51px,#a0cce2 54px,#f0f4f6 57px,#fcd7c2 60px,#fbd0b9 63px,#f8f2ef 66px,#b8d8e9 69px,#6eaed2 72px,#78b4d5 75px,#d4e6f1 78px,#fcd7c2 81px,#e17860 84px,#db6b55 87px,#f8bfa4 90px,#deebf2 93px)"></div><div style="top:69px;background:linear-gradient(90deg,#e9f0f4 0px,#7bb6d6 3px,#2b73b3 6px,#1c5c9f 9px,#2f79b5 12px,#87beda 15px,#f2f5f6 18px,#f5ac8b 21px,#c6413e 24px,#a81529 27px,#ba2832 30px,#e48066 33px,#fbe5d8 36px,#bbdaea 39px,#4393c3 42px,#246aae 45px,#246aae 48px,#4393c3 51px,#acd2e5 54px,#f8f4f2 57px,#fbccb4 60px,#fac8af 63px,#f9f0eb 66px,#bddbea 69px,#7bb6d6 72px,#90c4dd 75px,#e3edf3 78px,#f8bda1 81px,#d55d4c 84px,#d35a4a 87px,#f8bb9e 90px,#dbeaf2 93px)"></div><div style="top:70px;background:linear-gradient(90deg,#e7f0f4 0px,#78b4d5 3px,#2b73b3 6px,#1d5fa2 9px,#307ab6 12px,#8dc2dc 15px,#f3f5f6 18px,#f5a886 21px,#c6413e 24px,#ab162a 27px,#bb2a34 30px,#e58368 33px,#fbe6da 36px,#b8d8e9 39px,#4393c3 42px,#266caf 45px,#2870b1 48px,#4f9bc7 51px,#bbdaea 54px,#f9ede5 57px,#f8bda1 60px,#f8bfa4 63px,#f9ede5 66px,#c5dfec 69px,#87beda 72px,#a2cde3 75px,#f2f5f6 78px,#f4a683 81px,#c84440 84px,#cb4942 87px,#f7b799 90px,#dae9f2 93px)"></div><div style="top:71px;background:linear-gradient(90deg,#e6eff4 0px,#78b4d5 3px,#2c75b4 6px,#1e61a5 9px,#337eb8 12px,#93c6de 15px,#f6f7f7 18px,#f4a683 21px,#c53e3d 24px,#ab162a 27px,#bd2d35 30px,#e8896c 33px,#fae8de 36px,#b6d7e8 39px,#4393c3 42px,#2870b1 45px,#2e77b5 48px,#62a7ce 51px,#cfe4ef 54px,#fbe3d4 57px,#f5ac8b 60px,#f6b394 63px,#fae9df 66px,#cce2ef 69px,#96c7df 72px,#b1d5e7 75px,#f8f1ed 78px,#ea8e70 81px,#bd2d35 84px,#c43b3c 87px,#f7b596 90px,#d7e8f1 93px)"></div><div style="top:72px;background:linear-gradient(90deg,#e4eef4 0px,#75b2d4 3px,#2c75b4 6px,#1f63a8 9px,#3681ba 12px,#98c8e0 15px,#f7f5f4 18px,#f3a481 21px,#c53e3d 24px,#ae172a 27px,#bf3338 30px,#ea8e70 33px,#faeae1 36px,#b3d6e8 39px,#4393c3 42px,#2b73b3 45px,#337eb8 48px,#75b2d4 51px,#dbeaf2 54px,#fcd7c2 57px,#ef9979 60px,#f4a683 63px,#fbe5d8 66px,#d2e6f0 69px,#9dcbe1 72px,#c0dceb 75px,#fae9df 78px,#e27b62 81px,#b41c2d 84px,#be3036 87px,#f6b394 90px,#d5e7f1 93px)"></div><div style="top:73px;background:linear-gradient(90deg,#e3edf3 0px,#75b2d4 3px,#2e77b5 6px,#2267ac 9px,#3783bb 12px,#9bc9e0 15px,#f8f4f2 18px,#f2a17f 21px,#c53e3d 24px,#b1182b 27px,#c13639 30px,#ec9374 33px,#f9ede5 36px,#b1d5e7 39px,#4393c3 42px,#2c75b4 45px,#3783bb 48px,#87beda 51px,#e7f0f4 54px,#f9c4a9 57px,#e58368 60px,#ef9979 63px,#fce2d2 66px,#d5e7f1 69px,#a5cee3 72px,#cae1ee 75px,#fbe4d6 78px,#dc6e57 81px,#ab162a 84px,#bb2a34 87px,#f6b394 90px,#d2e6f0 93px)"></div><div style="top:74px;background:linear-gradient(90deg,#e1edf3 0px,#75b2d4 3px,#2f79b5 6px,#2369ad 9px,#3a87bd 12px,#a0cce2 15px,#f8f2ef 18px,#f19e7d 21px,#c53e3d 24px,#b3192c 27px,#c43b3c 30px,#f09c7b 33px,#f9efe9 36px,#acd2e5 39px,#4393c3 42px,#2f79b5 45px,#3c8abe 48px,#98c8e0 51px,#f5f6f7 54px,#f6af8e 57px,#dc6e57 60px,#e8896c 63px,#fcdecd 66px,#d8e9f1 69px,#a7d0e4 72px,#cfe4ef 75px,#fce0d0 78px,#d86551 81px,#a51429 84px,#bb2a34 87px,#f7b596 90px,#cfe4ef 93px)"></div><div style="top:75px;background:linear-gradient(90deg,#e1edf3 0px,#75b2d4 3px,#2f79b5 6px,#266caf 9px,#3c8abe 12px,#a7d0e4 15px,#f9f0eb 18px,#f09c7b 21px,#c53e3d 24px,#b41c2d 27px,#c6413e 30px,#f2a17f 33px,#f8f1ed 36px,#a9d1e5 39px,#4393c3 42px,#327cb7 45px,#4291c2 48px,#a7d0e4 51px,#f9f0eb 54px,#ef9979 57px,#d25849 60px,#e37e64 63px,#fddcc9 66px,#d8e9f1 69px,#a7d0e4 72px,#cfe4ef 75px,#fcdfcf 78px,#d7634f 81px,#a51429 84px,#bd2d35 87px,#f7b99c 90px,#cae1ee 93px)"></div><div style="top:76px;background:linear-gradient(90deg,#e0ecf3 0px,#75b2d4 3px,#307ab6 6px,#276eb0 9px,#3f8ec0 12px,#acd2e5 15px,#f9efe9 18px,#f09c7b 21px,#c53e3d 24px,#b61f2e 27px,#c94741 30px,#f5a886 33px,#f8f3f0 36px,#a5cee3 39px,#4393c3 42px,#337eb8 45px,#4c99c6 48px,#b3d6e8 51px,#fae7dc 54px,#e58368 57px,#c94741 60px,#de735c 63px,#fddcc9 66px,#d7e8f1 69px,#a2cde3 72px,#cce2ef 75px,#fce2d2 78px,#da6853 81px,#ab162a 84px,#bf3338 87px,#f8bda1 90px,#c5dfec 93px)"></div><div style="top:77px;background:linear-gradient(90deg,#deebf2 0px,#75b2d4 3px,#327cb7 6px,#2a71b2 9px,#4291c2 12px,#b1d5e7 15px,#f9ede5 18px,#ef9979 21px,#c6413e 24px,#b82531 27px,#ce4f45 30px,#f5ac8b 33px,#f7f6f6 36px,#a0cce2 39px,#4291c2 42px,#3681ba 45px,#569fc9 48px,#c2ddec 51px,#fcdfcf 54px,#dd7059 57px,#c2383a 60px,#dc6e57 63px,#fddcc9 66px,#d2e6f0 69px,#9bc9e0 72px,#c2ddec 75px,#fbe5d8 78px,#de735c 81px,#b61f2e 84px,#c6413e 87px,#f9c4a9 90px,#c0dceb 93px)"></div><div style="top:78px;background:linear-gradient(90deg,#deebf2 0px,#78b4d5 3px,#337eb8 6px,#2c75b4 9px,#4997c5 12px,#b6d7e8 15px,#faeae1 18px,#ee9677 21px,#c6413e 24px,#ba2832 27px,#d05548 30px,#f6b394 33px,#f3f5f6 36px,#9bc9e0 39px,#4291c2 42px,#3783bb 45px,#5ca3cb 48px,#cce2ef 51px,#fcd7c2 54px,#d6604d 57px,#bd2d35 60px,#db6b55 63px,#fcdecd 66px,#cae1ee 69px,#8dc2dc 72px,#b8d8e9 75px,#faeae1 78px,#e58368 81px,#be3036 84px,#ce4f45 87px,#fbccb4 90px,#bddbea 93px)"></div><div style="top:79px;background:linear-gradient(90deg,#ddebf2 0px,#78b4d5 3px,#3681ba 6px,#2f79b5 9px,#4f9bc7 12px,#bbdaea 15px,#fae9df 18px,#ee9677 21px,#c84440 24px,#bd2d35 27px,#d55d4c 30px,#f7b99c 33px,#eff3f5 36px,#96c7df 39px,#408fc1 42px,#3783bb 45px,#65a9cf 48px,#d4e6f1 51px,#fbccb4 54px,#d05548 57px,#ba2832 60px,#dc6e57 63px,#fbe3d4 66px,#bddbea 69px,#7eb8d7 72px,#a7d0e4 75px,#f8f2ef 78px,#ee9677 81px,#c94741 84px,#d6604d 87px,#fcd5bf 90px,#bbdaea 93px)"></div><div style="top:80px;background:linear-gradient(90deg,#ddebf2 0px,#78b4d5 3px,#3783bb 6px,#307ab6 9px,#569fc9 12px,#c0dceb 15px,#fae7dc 18px,#ec9374 21px,#c84440 24px,#bf3338 27px,#d7634f 30px,#f8bfa4 33px,#eaf1f5 36px,#90c4dd 39px,#3e8cbf 42px,#3783bb 45px,#68abd0 48px,#d8e9f1 51px,#f9c6ac 54px,#cc4c44 57px,#ba2832 60px,#df765e 63px,#fae8de 66px,#aed3e6 69px,#68abd0 72px,#98c8e0 75px,#f2f5f6 78px,#f5ac8b 81px,#d6604d 84px,#df765e 87px,#fddbc7 90px,#b8d8e9 93px)"></div><div style="top:81px;background:linear-gradient(90deg,#ddebf2 0px,#7bb6d6 3px,#3885bc 6px,#337eb8 9px,#5ca3cb 12px,#c5dfec 15px,#fbe6da 18px,#eb9172 21px,#c94741 24px,#c13639 27px,#db6b55 30px,#f9c6ac 33px,#e6eff4 36px,#87beda 39px,#3c8abe 42px,#3783bb 45px,#6bacd1 48px,#dae9f2 51px,#f9c2a7 54px,#cb4942 57px,#bb2a34 60px,#e48066 63px,#f9efe9 66px,#9dcbe1 69px,#529dc8 72px,#84bcd9 75px,#e6eff4 78px,#f9c2a7 81px,#e17860 84px,#e8896c 87px,#fcdfcf 90px,#bbdaea 93px)"></div><div style="top:82px;background:linear-gradient(90deg,#dbeaf2 0px,#7bb6d6 3px,#3a87bd 6px,#3681ba 9px,#62a7ce 12px,#cae1ee 15px,#fbe5d8 18px,#eb9172 21px,#c94741 24px,#c43b3c 27px,#dd7059 30px,#fbccb4 33px,#e1edf3 36px,#81bad8 39px,#3a87bd 42px,#3681ba 45px,#6bacd1 48px,#dbeaf2 51px,#f8bfa4 54px,#cc4c44 57px,#bf3338 60px,#ea8e70 63px,#f7f6f6 66px,#87beda 69px,#408fc1 72px,#6eaed2 75px,#dbeaf2 78px,#fcd5bf 81px,#ee9677 84px,#f19e7d 87px,#fbe3d4 90px,#c0dceb 93px)"></div><div style="top:83px;background:linear-gradient(90deg,#dbeaf2 0px,#7eb8d7 3px,#3b88be 6px,#3885bc 9px,#68abd0 12px,#cfe4ef 15px,#fbe3d4 18px,#eb9172 21px,#cb4942 24px,#c6413e 27px,#e17860 30px,#fcd3bc 33px,#ddebf2 36px,#78b4d5 39px,#3783bb 42px,#3480b9 45px,#6bacd1 48px,#dbeaf2 51px,#f8bfa4 54px,#cf5246 57px,#c53e3d 60px,#f19e7d 63px,#edf2f5 66px,#71b0d3 69px,#3885bc 72px,#5fa5cd 75px,#d1e5f0 78px,#fbe3d4 81px,#f6af8e 84px,#f6b191 87px,#fbe5d8 90px,#c7e0ed 93px)"></div><div style="top:84px;background:linear-gradient(90deg,#dbeaf2 0px,#7eb8d7 3px,#3c8abe 6px,#3b88be 9px,#6eaed2 12px,#d1e5f0 15px,#fce2d2 18px,#ea8e70 21px,#cc4c44 24px,#c94741 27px,#e48066 30px,#fddbc7 33px,#d8e9f1 36px,#6eaed2 39px,#3480b9 42px,#327cb7 45px,#68abd0 48px,#dae9f2 51px,#f9c4a9 54px,#d35a4a 57px,#cc4c44 60px,#f6af8e 63px,#e1edf3 66px,#5ca3cb 69px,#327cb7 72px,#529dc8 75px,#c2ddec 78px,#f9ebe3 81px,#f9c2a7 84px,#f8bda1 87px,#fbe6da 90px,#d1e5f0 93px)"></div><div style="top:85px;background:linear-gradient(90deg,#dbeaf2 0px,#7eb8d7 3px,#3f8ec0 6px,#3c8abe 9px,#75b2d4 12px,#d4e6f1 15px,#fce0d0 18px,#ea8e70 21px,#cc4c44 24px,#cb4942 27px,#e6866a 30px,#fdddcb 33px,#d4e6f1 36px,#65a9cf 39px,#307ab6 42px,#307ab6 45px,#65a9cf 48px,#d8e9f1 51px,#facab1 54px,#d86551 57px,#d55d4c 60px,#f8bda1 63px,#d7e8f1 66px,#4997c5 69px,#2c75b4 72px,#4c99c6 75px,#b6d7e8 78px,#f8f3f0 81px,#fbd0b9 84px,#fac8af 87px,#fbe6da 90px,#dae9f2 93px)"></div><div style="top:86px;background:linear-gradient(90deg,#dae9f2 0px,#81bad8 3px,#408fc1 6px,#3f8ec0 9px,#7bb6d6 12px,#d7e8f1 15px,#fcdfcf 18px,#e98b6e 21px,#ce4f45 24px,#ce4f45 27px,#e98b6e 30px,#fce0d0 33px,#cfe4ef 36px,#5ca3cb 39px,#2e77b5 42px,#2e77b5 45px,#5fa5cd 48px,#d5e7f1 51px,#fbd0b9 54px,#de735c 57px,#dc6e57 60px,#fbceb7 63px,#cae1ee 66px,#3f8ec0 69px,#2a71b2 72px,#4393c3 75px,#acd2e5 78px,#f3f5f6 81px,#fddcc9 84px,#fbceb7 87px,#fbe5d8 90px,#e3edf3 93px)"></div><div style="top:87px;background:linear-gradient(90deg,#dae9f2 0px,#81bad8 3px,#4291c2 6px,#408fc1 9px,#7eb8d7 12px,#d8e9f1 15px,#fdddcb 18px,#e98b6e 21px,#ce4f45 24px,#cf5246 27px,#eb9172 30px,#fbe4d6 33px,#c7e0ed 36px,#569fc9 39px,#2b73b3 42px,#2b73b3 45px,#59a1ca 48px,#d2e6f0 51px,#fcd7c2 54px,#e48066 57px,#e48066 60px,#fddbc7 63px,#bbdaea 66px,#3a87bd 69px,#2a71b2 72px,#4291c2 75px,#a2cde3 78px,#ecf2f5 81px,#fce0d0 84px,#fbd0b9 87px,#fce2d2 90px,#eff3f5 93px)"></div><div style="top:88px;background:linear-gradient(90deg,#dae9f2 0px,#84bcd9 3px,#4393c3 6px,#4393c3 9px,#84bcd9 12px,#dbeaf2 15px,#fddcc9 18px,#e8896c 21px,#ce4f45 24px,#d05548 27px,#ee9677 30px,#fbe6da 33px,#c0dceb 36px,#4c99c6 39px,#276eb0 42px,#2870b1 45px,#529dc8 48px,#cce2ef 51px,#fdddcb 54px,#ea8e70 57px,#eb9172 60px,#fbe3d4 63px,#aed3e6 66px,#3783bb 69px,#2a71b2 72px,#408fc1 75px,#9dcbe1 78px,#e7f0f4 81px,#fbe3d4 84px,#fbd0b9 87px,#fcdecd 90px,#f7f5f4 93px)"></div><div style="top:89px;background:linear-gradient(90deg,#dae9f2 0px,#84bcd9 3px,#4393c3 6px,#4695c4 9px,#87beda 12px,#ddebf2 15px,#fddbc7 18px,#e8896c 21px,#cf5246 24px,#d25849 27px,#f09c7b 30px,#fae8de 33px,#bbdaea 36px,#4695c4 39px,#246aae 42px,#266caf 45px,#4c99c6 48px,#c5dfec 51px,#fce2d2 54px,#f09c7b 57px,#f19e7d 60px,#fae8de 63px,#a5cee3 66px,#3681ba 69px,#2b73b3 72px,#3f8ec0 75px,#98c8e0 78px,#e4eef4 81px,#fbe4d6 84px,#fbceb7 87px,#fcd7c2 90px,#f9ede5 93px)"></div><div style="top:90px;background:linear-gradient(90deg,#d8e9f1 0px,#84bcd9 3px,#4695c4 6px,#4997c5 9px,#8dc2dc 12px,#deebf2 15px,#fdd9c4 18px,#e6866a 21px,#cf5246 24px,#d35a4a 27px,#f19e7d 30px,#faeae1 33px,#b6d7e8 36px,#4291c2 39px,#2267ac 42px,#2369ad 45px,#4695c4 48px,#c0dceb 51px,#fbe5d8 54px,#f4a683 57px,#f5aa89 60px,#f9ede5 63px,#9dcbe1 66px,#3681ba 69px,#2c75b4 72px,#3f8ec0 75px,#96c7df 78px,#e4eef4 81px,#fbe4d6 84px,#facab1 87px,#fbccb4 90px,#fbe3d4 93px)"></div><div style="top:91px;background:linear-gradient(90deg,#d8e9f1 0px,#84bcd9 3px,#4997c5 6px,#4c99c6 9px,#90c4dd 12px,#e1edf3 15px,#fcd7c2 18px,#e6866a 21px,#cf5246 24px,#d35a4a 27px,#f2a17f 30px,#f9ede5 33px,#b1d5e7 36px,#3f8ec0 39px,#1f63a8 42px,#2065ab 45px,#4291c2 48px,#bbdaea 51px,#fae8de 54px,#f5ac8b 57px,#f6b191 60px,#f9f0eb 63px,#98c8e0 66px,#3783bb 69px,#2e77b5 72px,#408fc1 75px,#98c8e0 78px,#e4eef4 81px,#fbe3d4 84px,#f9c2a7 87px,#f8bfa4 90px,#fdd9c4 93px)"></div><div style="top:92px;background:linear-gradient(90deg,#d8e9f1 0px,#84bcd9 3px,#4997c5 6px,#4c99c6 9px,#93c6de 12px,#e3edf3 15px,#fcd7c2 18px,#e58368 21px,#cf5246 24px,#d55d4c 27px,#f3a481 30px,#f9eee7 33px,#aed3e6 36px,#3c8abe 39px,#1e61a5 42px,#1f63a8 45px,#408fc1 48px,#b6d7e8 51px,#faeae1 54px,#f6b191 57px,#f7b596 60px,#f8f1ed 63px,#98c8e0 66px,#3a87bd 69px,#2f79b5 72px,#4291c2 75px,#98c8e0 78px,#e6eff4 81px,#fcdfcf 84px,#f7b99c 87px,#f6b191 90px,#fac8af 93px)"></div><div style="top:93px;background:linear-gradient(90deg,#d7e8f1 0px,#84bcd9 3px,#4997c5 6px,#4f9bc7 9px,#93c6de 12px,#e3edf3 15px,#fcd5bf 18px,#e58368 21px,#ce4f45 24px,#d55d4c 27px,#f3a481 30px,#f9eee7 33px,#acd2e5 36px,#3b88be 39px,#1d5fa2 42px,#1e61a5 45px,#3f8ec0 48px,#b3d6e8 51px,#f9ebe3 54px,#f6b394 57px,#f7b799 60px,#f8f1ed 63px,#9bc9e0 66px,#3c8abe 69px,#327cb7 72px,#4695c4 75px,#9dcbe1 78px,#e9f0f4 81px,#fddcc9 84px,#f6af8e 87px,#f3a481 90px,#f7b799 93px)"></div><div style="top:94px;background:linear-gradient(90deg,#d7e8f1 0px,#84bcd9 3px,#4997c5 6px,#4f9bc7 9px,#96c7df 12px,#e4eef4 15px,#fcd3bc 18px,#e48066 21px,#ce4f45 24px,#d55d4c 27px,#f4a683 30px,#f9efe9 33px,#a9d1e5 36px,#3b88be 39px,#1c5c9f 42px,#1d5fa2 45px,#3e8cbf 48px,#b3d6e8 51px,#f9ebe3 54px,#f6b394 57px,#f7b596 60px,#f9f0eb 63px,#a0cce2 66px,#3f8ec0 69px,#3681ba 72px,#4c99c6 75px,#a2cde3 78px,#ecf2f5 81px,#fcd7c2 84px,#f3a481 87px,#eb9172 90px,#f4a683 93px)"></div><div style="top:95px;background:linear-gradient(90deg,#d7e8f1 0px,#84bcd9 3px,#4997c5 6px,#529dc8 9px,#96c7df 12px,#e6eff4 15px,#fcd3bc 18px,#e48066 21px,#ce4f45 24px,#d35a4a 27px,#f3a481 30px,#f9efe9 33px,#a9d1e5 36px,#3b88be 39px,#1c5c9f 42px,#1d5fa2 45px,#3e8cbf 48px,#b3d6e8 51px,#f9ebe3 54px,#f6b191 57px,#f6b191 60px,#f9ede5 63px,#a9d1e5 66px,#4393c3 69px,#3885bc 72px,#529dc8 75px,#a7d0e4 78px,#f0f4f6 81px,#fbccb4 84px,#ec9374 87px,#e37e64 90px,#eb9172 93px)"></div><div style="top:96px;background:linear-gradient(90deg,#d5e7f1 0px,#84bcd9 3px,#4997c5 6px,#529dc8 9px,#96c7df 12px,#e6eff4 15px,#fbd0b9 18px,#e37e64 21px,#cc4c44 24px,#d35a4a 27px,#f3a481 30px,#f9eee7 33px,#acd2e5 36px,#3b88be 39px,#1c5c9f 42px,#1d5fa2 45px,#3e8cbf 48px,#b3d6e8 51px,#faeae1 54px,#f5ac8b 57px,#f5aa89 60px,#fae8de 63px,#b3d6e8 66px,#4f9bc7 69px,#3c8abe 72px,#59a1ca 75px,#aed3e6 78px,#f6f7f7 81px,#f9c4a9 84px,#e6866a 87px,#db6b55 90px,#e37e64 93px)"></div><div style="top:97px;background:linear-gradient(90deg,#d5e7f1 0px,#81bad8 3px,#4997c5 6px,#4f9bc7 9px,#96c7df 12px,#e6eff4 15px,#fbd0b9 18px,#e37e64 21px,#cb4942 24px,#d25849 27px,#f2a17f 30px,#f9ede5 33px,#acd2e5 36px,#3b88be 39px,#1c5c9f 42px,#1d5fa2 45px,#3f8ec0 48px,#b6d7e8 51px,#fae8de 54px,#f4a683 57px,#f2a17f 60px,#fbe4d6 63px,#bddbea 66px,#5ca3cb 69px,#408fc1 72px,#62a7ce 75px,#b6d7e8 78px,#f8f4f2 81px,#f7b99c 84px,#df765e 87px,#d35a4a 90px,#dc6e57 93px)"></div><div style="top:98px;background:linear-gradient(90deg,#d5e7f1 0px,#81bad8 3px,#4695c4 6px,#4f9bc7 9px,#96c7df 12px,#e6eff4 15px,#fbd0b9 18px,#e27b62 21px,#cb4942 24px,#d05548 27px,#f19e7d 30px,#f9ebe3 33px,#b1d5e7 36px,#3c8abe 39px,#1d5fa2 42px,#1e61a5 45px,#3f8ec0 48px,#bbdaea 51px,#fbe5d8 54px,#f09c7b 57px,#ec9374 60px,#fdddcb 63px,#cae1ee 66px,#65a9cf 69px,#4695c4 72px,#68abd0 75px,#bddbea 78px,#f9f0eb 81px,#f6b191 84px,#d86551 87px,#c94741 90px,#d55d4c 93px)"></div><div style="top:99px;background:linear-gradient(90deg,#d4e6f1 0px,#7eb8d7 3px,#4695c4 6px,#4c99c6 9px,#96c7df 12px,#e6eff4 15px,#fbd0b9 18px,#e27b62 21px,#c94741 24px,#cf5246 27px,#ef9979 30px,#faeae1 33px,#b3d6e8 36px,#3f8ec0 39px,#1e61a5 42px,#1f63a8 45px,#408fc1 48px,#bddbea 51px,#fce2d2 54px,#eb9172 57px,#e58368 60px,#fcd3bc 63px,#d5e7f1 66px,#71b0d3 69px,#4c99c6 72px,#71b0d3 75px,#c2ddec 78px,#f9ebe3 81px,#f4a683 84px,#d25849 87px,#c2383a 90px,#ce4f45 93px)"></div><div style="top:100px;background:linear-gradient(90deg,#d4e6f1 0px,#7eb8d7 3px,#4393c3 6px,#4c99c6 9px,#93c6de 12px,#e4eef4 15px,#fbd0b9 18px,#e17860 21px,#c84440 24px,#cc4c44 27px,#ee9677 30px,#fae8de 33px,#b8d8e9 36px,#408fc1 39px,#2065ab 42px,#2065ab 45px,#4393c3 48px,#c2ddec 51px,#fcdecd 54px,#e58368 57px,#df765e 60px,#f9c6ac 63px,#ddebf2 66px,#7bb6d6 69px,#529dc8 72px,#78b4d5 75px,#cae1ee 78px,#fae8de 81px,#f09c7b 84px,#cb4942 87px,#ba2832 90px,#c6413e 93px)"></div><div style="top:101px;background:linear-gradient(90deg,#d4e6f1 0px,#7bb6d6 3px,#4291c2 6px,#4997c5 9px,#90c4dd 12px,#e4eef4 15px,#fbd0b9 18px,#e17860 21px,#c6413e 24px,#cb4942 27px,#eb9172 30px,#fbe6da 33px,#bddbea 36px,#4393c3 39px,#2267ac 42px,#2267ac 45px,#4695c4 48px,#c7e0ed 51px,#fddbc7 54px,#e17860 57px,#d86551 60px,#f7b99c 63px,#e4eef4 66px,#84bcd9 69px,#59a1ca 72px,#7bb6d6 75px,#cfe4ef 78px,#fbe5d8 81px,#eb9172 84px,#c43b3c 87px,#b3192c 90px,#c13639 93px)"></div><div style="top:102px;background:linear-gradient(90deg,#d2e6f0 0px,#78b4d5 3px,#408fc1 6px,#4695c4 9px,#8dc2dc 12px,#e3edf3 15px,#fbd0b9 18px,#e17860 21px,#c53e3d 24px,#c84440 27px,#e98b6e 30px,#fbe3d4 33px,#c5dfec 36px,#4997c5 39px,#246aae 42px,#246aae 45px,#4997c5 48px,#cae1ee 51px,#fcd7c2 54px,#dc6e57 57px,#d25849 60px,#f5ac8b 63px,#ecf2f5 66px,#8ac0db 69px,#5ca3cb 72px,#7eb8d7 75px,#d1e5f0 78px,#fce2d2 81px,#e6866a 84px,#be3036 87px,#a81529 90px,#bd2d35 93px)"></div><div style="top:103px;background:linear-gradient(90deg,#d2e6f0 0px,#78b4d5 3px,#3f8ec0 6px,#4291c2 9px,#8ac0db 12px,#e1edf3 15px,#fcd3bc 18px,#e17860 21px,#c43b3c 24px,#c6413e 27px,#e58368 30px,#fce0d0 33px,#cae1ee 36px,#529dc8 39px,#276eb0 42px,#266caf 45px,#4c99c6 48px,#cce2ef 51px,#fcd3bc 54px,#d7634f 57px,#cb4942 60px,#f2a17f 63px,#f2f5f6 66px,#8dc2dc 69px,#59a1ca 72px,#7eb8d7 75px,#d2e6f0 78px,#fcdfcf 81px,#e37e64 84px,#b82531 87px,#9f1228 90px,#b82531 93px)"></div><div style="top:104px;background:linear-gradient(90deg,#d2e6f0 0px,#75b2d4 3px,#3e8cbf 6px,#408fc1 9px,#84bcd9 12px,#e0ecf3 15px,#fcd3bc 18px,#e17860 21px,#c2383a 24px,#c43b3c 27px,#e37e64 30px,#fdddcb 33px,#d1e5f0 36px,#59a1ca 39px,#2a71b2 42px,#276eb0 45px,#4f9bc7 48px,#cfe4ef 51px,#fbd0b9 54px,#d55d4c 57px,#c53e3d 60px,#ee9677 63px,#f6f7f7 66px,#90c4dd 69px,#569fc9 72px,#7bb6d6 75px,#d4e6f1 78px,#fcdecd 81px,#df765e 84px,#b41c2d 87px,#960f27 90px,#b61f2e 93px)"></div><div style="top:105px;background:linear-gradient(90deg,#d2e6f0 0px,#71b0d3 3px,#3c8abe 6px,#3e8cbf 9px,#81bad8 12px,#ddebf2 15px,#fcd5bf 18px,#e17860 21px,#c2383a 24px,#c13639 27px,#e17860 30px,#fdd9c4 33px,#d5e7f1 36px,#62a7ce 39px,#2c75b4 42px,#2a71b2 45px,#529dc8 48px,#cfe4ef 51px,#fbceb7 54px,#d25849 57px,#c13639 60px,#e98b6e 63px,#f8f4f2 66px,#93c6de 69px,#4f9bc7 72px,#78b4d5 75px,#d2e6f0 78px,#fddcc9 81px,#dd7059 84px,#ae172a 87px,#900d26 90px,#b41c2d 93px)"></div><div style="top:106px;background:linear-gradient(90deg,#d1e5f0 0px,#71b0d3 3px,#3b88be 6px,#3c8abe 9px,#7bb6d6 12px,#dbeaf2 15px,#fcd7c2 18px,#e17860 21px,#c13639 24px,#bf3338 27px,#dd7059 30px,#fcd3bc 33px,#dae9f2 36px,#6bacd1 39px,#2f79b5 42px,#2b73b3 45px,#529dc8 48px,#cfe4ef 51px,#fbd0b9 54px,#d25849 57px,#bf3338 60px,#e6866a 63px,#f8f2ef 66px,#93c6de 69px,#4695c4 72px,#6eaed2 75px,#d2e6f0 78px,#fddcc9 81px,#db6b55 84px,#ab162a 87px,#8a0b25 90px,#b3192c 93px)"></div><div style="top:107px;background:linear-gradient(90deg,#d2e6f0 0px,#6eaed2 3px,#3a87bd 6px,#3a87bd 9px,#75b2d4 12px,#d8e9f1 15px,#fddbc7 18px,#e17860 21px,#bf3338 24px,#bd2d35 27px,#db6b55 30px,#fbccb4 33px,#deebf2 36px,#75b2d4 39px,#327cb7 42px,#2c75b4 45px,#529dc8 48px,#cce2ef 51px,#fcd3bc 54px,#d35a4a 57px,#be3036 60px,#e48066 63px,#f9f0eb 66px,#93c6de 69px,#408fc1 72px,#65a9cf 75px,#cfe4ef 78px,#fddcc9 81px,#da6853 84px,#a51429 87px,#870a24 90px,#b3192c 93px)"></div><div style="top:108px;background:linear-gradient(90deg,#d2e6f0 0px,#6eaed2 3px,#3783bb 6px,#3783bb 9px,#6eaed2 12px,#d5e7f1 15px,#fddcc9 18px,#e27b62 21px,#bf3338 24px,#bb2a34 27px,#d7634f 30px,#f9c6ac 33px,#e3edf3 36px,#7bb6d6 39px,#3480b9 42px,#2e77b5 45px,#529dc8 48px,#cae1ee 51px,#fdd9c4 54px,#d6604d 57px,#bf3338 60px,#e37e64 63px,#f9efe9 66px,#93c6de 69px,#3e8cbf 72px,#59a1ca 75px,#cae1ee 78px,#fddcc9 81px,#da6853 84px,#a51429 87px,#870a24 90px,#b3192c 93px)"></div><div style="top:109px;background:linear-gradient(90deg,#d2e6f0 0px,#6bacd1 3px,#3681ba 6px,#3681ba 9px,#68abd0 12px,#d2e6f0 15px,#fcdecd 18px,#e37e64 21px,#bf3338 24px,#b82531 27px,#d55d4c 30px,#f8bfa4 33px,#e7f0f4 36px,#84bcd9 39px,#3783bb 42px,#2e77b5 45px,#4f9bc7 48px,#c5dfec 51px,#fdddcb 54px,#da6853 57px,#c13639 60px,#e37e64 63px,#f9eee7 66px,#93c6de 69px,#3b88be 72px,#4c99c6 75px,#c2ddec 78px,#fddcc9 81px,#d86551 84px,#a21328 87px,#870a24 90px,#b3192c 93px)"></div><div style="top:110px;background:linear-gradient(90deg,#d2e6f0 0px,#6bacd1 3px,#3480b9 6px,#337eb8 9px,#62a7ce 12px,#cfe4ef 15px,#fce0d0 18px,#e48066 21px,#bf3338 24px,#b72230 27px,#d25849 30px,#f7b99c 33px,#ecf2f5 36px,#8dc2dc 39px,#3a87bd 42px,#2f79b5 45px,#4c99c6 48px,#bddbea 51px,#fce2d2 54px,#de735c 57px,#c53e3d 60px,#e48066 63px,#f9eee7 66px,#93c6de 69px,#3885bc 72px,#4393c3 75px,#bbdaea 78px,#fdddcb 81px,#d86551 84px,#a51429 87px,#8a0b25 90px,#b61f2e 93px)"></div><div style="top:111px;background:linear-gradient(90deg,#d4e6f1 0px,#68abd0 3px,#337eb8 6px,#307ab6 9px,#59a1ca 12px,#c7e0ed 15px,#fce2d2 18px,#e58368 21px,#bf3338 24px,#b61f2e 27px,#cf5246 30px,#f7b596 33px,#f0f4f6 36px,#93c6de 39px,#3b88be 42px,#2f79b5 45px,#4695c4 48px,#b6d7e8 51px,#fae7dc 54px,#e48066 57px,#cb4942 60px,#e6866a 63px,#f9eee7 66px,#96c7df 69px,#3885bc 72px,#408fc1 75px,#b6d7e8 78px,#fcdecd 81px,#d86551 84px,#a81529 87px,#900d26 90px,#b72230 93px)"></div><div style="top:112px;background:linear-gradient(90deg,#d4e6f1 0px,#68abd0 3px,#327cb7 6px,#2e77b5 9px,#529dc8 12px,#c2ddec 15px,#fbe4d6 18px,#e6866a 21px,#bf3338 24px,#b41c2d 27px,#cc4c44 30px,#f6af8e 33px,#f5f6f7 36px,#9bc9e0 39px,#3e8cbf 42px,#2f79b5 45px,#4393c3 48px,#acd2e5 51px,#f9ede5 54px,#eb9172 57px,#d05548 60px,#e98b6e 63px,#f9ede5 66px,#98c8e0 69px,#3a87bd 72px,#3f8ec0 75px,#b1d5e7 78px,#fcdfcf 81px,#d86551 84px,#ae172a 87px,#960f27 90px,#ba2832 93px)"></div><div style="top:113px;background:linear-gradient(90deg,#d5e7f1 0px,#68abd0 3px,#307ab6 6px,#2b73b3 9px,#4c99c6 12px,#bbdaea 15px,#fae7dc 18px,#e98b6e 21px,#bf3338 24px,#b3192c 27px,#c94741 30px,#f5aa89 33px,#f7f5f4 36px,#a0cce2 39px,#3f8ec0 42px,#2f79b5 45px,#408fc1 48px,#a5cee3 51px,#f8f3f0 54px,#f3a481 57px,#d86551 60px,#eb9172 63px,#f9ede5 66px,#9dcbe1 69px,#3b88be 72px,#3f8ec0 75px,#aed3e6 78px,#fce2d2 81px,#db6b55 84px,#b41c2d 87px,#9f1228 90px,#be3036 93px)"></div><div style="top:114px;background:linear-gradient(90deg,#d7e8f1 0px,#68abd0 3px,#2f79b5 6px,#2a71b2 9px,#4695c4 12px,#b6d7e8 15px,#fae9df 18px,#ea8e70 21px,#c13639 24px,#b3192c 27px,#c84440 30px,#f3a481 33px,#f8f3f0 36px,#a5cee3 39px,#408fc1 42px,#2f79b5 45px,#3e8cbf 48px,#9bc9e0 51px,#f5f6f7 54px,#f6b394 57px,#de735c 60px,#ef9979 63px,#f9ebe3 66px,#a2cde3 69px,#3f8ec0 72px,#4291c2 75px,#aed3e6 78px,#fbe5d8 81px,#df765e 84px,#bb2a34 87px,#ab162a 90px,#c13639 93px)"></div><div style="top:115px;background:linear-gradient(90deg,#d8e9f1 0px,#6bacd1 3px,#2f79b5 6px,#276eb0 9px,#408fc1 12px,#aed3e6 15px,#f9ebe3 18px,#ec9374 21px,#c2383a 24px,#b3192c 27px,#c53e3d 30px,#f19e7d 33px,#f9f0eb 36px,#a9d1e5 39px,#4291c2 42px,#2e77b5 45px,#3b88be 48px,#90c4dd 51px,#ecf2f5 54px,#f9c2a7 57px,#e58368 60px,#f19e7d 63px,#faeae1 66px,#a9d1e5 69px,#4695c4 72px,#4695c4 75px,#acd2e5 78px,#fae8de 81px,#e6866a 84px,#c2383a 87px,#b61f2e 90px,#c6413e 93px)"></div><div style="top:116px;background:linear-gradient(90deg,#dae9f2 0px,#6bacd1 3px,#2e77b5 6px,#266caf 9px,#3e8cbf 12px,#a9d1e5 15px,#f9efe9 18px,#ef9979 21px,#c43b3c 24px,#b3192c 27px,#c43b3c 30px,#ef9979 33px,#f9eee7 36px,#aed3e6 39px,#4393c3 42px,#2e77b5 45px,#3885bc 48px,#84bcd9 51px,#e3edf3 54px,#fbd0b9 57px,#ec9374 60px,#f4a683 63px,#fae9df 66px,#b3d6e8 69px,#529dc8 72px,#4f9bc7 75px,#aed3e6 78px,#f9ebe3 81px,#ef9979 84px,#cb4942 87px,#bd2d35 90px,#cc4c44 93px)"></div><div style="top:117px;background:linear-gradient(90deg,#dbeaf2 0px,#6eaed2 3px,#2e77b5 6px,#2369ad 9px,#3b88be 12px,#a2cde3 15px,#f8f1ed 18px,#f19e7d 21px,#c53e3d 24px,#b3192c 27px,#c2383a 30px,#ee9677 33px,#f9ebe3 36px,#b3d6e8 39px,#4695c4 42px,#2e77b5 45px,#3480b9 48px,#78b4d5 51px,#dbeaf2 54px,#fdddcb 57px,#f2a17f 60px,#f5aa89 63px,#fae7dc 66px,#c0dceb 69px,#65a9cf 72px,#5ca3cb 75px,#b1d5e7 78px,#f9efe9 81px,#f5a886 84px,#d35a4a 87px,#c53e3d 90px,#d25849 93px)"></div><div style="top:118px;background:linear-gradient(90deg,#deebf2 0px,#6eaed2 3px,#2c75b4 6px,#2267ac 9px,#3885bc 12px,#9dcbe1 15px,#f8f4f2 18px,#f3a481 21px,#c6413e 24px,#b3192c 27px,#c13639 30px,#eb9172 33px,#fae9df 36px,#b8d8e9 39px,#4997c5 42px,#2c75b4 45px,#337eb8 48px,#6bacd1 51px,#d2e6f0 54px,#fbe4d6 57px,#f5ac8b 60px,#f6af8e 63px,#fbe5d8 66px,#cce2ef 69px,#78b4d5 72px,#6eaed2 75px,#b6d7e8 78px,#f8f2ef 81px,#f7b596 84px,#dc6e57 87px,#ce4f45 90px,#d7634f 93px)"></div><div style="top:119px;background:linear-gradient(90deg,#e1edf3 0px,#71b0d3 3px,#2e77b5 6px,#2065ab 9px,#3681ba 12px,#96c7df 15px,#f7f6f6 18px,#f5aa89 21px,#c94741 24px,#b3192c 27px,#c13639 30px,#ea8e70 33px,#fae7dc 36px,#bbdaea 39px,#4c99c6 42px,#2c75b4 45px,#307ab6 48px,#62a7ce 51px,#cae1ee 54px,#faeae1 57px,#f7b799 60px,#f6b191 63px,#fce2d2 66px,#d7e8f1 69px,#8dc2dc 72px,#81bad8 75px,#bbdaea 78px,#f7f5f4 81px,#f9c2a7 84px,#e48066 87px,#d6604d 90px,#dd7059 93px)"></div><div style="top:120px;background:linear-gradient(90deg,#e3edf3 0px,#75b2d4 3px,#2e77b5 6px,#2065ab 9px,#3480b9 12px,#90c4dd 15px,#f3f5f6 18px,#f6af8e 21px,#cc4c44 24px,#b41c2d 27px,#c13639 30px,#e8896c 33px,#fbe6da 36px,#c0dceb 39px,#4f9bc7 42px,#2c75b4 45px,#2f79b5 48px,#59a1ca 51px,#bddbea 54px,#f9f0eb 57px,#f9c2a7 60px,#f6b394 63px,#fcdecd 66px,#e0ecf3 69px,#a2cde3 72px,#93c6de 75px,#c0dceb 78px,#f5f6f7 81px,#fbceb7 84px,#ec9374 87px,#de735c 90px,#e37e64 93px)"></div><div style="top:121px;background:linear-gradient(90deg,#e6eff4 0px,#7bb6d6 3px,#2e77b5 6px,#1f63a8 9px,#327cb7 12px,#8ac0db 15px,#f0f4f6 18px,#f6b394 21px,#ce4f45 24px,#b61f2e 27px,#c13639 30px,#e8896c 33px,#fbe4d6 36px,#c5dfec 39px,#569fc9 42px,#2c75b4 45px,#2e77b5 48px,#529dc8 51px,#b6d7e8 54px,#f8f4f2 57px,#facab1 60px,#f7b596 63px,#fddbc7 66px,#eaf1f5 69px,#b3d6e8 72px,#a2cde3 75px,#c2ddec 78px,#f0f4f6 81px,#fddbc7 84px,#f5a886 87px,#e6866a 90px,#e98b6e 93px)"></div><div style="top:122px;background:linear-gradient(90deg,#e9f0f4 0px,#7eb8d7 3px,#2f79b5 6px,#1f63a8 9px,#307ab6 12px,#84bcd9 15px,#ecf2f5 18px,#f7b99c 21px,#d05548 24px,#b72230 27px,#c13639 30px,#e6866a 33px,#fbe3d4 36px,#c7e0ed 39px,#59a1ca 42px,#2e77b5 45px,#2c75b4 48px,#4c99c6 51px,#aed3e6 54px,#f5f6f7 57px,#fbd0b9 60px,#f7b596 63px,#fcd5bf 66px,#f3f5f6 69px,#c7e0ed 72px,#aed3e6 75px,#c5dfec 78px,#eaf1f5 81px,#fbe3d4 84px,#f7b99c 87px,#ef9979 90px,#ef9979 93px)"></div><div style="top:123px;background:linear-gradient(90deg,#ecf2f5 0px,#84bcd9 3px,#307ab6 6px,#1f63a8 9px,#2f79b5 12px,#7eb8d7 15px,#e9f0f4 18px,#f8bda1 21px,#d35a4a 24px,#b82531 27px,#c13639 30px,#e58368 33px,#fce2d2 36px,#cce2ef 39px,#5ca3cb 42px,#2f79b5 45px,#2c75b4 48px,#4997c5 51px,#a9d1e5 54px,#f0f4f6 57px,#fcd7c2 60px,#f7b596 63px,#fbccb4 66px,#f8f3f0 69px,#d4e6f1 72px,#bbdaea 75px,#c7e0ed 78px,#e6eff4 81px,#fae9df 84px,#fac8af 87px,#f5aa89 90px,#f5a886 93px)"></div><div style="top:124px;background:linear-gradient(90deg,#f0f4f6 0px,#8ac0db 3px,#327cb7 6px,#1f63a8 9px,#2e77b5 12px,#78b4d5 15px,#e6eff4 18px,#f9c2a7 21px,#d6604d 24px,#bb2a34 27px,#c13639 30px,#e58368 33px,#fcdfcf 36px,#cfe4ef 39px,#62a7ce 42px,#307ab6 45px,#2c75b4 48px,#4695c4 51px,#a5cee3 54px,#eff3f5 57px,#fdd9c4 60px,#f7b596 63px,#f9c6ac 66px,#f9eee7 69px,#ddebf2 72px,#c2ddec 75px,#c5dfec 78px,#e0ecf3 81px,#f8f1ed 84px,#fdd9c4 87px,#f7b99c 90px,#f6b394 93px)"></div><div style="top:125px;background:linear-gradient(90deg,#f3f5f6 0px,#90c4dd 3px,#337eb8 6px,#1f63a8 9px,#2c75b4 12px,#75b2d4 15px,#e1edf3 18px,#f9c6ac 21px,#d86551 24px,#bd2d35 27px,#c2383a 30px,#e48066 33px,#fcdecd 36px,#d2e6f0 39px,#65a9cf 42px,#327cb7 45px,#2e77b5 48px,#4695c4 51px,#a2cde3 54px,#ecf2f5 57px,#fddcc9 60px,#f7b596 63px,#f8bfa4 66px,#fae8de 69px,#e4eef4 72px,#cae1ee 75px,#c5dfec 78px,#d8e9f1 81px,#f5f6f7 84px,#fbe3d4 87px,#facab1 90px,#f8bda1 93px)"></div><div style="top:126px;background:linear-gradient(90deg,#f6f7f7 0px,#96c7df 3px,#3480b9 6px,#1f63a8 9px,#2c75b4 12px,#6eaed2 15px,#deebf2 18px,#fbccb4 21px,#db6b55 24px,#be3036 27px,#c43b3c 30px,#e48066 33px,#fdddcb 36px,#d4e6f1 39px,#6bacd1 42px,#3480b9 45px,#2f79b5 48px,#4695c4 51px,#a2cde3 54px,#ecf2f5 57px,#fddcc9 60px,#f6b394 63px,#f7b99c 66px,#fbe4d6 69px,#eaf1f5 72px,#cfe4ef 75px,#c0dceb 78px,#d2e6f0 81px,#eaf1f5 84px,#f9ebe3 87px,#fdd9c4 90px,#fac8af 93px)"></div><div style="top:127px;background:linear-gradient(90deg,#f7f5f4 0px,#9bc9e0 3px,#3783bb 6px,#2065ab 9px,#2b73b3 12px,#6bacd1 15px,#ddebf2 18px,#fbd0b9 21px,#dd7059 24px,#c13639 27px,#c43b3c 30px,#e48066 33px,#fddcc9 36px,#d7e8f1 39px,#71b0d3 42px,#3681ba 45px,#307ab6 48px,#4997c5 51px,#a5cee3 54px,#ecf2f5 57px,#fddcc9 60px,#f6b394 63px,#f7b596 66px,#fcdfcf 69px,#eff3f5 72px,#d1e5f0 75px,#bbdaea 78px,#c7e0ed 81px,#e0ecf3 84px,#f8f4f2 87px,#fce2d2 90px,#fcd3bc 93px)"></div><div style="top:128px;background:linear-gradient(90deg,#f8f2ef 0px,#a0cce2 3px,#3a87bd 6px,#2267ac 9px,#2b73b3 12px,#68abd0 15px,#dae9f2 18px,#fcd5bf 21px,#df765e 24px,#c43b3c 27px,#c53e3d 30px,#e48066 33px,#fddcc9 36px,#d8e9f1 39px,#78b4d5 42px,#3885bc 45px,#337eb8 48px,#4f9bc7 51px,#a7d0e4 54px,#edf2f5 57px,#fddbc7 60px,#f6b191 63px,#f6b191 66px,#fddcc9 69px,#f3f5f6 72px,#d2e6f0 75px,#b6d7e8 78px,#b8d8e9 81px,#d5e7f1 84px,#f0f4f6 87px,#fae9df 90px,#fddcc9 93px)"></div><div style="top:129px;background:linear-gradient(90deg,#f9f0eb 0px,#a5cee3 3px,#3c8abe 6px,#2369ad 9px,#2c75b4 12px,#68abd0 15px,#d8e9f1 18px,#fdd9c4 21px,#e27b62 24px,#c53e3d 27px,#c6413e 30px,#e48066 33px,#fddbc7 36px,#dbeaf2 39px,#7eb8d7 42px,#3c8abe 45px,#3783bb 48px,#569fc9 51px,#acd2e5 54px,#f0f4f6 57px,#fdd9c4 60px,#f6af8e 63px,#f5ac8b 66px,#fdd9c4 69px,#f6f7f7 72px,#d2e6f0 75px,#aed3e6 78px,#acd2e5 81px,#c7e0ed 84px,#e4eef4 87px,#f9f0eb 90px,#fce0d0 93px)"></div><div style="top:130px;background:linear-gradient(90deg,#f9eee7 0px,#acd2e5 3px,#3f8ec0 6px,#266caf 9px,#2c75b4 12px,#65a9cf 15px,#d5e7f1 18px,#fddcc9 21px,#e48066 24px,#c84440 27px,#c94741 30px,#e58368 33px,#fddbc7 36px,#ddebf2 39px,#84bcd9 42px,#3f8ec0 45px,#3a87bd 48px,#5fa5cd 51px,#b3d6e8 54px,#f3f5f6 57px,#fcd3bc 60px,#f5ac8b 63px,#f5aa89 66px,#fcd5bf 69px,#f7f5f4 72px,#d2e6f0 75px,#a7d0e4 78px,#a0cce2 81px,#b6d7e8 84px,#dae9f2 87px,#f7f6f6 90px,#fbe5d8 93px)"></div><div style="top:131px;background:linear-gradient(90deg,#f9ebe3 0px,#b1d5e7 3px,#4291c2 6px,#276eb0 9px,#2e77b5 12px,#65a9cf 15px,#d4e6f1 18px,#fdddcb 21px,#e6866a 24px,#cb4942 27px,#cb4942 30px,#e58368 33px,#fdd9c4 36px,#deebf2 39px,#8ac0db 42px,#4393c3 45px,#3e8cbf 48px,#68abd0 51px,#bbdaea 54px,#f7f6f6 57px,#fbceb7 60px,#f5a886 63px,#f5a886 66px,#fbceb7 69px,#f8f3f0 72px,#d1e5f0 75px,#a0cce2 78px,#90c4dd 81px,#a5cee3 84px,#cfe4ef 87px,#eff3f5 90px,#fae8de 93px)"></div><div style="top:132px;background:linear-gradient(90deg,#fae9df 0px,#b6d7e8 3px,#4695c4 6px,#2a71b2 9px,#2f79b5 12px,#65a9cf 15px,#d2e6f0 18px,#fcdfcf 21px,#e98b6e 24px,#ce4f45 27px,#cc4c44 30px,#e6866a 33px,#fdd9c4 36px,#e0ecf3 39px,#90c4dd 42px,#4997c5 45px,#4291c2 48px,#71b0d3 51px,#c2ddec 54px,#f8f2ef 57px,#fac8af 60px,#f2a17f 63px,#f2a17f 66px,#facab1 69px,#f8f2ef 72px,#d1e5f0 75px,#98c8e0 78px,#7eb8d7 81px,#93c6de 84px,#c0dceb 87px,#e7f0f4 90px,#f9ede5 93px)"></div><div style="top:133px;background:linear-gradient(90deg,#fae7dc 0px,#bddbea 3px,#4c99c6 6px,#2c75b4 9px,#307ab6 12px,#65a9cf 15px,#d2e6f0 18px,#fce0d0 21px,#ea8e70 24px,#cf5246 27px,#ce4f45 30px,#e8896c 33px,#fdd9c4 36px,#e1edf3 39px,#96c7df 42px,#529dc8 45px,#4997c5 48px,#7eb8d7 51px,#cce2ef 54px,#f9efe9 57px,#f8bfa4 60px,#ef9979 63px,#f09c7b 66px,#f9c4a9 69px,#f9f0eb 72px,#cfe4ef 75px,#8dc2dc 78px,#6bacd1 81px,#81bad8 84px,#b1d5e7 87px,#e0ecf3 90px,#f9efe9 93px)"></div><div style="top:134px;background:linear-gradient(90deg,#fbe5d8 0px,#c2ddec 3px,#529dc8 6px,#2f79b5 9px,#327cb7 12px,#68abd0 15px,#d1e5f0 18px,#fce2d2 21px,#ec9374 24px,#d25849 27px,#d05548 30px,#e8896c 33px,#fdd9c4 36px,#e3edf3 39px,#98c8e0 42px,#59a1ca 45px,#569fc9 48px,#87beda 51px,#d4e6f1 54px,#faeae1 57px,#f7b799 60px,#ea8e70 63px,#ec9374 66px,#f8bfa4 69px,#f9efe9 72px,#cce2ef 75px,#81bad8 78px,#59a1ca 81px,#6eaed2 84px,#a2cde3 87px,#d8e9f1 90px,#f8f2ef 93px)"></div><div style="top:135px;background:linear-gradient(90deg,#fbe3d4 0px,#c7e0ed 3px,#5ca3cb 6px,#327cb7 9px,#3480b9 12px,#68abd0 15px,#d1e5f0 18px,#fbe3d4 21px,#ef9979 24px,#d55d4c 27px,#d25849 30px,#e98b6e 33px,#fdd9c4 36px,#e4eef4 39px,#9dcbe1 42px,#62a7ce 45px,#5fa5cd 48px,#93c6de 51px,#dae9f2 54px,#fbe5d8 57px,#f6af8e 60px,#e58368 63px,#e8896c 66px,#f7b99c 69px,#f9ede5 72px,#cce2ef 75px,#75b2d4 78px,#4997c5 81px,#5fa5cd 84px,#96c7df 87px,#d2e6f0 90px,#f8f4f2 93px)"></div><div style="top:136px;background:linear-gradient(90deg,#fce2d2 0px,#cce2ef 3px,#62a7ce 6px,#3480b9 9px,#3681ba 12px,#6bacd1 15px,#d1e5f0 18px,#fbe4d6 21px,#f09c7b 24px,#d6604d 27px,#d55d4c 30px,#eb9172 33px,#fddbc7 36px,#e4eef4 39px,#a0cce2 42px,#68abd0 45px,#68abd0 48px,#9dcbe1 51px,#e0ecf3 54px,#fce0d0 57px,#f4a683 60px,#e17860 63px,#e37e64 66px,#f6b394 69px,#faeae1 72px,#cce2ef 75px,#71b0d3 78px,#408fc1 81px,#529dc8 84px,#8ac0db 87px,#cce2ef 90px,#f7f5f4 93px)"></div><div style="top:137px;background:linear-gradient(90deg,#fcdfcf 0px,#d1e5f0 3px,#68abd0 6px,#3783bb 9px,#3885bc 12px,#6eaed2 15px,#d1e5f0 18px,#fbe5d8 21px,#f19e7d 24px,#d86551 27px,#d7634f 30px,#ec9374 33px,#fddbc7 36px,#e6eff4 39px,#a2cde3 42px,#6eaed2 45px,#71b0d3 48px,#a7d0e4 51px,#e6eff4 54px,#fddcc9 57px,#ef9979 60px,#dc6e57 63px,#de735c 66px,#f5aa89 69px,#fae8de 72px,#d1e5f0 75px,#71b0d3 78px,#3f8ec0 81px,#4997c5 84px,#7eb8d7 87px,#c5dfec 90px,#f6f7f7 93px)"></div><div style="top:138px;background:linear-gradient(90deg,#fcdecd 0px,#d4e6f1 3px,#6eaed2 6px,#3a87bd 9px,#3b88be 12px,#71b0d3 15px,#d1e5f0 18px,#fbe5d8 21px,#f2a17f 24px,#da6853 27px,#d86551 30px,#ee9677 33px,#fddcc9 36px,#e4eef4 39px,#a5cee3 42px,#75b2d4 45px,#78b4d5 48px,#aed3e6 51px,#ecf2f5 54px,#fcd3bc 57px,#ea8e70 60px,#d7634f 63px,#db6b55 66px,#f3a481 69px,#fbe5d8 72px,#d2e6f0 75px,#78b4d5 78px,#408fc1 81px,#4393c3 84px,#78b4d5 87px,#c0dceb 90px,#f5f6f7 93px)"></div><div style="top:139px;background:linear-gradient(90deg,#fdddcb 0px,#d7e8f1 3px,#78b4d5 6px,#3c8abe 9px,#3c8abe 12px,#75b2d4 15px,#d2e6f0 18px,#fbe5d8 21px,#f3a481 24px,#dc6e57 27px,#db6b55 30px,#f09c7b 33px,#fdddcb 36px,#e4eef4 39px,#a7d0e4 42px,#7bb6d6 45px,#81bad8 48px,#b6d7e8 51px,#f2f5f6 54px,#facab1 57px,#e58368 60px,#d25849 63px,#d6604d 66px,#f09c7b 69px,#fbe3d4 72px,#d5e7f1 75px,#7bb6d6 78px,#408fc1 81px,#408fc1 84px,#6eaed2 87px,#bbdaea 90px,#f3f5f6 93px)"></div><div style="top:140px;background:linear-gradient(90deg,#fdddcb 0px,#d8e9f1 3px,#7eb8d7 6px,#3f8ec0 9px,#3f8ec0 12px,#7bb6d6 15px,#d4e6f1 18px,#fbe6da 21px,#f4a683 24px,#dd7059 27px,#dd7059 30px,#f19e7d 33px,#fcdecd 36px,#e4eef4 39px,#a7d0e4 42px,#7eb8d7 45px,#87beda 48px,#bddbea 51px,#f6f7f7 54px,#f9c2a7 57px,#e17860 60px,#cc4c44 63px,#d05548 66px,#ec9374 69px,#fcdfcf 72px,#d8e9f1 75px,#81bad8 78px,#4291c2 81px,#3f8ec0 84px,#6bacd1 87px,#b6d7e8 90px,#f2f5f6 93px)"></div><div style="top:141px;background:linear-gradient(90deg,#fddcc9 0px,#dae9f2 3px,#81bad8 6px,#4393c3 9px,#4291c2 12px,#7eb8d7 15px,#d4e6f1 18px,#fbe6da 21px,#f5a886 24px,#df765e 27px,#de735c 30px,#f3a481 33px,#fcdfcf 36px,#e3edf3 39px,#a7d0e4 42px,#7eb8d7 45px,#8ac0db 48px,#c2ddec 51px,#f8f4f2 54px,#f8bb9e 57px,#dc6e57 60px,#c6413e 63px,#cc4c44 66px,#e8896c 69px,#fddcc9 72px,#ddebf2 75px,#87beda 78px,#4393c3 81px,#3f8ec0 84px,#68abd0 87px,#b3d6e8 90px,#f2f5f6 93px)"></div><div style="top:142px;background:linear-gradient(90deg,#fddcc9 0px,#dbeaf2 3px,#87beda 6px,#4997c5 9px,#4695c4 12px,#84bcd9 15px,#d5e7f1 18px,#fbe5d8 21px,#f5aa89 24px,#e17860 27px,#e17860 30px,#f5a886 33px,#fce2d2 36px,#e1edf3 39px,#a7d0e4 42px,#81bad8 45px,#90c4dd 48px,#c7e0ed 51px,#f8f1ed 54px,#f7b596 57px,#d86551 60px,#c2383a 63px,#c6413e 66px,#e58368 69px,#fdd9c4 72px,#e0ecf3 75px,#8ac0db 78px,#4393c3 81px,#3e8cbf 84px,#65a9cf 87px,#b3d6e8 90px,#f2f5f6 93px)"></div><div style="top:143px;background:linear-gradient(90deg,#fddcc9 0px,#ddebf2 3px,#8dc2dc 6px,#4f9bc7 9px,#4c99c6 12px,#87beda 15px,#d7e8f1 18px,#fbe5d8 21px,#f5aa89 24px,#e27b62 27px,#e27b62 30px,#f5aa89 33px,#fbe4d6 36px,#deebf2 39px,#a5cee3 42px,#81bad8 45px,#90c4dd 48px,#cae1ee 51px,#f9efe9 54px,#f6b191 57px,#d55d4c 60px,#be3036 63px,#c43b3c 66px,#e27b62 69px,#fcd5bf 72px,#e3edf3 75px,#90c4dd 78px,#4695c4 81px,#3f8ec0 84px,#65a9cf 87px,#b3d6e8 90px,#f3f5f6 93px)"></div><div style="top:144px;background:linear-gradient(90deg,#fddcc9 0px,#deebf2 3px,#90c4dd 6px,#529dc8 9px,#529dc8 12px,#8dc2dc 15px,#dae9f2 18px,#fbe5d8 21px,#f5ac8b 24px,#e37e64 27px,#e48066 30px,#f6af8e 33px,#fbe6da 36px,#ddebf2 39px,#a2cde3 42px,#7eb8d7 45px,#90c4dd 48px,#cce2ef 51px,#f9eee7 54px,#f5ac8b 57px,#d25849 60px,#bb2a34 63px,#bf3338 66px,#df765e 69px,#fbd0b9 72px,#e4eef4 75px,#93c6de 78px,#4997c5 81px,#3f8ec0 84px,#65a9cf 87px,#b3d6e8 90px,#f3f5f6 93px)"></div><div style="top:145px;background:linear-gradient(90deg,#fddcc9 0px,#e0ecf3 3px,#93c6de 6px,#59a1ca 9px,#59a1ca 12px,#93c6de 15px,#dbeaf2 18px,#fbe4d6 21px,#f5ac8b 24px,#e48066 27px,#e58368 30px,#f6b394 33px,#fae7dc 36px,#dae9f2 39px,#9dcbe1 42px,#7bb6d6 45px,#90c4dd 48px,#cfe4ef 51px,#f9ede5 54px,#f5aa89 57px,#cf5246 60px,#b82531 63px,#be3036 66px,#dd7059 69px,#fbccb4 72px,#e7f0f4 75px,#98c8e0 78px,#4c99c6 81px,#408fc1 84px,#65a9cf 87px,#b6d7e8 90px,#f5f6f7 93px)"></div><div style="top:146px;background:linear-gradient(90deg,#fdddcb 0px,#e0ecf3 3px,#96c7df 6px,#5fa5cd 9px,#5fa5cd 12px,#98c8e0 15px,#ddebf2 18px,#fbe3d4 21px,#f5ac8b 24px,#e58368 27px,#e8896c 30px,#f7b799 33px,#fae9df 36px,#d7e8f1 39px,#9bc9e0 42px,#78b4d5 45px,#8dc2dc 48px,#cce2ef 51px,#f9ede5 54px,#f5a886 57px,#cf5246 60px,#b72230 63px,#bb2a34 66px,#dc6e57 69px,#facab1 72px,#e9f0f4 75px,#9bc9e0 78px,#4f9bc7 81px,#408fc1 84px,#68abd0 87px,#b8d8e9 90px,#f6f7f7 93px)"></div><div style="top:147px;background:linear-gradient(90deg,#fcdecd 0px,#e0ecf3 3px,#98c8e0 6px,#62a7ce 9px,#65a9cf 12px,#9bc9e0 15px,#deebf2 18px,#fbe3d4 21px,#f5ac8b 24px,#e58368 27px,#e98b6e 30px,#f8bb9e 33px,#f9ede5 36px,#d4e6f1 39px,#96c7df 42px,#71b0d3 45px,#8ac0db 48px,#cae1ee 51px,#f9ede5 54px,#f5a886 57px,#ce4f45 60px,#b61f2e 63px,#bb2a34 66px,#db6b55 69px,#fac8af 72px,#eaf1f5 75px,#9dcbe1 78px,#529dc8 81px,#4291c2 84px,#6bacd1 87px,#bbdaea 90px,#f7f5f4 93px)"></div><div style="top:148px;background:linear-gradient(90deg,#fcdfcf 0px,#e0ecf3 3px,#9bc9e0 6px,#65a9cf 9px,#68abd0 12px,#a0cce2 15px,#e1edf3 18px,#fce2d2 21px,#f5aa89 24px,#e6866a 27px,#ea8e70 30px,#f8bda1 33px,#f9efe9 36px,#d1e5f0 39px,#8dc2dc 42px,#6bacd1 45px,#84bcd9 48px,#c7e0ed 51px,#f9eee7 54px,#f5aa89 57px,#cf5246 60px,#b61f2e 63px,#ba2832 66px,#db6b55 69px,#f9c6ac 72px,#ecf2f5 75px,#a0cce2 78px,#569fc9 81px,#4393c3 84px,#6eaed2 87px,#bddbea 90px,#f8f4f2 93px)"></div><div style="top:149px;background:linear-gradient(90deg,#fce0d0 0px,#deebf2 3px,#9bc9e0 6px,#68abd0 9px,#6eaed2 12px,#a5cee3 15px,#e3edf3 18px,#fce0d0 21px,#f5aa89 24px,#e6866a 27px,#eb9172 30px,#f9c2a7 33px,#f8f1ed 36px,#cae1ee 39px,#87beda 42px,#65a9cf 45px,#7eb8d7 48px,#c2ddec 51px,#f9f0eb 54px,#f5ac8b 57px,#d05548 60px,#b72230 63px,#bb2a34 66px,#db6b55 69px,#f9c6ac 72px,#ecf2f5 75px,#a0cce2 78px,#59a1ca 81px,#4997c5 84px,#75b2d4 87px,#c2ddec 90px,#f8f2ef 93px)"></div><div style="top:150px;background:linear-gradient(90deg,#fce2d2 0px,#deebf2 3px,#9dcbe1 6px,#6bacd1 9px,#71b0d3 12px,#a7d0e4 15px,#e6eff4 18px,#fcdecd 21px,#f5a886 24px,#e6866a 27px,#ec9374 30px,#f9c4a9 33px,#f8f3f0 36px,#c5dfec 39px,#81bad8 42px,#5ca3cb 45px,#78b4d5 48px,#bddbea 51px,#f8f2ef 54px,#f6b191 57px,#d25849 60px,#b82531 63px,#bd2d35 66px,#dc6e57 69px,#f9c6ac 72px,#ecf2f5 75px,#a2cde3 78px,#5ca3cb 81px,#4c99c6 84px,#78b4d5 87px,#c5dfec 90px,#f8f1ed 93px)"></div><div style="top:151px;background:linear-gradient(90deg,#fbe4d6 0px,#ddebf2 3px,#9dcbe1 6px,#6eaed2 9px,#78b4d5 12px,#acd2e5 15px,#e7f0f4 18px,#fdddcb 21px,#f5a886 24px,#e6866a 27px,#ee9677 30px,#fac8af 33px,#f8f4f2 36px,#c0dceb 39px,#78b4d5 42px,#569fc9 45px,#6eaed2 48px,#b6d7e8 51px,#f8f4f2 54px,#f7b596 57px,#d55d4c 60px,#bb2a34 63px,#bf3338 66px,#dd7059 69px,#fac8af 72px,#ecf2f5 75px,#a2cde3 78px,#5fa5cd 81px,#4f9bc7 84px,#7eb8d7 87px,#cae1ee 90px,#f9efe9 93px)"></div><div style="top:152px;background:linear-gradient(90deg,#fbe5d8 0px,#dbeaf2 3px,#9dcbe1 6px,#71b0d3 9px,#7bb6d6 12px,#aed3e6 15px,#eaf1f5 18px,#fddcc9 21px,#f4a683 24px,#e6866a 27px,#ee9677 30px,#facab1 33px,#f7f6f6 36px,#bbdaea 39px,#6eaed2 42px,#4c99c6 45px,#65a9cf 48px,#aed3e6 51px,#f6f7f7 54px,#f8bb9e 57px,#d86551 60px,#bf3338 63px,#c2383a 66px,#de735c 69px,#facab1 72px,#eaf1f5 75px,#a2cde3 78px,#5fa5cd 81px,#529dc8 84px,#81bad8 87px,#cfe4ef 90px,#f9ede5 93px)"></div><div style="top:153px;background:linear-gradient(90deg,#fae7dc 0px,#dae9f2 3px,#9bc9e0 6px,#71b0d3 9px,#7eb8d7 12px,#b3d6e8 15px,#ecf2f5 18px,#fddbc7 21px,#f3a481 24px,#e6866a 27px,#ee9677 30px,#fbccb4 33px,#f5f6f7 36px,#b6d7e8 39px,#68abd0 42px,#4393c3 45px,#5ca3cb 48px,#a7d0e4 51px,#f0f4f6 54px,#f9c2a7 57px,#dc6e57 60px,#c43b3c 63px,#c53e3d 66px,#e27b62 69px,#fbceb7 72px,#e9f0f4 75px,#a2cde3 78px,#62a7ce 81px,#569fc9 84px,#87beda 87px,#d2e6f0 90px,#faeae1 93px)"></div><div style="top:154px;background:linear-gradient(90deg,#fae8de 0px,#d8e9f1 3px,#9bc9e0 6px,#71b0d3 9px,#81bad8 12px,#b6d7e8 15px,#eff3f5 18px,#fcd7c2 21px,#f2a17f 24px,#e58368 27px,#ee9677 30px,#fbccb4 33px,#f3f5f6 36px,#b1d5e7 39px,#62a7ce 42px,#3f8ec0 45px,#529dc8 48px,#a0cce2 51px,#ecf2f5 54px,#facab1 57px,#e17860 60px,#c84440 63px,#c94741 66px,#e48066 69px,#fcd3bc 72px,#e7f0f4 75px,#a0cce2 78px,#62a7ce 81px,#59a1ca 84px,#8ac0db 87px,#d5e7f1 90px,#fae8de 93px)"></div><div style="top:155px;background:linear-gradient(90deg,#faeae1 0px,#d7e8f1 3px,#98c8e0 6px,#71b0d3 9px,#81bad8 12px,#b8d8e9 15px,#f0f4f6 18px,#fcd5bf 21px,#f19e7d 24px,#e48066 27px,#ee9677 30px,#fbceb7 33px,#f2f5f6 36px,#acd2e5 39px,#59a1ca 42px,#3c8abe 45px,#4997c5 48px,#96c7df 51px,#e6eff4 54px,#fcd3bc 57px,#e58368 60px,#ce4f45 63px,#cf5246 66px,#e8896c 69px,#fcd7c2 72px,#e6eff4 75px,#a0cce2 78px,#62a7ce 81px,#5ca3cb 84px,#90c4dd 87px,#d7e8f1 90px,#fbe6da 93px)"></div><div style="top:156px;background:linear-gradient(90deg,#f9ede5 0px,#d4e6f1 3px,#96c7df 6px,#71b0d3 9px,#84bcd9 12px,#bbdaea 15px,#f3f5f6 18px,#fbd0b9 21px,#ef9979 24px,#e37e64 27px,#ee9677 30px,#fbceb7 33px,#f0f4f6 36px,#a9d1e5 39px,#529dc8 42px,#3885bc 45px,#4291c2 48px,#8dc2dc 51px,#e1edf3 54px,#fdd9c4 57px,#e98b6e 60px,#d35a4a 63px,#d35a4a 66px,#eb9172 69px,#fddcc9 72px,#e3edf3 75px,#9dcbe1 78px,#62a7ce 81px,#5fa5cd 84px,#93c6de 87px,#dae9f2 90px,#fbe4d6 93px)"></div><div style="top:157px;background:linear-gradient(90deg,#f9efe9 0px,#d2e6f0 3px,#93c6de 6px,#71b0d3 9px,#84bcd9 12px,#bddbea 15px,#f5f6f7 18px,#fbceb7 21px,#ee9677 24px,#e27b62 27px,#ec9374 30px,#fbceb7 33px,#f0f4f6 36px,#a7d0e4 39px,#4f9bc7 42px,#3681ba 45px,#3e8cbf 48px,#84bcd9 51px,#dbeaf2 54px,#fcdecd 57px,#ee9677 60px,#d7634f 63px,#d86551 66px,#ef9979 69px,#fcdecd 72px,#e0ecf3 75px,#9bc9e0 78px,#62a7ce 81px,#62a7ce 84px,#98c8e0 87px,#ddebf2 90px,#fbe3d4 93px)"></div><div style="top:158px;background:linear-gradient(90deg,#f9f0eb 0px,#cfe4ef 3px,#90c4dd 6px,#71b0d3 9px,#84bcd9 12px,#c0dceb 15px,#f6f7f7 18px,#fbccb4 21px,#ec9374 24px,#e17860 27px,#eb9172 30px,#fbccb4 33px,#f0f4f6 36px,#a5cee3 39px,#4c99c6 42px,#337eb8 45px,#3b88be 48px,#7bb6d6 51px,#d7e8f1 54px,#fbe3d4 57px,#f2a17f 60px,#dc6e57 63px,#dd7059 66px,#f3a481 69px,#fce2d2 72px,#ddebf2 75px,#98c8e0 78px,#62a7ce 81px,#65a9cf 84px,#9bc9e0 87px,#e0ecf3 90px,#fce0d0 93px)"></div><div style="top:159px;background:linear-gradient(90deg,#f8f2ef 0px,#cce2ef 3px,#8dc2dc 6px,#6eaed2 9px,#84bcd9 12px,#c0dceb 15px,#f7f6f6 18px,#fac8af 21px,#ea8e70 24px,#df765e 27px,#ea8e70 30px,#fbccb4 33px,#f0f4f6 36px,#a5cee3 39px,#4997c5 42px,#327cb7 45px,#3885bc 48px,#71b0d3 51px,#d2e6f0 54px,#fae7dc 57px,#f5aa89 60px,#e17860 63px,#e27b62 66px,#f5aa89 69px,#fbe5d8 72px,#dae9f2 75px,#96c7df 78px,#62a7ce 81px,#65a9cf 84px,#a0cce2 87px,#e3edf3 90px,#fcdecd 93px)"></div><div style="top:160px;background:linear-gradient(90deg,#f8f4f2 0px,#c7e0ed 3px,#8ac0db 6px,#6bacd1 9px,#84bcd9 12px,#c2ddec 15px,#f7f5f4 18px,#f9c6ac 21px,#e98b6e 24px,#dd7059 27px,#e98b6e 30px,#facab1 33px,#f0f4f6 36px,#a5cee3 39px,#4695c4 42px,#307ab6 45px,#3681ba 48px,#6bacd1 51px,#cce2ef 54px,#faeae1 57px,#f6b394 60px,#e58368 63px,#e58368 66px,#f6b394 69px,#fae8de 72px,#d7e8f1 75px,#90c4dd 78px,#5fa5cd 81px,#68abd0 84px,#a2cde3 87px,#e6eff4 90px,#fddcc9 93px)"></div><div style="top:161px;background:linear-gradient(90deg,#f7f5f4 0px,#c5dfec 3px,#87beda 6px,#68abd0 9px,#84bcd9 12px,#c2ddec 15px,#f8f4f2 18px,#f9c4a9 21px,#e6866a 24px,#dc6e57 27px,#e8896c 30px,#fac8af 33px,#f2f5f6 36px,#a5cee3 39px,#4695c4 42px,#2f79b5 45px,#3480b9 48px,#65a9cf 51px,#c5dfec 54px,#f9eee7 57px,#f7b99c 60px,#ea8e70 63px,#ea8e70 66px,#f7b99c 69px,#f9ebe3 72px,#d4e6f1 75px,#8dc2dc 78px,#5fa5cd 81px,#68abd0 84px,#a5cee3 87px,#e7f0f4 90px,#fdd9c4 93px)"></div><div style="top:162px;background:linear-gradient(90deg,#f6f7f7 0px,#c0dceb 3px,#81bad8 6px,#68abd0 9px,#84bcd9 12px,#c2ddec 15px,#f8f3f0 18px,#f9c2a7 21px,#e58368 24px,#da6853 27px,#e58368 30px,#f9c4a9 33px,#f3f5f6 36px,#a7d0e4 39px,#4695c4 42px,#2f79b5 45px,#337eb8 48px,#62a7ce 51px,#c2ddec 54px,#f9f0eb 57px,#f8bfa4 60px,#ee9677 63px,#ee9677 66px,#f8bfa4 69px,#f9eee7 72px,#d1e5f0 75px,#8ac0db 78px,#5ca3cb 81px,#68abd0 84px,#a7d0e4 87px,#eaf1f5 90px,#fcd5bf 93px)"></div><div style="top:163px;background:linear-gradient(90deg,#f5f6f7 0px,#bddbea 3px,#7eb8d7 6px,#65a9cf 9px,#81bad8 12px,#c2ddec 15px,#f8f3f0 18px,#f8bfa4 21px,#e37e64 24px,#d86551 27px,#e37e64 30px,#f9c2a7 33px,#f6f7f7 36px,#a9d1e5 39px,#4997c5 42px,#2f79b5 45px,#337eb8 48px,#5fa5cd 51px,#bddbea 54px,#f8f2ef 57px,#f9c4a9 60px,#f09c7b 63px,#f19e7d 66px,#f9c6ac 69px,#f8f1ed 72px,#cce2ef 75px,#84bcd9 78px,#5ca3cb 81px,#6bacd1 84px,#a9d1e5 87px,#ecf2f5 90px,#fcd3bc 93px)"></div><div style="top:164px;background:linear-gradient(90deg,#f2f5f6 0px,#b8d8e9 3px,#7bb6d6 6px,#5fa5cd 9px,#7eb8d7 12px,#c2ddec 15px,#f8f2ef 18px,#f8bda1 21px,#e27b62 24px,#d6604d 27px,#e27b62 30px,#f8bda1 33px,#f7f6f6 36px,#acd2e5 39px,#4c99c6 42px,#307ab6 45px,#337eb8 48px,#5fa5cd 51px,#bbdaea 54px,#f8f3f0 57px,#fac8af 60px,#f3a481 63px,#f3a481 66px,#facab1 69px,#f8f3f0 72px,#c7e0ed 75px,#81bad8 78px,#59a1ca 81px,#6bacd1 84px,#acd2e5 87px,#edf2f5 90px,#fbceb7 93px)"></div><div style="top:165px;background:linear-gradient(90deg,#f0f4f6 0px,#b6d7e8 3px,#75b2d4 6px,#5ca3cb 9px,#7eb8d7 12px,#c2ddec 15px,#f8f2ef 18px,#f8bb9e 21px,#e17860 24px,#d55d4c 27px,#df765e 30px,#f7b99c 33px,#f8f4f2 36px,#b1d5e7 39px,#529dc8 42px,#327cb7 45px,#3480b9 48px,#5fa5cd 51px,#bbdaea 54px,#f8f4f2 57px,#facab1 60px,#f4a683 63px,#f5a886 66px,#fbceb7 69px,#f7f5f4 72px,#c2ddec 75px,#7eb8d7 78px,#59a1ca 81px,#6bacd1 84px,#acd2e5 87px,#f0f4f6 90px,#fbccb4 93px)"></div><div style="top:166px;background:linear-gradient(90deg,#eff3f5 0px,#b1d5e7 3px,#71b0d3 6px,#59a1ca 9px,#7bb6d6 12px,#c0dceb 15px,#f8f2ef 18px,#f7b99c 21px,#df765e 24px,#d25849 27px,#dd7059 30px,#f7b596 33px,#f8f2ef 36px,#b6d7e8 39px,#59a1ca 42px,#3480b9 45px,#3681ba 48px,#62a7ce 51px,#bbdaea 54px,#f8f4f2 57px,#fbccb4 60px,#f5aa89 63px,#f5ac8b 66px,#fcd3bc 69px,#f6f7f7 72px,#c0dceb 75px,#7bb6d6 78px,#569fc9 81px,#6bacd1 84px,#aed3e6 87px,#f2f5f6 90px,#fac8af 93px)"></div><div style="top:167px;background:linear-gradient(90deg,#edf2f5 0px,#aed3e6 3px,#6eaed2 6px,#569fc9 9px,#78b4d5 12px,#c0dceb 15px,#f8f2ef 18px,#f7b99c 21px,#de735c 24px,#d05548 27px,#db6b55 30px,#f6b191 33px,#f9f0eb 36px,#bddbea 39px,#5fa5cd 42px,#3783bb 45px,#3885bc 48px,#65a9cf 51px,#bddbea 54px,#f8f4f2 57px,#fbccb4 60px,#f5aa89 63px,#f6af8e 66px,#fcd7c2 69px,#f5f6f7 72px,#bbdaea 75px,#78b4d5 78px,#529dc8 81px,#6bacd1 84px,#aed3e6 87px,#f2f5f6 90px,#f9c6ac 93px)"></div><div style="top:168px;background:linear-gradient(90deg,#edf2f5 0px,#acd2e5 3px,#68abd0 6px,#529dc8 9px,#75b2d4 12px,#bddbea 15px,#f8f3f0 18px,#f7b99c 21px,#dd7059 24px,#cf5246 27px,#da6853 30px,#f5ac8b 33px,#f9ede5 36px,#c2ddec 39px,#65a9cf 42px,#3a87bd 45px,#3b88be 48px,#6bacd1 51px,#c2ddec 54px,#f8f3f0 57px,#fbccb4 60px,#f5aa89 63px,#f6b191 66px,#fcd7c2 69px,#f3f5f6 72px,#b8d8e9 75px,#75b2d4 78px,#529dc8 81px,#68abd0 84px,#b1d5e7 87px,#f3f5f6 90px,#f9c4a9 93px)"></div><div style="top:169px;background:linear-gradient(90deg,#ecf2f5 0px,#a9d1e5 3px,#65a9cf 6px,#4c99c6 9px,#71b0d3 12px,#bbdaea 15px,#f8f3f0 18px,#f7b99c 21px,#dd7059 24px,#ce4f45 27px,#d7634f 30px,#f5a886 33px,#faeae1 36px,#c7e0ed 39px,#6eaed2 42px,#3e8cbf 45px,#3f8ec0 48px,#75b2d4 51px,#c7e0ed 54px,#f8f1ed 57px,#facab1 60px,#f5aa89 63px,#f6b191 66px,#fdd9c4 69px,#f2f5f6 72px,#b6d7e8 75px,#71b0d3 78px,#4f9bc7 81px,#68abd0 84px,#b1d5e7 87px,#f3f5f6 90px,#f9c2a7 93px)"></div><div style="top:170px;background:linear-gradient(90deg,#ecf2f5 0px,#a7d0e4 3px,#62a7ce 6px,#4997c5 9px,#6bacd1 12px,#b8d8e9 15px,#f8f4f2 18px,#f7b99c 21px,#dd7059 24px,#cc4c44 27px,#d6604d 30px,#f3a481 33px,#fae8de 36px,#cfe4ef 39px,#78b4d5 42px,#4291c2 45px,#4393c3 48px,#7eb8d7 51px,#cce2ef 54px,#f9efe9 57px,#f9c6ac 60px,#f5a886 63px,#f6af8e 66px,#fdd9c4 69px,#f2f5f6 72px,#b6d7e8 75px,#6eaed2 78px,#4f9bc7 81px,#68abd0 84px,#b1d5e7 87px,#f5f6f7 90px,#f9c2a7 93px)"></div><div style="top:171px;background:linear-gradient(90deg,#eaf1f5 0px,#a7d0e4 3px,#5fa5cd 6px,#4695c4 9px,#68abd0 12px,#b6d7e8 15px,#f8f4f2 18px,#f7b99c 21px,#dc6e57 24px,#cb4942 27px,#d55d4c 30px,#f2a17f 33px,#fbe6da 36px,#d4e6f1 39px,#81bad8 42px,#4997c5 45px,#4c99c6 48px,#87beda 51px,#d2e6f0 54px,#f9ede5 57px,#f9c2a7 60px,#f3a481 63px,#f5ac8b 66px,#fcd7c2 69px,#f2f5f6 72px,#b6d7e8 75px,#6eaed2 78px,#4c99c6 81px,#65a9cf 84px,#aed3e6 87px,#f5f6f7 90px,#f9c2a7 93px)"></div><div style="top:172px;background:linear-gradient(90deg,#eaf1f5 0px,#a5cee3 3px,#5ca3cb 6px,#4393c3 9px,#65a9cf 12px,#b3d6e8 15px,#f7f5f4 18px,#f8bb9e 21px,#dd7059 24px,#cb4942 27px,#d35a4a 30px,#f09c7b 33px,#fbe4d6 36px,#d7e8f1 39px,#8ac0db 42px,#529dc8 45px,#59a1ca 48px,#90c4dd 51px,#d8e9f1 54px,#fae9df 57px,#f8bda1 60px,#f19e7d 63px,#f5aa89 66px,#fcd5bf 69px,#f2f5f6 72px,#b6d7e8 75px,#6eaed2 78px,#4c99c6 81px,#65a9cf 84px,#aed3e6 87px,#f3f5f6 90px,#f9c2a7 93px)"></div><div style="top:173px;background:linear-gradient(90deg,#ecf2f5 0px,#a5cee3 3px,#59a1ca 6px,#4291c2 9px,#62a7ce 12px,#b1d5e7 15px,#f7f6f6 18px,#f8bda1 21px,#dd7059 24px,#cb4942 27px,#d25849 30px,#ef9979 33px,#fce2d2 36px,#dae9f2 39px,#93c6de 42px,#5fa5cd 45px,#62a7ce 48px,#9bc9e0 51px,#ddebf2 54px,#fbe5d8 57px,#f7b799 60px,#ef9979 63px,#f4a683 66px,#fcd3bc 69px,#f3f5f6 72px,#b6d7e8 75px,#6bacd1 78px,#4997c5 81px,#62a7ce 84px,#acd2e5 87px,#f3f5f6 90px,#f9c2a7 93px)"></div><div style="top:174px;background:linear-gradient(90deg,#ecf2f5 0px,#a5cee3 3px,#59a1ca 6px,#408fc1 9px,#5fa5cd 12px,#aed3e6 15px,#f6f7f7 18px,#f8bfa4 21px,#de735c 24px,#cb4942 27px,#d25849 30px,#ee9677 33px,#fcdfcf 36px,#ddebf2 39px,#98c8e0 42px,#68abd0 45px,#6eaed2 48px,#a5cee3 51px,#e3edf3 54px,#fce2d2 57px,#f6af8e 60px,#eb9172 63px,#f19e7d 66px,#fbceb7 69px,#f5f6f7 72px,#b6d7e8 75px,#6bacd1 78px,#4997c5 81px,#62a7ce 84px,#acd2e5 87px,#f2f5f6 90px,#f9c2a7 93px)"></div><div style="top:175px;background:linear-gradient(90deg,#ecf2f5 0px,#a5cee3 3px,#569fc9 6px,#3f8ec0 9px,#59a1ca 12px,#acd2e5 15px,#f3f5f6 18px,#f9c2a7 21px,#de735c 24px,#cb4942 27px,#d25849 30px,#ee9677 33px,#fcdecd 36px,#e0ecf3 39px,#a0cce2 42px,#71b0d3 45px,#78b4d5 48px,#acd2e5 51px,#e9f0f4 54px,#fdddcb 57px,#f5a886 60px,#e8896c 63px,#ef9979 66px,#facab1 69px,#f6f7f7 72px,#b8d8e9 75px,#6eaed2 78px,#4997c5 81px,#5fa5cd 84px,#a9d1e5 87px,#f2f5f6 90px,#f9c4a9 93px)"></div><div style="top:176px;background:linear-gradient(90deg,#edf2f5 0px,#a5cee3 3px,#569fc9 6px,#3e8cbf 9px,#569fc9 12px,#a7d0e4 15px,#f2f5f6 18px,#f9c4a9 21px,#df765e 24px,#cc4c44 27px,#d25849 30px,#ec9374 33px,#fdddcb 36px,#e3edf3 39px,#a5cee3 42px,#78b4d5 45px,#81bad8 48px,#b6d7e8 51px,#eff3f5 54px,#fcd7c2 57px,#f19e7d 60px,#e48066 63px,#eb9172 66px,#f9c6ac 69px,#f7f5f4 72px,#bbdaea 75px,#6eaed2 78px,#4695c4 81px,#5ca3cb 84px,#a7d0e4 87px,#eff3f5 90px,#f9c6ac 93px)"></div><div style="top:177px;background:linear-gradient(90deg,#edf2f5 0px,#a5cee3 3px,#529dc8 6px,#3c8abe 9px,#529dc8 12px,#a5cee3 15px,#f0f4f6 18px,#f9c6ac 21px,#e27b62 24px,#ce4f45 27px,#d35a4a 30px,#ee9677 33px,#fdddcb 36px,#e4eef4 39px,#a9d1e5 42px,#81bad8 45px,#8ac0db 48px,#bddbea 51px,#f3f5f6 54px,#fbceb7 57px,#ec9374 60px,#df765e 63px,#e8896c 66px,#f9c2a7 69px,#f8f4f2 72px,#bddbea 75px,#6eaed2 78px,#4695c4 81px,#5ca3cb 84px,#a5cee3 87px,#edf2f5 90px,#fac8af 93px)"></div><div style="top:178px;background:linear-gradient(90deg,#eff3f5 0px,#a5cee3 3px,#529dc8 6px,#3c8abe 9px,#529dc8 12px,#a2cde3 15px,#edf2f5 18px,#facab1 21px,#e37e64 24px,#cf5246 27px,#d55d4c 30px,#ee9677 33px,#fdddcb 36px,#e6eff4 39px,#acd2e5 42px,#87beda 45px,#93c6de 48px,#c7e0ed 51px,#f7f5f4 54px,#fac8af 57px,#e98b6e 60px,#dc6e57 63px,#e48066 66px,#f8bb9e 69px,#f8f2ef 72px,#c0dceb 75px,#6eaed2 78px,#4695c4 81px,#59a1ca 84px,#a2cde3 87px,#ecf2f5 90px,#fbccb4 93px)"></div><div style="top:179px;background:linear-gradient(90deg,#f0f4f6 0px,#a7d0e4 3px,#529dc8 6px,#3c8abe 9px,#4f9bc7 12px,#a0cce2 15px,#ecf2f5 18px,#fbccb4 21px,#e58368 24px,#d25849 27px,#d6604d 30px,#ef9979 33px,#fdddcb 36px,#e6eff4 39px,#aed3e6 42px,#8ac0db 45px,#98c8e0 48px,#cce2ef 51px,#f8f2ef 54px,#f8bfa4 57px,#e48066 60px,#d7634f 63px,#e17860 66px,#f7b799 69px,#f9f0eb 72px,#c2ddec 75px,#71b0d3 78px,#4695c4 81px,#569fc9 84px,#9dcbe1 87px,#e9f0f4 90px,#fbceb7 93px)"></div><div style="top:180px;background:linear-gradient(90deg,#f2f5f6 0px,#a7d0e4 3px,#569fc9 6px,#3b88be 9px,#4c99c6 12px,#9dcbe1 15px,#eaf1f5 18px,#fbd0b9 21px,#e6866a 24px,#d35a4a 27px,#d7634f 30px,#f09c7b 33px,#fcdecd 36px,#e6eff4 39px,#aed3e6 42px,#90c4dd 45px,#9dcbe1 48px,#d2e6f0 51px,#f9efe9 54px,#f7b99c 57px,#e17860 60px,#d35a4a 63px,#dd7059 66px,#f6b191 69px,#f9eee7 72px,#c5dfec 75px,#71b0d3 78px,#4393c3 81px,#529dc8 84px,#9bc9e0 87px,#e7f0f4 90px,#fcd3bc 93px)"></div><div style="top:181px;background:linear-gradient(90deg,#f3f5f6 0px,#a9d1e5 3px,#569fc9 6px,#3b88be 9px,#4c99c6 12px,#9bc9e0 15px,#e7f0f4 18px,#fcd3bc 21px,#e98b6e 24px,#d6604d 27px,#da6853 30px,#f2a17f 33px,#fcdfcf 36px,#e4eef4 39px,#aed3e6 42px,#90c4dd 45px,#a0cce2 48px,#d5e7f1 51px,#f9ebe3 54px,#f6b394 57px,#dd7059 60px,#cf5246 63px,#da6853 66px,#f5ac8b 69px,#f9ebe3 72px,#c7e0ed 75px,#75b2d4 78px,#4393c3 81px,#4f9bc7 84px,#96c7df 87px,#e4eef4 90px,#fcd7c2 93px)"></div><div style="top:182px;background:linear-gradient(90deg,#f5f6f7 0px,#acd2e5 3px,#59a1ca 6px,#3b88be 9px,#4997c5 12px,#98c8e0 15px,#e6eff4 18px,#fcd7c2 21px,#eb9172 24px,#d86551 27px,#dc6e57 30px,#f3a481 33px,#fce2d2 36px,#e3edf3 39px,#aed3e6 42px,#90c4dd 45px,#a2cde3 48px,#d7e8f1 51px,#fae9df 54px,#f5ac8b 57px,#da6853 60px,#cb4942 63px,#d6604d 66px,#f5a886 69px,#fae9df 72px,#cce2ef 75px,#75b2d4 78px,#4393c3 81px,#4c99c6 84px,#93c6de 87px,#e1edf3 90px,#fddbc7 93px)"></div><div style="top:183px;background:linear-gradient(90deg,#f6f7f7 0px,#aed3e6 3px,#59a1ca 6px,#3c8abe 9px,#4997c5 12px,#98c8e0 15px,#e4eef4 18px,#fdd9c4 21px,#ec9374 24px,#db6b55 27px,#de735c 30px,#f5a886 33px,#fbe4d6 36px,#e0ecf3 39px,#acd2e5 42px,#90c4dd 45px,#a2cde3 48px,#d8e9f1 51px,#fae8de 54px,#f5a886 57px,#d6604d 60px,#c6413e 63px,#d35a4a 66px,#f2a17f 69px,#fae8de 72px,#cfe4ef 75px,#78b4d5 78px,#4393c3 81px,#4997c5 84px,#90c4dd 87px,#deebf2 90px,#fdddcb 93px)"></div><div style="top:184px;background:linear-gradient(90deg,#f7f6f6 0px,#b1d5e7 3px,#5ca3cb 6px,#3c8abe 9px,#4997c5 12px,#96c7df 15px,#e3edf3 18px,#fddbc7 21px,#ef9979 24px,#dd7059 27px,#e17860 30px,#f6af8e 33px,#fbe6da 36px,#ddebf2 39px,#a7d0e4 42px,#8dc2dc 45px,#a2cde3 48px,#dae9f2 51px,#fae7dc 54px,#f4a683 57px,#d35a4a 60px,#c43b3c 63px,#d05548 66px,#f09c7b 69px,#fbe6da 72px,#d1e5f0 75px,#78b4d5 78px,#4291c2 81px,#4997c5 84px,#8ac0db 87px,#dbeaf2 90px,#fce0d0 93px)"></div></div>
<div class="cb"></div>
<svg width="448" height="252" viewBox="0 0 448 252">
<g fill="none" stroke="#000" stroke-width="0.9">
 <rect x="53.5" y="23.7" width="184" height="184.3"/>
 <rect x="356" y="23.7" width="184" height="184.3"/>
 <rect x="245" y="23.7" width="10" height="184.3"/>
 <!-- left y ticks -->
 <path d="M53.5 41.90h-4.2M53.5 78.75h-4.2M53.5 115.60h-4.2M53.5 152.45h-4.2M53.5 189.30h-4.2"/>
 <path d="M71.9 208v4.2M108.7 208v4.2M145.5 208v4.2M182.3 208v4.2M219.1 208v4.2"/>
 <path d="M356 41.90h-4.2M356 78.75h-4.2M356 115.60h-4.2M356 152.45h-4.2M356 189.30h-4.2"/>
 <path d="M374.1 208v4.2M410.9 208v4.2M447.7 208v4.2"/>
 <path d="M255.5 34.20h4.2M255.5 61.32h4.2M255.5 88.44h4.2M255.5 115.56h4.2M255.5 142.68h4.2M255.5 169.80h4.2M255.5 196.92h4.2"/>
</g>
<!-- inset boxes and connectors -->
<g fill="none" stroke="#7a7672" stroke-width="1.25">
 <rect x="142.2" y="64.6" width="38.8" height="47.2"/>
 <path d="M145.8 208V115.8H237.5"/>
 <path d="M142.2 64.6L-2 76.9M181 64.6L-2 80M142.2 111.8L-2 163.4M181 111.8L-2 209"/>
</g>
<!-- shape contours -->
<g id="shape" fill="none" stroke="#000" stroke-width="1.9" stroke-linejoin="round">
 <path d="M177.3 84.9C173 83.5 168 81 162.2 78.7C158 76 153 72 149.5 70.8C146 69.6 142.4 69.2 138 69.5C133 70 128 71.5 125.4 72.7C121 74.5 117.5 77.5 114 81C110.5 85 108 90 107.1 95C105.8 100 105.5 107 105.6 114C105.8 120 106.5 126 108 132C110 138 113 145 115.9 149.6L119.4 155.2C120.5 154 121.5 152.5 122.2 151.2C123.5 149 124.5 147.5 126 146C128 144.3 131 143 134 141.8C136.5 140.5 138.5 138.8 140.4 136.6C138.5 135.5 135 134.8 132 133.8C128.5 132.5 125.5 130 123.8 126.6C122.3 123 122 119 122.7 116C124 111.5 127 108.7 130.5 107.6C134 106.5 138 106.5 142 107.3C146.5 108.2 150.5 111 153.5 115.1C155.5 118.5 156.2 122.5 155.9 126.5C155.6 129 154.5 130.5 154.3 132C154.3 134 155 135.7 157.3 136.4C160 137 162.5 135.2 165 135.6C168 136.2 170.5 139 171.2 142.5C171.8 146 171.3 150 170 153.5C169.2 156 168 157.8 167 159.1C169 158.5 170.5 157.5 171.7 156.7C174 155 176.5 152 178.2 148C179.5 144 179 139.5 177.5 135.5C176 131 173.5 128 171.5 125.5C168.5 121.5 166 117.5 164.4 113.5C163 109 162.8 105 163.5 101.3C164.2 98 165 96 166.2 94.2C168 91.8 170.5 89.5 173.3 87.5C174.8 86.5 176 85.6 177.3 84.9Z"/>
 <circle cx="148.5" cy="83.8" r="4.6"/>
 <path d="M129 160.2C129 158.6 131 158.2 133 158.2C135 158.2 136.7 158.8 136.7 160.1C136.7 161.4 134.8 161.7 132.8 161.7C130.8 161.7 129 161.5 129 160.2Z"/>
 <path d="M147.8 160.6C147.8 159.3 149.3 159.4 150.8 159.4C152.3 159.4 153.3 160 153.8 160.8L154.6 162.3C153 161.6 151.5 161.6 150 161.7C148.8 161.7 147.8 161.5 147.8 160.6Z"/>
</g>
<use href="#shape" x="302.2"/>
<!-- arrow -->
<g stroke="#000" fill="none" stroke-width="0.9">
 <path d="M254.3 217.3L194.5 165.4"/>
</g>
<path d="M193.3 164.3L199.5 166.6L197.2 169.2Z" fill="#000"/>
<!-- annotation box -->
<rect x="251.1" y="216.4" width="97.2" height="34.3" rx="5.5" ry="5.5" fill="#dcdcdc" stroke="#9a9a9a" stroke-width="0.9"/>
<text class="serif" x="257" y="229.6" font-size="14.2" textLength="84.5" lengthAdjust="spacingAndGlyphs">largest trained</text>
<text class="serif" x="265.3" y="245.7" font-size="14.2" textLength="69" lengthAdjust="spacingAndGlyphs">domainsize</text>
<!-- titles -->
<text x="145.5" y="16.8" font-size="15" text-anchor="middle">net result</text>
<text x="401" y="16.8" font-size="15">ground truth</text>
<text class="serif" x="242" y="13.5" font-size="19" textLength="12.4" lengthAdjust="spacingAndGlyphs">E</text>
<text class="serif" x="253.2" y="17.5" font-size="14">z</text>
<!-- tick labels left -->
<g class="tk" text-anchor="end">
 <text x="44.9" y="46.20">2</text><text x="44.9" y="83.05">1</text><text x="44.9" y="119.90">0</text><text x="44.9" y="156.75">−1</text><text x="44.9" y="193.60">−2</text>
 <text x="347.4" y="46.20">2</text><text x="347.4" y="83.05">1</text><text x="347.4" y="119.90">0</text><text x="347.4" y="156.75">−1</text><text x="347.4" y="193.60">−2</text>
</g>
<g class="tk" text-anchor="middle">
 <text x="71.9" y="225.5">−2</text><text x="108.7" y="225.5">−1</text><text x="145.5" y="225.5">0</text><text x="182.3" y="225.5">1</text><text x="219.1" y="225.5">2</text>
 <text x="374.1" y="225.5">−2</text><text x="410.9" y="225.5">−1</text><text x="447.7" y="225.5">0</text>
</g>
<g class="tk">
 <text x="263.3" y="38.80">0.75</text><text x="263.3" y="65.92">0.50</text><text x="263.3" y="93.04">0.25</text><text x="263.3" y="120.16">0.00</text><text x="263.3" y="147.28">−0.25</text><text x="263.3" y="174.40">−0.50</text><text x="263.3" y="201.52">−0.75</text>
</g>
<!-- axis labels -->
<text class="tk" x="142.5" y="243.8" text-anchor="middle">x in <tspan font-style="italic">μ</tspan>m</text>
<text class="tk" x="428" y="243.8">x in <tspan font-style="italic">μ</tspan>m</text>
<text class="tk" transform="translate(25.4 114.2) rotate(-90)" text-anchor="middle">y in <tspan font-style="italic">μ</tspan>m</text>
<text class="tk" transform="translate(326.3 119.1) rotate(-90)" text-anchor="middle">y in <tspan font-style="italic">μ</tspan>m</text>
</svg>
</body></html>
